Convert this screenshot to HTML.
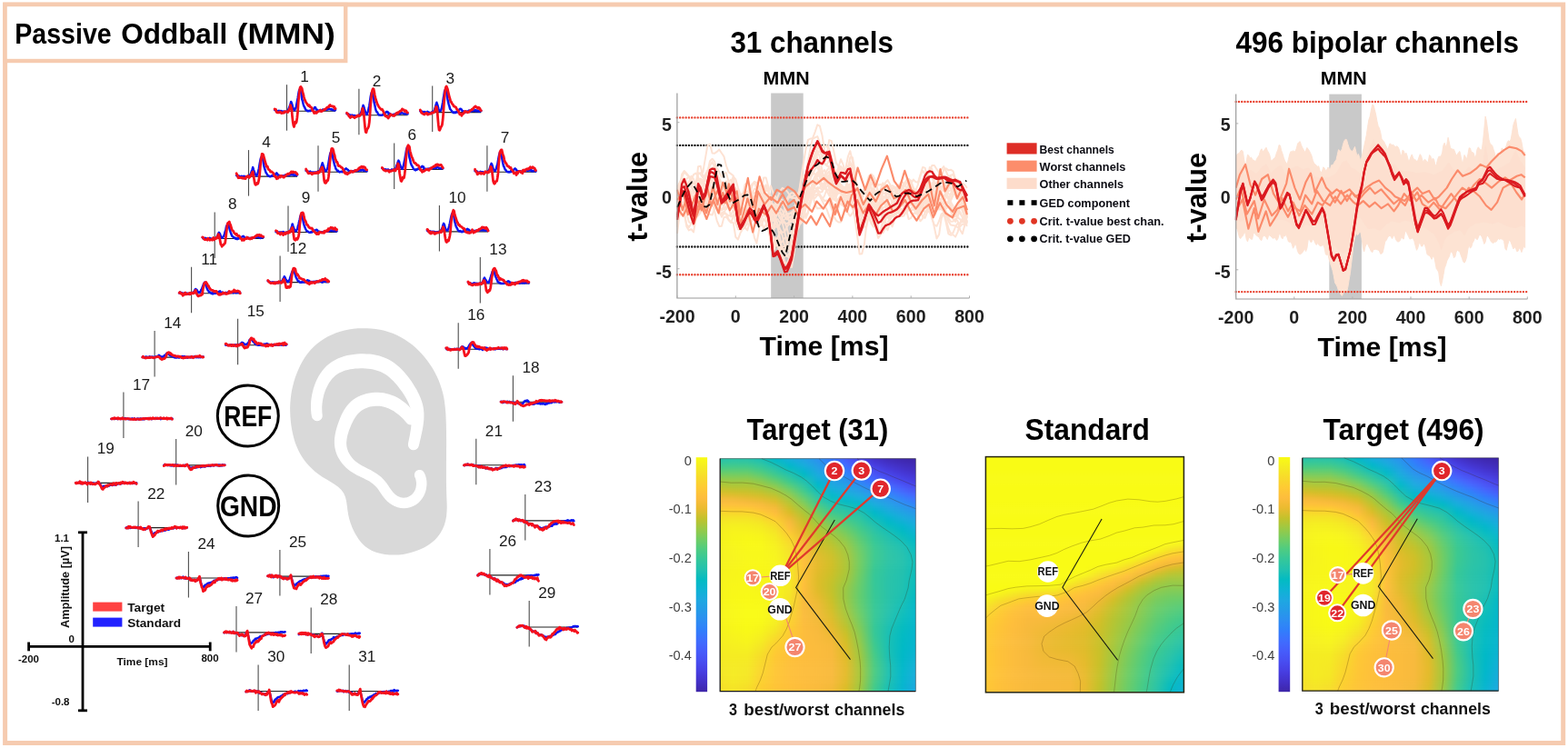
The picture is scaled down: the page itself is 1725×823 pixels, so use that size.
<!DOCTYPE html>
<html lang="en"><head><meta charset="utf-8"><title>Passive Oddball (MMN)</title>
<style>html,body{margin:0;padding:0;background:#fff;overflow:hidden}svg{display:block}</style></head>
<body>
<svg width="1725" height="823" viewBox="0 0 1725 823" font-family='"Liberation Sans", sans-serif'>
<rect x="0" y="0" width="1725" height="823" fill="#fff"/><rect x="5.6" y="5" width="1714.1" height="812.5" fill="none" stroke="#f6cbb0" stroke-width="5"/><rect x="5.6" y="5" width="374.6" height="62" fill="#fff" stroke="#f6cbb0" stroke-width="4.4"/><text y="47.5" font-size="30.6" font-weight="bold" fill="#000"><tspan x="16.3" textLength="106.4" lengthAdjust="spacingAndGlyphs">Passive</tspan> <tspan x="133.2" textLength="117.2" lengthAdjust="spacingAndGlyphs">Oddball</tspan> <tspan x="260.8" textLength="108" lengthAdjust="spacingAndGlyphs">(MMN)</tspan></text>
<path d="M403.4,361.2 L408.3,361.5 L413.2,362 L418,362.8 L422.8,363.8 L427.5,365.2 L432.1,366.8 L436.6,368.7 L440.9,370.9 L445.2,373.4 L449.2,376.2 L453.1,379.1 L456.9,382.3 L460.5,385.7 L463.9,389.2 L467.1,392.9 L470.1,396.7 L472.9,400.7 L475.6,404.8 L478,409 L480.3,413.4 L482.3,417.8 L484.1,422.4 L485.6,427 L487,431.7 L488.1,436.4 L488.9,441.2 L489.5,446.1 L490,450.9 L490.4,455.8 L490.6,460.7 L490.8,465.6 L490.9,470.4 L491,475.3 L491,480.2 L491.1,485.1 L491.1,489.9 L491,494.8 L491,499.6 L491,504.5 L490.9,509.4 L490.9,514.2 L490.9,519.1 L490.9,523.9 L490.9,528.8 L491,533.7 L491.1,538.6 L491.2,543.5 L491.4,548.4 L491.6,553.3 L491.7,558.2 L491.5,563.1 L491.1,567.9 L490.2,572.7 L488.9,577.4 L487,582 L484.7,586.3 L481.8,590.3 L478.5,593.9 L474.9,597.1 L470.8,599.9 L466.5,602.4 L462.1,604.5 L457.5,606.3 L452.8,607.8 L448.1,609 L443.3,609.9 L438.4,610.4 L433.5,610.6 L428.5,610.5 L423.5,610 L418.6,609.1 L413.8,607.8 L409.3,606 L405,603.6 L401.2,600.7 L397.7,597.3 L394.7,593.4 L392,589.3 L389.6,584.9 L387.5,580.5 L385.8,575.9 L384.3,571.3 L383.2,566.5 L382.4,561.6 L381.8,556.6 L381.1,551.7 L380,547 L378.2,542.8 L375.5,539.1 L372.1,535.8 L368.2,532.9 L363.9,530.2 L359.4,527.6 L355,524.9 L350.7,522 L346.7,518.9 L343,515.6 L339.5,512.1 L336.4,508.4 L333.5,504.6 L330.9,500.5 L328.6,496.3 L326.6,491.8 L324.8,487.3 L323.4,482.6 L322.2,477.8 L321.2,473 L320.4,468.2 L319.8,463.3 L319.4,458.4 L319.2,453.6 L319.1,448.7 L319.3,443.8 L319.7,439 L320.3,434.1 L321.1,429.3 L322.2,424.5 L323.4,419.8 L324.9,415.1 L326.6,410.5 L328.5,405.9 L330.6,401.5 L332.9,397.2 L335.5,393 L338.4,389 L341.5,385.3 L344.9,381.7 L348.5,378.5 L352.4,375.5 L356.5,372.7 L360.7,370.3 L365.2,368.2 L369.7,366.3 L374.4,364.7 L379.1,363.5 L383.9,362.5 L388.7,361.8 L393.6,361.3 L398.5,361.2Z" fill="#d9d9d9"/><path d="M354.7,456.4 L354.4,453.7 L354.3,451 L354.2,448.3 L354.4,445.4 L354.7,442.6 L355.1,439.7 L355.7,436.9 L356.4,434.1 L357.3,431.3 L358.3,428.6 L359.5,426 L360.8,423.5 L362.2,421.1 L363.7,418.9 L365.3,416.8 L367.1,415 L368.9,413.3 L370.9,411.8 L372.9,410.5 L375.1,409.4 L377.4,408.4 L379.9,407.6 L382.5,406.9 L385.2,406.3 L387.9,405.9 L390.8,405.6 L393.7,405.4 L396.6,405.3 L399.5,405.3 L402.3,405.4 L405.1,405.7 L407.9,406.1 L410.5,406.5 L413.1,407.2 L415.6,407.9 L417.9,408.8 L420.2,409.8 L422.4,411 L424.6,412.3 L426.7,413.8 L428.7,415.5 L430.8,417.4 L432.8,419.3 L434.7,421.4 L436.6,423.6 L438.5,426 L440.3,428.4 L442.1,430.8 L443.8,433.3 L445.3,435.8 L446.8,438.3 L448.1,440.7 L449.3,443.2 L450.3,445.7 L451.2,448.2 L451.8,450.7 L452.3,453.2 L452.7,455.7 L452.8,458.4 L452.9,461.2 L452.8,464 L452.5,466.9 L452.2,469.9 L451.8,472.9 L451.3,475.9 L450.8,478.9 L450.2,482 L449.6,485.1 L449,488.1 L449,488.1 L449,490.2 L449.6,492.1 L450.9,493.8 L452.7,494.9 L454.7,495.3 L456.8,495 L458.6,494 L460,492.5 L460.8,490.5 L460.8,490.5 L461.5,487.6 L462.2,484.6 L462.9,481.5 L463.6,478.3 L464.3,475.1 L464.9,471.9 L465.5,468.5 L465.9,465.2 L466.3,461.8 L466.4,458.3 L466.4,454.8 L466.1,451.3 L465.6,447.8 L464.8,444.3 L463.8,441 L462.6,437.7 L461.2,434.5 L459.7,431.4 L458.1,428.3 L456.3,425.4 L454.5,422.5 L452.6,419.6 L450.6,416.8 L448.5,414.1 L446.4,411.4 L444.1,408.8 L441.7,406.2 L439.1,403.8 L436.4,401.5 L433.6,399.3 L430.6,397.3 L427.5,395.5 L424.2,394 L420.8,392.7 L417.4,391.6 L413.9,390.7 L410.4,390.1 L406.8,389.6 L403.3,389.4 L399.7,389.3 L396.2,389.3 L392.6,389.5 L389,389.9 L385.5,390.4 L382,391.1 L378.4,392.1 L375,393.2 L371.6,394.6 L368.4,396.2 L365.2,398 L362.2,400.2 L359.4,402.6 L356.8,405.2 L354.5,408 L352.4,411 L350.5,414.1 L348.8,417.3 L347.3,420.5 L346,423.9 L344.9,427.3 L344,430.8 L343.2,434.3 L342.6,437.8 L342.2,441.3 L342,444.8 L342,448.2 L342.1,451.6 L342.4,454.9 L342.9,458 L342.9,458 L343.5,460 L344.8,461.6 L346.5,462.7 L348.6,463.2 L350.6,462.9 L352.5,461.9 L353.9,460.4 L354.7,458.5 L354.7,456.4Z" fill="#fff"/><path d="M457.4,457.4 L456,455 L454.4,452.5 L452.6,450.2 L450.7,447.9 L448.6,445.8 L446.4,443.8 L444,441.9 L441.6,440.2 L439,438.6 L436.4,437.1 L433.7,435.8 L430.8,434.7 L428,433.7 L425,432.9 L422,432.3 L418.9,431.9 L415.8,431.7 L412.7,431.7 L409.5,431.9 L406.4,432.4 L403.3,433 L400.3,433.9 L397.3,435 L394.4,436.3 L391.6,437.8 L388.9,439.6 L386.4,441.6 L384.2,443.8 L382.1,446.1 L380.3,448.5 L378.6,451.1 L377.1,453.7 L375.8,456.3 L374.6,459 L373.5,461.7 L372.5,464.4 L371.6,467.1 L370.7,469.8 L369.9,472.6 L369.2,475.5 L368.6,478.4 L368.2,481.3 L367.9,484.3 L367.9,487.4 L368.1,490.4 L368.6,493.5 L369.3,496.5 L370.3,499.5 L371.6,502.4 L373.1,505.1 L374.8,507.7 L376.7,510.2 L378.7,512.5 L380.9,514.7 L383.2,516.7 L385.6,518.5 L388,520.1 L390.5,521.6 L393,522.9 L395.4,524.1 L397.8,525.2 L400.1,526.3 L402.3,527.4 L404.4,528.5 L406.4,529.6 L408.3,530.9 L410.1,532.2 L411.8,533.7 L413.4,535.2 L414.8,536.8 L416.1,538.5 L417.4,540.4 L418.8,542.5 L420.3,544.8 L422,547.1 L424,549.5 L426.2,551.7 L428.7,553.8 L431.4,555.6 L434.3,557.1 L437.5,558.3 L440.8,559 L444.3,559.2 L447.7,558.9 L451.1,558.2 L454.3,557 L457.3,555.4 L460.1,553.4 L462.5,551 L464.6,548.3 L466.3,545.5 L467.6,542.5 L468.6,539.3 L469.2,536.1 L469.5,532.8 L469.4,529.6 L468.9,526.3 L468,523.1 L466.9,520.4 L466.9,520.4 L465.8,518.7 L464.3,517.5 L462.3,516.9 L460.4,517 L458.5,517.8 L457,519.1 L456.1,520.9 L455.9,522.9 L456.3,524.8 L456.3,524.8 L457.2,526.8 L457.6,528.7 L457.9,530.6 L458,532.6 L457.8,534.6 L457.5,536.5 L456.9,538.4 L456.1,540.2 L455.1,541.8 L454,543.3 L452.7,544.5 L451.2,545.6 L449.5,546.5 L447.8,547.2 L445.9,547.6 L444.2,547.7 L442.4,547.6 L440.7,547.3 L439,546.6 L437.2,545.7 L435.5,544.6 L434,543.3 L432.5,541.8 L431.1,540.1 L429.8,538.2 L428.4,536.2 L427,534 L425.4,531.7 L423.6,529.4 L421.6,527.2 L419.5,525.1 L417.2,523.2 L414.9,521.5 L412.5,519.9 L410,518.4 L407.6,517.1 L405.2,515.9 L402.9,514.7 L400.6,513.6 L398.5,512.5 L396.4,511.3 L394.5,510.1 L392.7,508.8 L391,507.4 L389.3,505.9 L387.8,504.2 L386.4,502.5 L385.2,500.7 L384.1,498.8 L383.1,496.9 L382.4,495 L381.8,493.1 L381.4,491.2 L381.2,489.2 L381.1,487.2 L381.3,485.2 L381.5,483 L381.9,480.9 L382.4,478.6 L383.1,476.4 L383.8,474 L384.7,471.7 L385.6,469.4 L386.6,467.1 L387.6,464.9 L388.7,462.8 L389.8,460.8 L391,458.9 L392.2,457.2 L393.5,455.6 L394.8,454.2 L396.2,452.9 L397.7,451.8 L399.4,450.7 L401.1,449.8 L403,448.9 L404.9,448.2 L407,447.6 L409,447.2 L411.1,446.9 L413.2,446.7 L415.3,446.7 L417.4,446.8 L419.5,447.1 L421.6,447.6 L423.6,448.1 L425.7,448.8 L427.7,449.6 L429.6,450.5 L431.6,451.5 L433.5,452.6 L435.3,453.9 L437.1,455.2 L438.8,456.5 L440.5,458 L442.1,459.5 L443.7,461.1 L445.1,462.8 L446.6,464.6 L446.6,464.6 L448.2,466.3 L450.2,467.2 L452.5,467.5 L454.6,466.9 L456.5,465.7 L457.8,463.9 L458.5,461.7 L458.3,459.4 L457.4,457.4Z" fill="#fff"/>
<g><line x1="315.5" y1="93.2" x2="315.5" y2="143.7" stroke="#4d4d4d" stroke-width="1.1"/><line x1="315.5" y1="122.2" x2="369.1" y2="122.2" stroke="#222" stroke-width="1.1"/><polyline points="302.1,120.8 302.8,121 303.4,121.5 304.1,122 304.8,122.1 305.4,122.5 306.1,122.2 306.8,121.7 307.5,122.4 308.1,122.4 308.8,122 309.5,122.2 310.1,122.4 310.8,122.9 311.5,122.7 312.1,122.5 312.8,123.1 313.5,122.7 314.2,123.1 314.8,122.8 315.5,122.8 316.2,121.8 316.8,121.8 317.5,120 318.2,118.1 318.9,116.2 319.5,114.8 320.2,111.9 320.9,113.6 321.5,115.5 322.2,118.6 322.9,120.3 323.5,121 324.2,121.2 324.9,119.4 325.6,118.6 326.2,115.2 326.9,111.5 327.6,108 328.2,104.1 328.9,100.3 329.6,98.5 330.2,98.4 330.9,100.3 331.6,103.5 332.2,109 332.9,111.2 333.6,114.3 334.3,116.6 334.9,117.6 335.6,119.1 336.3,120.7 336.9,121.1 337.6,121.4 338.3,122.3 338.9,122 339.6,122.2 340.3,122 341,121.6 341.6,122.1 342.3,121.5 343,121.5 343.6,120.7 344.3,120.5 345,119.7 345.6,119 346.3,118 347,118.2 347.7,120 348.3,120.8 349,120.7 349.7,122 350.3,121.8 351,121.7 351.7,121.2 352.4,121.4 353,121.8 353.7,121.6 354.4,121.3 355,120.5 355.7,121 356.4,120.9 357,120.6 357.7,120.7 358.4,120.7 359.1,120.9 359.7,120.4 360.4,120.5 361.1,119.8 361.7,119.9 362.4,120 363.1,119.9 363.7,120.4 364.4,120.1 365.1,120.7 365.8,120.6 366.4,121.3 367.1,120.7 367.8,121.4 368.4,121.5 369.1,120.9" stroke="#0a14f0" stroke-width="2.5" fill="none" stroke-linejoin="round" stroke-linecap="round"/><polyline points="302.1,119.9 302.8,120.5 303.4,120.4 304.1,123.2 304.8,123.8 305.4,123.7 306.1,123.9 306.8,123.9 307.5,123.7 308.1,122.9 308.8,123.4 309.5,124.6 310.1,124.4 310.8,124.1 311.5,124.4 312.1,123.4 312.8,123.9 313.5,122.7 314.2,122.9 314.8,122.8 315.5,123.1 316.2,122.6 316.8,123.4 317.5,122.2 318.2,120.2 318.9,120.1 319.5,115.7 320.2,117.7 320.9,120.4 321.5,127.8 322.2,134 322.9,138 323.5,139.5 324.2,136.7 324.9,134.1 325.6,135.3 326.2,134 326.9,129.4 327.6,122.7 328.2,112.7 328.9,105.6 329.6,99.4 330.2,96.2 330.9,95.4 331.6,96.6 332.2,97.4 332.9,101.2 333.6,103.4 334.3,106.5 334.9,108.9 335.6,110.5 336.3,111.9 336.9,112.9 337.6,114 338.3,114.8 338.9,116.1 339.6,116.5 340.3,115.8 341,117.4 341.6,117.9 342.3,118 343,118.7 343.6,121.6 344.3,121.9 345,123 345.6,124.5 346.3,123.4 347,124.1 347.7,124.4 348.3,124.3 349,123 349.7,123 350.3,122.4 351,122.4 351.7,122 352.4,121.1 353,122.6 353.7,122.6 354.4,122.2 355,121.9 355.7,121.4 356.4,120.5 357,120.7 357.7,120.4 358.4,120 359.1,118.7 359.7,118.4 360.4,117.9 361.1,117.8 361.7,117.8 362.4,116.1 363.1,115.6 363.7,116.6 364.4,116.6 365.1,116.8 365.8,116.9 366.4,116.9 367.1,117.8 367.8,117.5 368.4,119.9 369.1,119.5" stroke="#f5101c" stroke-width="2.8" fill="none" stroke-linejoin="round" stroke-linecap="round"/><text x="335.1" y="90.1" font-size="17.2" text-anchor="middle" fill="#1a1a1a">1</text></g>
<g><line x1="394.9" y1="97.8" x2="394.9" y2="148.3" stroke="#4d4d4d" stroke-width="1.1"/><line x1="394.9" y1="126.8" x2="448.5" y2="126.8" stroke="#222" stroke-width="1.1"/><polyline points="381.5,125.2 382.2,125.3 382.8,125.3 383.5,125.7 384.2,126.9 384.8,127.4 385.5,126.5 386.2,127.2 386.9,126.8 387.5,126.5 388.2,127.4 388.9,127.7 389.5,126.9 390.2,127.1 390.9,127.4 391.5,127.4 392.2,127.6 392.9,127.7 393.6,127.1 394.2,127.3 394.9,127.4 395.6,126.2 396.2,125.9 396.9,124.4 397.6,122.8 398.2,120.5 398.9,118.3 399.6,115.9 400.3,117.5 400.9,119.9 401.6,122.2 402.3,124.4 402.9,124.4 403.6,125.9 404.3,123.9 404.9,122.6 405.6,119.3 406.3,116.2 407,111.6 407.6,107.1 408.3,103.4 409,101.4 409.6,100.9 410.3,102.9 411,107.3 411.6,112.8 412.3,115.6 413,119.1 413.7,121.7 414.3,122.9 415,123.3 415.7,124.8 416.3,126 417,126.5 417.7,126.4 418.3,126.7 419,126.8 419.7,126.8 420.4,126.7 421,126.1 421.7,126 422.4,125.8 423,125.6 423.7,124.4 424.4,124.1 425,122.9 425.7,123.1 426.4,123 427.1,124 427.7,125.5 428.4,124.8 429.1,125.3 429.7,126.4 430.4,125.9 431.1,126.1 431.8,127.1 432.4,126.1 433.1,126 433.8,125.7 434.4,125.9 435.1,125.4 435.8,125.3 436.4,124.8 437.1,125 437.8,125.1 438.4,124.5 439.1,125.1 439.8,124.9 440.5,125.3 441.1,124 441.8,124.1 442.5,124.3 443.1,124.6 443.8,124.9 444.5,125.1 445.1,125.4 445.8,125.4 446.5,125.3 447.2,124.8 447.8,125.1 448.5,125.3" stroke="#0a14f0" stroke-width="2.5" fill="none" stroke-linejoin="round" stroke-linecap="round"/><polyline points="381.5,124.2 382.2,125.4 382.8,125.3 383.5,127.1 384.2,128.1 384.8,128.7 385.5,129.5 386.2,128.6 386.9,127.8 387.5,128.2 388.2,128.5 388.9,128.9 389.5,129.1 390.2,129.7 390.9,128.7 391.5,128.7 392.2,127.6 392.9,128.3 393.6,127.4 394.2,126.7 394.9,127.6 395.6,127.5 396.2,126.8 396.9,126.2 397.6,125.4 398.2,123 398.9,119.2 399.6,121 400.3,125.4 400.9,133.1 401.6,140.2 402.3,145.2 402.9,145.8 403.6,143 404.3,141.5 404.9,140.8 405.6,139 406.3,134.6 407,126.5 407.6,116.2 408.3,108.8 409,102.6 409.6,99.2 410.3,97.6 411,97.8 411.6,100.4 412.3,104.8 413,107.7 413.7,110.3 414.3,111.9 415,114.1 415.7,115.4 416.3,116.6 417,117.9 417.7,118.7 418.3,119.4 419,120.2 419.7,120.6 420.4,120.2 421,121.3 421.7,122.5 422.4,124.8 423,125.1 423.7,127.4 424.4,128.1 425,127.8 425.7,128.2 426.4,128.9 427.1,130.1 427.7,128.8 428.4,128.4 429.1,127 429.7,125.7 430.4,126.3 431.1,126.3 431.8,127.1 432.4,126.9 433.1,127.5 433.8,127.4 434.4,126.1 435.1,126.3 435.8,124.7 436.4,124.4 437.1,124.1 437.8,124.7 438.4,123.5 439.1,123.2 439.8,122.7 440.5,122 441.1,122 441.8,121.6 442.5,119.9 443.1,120.8 443.8,121 444.5,120.9 445.1,122.5 445.8,122.1 446.5,121.7 447.2,122.5 447.8,123.8 448.5,123.9" stroke="#f5101c" stroke-width="2.8" fill="none" stroke-linejoin="round" stroke-linecap="round"/><text x="414.5" y="94.7" font-size="17.2" text-anchor="middle" fill="#1a1a1a">2</text></g>
<g><line x1="475.7" y1="94.6" x2="475.7" y2="145.1" stroke="#4d4d4d" stroke-width="1.1"/><line x1="475.7" y1="123.6" x2="529.3" y2="123.6" stroke="#222" stroke-width="1.1"/><polyline points="462.3,122.1 463,122.9 463.6,123.1 464.3,122.7 465,123.1 465.6,124.3 466.3,123.1 467,123.4 467.7,123.1 468.3,123.7 469,123.7 469.7,124.1 470.3,122.9 471,124 471.7,123.5 472.3,124.4 473,124 473.7,124.5 474.4,124 475,123.4 475.7,124 476.4,122.8 477,122.6 477.7,121.8 478.4,119.5 479.1,117.4 479.7,114.9 480.4,112.8 481.1,114.8 481.7,116.7 482.4,119.6 483.1,121.8 483.7,122 484.4,121.9 485.1,121.6 485.8,119.5 486.4,116.5 487.1,113 487.8,108.2 488.4,104.6 489.1,100.1 489.8,98.9 490.4,97.9 491.1,100.6 491.8,104.7 492.4,108.9 493.1,112.4 493.8,115.1 494.5,117.4 495.1,119.9 495.8,120.6 496.5,121.6 497.1,122.1 497.8,123.3 498.5,123.6 499.1,124.2 499.8,123.4 500.5,124 501.2,124.1 501.8,123.2 502.5,122.6 503.2,123.3 503.8,122.4 504.5,121.6 505.2,121.1 505.8,120 506.5,119.8 507.2,120 507.9,120.6 508.5,122.1 509.2,122.1 509.9,123 510.5,123.4 511.2,123.7 511.9,122.4 512.5,123.1 513.2,122.9 513.9,122.8 514.6,122.5 515.2,122.4 515.9,121.5 516.6,122.5 517.2,122.6 517.9,122.3 518.6,122.4 519.2,121.6 519.9,121.5 520.6,122 521.3,122 521.9,121.5 522.6,120.8 523.3,122.4 523.9,121.4 524.6,122.2 525.3,121.6 526,122.5 526.6,122.2 527.3,122.7 528,122.5 528.6,121.7 529.3,121.9" stroke="#0a14f0" stroke-width="2.5" fill="none" stroke-linejoin="round" stroke-linecap="round"/><polyline points="462.3,120.9 463,122.3 463.6,124.1 464.3,124.4 465,125 465.6,125.3 466.3,125.7 467,126 467.7,125.1 468.3,124.8 469,124.4 469.7,124.5 470.3,126 471,126.1 471.7,125.4 472.3,125.4 473,125.3 473.7,124.7 474.4,125 475,124 475.7,124.2 476.4,123.8 477,123.8 477.7,123.4 478.4,122.2 479.1,120.3 479.7,117.5 480.4,117.7 481.1,122.2 481.7,130.3 482.4,137.9 483.1,143 483.7,143.3 484.4,141.6 485.1,139.7 485.8,138.9 486.4,137.2 487.1,132 487.8,123.8 488.4,114.4 489.1,106.3 489.8,99.6 490.4,96.1 491.1,94.9 491.8,96.5 492.4,98 493.1,101.3 493.8,104.4 494.5,107.3 495.1,108.9 495.8,112 496.5,112.2 497.1,113.6 497.8,114.6 498.5,115.4 499.1,116.8 499.8,117.2 500.5,117.4 501.2,117.9 501.8,118.4 502.5,120.2 503.2,120.5 503.8,121.5 504.5,122.6 505.2,124 505.8,125.9 506.5,124.8 507.2,125.7 507.9,127.3 508.5,125.1 509.2,125.6 509.9,124.9 510.5,124 511.2,122.5 511.9,122.9 512.5,123.1 513.2,122.7 513.9,123.3 514.6,123.7 515.2,123.2 515.9,123.1 516.6,122.5 517.2,121.6 517.9,121.4 518.6,121.2 519.2,120.1 519.9,120.4 520.6,119.4 521.3,118.3 521.9,117.9 522.6,117.1 523.3,117 523.9,117.8 524.6,117.8 525.3,118.9 526,119.4 526.6,118.3 527.3,118.7 528,119.4 528.6,121.3 529.3,121.5" stroke="#f5101c" stroke-width="2.8" fill="none" stroke-linejoin="round" stroke-linecap="round"/><text x="495.3" y="91.5" font-size="17.2" text-anchor="middle" fill="#1a1a1a">3</text></g>
<g><line x1="273.5" y1="165.1" x2="273.5" y2="215.6" stroke="#4d4d4d" stroke-width="1.1"/><line x1="273.5" y1="194.1" x2="327.1" y2="194.1" stroke="#222" stroke-width="1.1"/><polyline points="260.1,193.1 260.8,193.4 261.4,194.1 262.1,193.7 262.8,193.5 263.4,194 264.1,194.3 264.8,194.1 265.5,193.8 266.1,195.1 266.8,194.1 267.5,194 268.1,194.1 268.8,193.8 269.5,194.1 270.1,194.5 270.8,194.4 271.5,194.1 272.2,194.5 272.8,194.2 273.5,193.8 274.2,193 274.8,193.4 275.5,192.2 276.2,190.3 276.9,188.1 277.5,186.6 278.2,184.1 278.9,186.6 279.5,188.1 280.2,190.4 280.9,191.9 281.5,192.3 282.2,193.4 282.9,192.2 283.6,190.4 284.2,188 284.9,185.2 285.6,180.7 286.2,177.4 286.9,174.1 287.6,172.8 288.2,171.7 288.9,174.3 289.6,177.2 290.2,181.9 290.9,184.7 291.6,186.9 292.3,189 292.9,190.4 293.6,191.4 294.3,192.7 294.9,193.1 295.6,193.7 296.3,193.8 296.9,194.3 297.6,194.3 298.3,193.7 299,193.2 299.6,193.1 300.3,193.5 301,193.3 301.6,192.2 302.3,192.2 303,191.9 303.6,191.1 304.3,190.4 305,191.1 305.7,192.3 306.3,193.1 307,192.7 307.7,193.5 308.3,193.6 309,193.5 309.7,193.4 310.4,193.7 311,193.4 311.7,193.7 312.4,193.4 313,193.4 313.7,192.5 314.4,192.8 315,193 315.7,192.8 316.4,192.7 317.1,192.4 317.7,193.1 318.4,192.8 319.1,192.4 319.7,191.3 320.4,191.8 321.1,192.3 321.7,192.2 322.4,191.8 323.1,192.8 323.8,193 324.4,192.4 325.1,192.7 325.8,192.6 326.4,193 327.1,192.2" stroke="#0a14f0" stroke-width="2.5" fill="none" stroke-linejoin="round" stroke-linecap="round"/><polyline points="260.1,190.7 260.8,192.3 261.4,193.2 262.1,195.7 262.8,194.9 263.4,195.7 264.1,195.6 264.8,195.2 265.5,195.5 266.1,196 266.8,195.2 267.5,196.2 268.1,196.3 268.8,196.2 269.5,195.8 270.1,196.6 270.8,194.5 271.5,194.9 272.2,194.2 272.8,193.6 273.5,194.6 274.2,195.4 274.8,194.7 275.5,194.2 276.2,192.7 276.9,191.1 277.5,189.7 278.2,188.9 278.9,193.7 279.5,196.8 280.2,201 280.9,203.1 281.5,203.3 282.2,202.9 282.9,201.5 283.6,202.3 284.2,200.6 284.9,197 285.6,193 286.2,185.3 286.9,178.4 287.6,173.7 288.2,169.3 288.9,169.4 289.6,170.2 290.2,172.3 290.9,174.9 291.6,177.8 292.3,179.9 292.9,182.2 293.6,183.5 294.3,183.2 294.9,185.7 295.6,186.6 296.3,186.9 296.9,187.5 297.6,189.1 298.3,189.2 299,188.9 299.6,189.6 300.3,190.4 301,190.8 301.6,193.2 302.3,193.6 303,194.8 303.6,194.5 304.3,196.7 305,196.2 305.7,196.4 306.3,195.2 307,194.8 307.7,193.8 308.3,195 309,193.4 309.7,193.5 310.4,194.1 311,193.9 311.7,195.1 312.4,195.2 313,193.8 313.7,193.9 314.4,193.2 315,192.4 315.7,192.2 316.4,191.2 317.1,191.6 317.7,191.8 318.4,190.8 319.1,190.4 319.7,190.1 320.4,188.8 321.1,189 321.7,190 322.4,188.9 323.1,189.7 323.8,189.5 324.4,189.7 325.1,189.5 325.8,190.6 326.4,190.7 327.1,191.9" stroke="#f5101c" stroke-width="2.8" fill="none" stroke-linejoin="round" stroke-linecap="round"/><text x="293.1" y="162" font-size="17.2" text-anchor="middle" fill="#1a1a1a">4</text></g>
<g><line x1="350" y1="160.2" x2="350" y2="210.7" stroke="#4d4d4d" stroke-width="1.1"/><line x1="350" y1="189.2" x2="403.6" y2="189.2" stroke="#222" stroke-width="1.1"/><polyline points="336.6,187.8 337.3,188 337.9,188.9 338.6,188.7 339.3,189 339.9,189.1 340.6,189.7 341.3,188.6 342,189.2 342.6,189.6 343.3,189.8 344,189.4 344.6,189.4 345.3,189.8 346,189.6 346.6,189.9 347.3,189.4 348,189.8 348.7,189.4 349.3,189 350,188.3 350.7,189.1 351.3,188.5 352,187.5 352.7,185.1 353.4,183.9 354,181.6 354.7,179.3 355.4,181.4 356,183.2 356.7,185.4 357.4,188 358,188.2 358.7,188.1 359.4,186.9 360.1,185.6 360.7,183.2 361.4,179.5 362.1,175.3 362.7,171.8 363.4,168.6 364.1,167.2 364.7,166 365.4,168.7 366.1,172.4 366.8,176.5 367.4,178.6 368.1,181.7 368.8,183.3 369.4,185.7 370.1,186.2 370.8,187.6 371.4,188.2 372.1,187.8 372.8,188.9 373.4,189.4 374.1,189.2 374.8,189.1 375.5,188.7 376.1,189 376.8,189.3 377.5,188.5 378.1,187.8 378.8,187.2 379.5,186.1 380.1,186 380.8,185.3 381.5,186.2 382.2,186.4 382.8,186.9 383.5,187.7 384.2,188.2 384.8,188.6 385.5,188.1 386.2,189 386.9,188.7 387.5,188.5 388.2,188.2 388.9,188.4 389.5,188 390.2,188 390.9,187.8 391.5,187.8 392.2,188.1 392.9,187.7 393.6,187.3 394.2,187.9 394.9,187.5 395.6,187.1 396.2,187.6 396.9,187.1 397.6,187.6 398.2,187 398.9,186.8 399.6,187 400.2,188 400.9,187.6 401.6,187.9 402.3,187.9 402.9,187.4 403.6,188.4" stroke="#0a14f0" stroke-width="2.5" fill="none" stroke-linejoin="round" stroke-linecap="round"/><polyline points="336.6,186 337.3,187.7 337.9,187.9 338.6,189.6 339.3,190.8 339.9,190.6 340.6,190.6 341.3,190.7 342,190.2 342.6,190.5 343.3,191.8 344,190.4 344.6,190.9 345.3,190.9 346,190.7 346.6,189.9 347.3,190.6 348,190.5 348.7,190.1 349.3,189.2 350,190.5 350.7,188.9 351.3,189.7 352,189.2 352.7,186.8 353.4,186.1 354,184.2 354.7,184.2 355.4,187.4 356,192.4 356.7,198.8 357.4,201.1 358,201.4 358.7,201.1 359.4,198.7 360.1,199.2 360.7,198.4 361.4,194.9 362.1,189.2 362.7,180.8 363.4,173.6 364.1,167.8 364.7,163.6 365.4,163.4 366.1,163.8 366.8,165.7 367.4,169 368.1,170.7 368.8,174.9 369.4,175.8 370.1,178.1 370.8,178.2 371.4,179.5 372.1,182.3 372.8,182.6 373.4,182.4 374.1,182.9 374.8,183.6 375.5,184.4 376.1,184.4 376.8,185 377.5,186.7 378.1,187.3 378.8,190 379.5,189.3 380.1,191.1 380.8,190.2 381.5,191.1 382.2,191.8 382.8,190.6 383.5,190.7 384.2,190.2 384.8,190.1 385.5,188.9 386.2,188.1 386.9,188.3 387.5,189.4 388.2,189.1 388.9,189.2 389.5,188.7 390.2,187.8 390.9,187.3 391.5,187.8 392.2,187.5 392.9,187.2 393.6,186.5 394.2,186.4 394.9,184.8 395.6,185 396.2,184.1 396.9,184.4 397.6,183.3 398.2,183.6 398.9,184.4 399.6,183.4 400.2,184.4 400.9,183.7 401.6,184.3 402.3,185.9 402.9,186.6 403.6,186.9" stroke="#f5101c" stroke-width="2.8" fill="none" stroke-linejoin="round" stroke-linecap="round"/><text x="369.6" y="157.1" font-size="17.2" text-anchor="middle" fill="#1a1a1a">5</text></g>
<g><line x1="433.7" y1="157.5" x2="433.7" y2="208" stroke="#4d4d4d" stroke-width="1.1"/><line x1="433.7" y1="186.5" x2="487.3" y2="186.5" stroke="#222" stroke-width="1.1"/><polyline points="420.3,185.1 421,185.4 421.6,185.8 422.3,186.6 423,186.3 423.6,187.3 424.3,186.4 425,186.8 425.7,186.8 426.3,186.6 427,186.4 427.7,187.1 428.3,187.3 429,187.2 429.7,187.6 430.3,187.4 431,186.4 431.7,187.2 432.4,186.5 433,187.1 433.7,186.4 434.4,186.2 435,185.7 435.7,184.2 436.4,181.9 437.1,180.5 437.7,178.4 438.4,176.6 439.1,177.8 439.7,180.1 440.4,182.1 441.1,184.5 441.7,184.4 442.4,185.9 443.1,184.2 443.8,182.4 444.4,179.8 445.1,176.6 445.8,172.5 446.4,169.2 447.1,165 447.8,162.4 448.4,162.3 449.1,165.4 449.8,168.9 450.4,173.1 451.1,175.6 451.8,179.1 452.5,181 453.1,182.4 453.8,183.4 454.5,184.8 455.1,185.8 455.8,186.5 456.5,186.7 457.1,187.3 457.8,186.2 458.5,186.7 459.2,186.2 459.8,185.5 460.5,185.5 461.2,186.1 461.8,184.8 462.5,184 463.2,184.1 463.8,183.6 464.5,182.8 465.2,183.5 465.9,183.4 466.5,185.7 467.2,185.6 467.9,185.7 468.5,186 469.2,185.9 469.9,185.9 470.6,186 471.2,185.6 471.9,186.5 472.6,185.6 473.2,185.6 473.9,185.1 474.6,185 475.2,185.4 475.9,185.2 476.6,184.7 477.2,184.8 477.9,185 478.6,184 479.3,183.7 479.9,185 480.6,184.2 481.3,183.6 481.9,184.4 482.6,184.7 483.3,185.1 483.9,185.3 484.6,185.2 485.3,185.3 486,184.9 486.6,185.3 487.3,185.3" stroke="#0a14f0" stroke-width="2.5" fill="none" stroke-linejoin="round" stroke-linecap="round"/><polyline points="420.3,184.5 421,184.9 421.6,186.5 422.3,187.1 423,187.2 423.6,187.9 424.3,188.1 425,187.9 425.7,187.8 426.3,187.7 427,188.1 427.7,187.9 428.3,189.3 429,187.7 429.7,188.1 430.3,188.3 431,187.9 431.7,187.9 432.4,187.2 433,187.6 433.7,186.4 434.4,187.3 435,187.9 435.7,186.3 436.4,185.8 437.1,183.3 437.7,180 438.4,180.7 439.1,185.9 439.7,191 440.4,195.2 441.1,198.9 441.7,199.5 442.4,198 443.1,195.3 443.8,196.2 444.4,195.7 445.1,191.9 445.8,186.2 446.4,178.1 447.1,170.5 447.8,164 448.4,161.1 449.1,159.8 449.8,160.6 450.4,161.5 451.1,166.3 451.8,168.7 452.5,171.2 453.1,172.8 453.8,174.2 454.5,176.4 455.1,177.8 455.8,179.1 456.5,179.6 457.1,179.5 457.8,180.4 458.5,181.7 459.2,181.6 459.8,181.7 460.5,182.3 461.2,184.2 461.8,185.3 462.5,187.1 463.2,187.6 463.8,187 464.5,189.3 465.2,188.6 465.9,188.5 466.5,188.3 467.2,188 467.9,187.1 468.5,186.6 469.2,186.2 469.9,186.7 470.6,186.2 471.2,187.1 471.9,187.3 472.6,186.4 473.2,185.6 473.9,184.9 474.6,185.4 475.2,184.4 475.9,184 476.6,183.7 477.2,183 477.9,183.2 478.6,182.6 479.3,181.5 479.9,182.2 480.6,180.9 481.3,180.9 481.9,181.1 482.6,182.2 483.3,182.1 483.9,181.7 484.6,181.3 485.3,181.4 486,182.8 486.6,183.6 487.3,184.8" stroke="#f5101c" stroke-width="2.8" fill="none" stroke-linejoin="round" stroke-linecap="round"/><text x="453.3" y="154.4" font-size="17.2" text-anchor="middle" fill="#1a1a1a">6</text></g>
<g><line x1="535.9" y1="160.3" x2="535.9" y2="210.8" stroke="#4d4d4d" stroke-width="1.1"/><line x1="535.9" y1="189.3" x2="589.5" y2="189.3" stroke="#222" stroke-width="1.1"/><polyline points="522.5,187.9 523.2,188.4 523.8,188.3 524.5,188.2 525.2,189.1 525.9,189.8 526.5,189.6 527.2,189.8 527.9,189.7 528.5,188.8 529.2,189.2 529.9,189.9 530.5,189.3 531.2,189.2 531.9,189.8 532.5,190 533.2,189.8 533.9,189.5 534.6,189.3 535.2,189 535.9,188.9 536.6,188.5 537.2,188 537.9,187.2 538.6,186.1 539.2,183.8 539.9,181.7 540.6,179.9 541.3,181.1 541.9,183.4 542.6,185.8 543.3,186.9 543.9,187.7 544.6,188 545.3,186.8 545.9,185.4 546.6,182.8 547.3,180.7 548,176.5 548.6,173 549.3,169.8 550,167.7 550.6,166.8 551.3,169.6 552,173.1 552.6,176.1 553.3,179.7 554,182.6 554.7,183.9 555.3,185.7 556,186.9 556.7,187.3 557.3,188.5 558,189.1 558.7,189.2 559.4,189 560,189.5 560.7,189.2 561.4,189.2 562,188 562.7,189 563.4,188.1 564,188 564.7,187.4 565.4,186.5 566,186 566.7,185.4 567.4,185.9 568.1,187.1 568.7,188 569.4,188 570.1,188.3 570.7,188.3 571.4,188.7 572.1,188.4 572.8,188.3 573.4,188.7 574.1,189.1 574.8,188.8 575.4,188.7 576.1,187.5 576.8,188.3 577.4,187.5 578.1,187.7 578.8,187.2 579.4,187.4 580.1,187.7 580.8,187.7 581.5,187.5 582.1,187.3 582.8,187.5 583.5,187.5 584.1,187 584.8,188.3 585.5,187.8 586.1,188.4 586.8,188 587.5,187.8 588.2,188.1 588.8,187.8 589.5,188.6" stroke="#0a14f0" stroke-width="2.5" fill="none" stroke-linejoin="round" stroke-linecap="round"/><polyline points="522.5,186.2 523.2,188.1 523.8,188.5 524.5,189.7 525.2,191.9 525.9,191.2 526.5,190.9 527.2,189.9 527.9,190.4 528.5,190.2 529.2,191.4 529.9,190.2 530.5,190.3 531.2,191 531.9,190.9 532.5,191.4 533.2,189.9 533.9,188.7 534.6,189.7 535.2,189.2 535.9,189.5 536.6,190.1 537.2,188.7 537.9,189.4 538.6,187.8 539.2,186.1 539.9,183.3 540.6,184.1 541.3,187.8 541.9,193.6 542.6,199.3 543.3,201.4 543.9,202.2 544.6,201.6 545.3,199.7 545.9,199.6 546.6,199.2 547.3,195.5 548,190.2 548.6,181.1 549.3,173.7 550,167.4 550.6,166.1 551.3,165 552,164.9 552.6,167.5 553.3,170.4 554,171.8 554.7,175.3 555.3,177.5 556,179.2 556.7,179.5 557.3,180.7 558,182.4 558.7,183 559.4,182.8 560,183.4 560.7,184.7 561.4,184.3 562,184.6 562.7,186.6 563.4,187 564,187.8 564.7,189.2 565.4,190.9 566,190.7 566.7,190.4 567.4,190.2 568.1,192.5 568.7,189.4 569.4,190.9 570.1,189.3 570.7,188.7 571.4,188.4 572.1,188.5 572.8,189.6 573.4,189 574.1,190.2 574.8,190.7 575.4,187.2 576.1,187.9 576.8,187.1 577.4,188.3 578.1,186.7 578.8,186.4 579.4,185.9 580.1,186.2 580.8,186.3 581.5,185.1 582.1,185.8 582.8,185.2 583.5,183.7 584.1,184.7 584.8,184.6 585.5,184.9 586.1,183.8 586.8,184.3 587.5,185.1 588.2,185.1 588.8,187 589.5,187.5" stroke="#f5101c" stroke-width="2.8" fill="none" stroke-linejoin="round" stroke-linecap="round"/><text x="555.5" y="157.2" font-size="17.2" text-anchor="middle" fill="#1a1a1a">7</text></g>
<g><line x1="236.2" y1="233.5" x2="236.2" y2="284" stroke="#4d4d4d" stroke-width="1.1"/><line x1="236.2" y1="262.5" x2="289.8" y2="262.5" stroke="#222" stroke-width="1.1"/><polyline points="222.8,261.3 223.5,262.2 224.1,262 224.8,262.6 225.5,262.3 226.1,261.9 226.8,262.8 227.5,262.4 228.2,262.8 228.8,262.9 229.5,262.9 230.2,262.1 230.8,261.8 231.5,262.6 232.2,263 232.8,262.6 233.5,262.9 234.2,262.4 234.9,262.5 235.5,262.5 236.2,262.3 236.9,262.4 237.5,262 238.2,261.7 238.9,259.9 239.5,258.9 240.2,257 240.9,255.8 241.6,256.7 242.2,257.9 242.9,260.2 243.6,261.4 244.2,261.8 244.9,261.4 245.6,260.3 246.2,259.6 246.9,257.9 247.6,255 248.3,253.4 248.9,249.8 249.6,248.1 250.3,247.6 250.9,245.2 251.6,247.2 252.3,250.6 252.9,253.2 253.6,255.4 254.3,257.2 255,259.1 255.6,260.1 256.3,260.4 257,261.2 257.6,261.3 258.3,262.1 259,261.7 259.6,262.8 260.3,262.4 261,263.2 261.7,262.9 262.3,261.8 263,262.4 263.7,261.8 264.3,261.5 265,261.4 265.7,260.8 266.3,260.5 267,260.1 267.7,259.8 268.4,260.5 269,261.6 269.7,262 270.4,261.8 271,262.2 271.7,261.8 272.4,261.2 273.1,261.8 273.7,262.1 274.4,262.1 275.1,262.2 275.7,262 276.4,261.9 277.1,261.7 277.7,261.7 278.4,261.2 279.1,261.6 279.8,261.5 280.4,261.7 281.1,260.7 281.8,261 282.4,260.5 283.1,260.7 283.8,260.6 284.4,261.3 285.1,261.1 285.8,260.5 286.4,262 287.1,261.2 287.8,261 288.5,261.4 289.1,261.3 289.8,261.1" stroke="#0a14f0" stroke-width="2.5" fill="none" stroke-linejoin="round" stroke-linecap="round"/><polyline points="222.8,261 223.5,261.2 224.1,262.6 224.8,263.3 225.5,263.7 226.1,263.7 226.8,263.7 227.5,263.4 228.2,264.2 228.8,262.1 229.5,262.8 230.2,263.3 230.8,264.2 231.5,263.8 232.2,263.3 232.8,263.2 233.5,264.2 234.2,262.8 234.9,261.4 235.5,264 236.2,262.3 236.9,262.5 237.5,262.6 238.2,261.3 238.9,262 239.5,260.2 240.2,257.6 240.9,258.9 241.6,261.8 242.2,265 242.9,268.9 243.6,269.7 244.2,271.3 244.9,269.7 245.6,269.6 246.2,268.7 246.9,268.4 247.6,267.5 248.3,262.5 248.9,257.1 249.6,251.4 250.3,246.2 250.9,245.4 251.6,244.8 252.3,244 252.9,246.2 253.6,247.5 254.3,250 255,252.5 255.6,253.3 256.3,253.8 257,254.9 257.6,256.2 258.3,256.8 259,257.5 259.6,258.2 260.3,257.3 261,258.8 261.7,259.7 262.3,259.5 263,259.4 263.7,260.3 264.3,261.7 265,262.6 265.7,262.8 266.3,264.4 267,264.3 267.7,263.3 268.4,264.3 269,263.4 269.7,262.6 270.4,262.5 271,262.6 271.7,261 272.4,261.6 273.1,262.5 273.7,262.1 274.4,262.6 275.1,263 275.7,262.1 276.4,261.9 277.1,262.7 277.7,261.5 278.4,261.4 279.1,261.3 279.8,261.5 280.4,260.4 281.1,259.8 281.8,259.3 282.4,259.7 283.1,258.4 283.8,259.1 284.4,258.8 285.1,258.2 285.8,259.6 286.4,259.5 287.1,258.7 287.8,259.6 288.5,260.1 289.1,260.3 289.8,260.4" stroke="#f5101c" stroke-width="2.8" fill="none" stroke-linejoin="round" stroke-linecap="round"/><text x="255.8" y="230.4" font-size="17.2" text-anchor="middle" fill="#1a1a1a">8</text></g>
<g><line x1="317" y1="226.5" x2="317" y2="277" stroke="#4d4d4d" stroke-width="1.1"/><line x1="317" y1="255.5" x2="370.6" y2="255.5" stroke="#222" stroke-width="1.1"/><polyline points="303.6,255.2 304.3,254.9 304.9,255.2 305.6,255.5 306.3,255.6 306.9,255.8 307.6,255.4 308.3,255.8 309,255.5 309.6,255.4 310.3,255.8 311,255.5 311.6,255.1 312.3,255.6 313,256.1 313.6,256 314.3,256.2 315,255.7 315.7,255.4 316.3,255.9 317,255.6 317.7,254.7 318.3,255 319,253.8 319.7,252.6 320.4,251 321,249.1 321.7,246.4 322.4,248.7 323,250.4 323.7,252.4 324.4,253.9 325,254 325.7,254.4 326.4,252.8 327.1,252.3 327.7,249.4 328.4,247.1 329.1,243.8 329.7,241.5 330.4,238.1 331.1,236.6 331.7,236.2 332.4,238.8 333.1,240.6 333.8,244.6 334.4,247.1 335.1,249.3 335.8,250.9 336.4,252.3 337.1,253.7 337.8,254.3 338.4,254.5 339.1,255 339.8,255.6 340.4,255.7 341.1,255.8 341.8,255.5 342.5,255 343.1,255.6 343.8,254.5 344.5,254.5 345.1,254.5 345.8,253.5 346.5,253.8 347.1,253.5 347.8,252.9 348.5,252.7 349.2,253.5 349.8,254.4 350.5,254.4 351.2,255.5 351.8,254.9 352.5,255.6 353.2,255.3 353.9,255.2 354.5,255.5 355.2,255.4 355.9,255.1 356.5,254.6 357.2,254.2 357.9,254.2 358.5,254.7 359.2,254.5 359.9,254.5 360.6,254 361.2,254.8 361.9,253.6 362.6,254.1 363.2,254.1 363.9,253.6 364.6,253.5 365.2,253.9 365.9,253.8 366.6,254.2 367.2,254 367.9,254 368.6,254.4 369.3,253.9 369.9,254.3 370.6,254.4" stroke="#0a14f0" stroke-width="2.5" fill="none" stroke-linejoin="round" stroke-linecap="round"/><polyline points="303.6,253.8 304.3,254.3 304.9,254.6 305.6,256.7 306.3,256.2 306.9,256.6 307.6,256.9 308.3,258 309,256.7 309.6,256 310.3,257.1 311,256.9 311.6,258.6 312.3,256.7 313,257.2 313.6,256.1 314.3,257.5 315,255.9 315.7,256.3 316.3,255.6 317,256.4 317.7,256.1 318.3,254.4 319,255.5 319.7,254.5 320.4,253 321,251.2 321.7,250.4 322.4,253.5 323,258.8 323.7,263.4 324.4,263.9 325,264.3 325.7,263.7 326.4,262.1 327.1,263.4 327.7,262.2 328.4,260.3 329.1,256.3 329.7,247.9 330.4,242.4 331.1,236 331.7,234.3 332.4,234.1 333.1,234 333.8,235.2 334.4,238.4 335.1,241.6 335.8,242.8 336.4,243.8 337.1,246.2 337.8,247.5 338.4,247.5 339.1,248.7 339.8,250.1 340.4,250.3 341.1,251 341.8,250.9 342.5,251.3 343.1,251 343.8,251.9 344.5,254.2 345.1,254.2 345.8,254.6 346.5,255.6 347.1,256 347.8,257.1 348.5,257.6 349.2,256.7 349.8,257.4 350.5,257.6 351.2,255.4 351.8,256 352.5,255.4 353.2,255.6 353.9,255.9 354.5,256.2 355.2,256.1 355.9,255.3 356.5,256.3 357.2,254.2 357.9,255.1 358.5,254.8 359.2,253.6 359.9,253.8 360.6,254.1 361.2,251.7 361.9,252.7 362.6,251.6 363.2,251.3 363.9,250.3 364.6,250.9 365.2,250.4 365.9,251.7 366.6,250.9 367.2,252 367.9,251.9 368.6,250.7 369.3,252.2 369.9,253 370.6,252.5" stroke="#f5101c" stroke-width="2.8" fill="none" stroke-linejoin="round" stroke-linecap="round"/><text x="336.6" y="223.4" font-size="17.2" text-anchor="middle" fill="#1a1a1a">9</text></g>
<g><line x1="483.4" y1="225.9" x2="483.4" y2="276.4" stroke="#4d4d4d" stroke-width="1.1"/><line x1="483.4" y1="254.9" x2="537" y2="254.9" stroke="#222" stroke-width="1.1"/><polyline points="470,253.6 470.7,254.3 471.3,254 472,254.9 472.7,254.3 473.3,254.5 474,255.1 474.7,255.1 475.4,254.8 476,254.9 476.7,255.2 477.4,254.8 478,255.8 478.7,255.3 479.4,255.4 480,255.5 480.7,255.2 481.4,255.6 482.1,254.9 482.7,255.1 483.4,255.1 484.1,255 484.7,254.6 485.4,253 486.1,251.8 486.8,249.8 487.4,247.6 488.1,245.8 488.8,247.1 489.4,249.4 490.1,251.8 490.8,252.8 491.4,253.5 492.1,253.4 492.8,252.9 493.4,251.2 494.1,248.8 494.8,246 495.5,242.7 496.1,239.6 496.8,236.6 497.5,235 498.1,234.3 498.8,236.8 499.5,239.1 500.1,243.4 500.8,245.6 501.5,248.4 502.2,250.1 502.8,251 503.5,252.6 504.2,253.8 504.8,254.2 505.5,254.6 506.2,254.1 506.8,254.8 507.5,254.6 508.2,255.3 508.9,254.7 509.5,254.4 510.2,253.8 510.9,254.5 511.5,253.5 512.2,253 512.9,253 513.5,252.1 514.2,251.8 514.9,252.7 515.6,252.5 516.2,253.3 516.9,254 517.6,254.6 518.2,253.9 518.9,254.3 519.6,254.1 520.2,253.9 520.9,254.6 521.6,254 522.3,254.2 522.9,253.9 523.6,253.8 524.3,253.7 524.9,253.3 525.6,253.6 526.3,253.6 526.9,253.6 527.6,253.3 528.3,253.6 529,253.4 529.6,253.2 530.3,253.3 531,253.2 531.6,253.5 532.3,252.8 533,253.1 533.6,253.6 534.3,253.8 535,253 535.7,253.6 536.3,253.8 537,253.6" stroke="#0a14f0" stroke-width="2.5" fill="none" stroke-linejoin="round" stroke-linecap="round"/><polyline points="470,252.4 470.7,252.7 471.3,254.5 472,254.2 472.7,256.4 473.3,255.9 474,257.1 474.7,255.3 475.4,256.2 476,255.9 476.7,255.6 477.4,255.7 478,257.4 478.7,256.7 479.4,257 480,256 480.7,256 481.4,255.9 482.1,256 482.7,255.7 483.4,255.8 484.1,254.9 484.7,254.2 485.4,255.5 486.1,253.5 486.8,252.4 487.4,249.6 488.1,250.8 488.8,253.8 489.4,259.1 490.1,263.1 490.8,266 491.4,266.6 492.1,265.4 492.8,264 493.4,265 494.1,262.8 494.8,259.7 495.5,255 496.1,246.9 496.8,240.1 497.5,236.4 498.1,233.2 498.8,231.3 499.5,232.1 500.1,235.1 500.8,238 501.5,240 502.2,242.1 502.8,244.3 503.5,244.9 504.2,246.8 504.8,247.8 505.5,247.4 506.2,248.9 506.8,249.2 507.5,249.4 508.2,249.9 508.9,250.8 509.5,250.8 510.2,252 510.9,251.7 511.5,253.4 512.2,255.1 512.9,255.3 513.5,255.7 514.2,256 514.9,255.5 515.6,256 516.2,256.6 516.9,255.9 517.6,256.1 518.2,254.8 518.9,254.5 519.6,252.7 520.2,254.5 520.9,256.1 521.6,255.7 522.3,254.8 522.9,255.1 523.6,254.5 524.3,254 524.9,253.3 525.6,253.4 526.3,253.5 526.9,252.1 527.6,252.3 528.3,251.8 529,251.7 529.6,251 530.3,249.9 531,250.7 531.6,250.2 532.3,250.1 533,251 533.6,250.7 534.3,251.5 535,250.3 535.7,251.1 536.3,252.2 537,254" stroke="#f5101c" stroke-width="2.8" fill="none" stroke-linejoin="round" stroke-linecap="round"/><text x="503" y="222.8" font-size="17.2" text-anchor="middle" fill="#1a1a1a">10</text></g>
<g><line x1="210.6" y1="293.7" x2="210.6" y2="344.2" stroke="#4d4d4d" stroke-width="1.1"/><line x1="210.6" y1="322.7" x2="264.2" y2="322.7" stroke="#222" stroke-width="1.1"/><polyline points="197.2,322.4 197.9,321.8 198.5,321.7 199.2,322.3 199.9,322.1 200.5,322.9 201.2,322.8 201.9,322.7 202.6,322.6 203.2,323.2 203.9,322.4 204.6,322.3 205.2,323.2 205.9,323.3 206.6,322.8 207.2,323.2 207.9,323.7 208.6,322.6 209.3,322.7 209.9,322.9 210.6,322 211.3,322.4 211.9,322.5 212.6,321.7 213.3,321.1 213.9,320.1 214.6,318.7 215.3,318 216,318.8 216.6,319 217.3,320.4 218,321.4 218.6,321.8 219.3,321.9 220,321 220.7,320.9 221.3,318.8 222,318.1 222.7,316 223.3,314.6 224,312.5 224.7,311.3 225.3,310.7 226,312.6 226.7,314.1 227.3,316.3 228,317.9 228.7,319.4 229.4,319.9 230,321.5 230.7,321.3 231.4,321.8 232,322.4 232.7,322.8 233.4,323.2 234.1,322 234.7,323.2 235.4,322.2 236.1,322.4 236.7,322.7 237.4,322.8 238.1,321.9 238.7,321.4 239.4,322 240.1,321.5 240.8,320.8 241.4,320.8 242.1,320.3 242.8,321.7 243.4,321.7 244.1,322.5 244.8,321.5 245.4,322.7 246.1,323.2 246.8,322.5 247.4,322.5 248.1,321.8 248.8,322.5 249.5,322.2 250.1,321.9 250.8,321.5 251.5,322 252.1,321.6 252.8,321.8 253.5,322 254.2,321.9 254.8,321.9 255.5,322.1 256.2,321.3 256.8,322.2 257.5,321.3 258.2,321.4 258.8,321.8 259.5,322.2 260.2,322.1 260.9,321.9 261.5,321.8 262.2,321.9 262.9,321.7 263.5,322.2 264.2,322" stroke="#0a14f0" stroke-width="2.5" fill="none" stroke-linejoin="round" stroke-linecap="round"/><polyline points="197.2,322.3 197.9,321.5 198.5,322.4 199.2,323.2 199.9,322.7 200.5,323.1 201.2,325.2 201.9,323.5 202.6,324.2 203.2,322.6 203.9,322 204.6,323.9 205.2,323.7 205.9,323.7 206.6,323.3 207.2,323 207.9,322.6 208.6,323.7 209.3,322.2 209.9,323.5 210.6,322.8 211.3,322.2 211.9,322.4 212.6,322.9 213.3,322.2 213.9,321.4 214.6,319.9 215.3,319.5 216,322.8 216.6,323.5 217.3,324.9 218,325.8 218.6,325.9 219.3,325.1 220,325.1 220.7,325 221.3,324.9 222,323.2 222.7,323.7 223.3,317.8 224,314.9 224.7,312 225.3,310.8 226,310.9 226.7,310.5 227.3,311.7 228,312.5 228.7,314.9 229.4,314.5 230,316.1 230.7,317.2 231.4,318.1 232,318.7 232.7,319.3 233.4,319.4 234.1,319.5 234.7,319.9 235.4,320.9 236.1,320.4 236.7,320.9 237.4,320.7 238.1,320.4 238.7,321.7 239.4,322.7 240.1,323.8 240.8,324.1 241.4,324.4 242.1,323.2 242.8,324.2 243.4,323.4 244.1,323.6 244.8,322.9 245.4,322 246.1,322.9 246.8,322.5 247.4,323 248.1,322.3 248.8,323.5 249.5,323.3 250.1,323.2 250.8,323 251.5,321.8 252.1,320.5 252.8,322.3 253.5,321.1 254.2,321.2 254.8,321.7 255.5,320.9 256.2,320.6 256.8,320.7 257.5,319 258.2,320.9 258.8,319.8 259.5,320 260.2,320.7 260.9,320.3 261.5,320 262.2,320.4 262.9,320.7 263.5,320.9 264.2,322.8" stroke="#f5101c" stroke-width="2.8" fill="none" stroke-linejoin="round" stroke-linecap="round"/><text x="230.2" y="290.6" font-size="17.2" text-anchor="middle" fill="#1a1a1a">11</text></g>
<g><line x1="308.1" y1="281.6" x2="308.1" y2="332.1" stroke="#4d4d4d" stroke-width="1.1"/><line x1="308.1" y1="310.6" x2="361.7" y2="310.6" stroke="#222" stroke-width="1.1"/><polyline points="294.7,309.3 295.4,309.2 296,309.8 296.7,309.9 297.4,310.9 298.1,310.6 298.7,310.9 299.4,310.8 300.1,310.3 300.7,310.9 301.4,310.6 302.1,311.3 302.7,310.8 303.4,310.8 304.1,311.1 304.8,311.2 305.4,310.2 306.1,311.2 306.8,311.1 307.4,310.9 308.1,310.2 308.8,309.6 309.4,310 310.1,309.7 310.8,308.5 311.5,306.8 312.1,306.3 312.8,304.2 313.5,305.2 314.1,306.8 314.8,308 315.5,309.2 316.1,309.2 316.8,310.2 317.5,308.8 318.2,308.5 318.8,306.9 319.5,304.7 320.2,302.6 320.8,300.7 321.5,298.9 322.2,297.6 322.8,296.4 323.5,297.6 324.2,300.1 324.9,302.4 325.5,304.8 326.2,306.2 326.9,307.2 327.5,308.8 328.2,309.3 328.9,309.5 329.5,310.1 330.2,310.7 330.9,310.5 331.6,310.7 332.2,310.2 332.9,310.6 333.6,310.6 334.2,310.4 334.9,310.3 335.6,310.4 336.2,309.9 336.9,309.1 337.6,308.8 338.2,308.3 338.9,309 339.6,308.7 340.3,309.3 340.9,309.6 341.6,310 342.3,310.3 342.9,310 343.6,310.2 344.3,310.7 345,309.8 345.6,309.9 346.3,310.4 347,309.8 347.6,310.2 348.3,309.4 349,309.9 349.6,310 350.3,309.9 351,310 351.7,309.6 352.3,309.5 353,309.5 353.7,309.7 354.3,310.7 355,309.3 355.7,310.1 356.3,309.5 357,309.2 357.7,309.6 358.4,310 359,309.9 359.7,309.9 360.4,310 361,310 361.7,310.1" stroke="#0a14f0" stroke-width="2.5" fill="none" stroke-linejoin="round" stroke-linecap="round"/><polyline points="294.7,308.4 295.4,309.7 296,309.8 296.7,311 297.4,311.3 298.1,311.6 298.7,311.4 299.4,311.1 300.1,311.2 300.7,311.6 301.4,311.9 302.1,310.7 302.7,312 303.4,311.8 304.1,310.7 304.8,310.8 305.4,311 306.1,311.4 306.8,309.8 307.4,310.8 308.1,310.6 308.8,310.9 309.4,311.4 310.1,311 310.8,309.4 311.5,308.5 312.1,307.3 312.8,308.1 313.5,310.6 314.1,312.9 314.8,316.4 315.5,316.6 316.1,316.7 316.8,315.3 317.5,315.4 318.2,316.3 318.8,315.9 319.5,315.4 320.2,310.9 320.8,305.7 321.5,300.6 322.2,297.4 322.8,295.4 323.5,295.2 324.2,295.4 324.9,296.2 325.5,299.3 326.2,300.6 326.9,302.5 327.5,302 328.2,303.2 328.9,304.2 329.5,306 330.2,305.8 330.9,306.5 331.6,306.7 332.2,307.2 332.9,307.2 333.6,307.9 334.2,307.4 334.9,308.2 335.6,309.2 336.2,309.9 336.9,310.6 337.6,310.4 338.2,311.5 338.9,311.4 339.6,311.9 340.3,312.7 340.9,311 341.6,311.8 342.3,310.5 342.9,310.4 343.6,311.3 344.3,310.7 345,310.7 345.6,311.1 346.3,311.6 347,310.2 347.6,310.4 348.3,309.8 349,310.1 349.6,309.5 350.3,309.9 351,309.4 351.7,308.7 352.3,308.6 353,308.6 353.7,308.6 354.3,307.6 355,307.3 355.7,307.3 356.3,307.8 357,307.3 357.7,306.4 358.4,308 359,307.7 359.7,307.8 360.4,309.8 361,308.8 361.7,309.7" stroke="#f5101c" stroke-width="2.8" fill="none" stroke-linejoin="round" stroke-linecap="round"/><text x="327.7" y="278.5" font-size="17.2" text-anchor="middle" fill="#1a1a1a">12</text></g>
<g><line x1="528.3" y1="283" x2="528.3" y2="333.5" stroke="#4d4d4d" stroke-width="1.1"/><line x1="528.3" y1="312" x2="581.9" y2="312" stroke="#222" stroke-width="1.1"/><polyline points="514.9,310.7 515.6,311.4 516.2,311.8 516.9,311.7 517.6,311.8 518.2,312.2 518.9,312 519.6,312.5 520.3,312.1 520.9,311.7 521.6,311.3 522.3,311.8 522.9,312 523.6,311.8 524.3,311.9 524.9,311.8 525.6,311.9 526.3,312.2 527,312 527.6,312 528.3,311.9 529,311.7 529.6,311.7 530.3,311.5 531,309.7 531.6,309 532.3,306.9 533,305.6 533.7,307.3 534.3,307.7 535,309.1 535.7,310.7 536.3,310.5 537,310.5 537.7,310.9 538.3,309.2 539,307.6 539.7,305.5 540.4,302.9 541,301.2 541.7,298.9 542.4,297.8 543,297.4 543.7,298.7 544.4,301.4 545,304 545.7,305.3 546.4,307.2 547.1,308.3 547.7,310.3 548.4,310.5 549.1,311.1 549.7,311.3 550.4,311.9 551.1,311.7 551.8,312 552.4,312 553.1,312 553.8,311.7 554.4,311.9 555.1,311.2 555.8,311.3 556.4,311.1 557.1,310.7 557.8,310.1 558.4,309.6 559.1,309.3 559.8,309.7 560.5,310.1 561.1,311 561.8,310.8 562.5,311.4 563.1,312.4 563.8,311.2 564.5,311.6 565.1,312.1 565.8,311.7 566.5,311.8 567.2,310.7 567.8,311.1 568.5,311.7 569.2,310.9 569.8,311.2 570.5,310.4 571.2,311.4 571.8,311.8 572.5,310.9 573.2,311 573.9,310.9 574.5,311.5 575.2,310.5 575.9,310.2 576.5,311.5 577.2,310.5 577.9,311.3 578.5,310.3 579.2,311 579.9,311.2 580.6,310.8 581.2,311 581.9,311.4" stroke="#0a14f0" stroke-width="2.5" fill="none" stroke-linejoin="round" stroke-linecap="round"/><polyline points="514.9,309.9 515.6,311.3 516.2,312.6 516.9,311.2 517.6,313 518.2,313.3 518.9,313 519.6,313.9 520.3,313.6 520.9,312.9 521.6,313.2 522.3,313.1 522.9,312.7 523.6,313.4 524.3,312.7 524.9,312.5 525.6,313.3 526.3,312.5 527,313 527.6,311.8 528.3,312.1 529,312.2 529.6,312.8 530.3,311.6 531,311.3 531.6,309.6 532.3,308.4 533,309.1 533.7,310.7 534.3,314.6 535,319.5 535.7,320.7 536.3,321.8 537,321.1 537.7,319.4 538.3,320.1 539,319.1 539.7,316.3 540.4,311.2 541,305.7 541.7,301.8 542.4,297.1 543,295.9 543.7,295.2 544.4,295.4 545,297.1 545.7,297.8 546.4,300.7 547.1,303.1 547.7,302.9 548.4,305 549.1,305.7 549.7,308 550.4,306.3 551.1,306.9 551.8,307.4 552.4,307.7 553.1,307.7 553.8,308.9 554.4,308.5 555.1,310 555.8,310.5 556.4,310.6 557.1,311.5 557.8,313 558.4,312.6 559.1,313.1 559.8,313.6 560.5,313.1 561.1,313.2 561.8,313.5 562.5,312.9 563.1,311.1 563.8,312.6 564.5,311.4 565.1,311.4 565.8,311.7 566.5,313 567.2,312.2 567.8,311.6 568.5,310.9 569.2,311.5 569.8,311.6 570.5,310.3 571.2,310 571.8,310.1 572.5,310.2 573.2,309.3 573.9,309.1 574.5,308.4 575.2,309.3 575.9,308.2 576.5,308.6 577.2,309.4 577.9,308.9 578.5,309 579.2,309.3 579.9,308.9 580.6,310.4 581.2,310.2 581.9,310.4" stroke="#f5101c" stroke-width="2.8" fill="none" stroke-linejoin="round" stroke-linecap="round"/><text x="547.9" y="279.9" font-size="17.2" text-anchor="middle" fill="#1a1a1a">13</text></g>
<g><line x1="170.1" y1="364.1" x2="170.1" y2="414.6" stroke="#4d4d4d" stroke-width="1.1"/><line x1="170.1" y1="393.1" x2="223.7" y2="393.1" stroke="#222" stroke-width="1.1"/><polyline points="156.7,392.8 157.4,392.5 158,393.4 158.7,393.5 159.4,393 160,392.9 160.7,392.4 161.4,392.9 162.1,393.4 162.7,392.8 163.4,393.4 164.1,393.6 164.7,392.2 165.4,393 166.1,392.9 166.8,393 167.4,392.5 168.1,393.1 168.8,392.7 169.4,393.5 170.1,393.6 170.8,392.5 171.4,392.4 172.1,392.5 172.8,392.3 173.4,391.9 174.1,391.8 174.8,390.7 175.5,391.3 176.1,391.7 176.8,392.2 177.5,392.4 178.1,392.6 178.8,392.6 179.5,393.1 180.2,392.2 180.8,391.1 181.5,391.4 182.2,390.5 182.8,389.5 183.5,388.8 184.2,388.6 184.8,389.3 185.5,388.9 186.2,390.2 186.8,390.9 187.5,391 188.2,391.8 188.9,391.8 189.5,391.3 190.2,392.3 190.9,392.5 191.5,393.2 192.2,393.2 192.9,393.5 193.6,393.3 194.2,393.5 194.9,393.3 195.6,393.2 196.2,393.4 196.9,393.5 197.6,393.4 198.2,392.7 198.9,392.7 199.6,392.2 200.2,392.1 200.9,392.5 201.6,392.2 202.3,393.1 202.9,392 203.6,392.4 204.3,393 204.9,393.4 205.6,392.9 206.3,393.7 206.9,393.3 207.6,392.7 208.3,392.9 209,393.1 209.6,392.6 210.3,393.2 211,392.7 211.6,393 212.3,393.1 213,392.6 213.7,393.1 214.3,392.1 215,393 215.7,392 216.3,393.1 217,392.5 217.7,393.1 218.3,393.2 219,392.7 219.7,392.6 220.3,393.3 221,392.4 221.7,393.1 222.4,392.8 223,392.7 223.7,392.6" stroke="#0a14f0" stroke-width="2.5" fill="none" stroke-linejoin="round" stroke-linecap="round"/><polyline points="156.7,393.2 157.4,392.2 158,392.8 158.7,393.3 159.4,393.7 160,394 160.7,393.9 161.4,393.2 162.1,393.5 162.7,393.7 163.4,393.6 164.1,392.9 164.7,393.6 165.4,393.7 166.1,392.9 166.8,393.2 167.4,393.3 168.1,393.5 168.8,393.8 169.4,393.6 170.1,393.4 170.8,393.2 171.4,393 172.1,392.8 172.8,392.7 173.4,392.4 174.1,392.4 174.8,392.9 175.5,393 176.1,394 176.8,394.8 177.5,395.1 178.1,395.5 178.8,395.3 179.5,394.6 180.2,394.6 180.8,394.7 181.5,393.8 182.2,393.2 182.8,391.8 183.5,390 184.2,388.3 184.8,388.5 185.5,387.7 186.2,387.8 186.8,388.2 187.5,389.6 188.2,389.1 188.9,390.2 189.5,390.7 190.2,391 190.9,391 191.5,391.4 192.2,391.6 192.9,391.3 193.6,392.1 194.2,392.3 194.9,391.8 195.6,391.9 196.2,391.8 196.9,392.7 197.6,392.2 198.2,392.7 198.9,392.4 199.6,393.6 200.2,393.3 200.9,393.5 201.6,394 202.3,393.8 202.9,393 203.6,393.5 204.3,393.5 204.9,392.8 205.6,392.7 206.3,392.6 206.9,393.3 207.6,393.1 208.3,392.8 209,393.3 209.6,393.3 210.3,392.6 211,392.3 211.6,393.2 212.3,393.7 213,393.2 213.7,392.9 214.3,392.5 215,392.1 215.7,392.3 216.3,392.4 217,392 217.7,392.3 218.3,392.1 219,392.4 219.7,391.3 220.3,391.9 221,392.5 221.7,392.6 222.4,392.6 223,393.1 223.7,393" stroke="#f5101c" stroke-width="2.8" fill="none" stroke-linejoin="round" stroke-linecap="round"/><text x="189.7" y="361" font-size="17.2" text-anchor="middle" fill="#1a1a1a">14</text></g>
<g><line x1="261.6" y1="350.7" x2="261.6" y2="401.2" stroke="#4d4d4d" stroke-width="1.1"/><line x1="261.6" y1="379.7" x2="315.2" y2="379.7" stroke="#222" stroke-width="1.1"/><polyline points="248.2,379.6 248.9,379.1 249.5,379.6 250.2,379.8 250.9,380.1 251.6,380.1 252.2,379.7 252.9,379.8 253.6,379.3 254.2,379.9 254.9,379.3 255.6,379.6 256.2,379.8 256.9,380.5 257.6,380.3 258.2,379.6 258.9,379.3 259.6,379.7 260.3,379.5 260.9,379.9 261.6,379.8 262.3,379.8 262.9,379.1 263.6,379 264.3,378.7 265,378.1 265.6,377.2 266.3,376.7 267,377.6 267.6,377.3 268.3,378.5 269,379.1 269.6,378.8 270.3,379 271,379.1 271.7,378.4 272.3,378.1 273,377.1 273.7,376.5 274.3,374.3 275,374.3 275.7,372.9 276.3,373.3 277,374 277.7,374.7 278.4,375.8 279,376.5 279.7,376.9 280.4,378 281,378.3 281.7,379.1 282.4,378.9 283,379.3 283.7,379.7 284.4,379.7 285.1,379.7 285.7,379.6 286.4,379.6 287.1,379.8 287.7,379.9 288.4,379.3 289.1,380.1 289.7,379.5 290.4,378.6 291.1,379.9 291.8,379 292.4,378.4 293.1,379.3 293.8,378.1 294.4,380.1 295.1,378.8 295.8,378.9 296.4,379.2 297.1,379.6 297.8,379.4 298.5,379.9 299.1,379.3 299.8,379.9 300.5,379.5 301.1,379 301.8,379.7 302.5,379.4 303.1,379.2 303.8,379.7 304.5,378.9 305.2,379.1 305.8,379.7 306.5,379.2 307.2,379.4 307.8,379.4 308.5,379.1 309.2,379.4 309.8,378.8 310.5,379.5 311.2,378.9 311.9,379.3 312.5,379 313.2,379.5 313.9,379.5 314.5,379.7 315.2,379.1" stroke="#0a14f0" stroke-width="2.5" fill="none" stroke-linejoin="round" stroke-linecap="round"/><polyline points="248.2,378.4 248.9,378.1 249.5,378.8 250.2,379.7 250.9,380.2 251.6,379.9 252.2,380.2 252.9,379.4 253.6,379.6 254.2,380.5 254.9,380.5 255.6,379.5 256.2,380.1 256.9,380.4 257.6,379.5 258.2,380.3 258.9,380.2 259.6,380.2 260.3,381 260.9,379.4 261.6,380.5 262.3,380.1 262.9,380.1 263.6,379.1 264.3,379.2 265,378.8 265.6,379 266.3,378.2 267,380.1 267.6,380.6 268.3,382 269,383 269.6,382 270.3,382.5 271,382 271.7,382.3 272.3,382.2 273,380.6 273.7,379.1 274.3,378 275,374.5 275.7,373.1 276.3,371.9 277,371.9 277.7,373.1 278.4,373.7 279,372.9 279.7,374.5 280.4,376.2 281,375.7 281.7,376.6 282.4,377.8 283,378.4 283.7,378.3 284.4,377.5 285.1,377.8 285.7,378.1 286.4,378 287.1,377.9 287.7,379.5 288.4,378.8 289.1,379.4 289.7,380 290.4,379.9 291.1,379.9 291.8,380.2 292.4,381 293.1,380.5 293.8,379.2 294.4,380.7 295.1,380.9 295.8,379.7 296.4,379.4 297.1,379.3 297.8,380.1 298.5,379 299.1,380.2 299.8,380.5 300.5,380 301.1,379.6 301.8,379 302.5,379 303.1,379.3 303.8,378.7 304.5,379 305.2,378.4 305.8,379.5 306.5,379.4 307.2,378 307.8,379 308.5,378.3 309.2,378.1 309.8,378.4 310.5,378.5 311.2,377.6 311.9,379.7 312.5,377.9 313.2,377.1 313.9,378.6 314.5,378.9 315.2,378.7" stroke="#f5101c" stroke-width="2.8" fill="none" stroke-linejoin="round" stroke-linecap="round"/><text x="281.2" y="347.6" font-size="17.2" text-anchor="middle" fill="#1a1a1a">15</text></g>
<g><line x1="504.2" y1="355.2" x2="504.2" y2="405.7" stroke="#4d4d4d" stroke-width="1.1"/><line x1="504.2" y1="384.2" x2="557.8" y2="384.2" stroke="#222" stroke-width="1.1"/><polyline points="490.8,383.2 491.5,384.3 492.1,383.9 492.8,384.1 493.5,383.9 494.1,384.1 494.8,384 495.5,384.3 496.2,384.2 496.8,384.4 497.5,384.4 498.2,384.3 498.8,384.3 499.5,384.7 500.2,383.8 500.8,384.4 501.5,384.8 502.2,383.9 502.9,384.5 503.5,384.1 504.2,384.2 504.9,384 505.5,383.9 506.2,383.8 506.9,383.1 507.6,381.8 508.2,382.7 508.9,381.3 509.6,381.7 510.2,382.7 510.9,383.5 511.6,382.9 512.2,383.9 512.9,383.1 513.6,383.3 514.2,383.1 514.9,382.1 515.6,381.1 516.3,379.8 516.9,379 517.6,378.1 518.3,377.6 518.9,377 519.6,377.9 520.3,379.5 521,380.6 521.6,381.1 522.3,382.2 523,382.7 523.6,383.5 524.3,383.5 525,383.5 525.6,383.5 526.3,384 527,383.5 527.6,384.2 528.3,383.1 529,383.8 529.7,384 530.3,384.3 531,385 531.7,384 532.3,383.7 533,382.9 533.7,383.9 534.4,382.6 535,383.2 535.7,382.9 536.4,384.4 537,383.7 537.7,384 538.4,383.7 539,384 539.7,384.4 540.4,383.7 541,383.8 541.7,383.8 542.4,383.6 543.1,383.5 543.7,383.9 544.4,384.3 545.1,384.3 545.7,383.3 546.4,383.5 547.1,383.7 547.8,383.9 548.4,383.7 549.1,383.7 549.8,383.8 550.4,383.9 551.1,382.8 551.8,383.6 552.4,383.9 553.1,384.2 553.8,384 554.5,383.6 555.1,383.6 555.8,383.9 556.5,383.8 557.1,383.9 557.8,384.2" stroke="#0a14f0" stroke-width="2.5" fill="none" stroke-linejoin="round" stroke-linecap="round"/><polyline points="490.8,382.7 491.5,383.5 492.1,382.7 492.8,384.8 493.5,384.6 494.1,384.2 494.8,384.9 495.5,385.4 496.2,385.1 496.8,384.4 497.5,384.4 498.2,384.8 498.8,384.3 499.5,384.2 500.2,384.5 500.8,384.6 501.5,384.7 502.2,384.2 502.9,383.9 503.5,384.4 504.2,384.1 504.9,384.5 505.5,385 506.2,384.6 506.9,383.3 507.6,383 508.2,381.7 508.9,382.6 509.6,383.3 510.2,385.8 510.9,389.2 511.6,391.7 512.2,391.7 512.9,391 513.6,390.5 514.2,389.9 514.9,388.9 515.6,387.7 516.3,383.1 516.9,381.9 517.6,379.6 518.3,378 518.9,377.3 519.6,376.5 520.3,376.9 521,376.6 521.6,378.1 522.3,378.9 523,380 523.6,381.2 524.3,381 525,381.7 525.6,381.1 526.3,381.9 527,381.2 527.6,381.9 528.3,382 529,382.6 529.7,382.7 530.3,382.5 531,382.6 531.7,383.8 532.3,383.5 533,382.6 533.7,384.4 534.4,384.7 535,385 535.7,385.5 536.4,384.2 537,384.6 537.7,384.3 538.4,383.3 539,382.8 539.7,384.6 540.4,383.4 541,383.8 541.7,384 542.4,384.1 543.1,384.2 543.7,383.2 544.4,383.6 545.1,383.6 545.7,383.1 546.4,383.2 547.1,383.3 547.8,383.2 548.4,382.3 549.1,382.8 549.8,383 550.4,383.3 551.1,382.8 551.8,383.1 552.4,382.6 553.1,382.6 553.8,384 554.5,382.8 555.1,382.5 555.8,382.8 556.5,383.7 557.1,382.7 557.8,384" stroke="#f5101c" stroke-width="2.8" fill="none" stroke-linejoin="round" stroke-linecap="round"/><text x="523.8" y="352.1" font-size="17.2" text-anchor="middle" fill="#1a1a1a">16</text></g>
<g><line x1="135.9" y1="431.6" x2="135.9" y2="482.1" stroke="#4d4d4d" stroke-width="1.1"/><line x1="135.9" y1="460.6" x2="189.5" y2="460.6" stroke="#222" stroke-width="1.1"/><polyline points="122.5,461 123.2,461 123.8,460.6 124.5,460.2 125.2,460.1 125.9,460.5 126.5,460.9 127.2,460.7 127.9,460.8 128.5,460.6 129.2,461.1 129.9,460.5 130.5,460.3 131.2,460.6 131.9,460.4 132.6,460.9 133.2,461.1 133.9,460.8 134.6,460.2 135.2,460.2 135.9,460.8 136.6,460.2 137.2,460.8 137.9,460.1 138.6,460.5 139.2,460.9 139.9,460.5 140.6,461 141.3,461.1 141.9,461.3 142.6,460.7 143.3,460.9 143.9,460.9 144.6,461.1 145.3,460.4 146,461.1 146.6,461.2 147.3,460.6 148,460.5 148.6,460.9 149.3,461.7 150,461.3 150.6,460.8 151.3,461 152,460.5 152.7,461.5 153.3,460.8 154,461.2 154.7,460.5 155.3,461 156,460.6 156.7,461.2 157.3,461.4 158,461.2 158.7,461 159.4,461.1 160,460.3 160.7,460.2 161.4,460.6 162,461 162.7,460.6 163.4,460.8 164,460 164.7,460.4 165.4,460.3 166.1,460.6 166.7,461.2 167.4,460.7 168.1,460.8 168.7,460.3 169.4,460.3 170.1,460.7 170.7,460.5 171.4,459.8 172.1,460.7 172.8,460.7 173.4,460.5 174.1,460.7 174.8,460.6 175.4,460.3 176.1,459.9 176.8,461.1 177.4,460.5 178.1,460.5 178.8,460.5 179.5,460.5 180.1,460.6 180.8,460.1 181.5,460.6 182.1,460.5 182.8,460.5 183.5,460.5 184.1,460.6 184.8,460.2 185.5,460.5 186.2,460.5 186.8,460.6 187.5,460.9 188.2,460.9 188.8,461 189.5,460.5" stroke="#0a14f0" stroke-width="2.5" fill="none" stroke-linejoin="round" stroke-linecap="round"/><polyline points="122.5,460.8 123.2,460.9 123.8,460.4 124.5,460.3 125.2,461 125.9,459.8 126.5,460.4 127.2,460.4 127.9,460.1 128.5,460.4 129.2,460.7 129.9,459.7 130.5,460.9 131.2,460.6 131.9,460.3 132.6,461 133.2,460.7 133.9,460.5 134.6,459.8 135.2,461 135.9,460.7 136.6,460.5 137.2,460.7 137.9,461.2 138.6,460.7 139.2,460.8 139.9,460.7 140.6,460.5 141.3,460.6 141.9,460.8 142.6,460.9 143.3,461.4 143.9,461.2 144.6,461.1 145.3,461.4 146,461.3 146.6,461.6 147.3,460.8 148,460.6 148.6,461.6 149.3,461.3 150,461.5 150.6,460.9 151.3,461.1 152,461.2 152.7,461.3 153.3,461.1 154,461.5 154.7,460.8 155.3,461.3 156,460.8 156.7,460.9 157.3,460.5 158,460.8 158.7,460.4 159.4,461 160,460.5 160.7,460.7 161.4,460.5 162,460.5 162.7,460.2 163.4,461.1 164,460.3 164.7,460.9 165.4,459.9 166.1,460.9 166.7,460.6 167.4,460.8 168.1,459.6 168.7,460.6 169.4,460.1 170.1,460.4 170.7,460.8 171.4,460.4 172.1,460.1 172.8,460.4 173.4,460 174.1,460.5 174.8,460.4 175.4,460.5 176.1,460.2 176.8,459.7 177.4,460.2 178.1,460.2 178.8,460.5 179.5,460.5 180.1,459.8 180.8,460.7 181.5,460.6 182.1,460.4 182.8,460.5 183.5,459.7 184.1,461.2 184.8,460.3 185.5,460.2 186.2,460.9 186.8,460.7 187.5,460.4 188.2,460 188.8,460.9 189.5,461.2" stroke="#f5101c" stroke-width="2.8" fill="none" stroke-linejoin="round" stroke-linecap="round"/><text x="155.5" y="428.5" font-size="17.2" text-anchor="middle" fill="#1a1a1a">17</text></g>
<g><line x1="564.4" y1="413.3" x2="564.4" y2="463.8" stroke="#4d4d4d" stroke-width="1.1"/><line x1="564.4" y1="442.3" x2="618" y2="442.3" stroke="#222" stroke-width="1.1"/><polyline points="551,442 551.7,441.8 552.3,442.4 553,443.1 553.7,441.8 554.4,442.4 555,441.9 555.7,442.3 556.4,442.4 557,442.5 557.7,441.8 558.4,441.8 559,443.1 559.7,442.8 560.4,441.9 561,442.7 561.7,443 562.4,442.6 563.1,442.7 563.7,442.7 564.4,442.9 565.1,442.9 565.7,443.1 566.4,442.9 567.1,443.3 567.8,443.2 568.4,443.3 569.1,443 569.8,443.6 570.4,444 571.1,444.1 571.8,444.4 572.4,444.3 573.1,444.6 573.8,444.3 574.4,444.5 575.1,444.1 575.8,443.3 576.5,442 577.1,441.5 577.8,441 578.5,440.9 579.1,440.9 579.8,440.5 580.5,440.7 581.1,441.4 581.8,442.9 582.5,442.8 583.2,443.6 583.8,443.4 584.5,443.6 585.2,444.2 585.8,444.3 586.5,444.8 587.2,444.3 587.9,444.5 588.5,443.6 589.2,443.7 589.9,443.3 590.5,443.6 591.2,444 591.9,443.8 592.5,444.1 593.2,443.8 593.9,444 594.5,444.5 595.2,444.2 595.9,444.3 596.6,444.5 597.2,444.2 597.9,444 598.6,444.5 599.2,444.4 599.9,444.9 600.6,444 601.2,444 601.9,444.4 602.6,443.4 603.3,443.1 603.9,443.5 604.6,443.2 605.3,443.2 605.9,442.5 606.6,443.2 607.3,442.6 607.9,441.7 608.6,442.3 609.3,442 610,442.1 610.6,442.4 611.3,441.9 612,441.8 612.6,442.3 613.3,441.9 614,441.6 614.6,441.7 615.3,442.7 616,442.5 616.7,442.8 617.3,441.9 618,442.1" stroke="#0a14f0" stroke-width="2.5" fill="none" stroke-linejoin="round" stroke-linecap="round"/><polyline points="551,442.1 551.7,442.5 552.3,442.5 553,442 553.7,441.9 554.4,442.1 555,441.9 555.7,441.8 556.4,442 557,442.6 557.7,443 558.4,442.5 559,442.4 559.7,442.7 560.4,442.8 561,443 561.7,442.6 562.4,442.9 563.1,443 563.7,443.5 564.4,443.4 565.1,443.5 565.7,444.2 566.4,444.7 567.1,444.7 567.8,443.2 568.4,442.7 569.1,441.3 569.8,442.5 570.4,443.2 571.1,444.1 571.8,444.6 572.4,444.6 573.1,445.8 573.8,445.9 574.4,446.2 575.1,446.7 575.8,446.8 576.5,446.6 577.1,446.2 577.8,446.2 578.5,445.6 579.1,445.1 579.8,444.8 580.5,444.8 581.1,445.2 581.8,444.6 582.5,445.5 583.2,444.6 583.8,443.5 584.5,444.2 585.2,444.3 585.8,443.7 586.5,443.1 587.2,443.4 587.9,443 588.5,442.9 589.2,442.8 589.9,441.3 590.5,442.1 591.2,442 591.9,441.8 592.5,441.2 593.2,440.9 593.9,440.5 594.5,440.5 595.2,441 595.9,440.2 596.6,440.5 597.2,440.4 597.9,440.8 598.6,440.6 599.2,440.8 599.9,440.7 600.6,441.3 601.2,440.9 601.9,440.9 602.6,441.3 603.3,441 603.9,441.1 604.6,440.4 605.3,441.7 605.9,440.9 606.6,441.4 607.3,441.1 607.9,440.7 608.6,441.2 609.3,440.9 610,441.2 610.6,440.3 611.3,440.6 612,440.6 612.6,441.6 613.3,441.6 614,440.9 614.6,441.5 615.3,441.7 616,441.6 616.7,442.4 617.3,441.8 618,442.3" stroke="#f5101c" stroke-width="2.8" fill="none" stroke-linejoin="round" stroke-linecap="round"/><text x="584" y="410.2" font-size="17.2" text-anchor="middle" fill="#1a1a1a">18</text></g>
<g><line x1="96.6" y1="502.4" x2="96.6" y2="552.9" stroke="#4d4d4d" stroke-width="1.1"/><line x1="96.6" y1="531.4" x2="150.2" y2="531.4" stroke="#222" stroke-width="1.1"/><polyline points="83.2,531.2 83.9,531.6 84.5,531.2 85.2,531.6 85.9,531 86.5,530.9 87.2,531 87.9,531.1 88.6,531.1 89.2,532.2 89.9,531 90.6,531.4 91.2,531.3 91.9,531.4 92.6,531.8 93.2,531.5 93.9,531.1 94.6,530.9 95.3,531.6 95.9,531.7 96.6,530.9 97.3,531.8 97.9,530.9 98.6,531.7 99.3,532.1 99.9,531.5 100.6,531.4 101.3,532.5 102,531.5 102.6,532.2 103.3,531.6 104,532.3 104.6,532.8 105.3,531.9 106,531.7 106.6,531.1 107.3,531.1 108,531.2 108.7,531.3 109.3,531.7 110,532.5 110.7,533.7 111.3,534.7 112,536.6 112.7,536 113.3,536.1 114,534.8 114.7,535 115.4,535.2 116,534.7 116.7,535.2 117.4,534.8 118,535.1 118.7,533.9 119.4,534 120,534.6 120.7,534.1 121.4,533.6 122.1,533.7 122.7,533.6 123.4,534 124.1,533.8 124.7,533.5 125.4,533.1 126.1,533.6 126.8,533.5 127.4,532.6 128.1,533.2 128.8,532.4 129.4,532.6 130.1,532.3 130.8,531.8 131.4,532.1 132.1,531.9 132.8,532.4 133.4,532.2 134.1,531.7 134.8,531.3 135.5,531.2 136.1,530.8 136.8,531.4 137.5,531.5 138.1,531.2 138.8,531.5 139.5,531.5 140.2,531.8 140.8,531.1 141.5,531.8 142.2,531.2 142.8,531.9 143.5,531 144.2,531.8 144.8,531.1 145.5,532 146.2,531.6 146.8,531 147.5,531.7 148.2,531.4 148.9,531.6 149.5,532.2 150.2,531.3" stroke="#0a14f0" stroke-width="2.5" fill="none" stroke-linejoin="round" stroke-linecap="round"/><polyline points="83.2,531.2 83.9,531.9 84.5,530.9 85.2,531.5 85.9,531.5 86.5,531 87.2,531.4 87.9,529.8 88.6,531.9 89.2,530.7 89.9,530.6 90.6,532.3 91.2,532.2 91.9,531 92.6,531.6 93.2,531.2 93.9,530.8 94.6,531.6 95.3,532 95.9,532.9 96.6,531.3 97.3,532 97.9,531.4 98.6,531.5 99.3,532.5 99.9,530.9 100.6,531.3 101.3,531.5 102,532.8 102.6,532.4 103.3,532.5 104,532.4 104.6,532.9 105.3,532 106,532 106.6,531.9 107.3,531.7 108,530 108.7,530.4 109.3,532.7 110,533.2 110.7,534.5 111.3,535.6 112,537.5 112.7,538.2 113.3,538.4 114,536.8 114.7,536.6 115.4,536 116,535.5 116.7,534.5 117.4,534.8 118,535.1 118.7,533.7 119.4,534.2 120,533.5 120.7,533.3 121.4,532.7 122.1,532.6 122.7,533.4 123.4,533 124.1,533.6 124.7,531.8 125.4,532.4 126.1,531.8 126.8,532.6 127.4,533.5 128.1,531.4 128.8,532.1 129.4,532 130.1,531.9 130.8,531.5 131.4,531.4 132.1,532.5 132.8,530.9 133.4,531.7 134.1,531.6 134.8,530.3 135.5,530.6 136.1,531.3 136.8,532 137.5,530.9 138.1,530.8 138.8,531.2 139.5,531.9 140.2,531.7 140.8,532 141.5,531.3 142.2,531 142.8,531 143.5,532 144.2,531.4 144.8,531.2 145.5,531.8 146.2,531.5 146.8,530.2 147.5,531.3 148.2,530.9 148.9,531.6 149.5,531.4 150.2,532.3" stroke="#f5101c" stroke-width="2.8" fill="none" stroke-linejoin="round" stroke-linecap="round"/><text x="116.2" y="499.3" font-size="17.2" text-anchor="middle" fill="#1a1a1a">19</text></g>
<g><line x1="193.7" y1="482.9" x2="193.7" y2="533.4" stroke="#4d4d4d" stroke-width="1.1"/><line x1="193.7" y1="511.9" x2="247.3" y2="511.9" stroke="#222" stroke-width="1.1"/><polyline points="180.3,511.9 181,511.5 181.6,511.1 182.3,511.5 183,511.6 183.6,511.8 184.3,512 185,511.9 185.7,511.6 186.3,512.1 187,511.5 187.7,512.2 188.3,512.4 189,512.2 189.7,512.4 190.3,512.3 191,511.5 191.7,511.9 192.4,511.8 193,511.5 193.7,511.5 194.4,512.1 195,511.6 195.7,512 196.4,512.2 197,512.1 197.7,512.8 198.4,512.6 199.1,512.4 199.7,512.2 200.4,512.6 201.1,512.5 201.7,512.2 202.4,511.9 203.1,512.1 203.8,511.8 204.4,512.3 205.1,512.1 205.8,511.6 206.4,512.1 207.1,512.8 207.8,512.8 208.4,514.3 209.1,515.3 209.8,515.1 210.4,514.6 211.1,514.9 211.8,514.2 212.5,514.7 213.1,514.6 213.8,514.5 214.5,514.2 215.1,513.4 215.8,514.4 216.5,513.4 217.1,514.2 217.8,513.9 218.5,513.4 219.2,513.4 219.8,513.5 220.5,514.1 221.2,513.3 221.8,513.8 222.5,512.4 223.2,513.3 223.8,513.1 224.5,513.5 225.2,513.2 225.9,513.4 226.5,512.5 227.2,512.8 227.9,512.5 228.5,512.8 229.2,512.7 229.9,511.9 230.5,512.7 231.2,512.9 231.9,512.1 232.6,512.5 233.2,512.2 233.9,511.7 234.6,512.3 235.2,511.7 235.9,512.2 236.6,511.4 237.2,511.5 237.9,512.1 238.6,512 239.3,512.2 239.9,511.8 240.6,511.5 241.3,512.4 241.9,511.6 242.6,512.4 243.3,512.2 243.9,512.5 244.6,511.2 245.3,511.9 246,511.8 246.6,512.1 247.3,511.5" stroke="#0a14f0" stroke-width="2.5" fill="none" stroke-linejoin="round" stroke-linecap="round"/><polyline points="180.3,512.6 181,511.8 181.6,511 182.3,511.8 183,511.6 183.6,511.4 184.3,511.9 185,511.6 185.7,511.3 186.3,511.6 187,511.6 187.7,511.9 188.3,511.7 189,511.8 189.7,511.3 190.3,511.6 191,512 191.7,512.8 192.4,511.6 193,511.6 193.7,512.2 194.4,512.7 195,512.4 195.7,511.8 196.4,512.5 197,512.4 197.7,512.2 198.4,511.9 199.1,512.4 199.7,512.5 200.4,512.6 201.1,511.9 201.7,512.1 202.4,512.5 203.1,512.9 203.8,512.7 204.4,511.7 205.1,511.7 205.8,510.9 206.4,511.6 207.1,512.8 207.8,513.9 208.4,515.1 209.1,516.4 209.8,516.8 210.4,515.8 211.1,516.4 211.8,515.6 212.5,514.5 213.1,514.6 213.8,514.6 214.5,514.6 215.1,513.7 215.8,513.4 216.5,513.2 217.1,513.5 217.8,513 218.5,513.7 219.2,513.1 219.8,513.3 220.5,512.9 221.2,512.7 221.8,512.5 222.5,513.1 223.2,512.3 223.8,512.8 224.5,512.9 225.2,512.6 225.9,513 226.5,512.4 227.2,512.2 227.9,512.3 228.5,512 229.2,512.2 229.9,512 230.5,512.4 231.2,511.8 231.9,512.1 232.6,511.9 233.2,511.7 233.9,511.5 234.6,512.2 235.2,512.2 235.9,511.8 236.6,511.6 237.2,511.7 237.9,511.5 238.6,511.4 239.3,511.8 239.9,512 240.6,512.4 241.3,512.4 241.9,512.2 242.6,511.9 243.3,511.9 243.9,511.9 244.6,512 245.3,511.7 246,511.8 246.6,511.8 247.3,511.8" stroke="#f5101c" stroke-width="2.8" fill="none" stroke-linejoin="round" stroke-linecap="round"/><text x="213.3" y="479.8" font-size="17.2" text-anchor="middle" fill="#1a1a1a">20</text></g>
<g><line x1="523.8" y1="482.8" x2="523.8" y2="533.3" stroke="#4d4d4d" stroke-width="1.1"/><line x1="523.8" y1="511.8" x2="577.4" y2="511.8" stroke="#222" stroke-width="1.1"/><polyline points="510.4,512.1 511.1,512.1 511.7,511.4 512.4,511.3 513.1,511.4 513.8,511.4 514.4,510.5 515.1,511.6 515.8,511.4 516.4,511.2 517.1,511.7 517.8,511.4 518.4,510.9 519.1,511.3 519.8,511.5 520.4,511.6 521.1,511.9 521.8,511.7 522.5,512.2 523.1,512.3 523.8,512.3 524.5,512.2 525.1,512.7 525.8,512.8 526.5,514 527.1,512.9 527.8,512.6 528.5,513 529.2,513.7 529.8,514 530.5,513.7 531.2,514.3 531.8,513.8 532.5,514.4 533.2,514.1 533.8,514.1 534.5,515.5 535.2,514.8 535.9,515.2 536.5,515.5 537.2,515.3 537.9,515.3 538.5,515.1 539.2,516.1 539.9,515.4 540.5,515.2 541.2,515.9 541.9,516 542.6,516.2 543.2,516.5 543.9,515.9 544.6,515.8 545.2,515.6 545.9,514.9 546.6,515.4 547.2,515.5 547.9,515 548.6,515.9 549.3,515.7 549.9,515.3 550.6,515.3 551.3,514.7 551.9,514.9 552.6,514 553.3,514 553.9,514.1 554.6,514.3 555.3,513.8 556,513.6 556.6,514.1 557.3,513.4 558,513.2 558.6,513.2 559.3,512.6 560,512.6 560.6,513.2 561.3,512.8 562,513 562.7,512.3 563.3,512.8 564,512.1 564.7,512.2 565.3,512 566,512.3 566.7,512.7 567.3,511.5 568,512.1 568.7,511.5 569.4,511.8 570,511.6 570.7,511.2 571.4,511.6 572,511.2 572.7,512.2 573.4,511.3 574,511.7 574.7,511.6 575.4,511.6 576.1,511.4 576.7,511 577.4,512.2" stroke="#0a14f0" stroke-width="2.5" fill="none" stroke-linejoin="round" stroke-linecap="round"/><polyline points="510.4,511.9 511.1,512 511.7,511.1 512.4,511.4 513.1,511.1 513.8,511.4 514.4,511 515.1,510.9 515.8,511.4 516.4,511.3 517.1,511.8 517.8,511.3 518.4,511.2 519.1,511.8 519.8,511.3 520.4,512.5 521.1,512.6 521.8,512.5 522.5,512.3 523.1,512.3 523.8,512.4 524.5,512.7 525.1,512.7 525.8,513.5 526.5,513.9 527.1,514.1 527.8,513.1 528.5,514.4 529.2,513.5 529.8,513 530.5,513.7 531.2,514.6 531.8,514.2 532.5,513.8 533.2,513.9 533.8,515.1 534.5,515 535.2,515 535.9,514.5 536.5,514.5 537.2,515.4 537.9,516.1 538.5,515.7 539.2,515.4 539.9,516.1 540.5,516.4 541.2,515.8 541.9,517.2 542.6,516.4 543.2,516.8 543.9,516.5 544.6,516.3 545.2,515.5 545.9,516.1 546.6,516.1 547.2,516.6 547.9,515.7 548.6,515.6 549.3,514.9 549.9,515.1 550.6,514.5 551.3,513.7 551.9,513.8 552.6,513.2 553.3,512.9 553.9,513 554.6,513.2 555.3,512.1 556,512.2 556.6,511.8 557.3,512.8 558,512.7 558.6,512.9 559.3,512.5 560,512 560.6,512.2 561.3,512.6 562,512.6 562.7,512.4 563.3,512.8 564,512.7 564.7,512.7 565.3,513.4 566,512.7 566.7,512.1 567.3,512.8 568,512.7 568.7,512.9 569.4,513 570,512.5 570.7,513 571.4,513.3 572,514.1 572.7,513.3 573.4,513.9 574,513.9 574.7,513 575.4,513.2 576.1,514.3 576.7,513.6 577.4,513.9" stroke="#f5101c" stroke-width="2.8" fill="none" stroke-linejoin="round" stroke-linecap="round"/><text x="543.4" y="479.7" font-size="17.2" text-anchor="middle" fill="#1a1a1a">21</text></g>
<g><line x1="152.1" y1="551.6" x2="152.1" y2="602.1" stroke="#4d4d4d" stroke-width="1.1"/><line x1="152.1" y1="580.6" x2="205.7" y2="580.6" stroke="#222" stroke-width="1.1"/><polyline points="138.7,580.9 139.4,580.3 140,581.1 140.7,581 141.4,581 142,580.9 142.7,580.2 143.4,580.9 144.1,580.8 144.7,580.7 145.4,580.3 146.1,580.5 146.7,580.1 147.4,580.7 148.1,580.9 148.8,580.7 149.4,580.5 150.1,580.9 150.8,580.5 151.4,579.9 152.1,580.8 152.8,580.7 153.4,580.4 154.1,581.3 154.8,581.5 155.4,581.7 156.1,581.3 156.8,581.3 157.5,581.6 158.1,581.7 158.8,581.3 159.5,581.5 160.1,582.4 160.8,581.7 161.5,581.5 162.2,581.1 162.8,581.2 163.5,580.9 164.2,580.5 164.8,581.4 165.5,582.1 166.2,583.9 166.8,585.3 167.5,587.5 168.2,587.9 168.8,588.1 169.5,587.5 170.2,586.2 170.9,586.3 171.5,585.8 172.2,586 172.9,585.3 173.5,585.8 174.2,585.3 174.9,585.1 175.6,584.6 176.2,584.6 176.9,584.6 177.6,584.1 178.2,584.2 178.9,583.9 179.6,583.7 180.2,583.8 180.9,583.7 181.6,583.3 182.2,583.4 182.9,583 183.6,582.5 184.3,582.4 184.9,582.7 185.6,582.8 186.3,582.2 186.9,582.1 187.6,581.5 188.3,581.8 188.9,581.6 189.6,581.1 190.3,581.4 191,581.2 191.6,580.4 192.3,580.3 193,580.6 193.6,580.7 194.3,581.1 195,580.5 195.7,580.7 196.3,580.6 197,580.9 197.7,580.7 198.3,580.7 199,580.5 199.7,580.1 200.3,580.5 201,581.2 201.7,581 202.3,581.2 203,580.9 203.7,580.4 204.4,580.5 205,580.8 205.7,580.5" stroke="#0a14f0" stroke-width="2.5" fill="none" stroke-linejoin="round" stroke-linecap="round"/><polyline points="138.7,581 139.4,581.2 140,581.1 140.7,580.6 141.4,579.2 142,580.8 142.7,579.4 143.4,579.3 144.1,580.2 144.7,580.2 145.4,580.6 146.1,580.3 146.7,580.1 147.4,580.5 148.1,580 148.8,579.9 149.4,580.4 150.1,580.4 150.8,580.7 151.4,580.4 152.1,581.2 152.8,580.5 153.4,580.8 154.1,581.5 154.8,580 155.4,581.8 156.1,581.9 156.8,581.4 157.5,582.8 158.1,582.2 158.8,582.6 159.5,582.4 160.1,582 160.8,581.7 161.5,581.2 162.2,581.2 162.8,580 163.5,579.2 164.2,579.5 164.8,579.7 165.5,583 166.2,585.6 166.8,587 167.5,589.2 168.2,590.6 168.8,590.2 169.5,588.9 170.2,588.9 170.9,587.1 171.5,586.9 172.2,585.7 172.9,585.7 173.5,584.1 174.2,584.3 174.9,584.8 175.6,584.1 176.2,584.5 176.9,583.6 177.6,583.1 178.2,583 178.9,584 179.6,583 180.2,582.4 180.9,582.3 181.6,581.7 182.2,582.9 182.9,581.8 183.6,582.3 184.3,581.7 184.9,581.4 185.6,581.1 186.3,581.6 186.9,581 187.6,581.6 188.3,581.6 188.9,580.3 189.6,580.5 190.3,581.3 191,580.7 191.6,580.1 192.3,579.1 193,579.5 193.6,579.7 194.3,581.2 195,580.4 195.7,580.2 196.3,580.3 197,580.4 197.7,580.9 198.3,579.9 199,580.1 199.7,580.9 200.3,581.4 201,579.6 201.7,581 202.3,580 203,579.6 203.7,581.2 204.4,580.5 205,580.8 205.7,580.3" stroke="#f5101c" stroke-width="2.8" fill="none" stroke-linejoin="round" stroke-linecap="round"/><text x="171.7" y="548.5" font-size="17.2" text-anchor="middle" fill="#1a1a1a">22</text></g>
<g><line x1="577.8" y1="543.9" x2="577.8" y2="594.4" stroke="#4d4d4d" stroke-width="1.1"/><line x1="577.8" y1="572.9" x2="631.4" y2="572.9" stroke="#222" stroke-width="1.1"/><polyline points="564.4,573 565.1,572.1 565.7,572.3 566.4,572.3 567.1,571.6 567.8,572.1 568.4,572.1 569.1,571.2 569.8,572.3 570.4,572.1 571.1,572 571.8,572.5 572.4,573.1 573.1,572.2 573.8,573 574.4,573.1 575.1,573.2 575.8,573.6 576.5,573.9 577.1,573.6 577.8,573 578.5,574.1 579.1,574.6 579.8,575.8 580.5,575.8 581.1,576.3 581.8,575.7 582.5,576.2 583.2,576.2 583.8,576.5 584.5,576.9 585.2,577.5 585.8,577 586.5,578 587.2,578.3 587.8,578.4 588.5,578.9 589.2,578.6 589.9,578.5 590.5,578.9 591.2,579 591.9,579.4 592.5,579.5 593.2,580.8 593.9,580.4 594.5,581.1 595.2,581.5 595.9,581.3 596.6,581.3 597.2,580.9 597.9,580.6 598.6,581.6 599.2,580.7 599.9,579.8 600.6,580 601.2,579.6 601.9,579.9 602.6,580.3 603.3,580 603.9,579.1 604.6,578.8 605.3,579.1 605.9,578.7 606.6,578.2 607.3,578.7 607.9,577.9 608.6,576.9 609.3,576.4 610,576.9 610.6,575.9 611.3,576.4 612,576.3 612.6,576.6 613.3,575.2 614,575.4 614.6,574.2 615.3,574.7 616,574.5 616.7,575 617.3,573.7 618,574.2 618.7,574 619.3,574.6 620,573.4 620.7,573.3 621.3,573.7 622,573.4 622.7,573.1 623.4,572.8 624,573 624.7,572.3 625.4,572.9 626,573 626.7,572.9 627.4,573.5 628,572.8 628.7,572.2 629.4,572.4 630.1,572.8 630.7,572.3 631.4,573.2" stroke="#0a14f0" stroke-width="2.5" fill="none" stroke-linejoin="round" stroke-linecap="round"/><polyline points="564.4,573.3 565.1,572.5 565.7,572 566.4,572.4 567.1,571.4 567.8,570.8 568.4,572 569.1,571.4 569.8,572.7 570.4,573 571.1,571.6 571.8,572.1 572.4,572.2 573.1,572.9 573.8,572.9 574.4,572.5 575.1,572.2 575.8,573.5 576.5,574.5 577.1,573.1 577.8,573.7 578.5,574.3 579.1,575.1 579.8,574.5 580.5,576.1 581.1,576.1 581.8,577.7 582.5,576.7 583.2,576.3 583.8,576.2 584.5,576.7 585.2,578.1 585.8,576.5 586.5,577.9 587.2,577.9 587.8,578.5 588.5,580.3 589.2,578.9 589.9,578.5 590.5,579.1 591.2,578.4 591.9,580 592.5,580.4 593.2,581.5 593.9,582.4 594.5,582.1 595.2,582.3 595.9,582.7 596.6,581.8 597.2,583.4 597.9,582.6 598.6,582.5 599.2,580.3 599.9,580.8 600.6,581 601.2,581.5 601.9,580.1 602.6,580.1 603.3,579 603.9,579.6 604.6,577.2 605.3,577 605.9,576.3 606.6,575.3 607.3,575.4 607.9,575 608.6,574.1 609.3,573.8 610,574 610.6,573.6 611.3,573.7 612,573.1 612.6,573.1 613.3,573.7 614,572.9 614.6,575 615.3,574.5 616,573.5 616.7,574.8 617.3,575.6 618,574.1 618.7,574.4 619.3,575.2 620,574 620.7,574.9 621.3,575.2 622,574.7 622.7,575 623.4,575.4 624,575.1 624.7,575.6 625.4,575.1 626,575.3 626.7,575 627.4,575.8 628,576.4 628.7,576.5 629.4,576.3 630.1,575.6 630.7,576.4 631.4,577.6" stroke="#f5101c" stroke-width="2.8" fill="none" stroke-linejoin="round" stroke-linecap="round"/><text x="597.4" y="540.8" font-size="17.2" text-anchor="middle" fill="#1a1a1a">23</text></g>
<g><line x1="207.4" y1="607" x2="207.4" y2="657.5" stroke="#4d4d4d" stroke-width="1.1"/><line x1="207.4" y1="636" x2="261" y2="636" stroke="#222" stroke-width="1.1"/><polyline points="194,635.7 194.7,636.3 195.3,635.5 196,635.9 196.7,635.4 197.3,635.4 198,635.8 198.7,635.6 199.4,636.2 200,636 200.7,635.6 201.4,634.6 202,635.8 202.7,636 203.4,636.4 204.1,635.6 204.7,636.7 205.4,636.5 206.1,636.1 206.7,636.8 207.4,635.9 208.1,636.4 208.7,637.3 209.4,637.6 210.1,638.2 210.8,638.5 211.4,638.1 212.1,638.1 212.8,638.3 213.4,638.4 214.1,638.7 214.8,638.5 215.4,639.2 216.1,638.7 216.8,638.3 217.5,637.6 218.1,637.5 218.8,636.7 219.5,635.4 220.1,637 220.8,640.5 221.5,642.6 222.1,644.5 222.8,645.2 223.5,646.7 224.2,645.8 224.8,645.5 225.5,643.7 226.2,643.6 226.8,643.3 227.5,642.9 228.2,641.9 228.8,641.8 229.5,642 230.2,641.3 230.9,641.5 231.5,641 232.2,641 232.9,640.7 233.5,640.2 234.2,640 234.9,639.2 235.5,638.8 236.2,638.9 236.9,639 237.6,638.1 238.2,638.8 238.9,638.6 239.6,637.5 240.2,637.4 240.9,637.1 241.6,637.4 242.2,637.6 242.9,637.3 243.6,636.8 244.2,637.1 244.9,637 245.6,637.2 246.3,637.1 246.9,636.3 247.6,636.4 248.3,636.9 248.9,636.8 249.6,636.6 250.3,636.2 251,636.7 251.6,636.3 252.3,636.9 253,636.6 253.6,635.9 254.3,635.7 255,636.3 255.6,636.1 256.3,635.5 257,635.8 257.6,635.8 258.3,635.4 259,635.5 259.7,635.1 260.3,635.2 261,635.7" stroke="#0a14f0" stroke-width="2.5" fill="none" stroke-linejoin="round" stroke-linecap="round"/><polyline points="194,636.1 194.7,635.9 195.3,636.4 196,636 196.7,635 197.3,636.4 198,635 198.7,635.4 199.4,635.8 200,635.5 200.7,635.7 201.4,635.4 202,636.2 202.7,636.1 203.4,636.2 204.1,635 204.7,635.5 205.4,636.5 206.1,636.2 206.7,636.6 207.4,636.4 208.1,636.7 208.7,635.8 209.4,638.4 210.1,637.2 210.8,637.9 211.4,638.9 212.1,638.5 212.8,638.5 213.4,638.1 214.1,637.9 214.8,639.6 215.4,638.4 216.1,639.1 216.8,637.9 217.5,638.3 218.1,636.5 218.8,635.5 219.5,634.3 220.1,637.9 220.8,641.6 221.5,643.9 222.1,646.3 222.8,647.3 223.5,650.7 224.2,650.1 224.8,648.9 225.5,649.6 226.2,648.2 226.8,646.1 227.5,645.4 228.2,645.6 228.8,643.9 229.5,644 230.2,644.8 230.9,644.3 231.5,643.6 232.2,643.6 232.9,642.8 233.5,641.5 234.2,641.3 234.9,639.8 235.5,640.4 236.2,641.1 236.9,639.5 237.6,638.7 238.2,638.1 238.9,637.8 239.6,637.9 240.2,636.4 240.9,637.3 241.6,636.3 242.2,636.9 242.9,637.4 243.6,635.9 244.2,638.2 244.9,637.4 245.6,636.8 246.3,637.3 246.9,636.8 247.6,637.3 248.3,637.6 248.9,636.2 249.6,637.6 250.3,637.6 251,638.2 251.6,638.1 252.3,637.4 253,637.6 253.6,638 254.3,638.5 255,637.8 255.6,639.2 256.3,638.6 257,638.6 257.6,639 258.3,638.5 259,639 259.7,639.1 260.3,637.8 261,638.4" stroke="#f5101c" stroke-width="2.8" fill="none" stroke-linejoin="round" stroke-linecap="round"/><text x="227" y="603.9" font-size="17.2" text-anchor="middle" fill="#1a1a1a">24</text></g>
<g><line x1="307.9" y1="605.1" x2="307.9" y2="655.6" stroke="#4d4d4d" stroke-width="1.1"/><line x1="307.9" y1="634.1" x2="361.5" y2="634.1" stroke="#222" stroke-width="1.1"/><polyline points="294.5,633.7 295.2,634 295.8,633.6 296.5,633.6 297.2,633.3 297.8,632.9 298.5,633.8 299.2,633.8 299.9,634 300.5,635.3 301.2,634.6 301.9,634.1 302.5,633.9 303.2,634.3 303.9,633.7 304.5,633.7 305.2,634.3 305.9,633.8 306.6,633.7 307.2,634.3 307.9,634.9 308.6,634.3 309.2,635.2 309.9,635.6 310.6,635.7 311.2,636.2 311.9,636 312.6,636.1 313.3,636.1 313.9,636.3 314.6,636.9 315.3,636.7 315.9,636.5 316.6,637 317.3,635.9 317.9,636.2 318.6,635.6 319.3,634.3 320,633.7 320.6,635.7 321.3,638.2 322,640.4 322.6,642.4 323.3,643.5 324,644.6 324.6,644 325.3,643.2 326,642.4 326.7,642.9 327.3,641.6 328,641.1 328.7,640.5 329.3,640 330,639.4 330.7,639.2 331.3,639.2 332,638.9 332.7,638 333.4,638.5 334,637.9 334.7,637.2 335.4,637.3 336,637.9 336.7,636.8 337.4,636.8 338,636.5 338.7,635.8 339.4,635.9 340.1,635.9 340.7,635.4 341.4,635.3 342.1,635.4 342.7,635.2 343.4,635.1 344.1,635.2 344.8,635.1 345.4,634.9 346.1,635.2 346.8,635.2 347.4,634.3 348.1,634.7 348.8,634.6 349.4,634.6 350.1,634.5 350.8,634.4 351.4,634.4 352.1,634.6 352.8,633.9 353.5,634.5 354.1,633.8 354.8,634.8 355.5,634.4 356.1,633.6 356.8,633.9 357.5,634 358.1,633.5 358.8,634 359.5,633.6 360.2,634.4 360.8,633.7 361.5,633.8" stroke="#0a14f0" stroke-width="2.5" fill="none" stroke-linejoin="round" stroke-linecap="round"/><polyline points="294.5,633.8 295.2,633.4 295.8,634.2 296.5,632.7 297.2,633.9 297.8,634.7 298.5,635 299.2,632.8 299.9,633.8 300.5,634.2 301.2,634.4 301.9,634.7 302.5,633.4 303.2,634.1 303.9,633.1 304.5,634.2 305.2,635.4 305.9,633.6 306.6,634.3 307.2,634.4 307.9,633.7 308.6,635 309.2,634.5 309.9,635.5 310.6,636.3 311.2,636 311.9,637 312.6,635.8 313.3,635.8 313.9,636.2 314.6,636.2 315.3,636.5 315.9,637.3 316.6,636.5 317.3,636.9 317.9,636.3 318.6,635.7 319.3,633.9 320,632.8 320.6,636.5 321.3,639.4 322,642.6 322.6,644.4 323.3,646.9 324,647.4 324.6,647.3 325.3,647.3 326,647.9 326.7,646.1 327.3,644.7 328,644.4 328.7,642.6 329.3,642.4 330,642.5 330.7,643.5 331.3,642.8 332,641.9 332.7,641.2 333.4,640.3 334,639.7 334.7,639.6 335.4,638.8 336,638.1 336.7,638.7 337.4,637.8 338,637.3 338.7,636.5 339.4,636.1 340.1,635.6 340.7,635.7 341.4,634.7 342.1,634.6 342.7,635.7 343.4,634.8 344.1,635.4 344.8,634 345.4,635.3 346.1,635.3 346.8,635.2 347.4,635.4 348.1,635.4 348.8,634.6 349.4,635.4 350.1,635.1 350.8,635 351.4,636.2 352.1,634.8 352.8,635.5 353.5,635.5 354.1,636.6 354.8,635.7 355.5,636 356.1,636.7 356.8,635.2 357.5,636.2 358.1,636.7 358.8,636.6 359.5,636.2 360.2,636.2 360.8,636.5 361.5,636.2" stroke="#f5101c" stroke-width="2.8" fill="none" stroke-linejoin="round" stroke-linecap="round"/><text x="327.5" y="602" font-size="17.2" text-anchor="middle" fill="#1a1a1a">25</text></g>
<g><line x1="538.9" y1="603.9" x2="538.9" y2="654.4" stroke="#4d4d4d" stroke-width="1.1"/><line x1="538.9" y1="632.9" x2="592.5" y2="632.9" stroke="#222" stroke-width="1.1"/><polyline points="525.5,632.6 526.2,633.2 526.8,632.6 527.5,632.4 528.2,631.7 528.9,631.2 529.5,631.5 530.2,632.1 530.9,631.8 531.5,631.3 532.2,631.9 532.9,632 533.5,632.1 534.2,633.1 534.9,632.4 535.5,632.8 536.2,632.9 536.9,633.7 537.6,633.9 538.2,634.1 538.9,634 539.6,634.7 540.2,635.2 540.9,635.3 541.6,636 542.2,636.9 542.9,637 543.6,636.3 544.3,637.2 544.9,636.9 545.6,637.1 546.3,638.2 546.9,638.4 547.6,638.7 548.3,639.5 548.9,640 549.6,640.2 550.3,639.9 551,640.5 551.6,640.6 552.3,640.9 553,641.6 553.6,641.1 554.3,642.9 555,642.7 555.6,642.6 556.3,643.6 557,643.2 557.7,642.9 558.3,643.5 559,643 559.7,643.3 560.3,642.5 561,642.4 561.7,642.2 562.4,641.5 563,641.6 563.7,641.1 564.4,641.1 565,641.4 565.7,640.6 566.4,640.2 567,640.6 567.7,639.3 568.4,639.3 569,638.9 569.7,639 570.4,638.2 571.1,637.8 571.7,637.6 572.4,637.1 573.1,637.5 573.7,636 574.4,636.6 575.1,636.7 575.8,635.9 576.4,635.6 577.1,634.8 577.8,635 578.4,634.4 579.1,634.7 579.8,633.5 580.4,633.9 581.1,633.3 581.8,634.1 582.4,633.4 583.1,633.8 583.8,633.1 584.5,633 585.1,633.6 585.8,633.3 586.5,633.2 587.1,633.2 587.8,632.9 588.5,632.8 589.1,632.9 589.8,632.4 590.5,632.2 591.2,632.8 591.8,632.5 592.5,632.3" stroke="#0a14f0" stroke-width="2.5" fill="none" stroke-linejoin="round" stroke-linecap="round"/><polyline points="525.5,633.3 526.2,633 526.8,631.7 527.5,631.2 528.2,631.2 528.9,631.6 529.5,630.4 530.2,630.6 530.9,631.8 531.5,631.7 532.2,631 532.9,632.4 533.5,632 534.2,632.4 534.9,633 535.5,633.1 536.2,634.1 536.9,633.8 537.6,634.9 538.2,632.8 538.9,633.5 539.6,634.4 540.2,635.6 540.9,635.9 541.6,636.2 542.2,636.7 542.9,637.2 543.6,637.7 544.3,636.5 544.9,637.3 545.6,638.6 546.3,639.5 546.9,638.4 547.6,637.8 548.3,639.6 548.9,639.1 549.6,640.5 550.3,641 551,640.6 551.6,640.5 552.3,640.6 553,642.1 553.6,643.1 554.3,642.9 555,644.8 555.6,644 556.3,643.9 557,644.7 557.7,644.3 558.3,644.2 559,643.9 559.7,643.6 560.3,643.6 561,642.6 561.7,642.8 562.4,642.3 563,641.7 563.7,641.4 564.4,641.1 565,640.3 565.7,639.2 566.4,637.5 567,637.3 567.7,636.7 568.4,636.3 569,634.9 569.7,634.7 570.4,634.4 571.1,634 571.7,632.9 572.4,633.6 573.1,632.7 573.7,633.1 574.4,633.8 575.1,633.7 575.8,634.5 576.4,635.2 577.1,635 577.8,635.5 578.4,634.9 579.1,635.3 579.8,634.8 580.4,634.5 581.1,636.6 581.8,634.5 582.4,635.8 583.1,634.9 583.8,635.6 584.5,635.2 585.1,634.7 585.8,636.5 586.5,635.6 587.1,635.9 587.8,637.1 588.5,635.8 589.1,636.3 589.8,636.8 590.5,637.3 591.2,635.6 591.8,638.1 592.5,639.3" stroke="#f5101c" stroke-width="2.8" fill="none" stroke-linejoin="round" stroke-linecap="round"/><text x="558.5" y="600.8" font-size="17.2" text-anchor="middle" fill="#1a1a1a">26</text></g>
<g><line x1="260" y1="666.9" x2="260" y2="717.4" stroke="#4d4d4d" stroke-width="1.1"/><line x1="260" y1="695.9" x2="313.6" y2="695.9" stroke="#222" stroke-width="1.1"/><polyline points="246.6,696.2 247.3,695.9 247.9,695.8 248.6,695.6 249.3,695.9 249.9,695.2 250.6,695.7 251.3,696.1 252,696 252.6,695.9 253.3,695.6 254,695.7 254.6,696 255.3,695.9 256,695.8 256.6,695.2 257.3,696.2 258,695.9 258.7,696 259.3,696.6 260,696.3 260.7,696.7 261.3,697.4 262,697.4 262.7,697.6 263.4,697.9 264,698.7 264.7,698.6 265.4,698 266,699.3 266.7,698.9 267.4,698.7 268,699.1 268.7,699 269.4,699.2 270.1,698.1 270.7,697 271.4,696.7 272.1,695.7 272.7,697.9 273.4,700.9 274.1,703.7 274.7,706.8 275.4,707.4 276.1,708 276.8,707.5 277.4,706.8 278.1,706.6 278.8,704.7 279.4,704.9 280.1,704.1 280.8,702.9 281.4,703.5 282.1,702.5 282.8,702.3 283.4,702.1 284.1,702 284.8,701.2 285.5,701.2 286.1,700.3 286.8,699.9 287.5,700.5 288.1,699.8 288.8,699.5 289.5,699.5 290.1,699.1 290.8,698.4 291.5,698.3 292.2,698.6 292.8,698 293.5,697.4 294.2,697.9 294.8,697.7 295.5,696.6 296.2,696.6 296.9,697.5 297.5,697.3 298.2,696.7 298.9,697.1 299.5,696.7 300.2,696.7 300.9,696.3 301.5,697.3 302.2,697.1 302.9,696.7 303.6,695.9 304.2,696.2 304.9,696.7 305.6,695.9 306.2,695.7 306.9,696 307.6,695.9 308.2,695.5 308.9,695.2 309.6,695.4 310.2,695.2 310.9,695.4 311.6,695.5 312.3,695.6 312.9,695.2 313.6,695.3" stroke="#0a14f0" stroke-width="2.5" fill="none" stroke-linejoin="round" stroke-linecap="round"/><polyline points="246.6,696 247.3,695.2 247.9,695.2 248.6,694.7 249.3,696.1 249.9,695 250.6,695.7 251.3,695.8 252,696 252.6,695 253.3,695.3 254,696.3 254.6,696.5 255.3,695.9 256,696.2 256.6,695 257.3,696.7 258,696.9 258.7,696 259.3,696.1 260,696.3 260.7,696.4 261.3,696.1 262,697.8 262.7,698.4 263.4,699.5 264,698.8 264.7,698.3 265.4,698.8 266,697.8 266.7,698.8 267.4,698.4 268,699.5 268.7,700 269.4,699.5 270.1,699.8 270.7,698.2 271.4,695.5 272.1,694.1 272.7,697.2 273.4,702.1 274.1,706 274.7,709.5 275.4,710.4 276.1,712.1 276.8,713.2 277.4,711.8 278.1,711.2 278.8,711.5 279.4,709.1 280.1,708.2 280.8,707.2 281.4,706.6 282.1,705.5 282.8,706.3 283.4,705.2 284.1,705.9 284.8,704.9 285.5,703.3 286.1,703.7 286.8,702.8 287.5,702.7 288.1,700 288.8,699.8 289.5,699.6 290.1,699.2 290.8,699 291.5,698.4 292.2,697.3 292.8,697.7 293.5,696.4 294.2,697 294.8,697.2 295.5,696 296.2,696.8 296.9,696.6 297.5,697.2 298.2,698.4 298.9,697 299.5,698.1 300.2,696.8 300.9,698.4 301.5,698.6 302.2,697.5 302.9,697.5 303.6,697.8 304.2,698.6 304.9,697.6 305.6,699 306.2,698.6 306.9,698.9 307.6,698.8 308.2,698.2 308.9,699.1 309.6,698.5 310.2,698.6 310.9,700 311.6,699.7 312.3,699.4 312.9,699.6 313.6,699.1" stroke="#f5101c" stroke-width="2.8" fill="none" stroke-linejoin="round" stroke-linecap="round"/><text x="279.6" y="663.8" font-size="17.2" text-anchor="middle" fill="#1a1a1a">27</text></g>
<g><line x1="342.2" y1="668.4" x2="342.2" y2="718.9" stroke="#4d4d4d" stroke-width="1.1"/><line x1="342.2" y1="697.4" x2="395.8" y2="697.4" stroke="#222" stroke-width="1.1"/><polyline points="328.8,698.1 329.5,697.1 330.1,697 330.8,697.2 331.5,697.5 332.1,696.9 332.8,697.2 333.5,696.9 334.2,697.2 334.8,697.1 335.5,697.6 336.2,696.9 336.8,698.2 337.5,697.8 338.2,697.2 338.8,697.9 339.5,697.2 340.2,698 340.9,697.6 341.5,698.1 342.2,698 342.9,698.1 343.5,698.6 344.2,699 344.9,698.4 345.6,699.5 346.2,700.1 346.9,699.6 347.6,699.7 348.2,699.6 348.9,699.5 349.6,700.5 350.2,699.9 350.9,699.9 351.6,700.4 352.2,699.5 352.9,699.8 353.6,698.2 354.3,696.6 354.9,699.8 355.6,701.9 356.3,704.2 356.9,706.4 357.6,707.2 358.3,709.2 358.9,708.1 359.6,707.1 360.3,707 361,705.7 361.6,704.5 362.3,704.2 363,704 363.6,704.7 364.3,703.5 365,703 365.6,702.9 366.3,702.5 367,701.1 367.7,702 368.3,701.9 369,701.2 369.7,701.1 370.3,700.8 371,700.5 371.7,699.9 372.3,699.8 373,700.1 373.7,699.5 374.4,699.1 375,699.3 375.7,698.5 376.4,698.5 377,699 377.7,698.4 378.4,697.7 379.1,697.8 379.7,698.3 380.4,697.9 381.1,698.4 381.7,698.6 382.4,697.8 383.1,697.9 383.7,697.7 384.4,697.8 385.1,697.6 385.8,697.9 386.4,697.5 387.1,697.3 387.8,697.5 388.4,697.2 389.1,698 389.8,697.6 390.4,696.7 391.1,696.5 391.8,697 392.4,697 393.1,697.4 393.8,696.8 394.5,696.6 395.1,697.3 395.8,696.6" stroke="#0a14f0" stroke-width="2.5" fill="none" stroke-linejoin="round" stroke-linecap="round"/><polyline points="328.8,697.1 329.5,697 330.1,697.6 330.8,696.5 331.5,697.7 332.1,696.1 332.8,696.8 333.5,697.6 334.2,696.3 334.8,696.5 335.5,697.6 336.2,696.2 336.8,698 337.5,697.2 338.2,696.7 338.8,698.6 339.5,696.8 340.2,697.4 340.9,697.4 341.5,698.2 342.2,697.7 342.9,698.8 343.5,699.1 344.2,699.1 344.9,700 345.6,698.8 346.2,700.8 346.9,700.4 347.6,700 348.2,699.6 348.9,699.6 349.6,699.9 350.2,700.9 350.9,700.7 351.6,700.3 352.2,699.6 352.9,698.2 353.6,697.5 354.3,697.3 354.9,698.3 355.6,702.3 356.3,706.1 356.9,708.7 357.6,711 358.3,712.5 358.9,712.6 359.6,711.9 360.3,711.5 361,711.1 361.6,709.6 362.3,708 363,707.4 363.6,706.6 364.3,707.8 365,707.4 365.6,706.5 366.3,706.3 367,706 367.7,704.1 368.3,704.1 369,702.8 369.7,702.7 370.3,701.6 371,701.6 371.7,701.7 372.3,700.4 373,700.1 373.7,699 374.4,699.1 375,698.9 375.7,697.9 376.4,697.5 377,697.7 377.7,697.6 378.4,697.9 379.1,697.8 379.7,697.9 380.4,698.3 381.1,698.6 381.7,698.6 382.4,697.4 383.1,698.8 383.7,699 384.4,699.2 385.1,699.1 385.8,699 386.4,699.8 387.1,700.4 387.8,699.3 388.4,700.4 389.1,699.5 389.8,699.7 390.4,699.2 391.1,699 391.8,699.8 392.4,700.4 393.1,700.8 393.8,700.7 394.5,700.3 395.1,701.5 395.8,700.4" stroke="#f5101c" stroke-width="2.8" fill="none" stroke-linejoin="round" stroke-linecap="round"/><text x="361.8" y="665.3" font-size="17.2" text-anchor="middle" fill="#1a1a1a">28</text></g>
<g><line x1="582.2" y1="661" x2="582.2" y2="711.5" stroke="#4d4d4d" stroke-width="1.1"/><line x1="582.2" y1="690" x2="635.8" y2="690" stroke="#222" stroke-width="1.1"/><polyline points="568.8,690.3 569.5,689.6 570.1,689.6 570.8,689.1 571.5,689 572.2,688.9 572.8,689.3 573.5,688.7 574.2,688.2 574.8,688.6 575.5,688.6 576.2,689.3 576.8,688.7 577.5,689.7 578.2,689.5 578.9,690 579.5,690.6 580.2,690.2 580.9,690.8 581.5,691 582.2,691.1 582.9,692 583.5,692.7 584.2,693.1 584.9,694 585.6,694 586.2,694.5 586.9,694.9 587.6,694.8 588.2,695 588.9,695.2 589.6,695.1 590.2,696.4 590.9,696.3 591.6,697.6 592.2,697.7 592.9,698 593.6,698.8 594.3,698.8 594.9,698.2 595.6,698.4 596.3,699 596.9,699.7 597.6,699.2 598.3,700.5 599,701 599.6,700.5 600.3,701.2 601,701.4 601.6,700.8 602.3,701 603,700.6 603.6,700.5 604.3,700.7 605,699.8 605.7,699.8 606.3,700 607,699.6 607.7,698.8 608.3,698.9 609,698.4 609.7,697.9 610.3,697.8 611,697.9 611.7,696.8 612.4,696.3 613,695.9 613.7,695.3 614.4,695.3 615,694.7 615.7,694 616.4,694.3 617,693.3 617.7,693 618.4,693 619.1,692.3 619.7,692.3 620.4,692.6 621.1,691.6 621.7,691.7 622.4,691.5 623.1,691.4 623.7,690.8 624.4,690.9 625.1,691.2 625.8,690.6 626.4,690.4 627.1,690.7 627.8,690.5 628.4,690.3 629.1,690.2 629.8,689.8 630.4,689.4 631.1,689 631.8,689.2 632.5,689.1 633.1,689.1 633.8,689 634.5,689.5 635.1,689.1 635.8,689.2" stroke="#0a14f0" stroke-width="2.5" fill="none" stroke-linejoin="round" stroke-linecap="round"/><polyline points="568.8,690.3 569.5,690 570.1,689.5 570.8,688.8 571.5,689.3 572.2,688.2 572.8,688.5 573.5,688.4 574.2,688.4 574.8,688.2 575.5,689 576.2,689 576.8,690.1 577.5,690.7 578.2,690.8 578.9,689.2 579.5,691.4 580.2,690.4 580.9,690.1 581.5,691.5 582.2,690.7 582.9,691.3 583.5,692.6 584.2,692.6 584.9,694 585.6,695.2 586.2,694.9 586.9,694.9 587.6,694.9 588.2,695.1 588.9,694.2 589.6,696.8 590.2,696.3 590.9,696.3 591.6,696.4 592.2,697.9 592.9,699.3 593.6,699.2 594.3,698.8 594.9,698.6 595.6,698.8 596.3,698.6 596.9,699.8 597.6,700 598.3,701.4 599,702.2 599.6,703.3 600.3,703 601,704 601.6,702.7 602.3,701.4 603,701.5 603.6,700.4 604.3,700.6 605,701.4 605.7,701.2 606.3,700.7 607,698.8 607.7,697.4 608.3,698 609,696.9 609.7,695.9 610.3,695.2 611,694.8 611.7,693.2 612.4,692.5 613,691.9 613.7,692.2 614.4,691.3 615,691.9 615.7,690.1 616.4,691.3 617,691 617.7,691.3 618.4,691.6 619.1,692.2 619.7,692.9 620.4,691.1 621.1,692.1 621.7,692.3 622.4,691.4 623.1,692.5 623.7,692 624.4,692.1 625.1,691.3 625.8,691.8 626.4,692.1 627.1,692.6 627.8,692.4 628.4,692.1 629.1,694 629.8,693.1 630.4,693.5 631.1,693.6 631.8,694.6 632.5,693.3 633.1,694.3 633.8,694.5 634.5,695.1 635.1,696.3 635.8,696.1" stroke="#f5101c" stroke-width="2.8" fill="none" stroke-linejoin="round" stroke-linecap="round"/><text x="601.8" y="657.9" font-size="17.2" text-anchor="middle" fill="#1a1a1a">29</text></g>
<g><line x1="284.1" y1="731.5" x2="284.1" y2="782" stroke="#4d4d4d" stroke-width="1.1"/><line x1="284.1" y1="760.5" x2="337.7" y2="760.5" stroke="#222" stroke-width="1.1"/><polyline points="270.7,761.1 271.4,760.7 272,760.4 272.7,760.2 273.4,760.1 274.1,760 274.7,759.3 275.4,760 276.1,760.7 276.7,760.6 277.4,760.7 278.1,760.6 278.7,760.7 279.4,760.8 280.1,759.9 280.8,760.5 281.4,760.7 282.1,760.8 282.8,760.9 283.4,760.4 284.1,760.8 284.8,761 285.4,762.9 286.1,762.1 286.8,762.2 287.5,762.2 288.1,763.2 288.8,763.9 289.5,763.2 290.1,763.7 290.8,764.2 291.5,763.8 292.1,763.3 292.8,763.4 293.5,763.6 294.2,763.3 294.8,761.2 295.5,761.6 296.2,760.3 296.8,762.9 297.5,764.9 298.2,768.2 298.8,770.6 299.5,772.2 300.2,773.2 300.9,772.6 301.5,772.5 302.2,770.5 302.9,769.5 303.5,769.4 304.2,768.7 304.9,768 305.5,767.2 306.2,767.2 306.9,766.9 307.6,766.8 308.2,766.8 308.9,766.1 309.6,765.6 310.2,765.3 310.9,764.9 311.6,764.3 312.2,764.1 312.9,763.8 313.6,763.4 314.2,763.3 314.9,763 315.6,762.7 316.3,763.2 316.9,762 317.6,762.6 318.3,761.8 318.9,761.9 319.6,761.4 320.3,761.6 321,761.8 321.6,761.1 322.3,761.3 323,761.3 323.6,761.2 324.3,760.8 325,760.8 325.6,760.9 326.3,761.5 327,761 327.7,760.8 328.3,760.1 329,760.6 329.7,760.6 330.3,760.1 331,760.5 331.7,760.4 332.3,760.2 333,760.7 333.7,759.7 334.4,759.8 335,760 335.7,760.3 336.4,759.8 337,759.3 337.7,760" stroke="#0a14f0" stroke-width="2.5" fill="none" stroke-linejoin="round" stroke-linecap="round"/><polyline points="270.7,761.1 271.4,760 272,760.9 272.7,761 273.4,760.1 274.1,760.3 274.7,760.1 275.4,760.3 276.1,759.9 276.7,760.3 277.4,760.7 278.1,760.7 278.7,760.1 279.4,759.9 280.1,760 280.8,760.1 281.4,762.3 282.1,761 282.8,760.6 283.4,760.6 284.1,761.9 284.8,760.6 285.4,761.6 286.1,762.5 286.8,762.5 287.5,763.3 288.1,763.9 288.8,763.1 289.5,763.4 290.1,763.8 290.8,763.8 291.5,763.9 292.1,764.8 292.8,763.3 293.5,764.4 294.2,762.6 294.8,761.3 295.5,760.8 296.2,759 296.8,762.2 297.5,766.7 298.2,771.1 298.8,773.4 299.5,774.5 300.2,777.7 300.9,777.2 301.5,776.8 302.2,776.2 302.9,775.3 303.5,774.2 304.2,772.2 304.9,771.2 305.5,771.5 306.2,770.1 306.9,772.4 307.6,770.4 308.2,769.7 308.9,768.4 309.6,768.1 310.2,767 310.9,766.9 311.6,765.7 312.2,765.4 312.9,763.8 313.6,764.8 314.2,763.2 314.9,763 315.6,762.6 316.3,762.5 316.9,761.6 317.6,762.4 318.3,762.1 318.9,760.9 319.6,762.2 320.3,760.5 321,761.6 321.6,761.4 322.3,761.7 323,761.6 323.6,762.1 324.3,762.2 325,762.1 325.6,761.6 326.3,761.6 327,761.6 327.7,762.2 328.3,762.6 329,763.5 329.7,762.4 330.3,762.4 331,763.2 331.7,762.7 332.3,762.5 333,763.3 333.7,762.8 334.4,763.3 335,764.5 335.7,763.9 336.4,763.9 337,763.5 337.7,764.3" stroke="#f5101c" stroke-width="2.8" fill="none" stroke-linejoin="round" stroke-linecap="round"/><text x="303.7" y="728.4" font-size="17.2" text-anchor="middle" fill="#1a1a1a">30</text></g>
<g><line x1="384.2" y1="731.5" x2="384.2" y2="782" stroke="#4d4d4d" stroke-width="1.1"/><line x1="384.2" y1="760.5" x2="437.8" y2="760.5" stroke="#222" stroke-width="1.1"/><polyline points="370.8,760.6 371.5,760.7 372.1,760.3 372.8,760.1 373.5,759.7 374.1,759.7 374.8,760 375.5,760.1 376.2,760.2 376.8,760.3 377.5,759.9 378.2,761.3 378.8,760.5 379.5,760.4 380.2,760.1 380.8,760.9 381.5,760.5 382.2,760.4 382.9,760.9 383.5,761.5 384.2,761.1 384.9,761.8 385.5,761.5 386.2,762.5 386.9,761.9 387.6,762.8 388.2,763.5 388.9,763.5 389.6,763.7 390.2,763.3 390.9,763 391.6,763.7 392.2,763.4 392.9,764.1 393.6,763.8 394.2,762.2 394.9,762.5 395.6,760.7 396.3,759.9 396.9,763.1 397.6,765.8 398.3,768.6 398.9,770.6 399.6,772.4 400.3,773.2 400.9,772.4 401.6,771.8 402.3,770.8 403,769.9 403.6,768.9 404.3,769 405,767.5 405.6,767.8 406.3,767.6 407,766.7 407.6,766.4 408.3,766.9 409,765.8 409.7,766 410.3,765.5 411,764.6 411.7,764.9 412.3,764.1 413,764 413.7,762.9 414.3,763.4 415,763.4 415.7,763.2 416.4,762.9 417,762.3 417.7,762.2 418.4,761.7 419,761.8 419.7,761.7 420.4,761.5 421.1,761.5 421.7,761.3 422.4,761.1 423.1,761 423.7,761.4 424.4,761.8 425.1,761.4 425.7,760.9 426.4,761.8 427.1,761.1 427.8,760.7 428.4,760.9 429.1,761.1 429.8,760 430.4,760.1 431.1,760.6 431.8,759.9 432.4,759.8 433.1,760.6 433.8,759.1 434.4,760.3 435.1,760 435.8,760.3 436.5,759.8 437.1,760.3 437.8,759.8" stroke="#0a14f0" stroke-width="2.5" fill="none" stroke-linejoin="round" stroke-linecap="round"/><polyline points="370.8,759.9 371.5,760.1 372.1,760.2 372.8,758.9 373.5,760.3 374.1,759.3 374.8,760.1 375.5,759.8 376.2,760.1 376.8,760.1 377.5,760.4 378.2,760.9 378.8,760.8 379.5,760.2 380.2,760.5 380.8,761.1 381.5,760.9 382.2,760.9 382.9,760.5 383.5,760.6 384.2,760.9 384.9,761.7 385.5,761.8 386.2,762.9 386.9,764.2 387.6,763.1 388.2,764.4 388.9,763.9 389.6,763.9 390.2,762.7 390.9,764.1 391.6,763.7 392.2,764.5 392.9,764.7 393.6,764.6 394.2,763.3 394.9,761.6 395.6,759.8 396.3,758.1 396.9,762.7 397.6,766.5 398.3,770.5 398.9,773.4 399.6,775.8 400.3,777.4 400.9,776.4 401.6,777.8 402.3,776 403,774.9 403.6,774 404.3,773.3 405,771.6 405.6,771.2 406.3,771.6 407,771.7 407.6,771 408.3,770.1 409,768.7 409.7,769 410.3,767.4 411,767.3 411.7,766 412.3,765.6 413,764.9 413.7,765 414.3,764.3 415,763.8 415.7,762.7 416.4,761.8 417,761.3 417.7,761.9 418.4,761.3 419,762.2 419.7,762.6 420.4,761.8 421.1,761.8 421.7,762.5 422.4,762.7 423.1,761.6 423.7,762.4 424.4,763 425.1,760.8 425.7,762.1 426.4,762.5 427.1,762 427.8,762.9 428.4,761.7 429.1,763.5 429.8,763.5 430.4,763 431.1,763.5 431.8,762.4 432.4,764.1 433.1,763.8 433.8,763.3 434.4,763.3 435.1,763.1 435.8,763.5 436.5,762.6 437.1,764.1 437.8,763.8" stroke="#f5101c" stroke-width="2.8" fill="none" stroke-linejoin="round" stroke-linecap="round"/><text x="403.8" y="728.4" font-size="17.2" text-anchor="middle" fill="#1a1a1a">31</text></g>
<circle cx="272.8" cy="457.6" r="33.5" fill="#fff" stroke="#000" stroke-width="3"/><text x="272.8" y="468.6" font-size="30.8" font-weight="bold" text-anchor="middle" textLength="53" lengthAdjust="spacingAndGlyphs" fill="#000">REF</text><circle cx="273.2" cy="556.6" r="33.5" fill="#fff" stroke="#000" stroke-width="3"/><text x="273.2" y="567.8" font-size="30.8" font-weight="bold" text-anchor="middle" textLength="62.6" lengthAdjust="spacingAndGlyphs" fill="#000">GND</text>
<g stroke="#000" stroke-width="2.8" fill="none"><line x1="91" y1="585.5" x2="91" y2="782"/><line x1="86" y1="585.8" x2="96" y2="585.8"/><line x1="86" y1="781.8" x2="96" y2="781.8"/><line x1="31" y1="711.4" x2="231.6" y2="711.4"/><line x1="31.6" y1="706.5" x2="31.6" y2="716.3"/><line x1="231.2" y1="706.5" x2="231.2" y2="716.3"/></g><g font-weight="bold" fill="#111" font-size="11.5"><text x="76" y="595.6" text-anchor="end">1.1</text><text x="82" y="706.8" text-anchor="end">0</text><text x="76.5" y="776.4" text-anchor="end">-0.8</text><text x="31.5" y="729.4" text-anchor="middle">-200</text><text x="231" y="728.4" text-anchor="middle">800</text><text x="156.5" y="732.4" text-anchor="middle" textLength="56" lengthAdjust="spacingAndGlyphs">Time [ms]</text><text transform="translate(76.2,646) rotate(-90)" text-anchor="middle" textLength="90" lengthAdjust="spacingAndGlyphs" font-size="12.5">Amplitude [µV]</text></g><rect x="102.2" y="662.6" width="32.2" height="10" fill="#ff4242"/><rect x="102.2" y="679.6" width="32.2" height="10" fill="#2222ff"/><g font-weight="bold" fill="#111" font-size="13.5"><text x="140.2" y="672.8" textLength="41" lengthAdjust="spacingAndGlyphs">Target</text><text x="140.2" y="689.6" textLength="59" lengthAdjust="spacingAndGlyphs">Standard</text></g>
<rect x="848.2" y="102.5" width="35.5" height="225.5" fill="#c9c9c9"/>
<line x1="744.9" y1="159.9" x2="1065.4" y2="159.9" stroke="#111" stroke-width="2.4" stroke-dasharray="0.01,3.25" stroke-linecap="round"/>
<line x1="744.9" y1="271.5" x2="1065.4" y2="271.5" stroke="#111" stroke-width="2.4" stroke-dasharray="0.01,3.25" stroke-linecap="round"/>
<polyline points="745,205.8 747.6,201.5 750.1,201.2 752.7,200.9 755.3,196.7 757.9,194.5 760.4,197.5 763,202.4 765.6,201.4 768.1,197 770.7,197.4 773.3,202.4 775.9,205.4 778.4,208.6 781,214.7 783.6,218.8 786.2,218.9 788.7,224 791.3,230.5 793.9,231.5 796.4,229.7 799,230.1 801.6,226.2 804.2,216.3 806.7,209.9 809.3,214.5 811.9,218.3 814.4,216 817,213 819.6,212.2 822.2,210.6 824.7,211.5 827.3,218.1 829.9,222.3 832.4,219.7 835,215.5 837.6,218.1 840.2,226.5 842.7,234.4 845.3,238 847.9,237.2 850.5,231.1 853,223 855.6,216.7 858.2,210.1 860.7,206.8 863.3,208.2 865.9,210.5 868.5,214.3 871,217.1 873.6,214.7 876.2,214.5 878.7,216.1 881.3,211.9 883.9,204.1 886.5,196.9 889,188.7 891.6,176.9 894.2,167.2 896.7,167.1 899.3,174.6 901.9,186.3 904.5,195.6 907,198.7 909.6,197.2 912.2,198 914.8,200.8 917.3,199.2 919.9,197.3 922.5,202.3 925,210.7 927.6,213.2 930.2,214.1 932.8,217.2 935.3,218.4 937.9,218.2 940.5,218.4 943,217.6 945.6,220.8 948.2,227.7 950.8,231.1 953.3,225.4 955.9,211.4 958.5,200.7 961,204.6 963.6,217.1 966.2,218.7 968.8,208 971.3,201.2 973.9,204.8 976.5,210.5 979.1,211 981.6,210.2 984.2,210.5 986.8,208.5 989.3,203.2 991.9,200 994.5,202 997.1,206.6 999.6,208 1002.2,202.3 1004.8,197.5 1007.3,200.1 1009.9,200.7 1012.5,192.4 1015.1,184 1017.6,184.6 1020.2,195.9 1022.8,207.9 1025.3,207.6 1027.9,197.1 1030.5,194.9 1033.1,206.4 1035.6,216.2 1038.2,219.4 1040.8,222.3 1043.4,223.7 1045.9,220.8 1048.5,215 1051.1,210.9 1053.6,211 1056.2,214.3 1058.8,221.2 1061.4,231.6 1063.9,240.5" fill="none" stroke="#fde2d3" stroke-width="2" stroke-linejoin="round"/>
<polyline points="745,206.9 747.6,209.8 750.1,212.8 752.7,216.6 755.3,225.6 757.9,234.5 760.4,234.5 763,227.1 765.6,212.1 768.1,203.3 770.7,205.4 773.3,204.6 775.9,201.6 778.4,207.5 781,212.5 783.6,211.6 786.2,206.5 788.7,206.9 791.3,213.1 793.9,216.7 796.4,206.6 799,199.4 801.6,209.6 804.2,225.9 806.7,229 809.3,230.5 811.9,227.7 814.4,221.2 817,213.1 819.6,211.7 822.2,216.6 824.7,222.2 827.3,225.7 829.9,224.3 832.4,222.7 835,222.5 837.6,222.3 840.2,220 842.7,225.3 845.3,235.2 847.9,247.9 850.5,261 853,264.9 855.6,261.7 858.2,254.9 860.7,258.7 863.3,271.7 865.9,270 868.5,257.8 871,254.6 873.6,252.9 876.2,239.9 878.7,218.2 881.3,199.8 883.9,192.8 886.5,200.3 889,214.5 891.6,218.3 894.2,207.3 896.7,195.3 899.3,190.3 901.9,195.5 904.5,203.9 907,208.1 909.6,205.5 912.2,201.6 914.8,202.3 917.3,205.1 919.9,209.1 922.5,208.2 925,205.6 927.6,205.6 930.2,209.7 932.8,211.9 935.3,208.5 937.9,206.3 940.5,210.3 943,220.1 945.6,232.3 948.2,237.2 950.8,236.9 953.3,230.6 955.9,225 958.5,229.8 961,237.2 963.6,238.6 966.2,234.5 968.8,233.9 971.3,238.1 973.9,236.9 976.5,231.8 979.1,227.8 981.6,223.2 984.2,215.5 986.8,209.1 989.3,208.5 991.9,210.9 994.5,214.4 997.1,216.3 999.6,216.5 1002.2,218.8 1004.8,222.1 1007.3,221.4 1009.9,218 1012.5,215.4 1015.1,214.7 1017.6,211.2 1020.2,204.4 1022.8,200.7 1025.3,204.6 1027.9,214.4 1030.5,225.1 1033.1,230.6 1035.6,229.7 1038.2,228.7 1040.8,235 1043.4,243.5 1045.9,247.4 1048.5,247.9 1051.1,248.4 1053.6,250.2 1056.2,249.2 1058.8,246.4 1061.4,246.7 1063.9,245.5" fill="none" stroke="#fde2d3" stroke-width="2" stroke-linejoin="round"/>
<polyline points="745,226.8 747.6,226.4 750.1,222.7 752.7,222.3 755.3,221.4 757.9,214.5 760.4,213.1 763,218.9 765.6,214.8 768.1,210.2 770.7,211.5 773.3,212.3 775.9,210 778.4,203.7 781,195.4 783.6,197.4 786.2,210.1 788.7,227.6 791.3,235.1 793.9,234.4 796.4,232.9 799,235.4 801.6,237.5 804.2,236.5 806.7,231.2 809.3,235.4 811.9,243.1 814.4,246.8 817,243.4 819.6,243.1 822.2,246.8 824.7,246.3 827.3,242.8 829.9,240 832.4,240.9 835,240.9 837.6,239.3 840.2,235.8 842.7,236.8 845.3,240.9 847.9,247.5 850.5,249.8 853,239.7 855.6,234.1 858.2,239.2 860.7,245.3 863.3,255.3 865.9,268.9 868.5,273.5 871,261.9 873.6,237.8 876.2,217.8 878.7,211 881.3,216.2 883.9,229.4 886.5,240 889,234.3 891.6,219 894.2,210.9 896.7,210 899.3,207.9 901.9,206.6 904.5,202.2 907,202.4 909.6,210.3 912.2,215.1 914.8,217.2 917.3,219.2 919.9,221.4 922.5,218.8 925,215.1 927.6,216.6 930.2,221.8 932.8,223.2 935.3,224.5 937.9,229.9 940.5,231.9 943,232.5 945.6,234.2 948.2,228.2 950.8,222.7 953.3,221.5 955.9,216.9 958.5,209.2 961,207.4 963.6,217.1 966.2,227.4 968.8,233.8 971.3,244.3 973.9,245.6 976.5,226.2 979.1,209.4 981.6,206.4 984.2,206.9 986.8,205.6 989.3,203 991.9,203.5 994.5,205.6 997.1,201.7 999.6,197.4 1002.2,201.3 1004.8,206.6 1007.3,210.5 1009.9,219.3 1012.5,227.1 1015.1,228.6 1017.6,228.6 1020.2,227.1 1022.8,224.4 1025.3,225.7 1027.9,229.3 1030.5,228.8 1033.1,222.9 1035.6,218 1038.2,216.9 1040.8,212.9 1043.4,206.3 1045.9,202.8 1048.5,201 1051.1,204.8 1053.6,215.9 1056.2,222.4 1058.8,219 1061.4,213.6 1063.9,212.9" fill="none" stroke="#fde2d3" stroke-width="2" stroke-linejoin="round"/>
<polyline points="745,218.1 747.6,210.3 750.1,204.8 752.7,207.8 755.3,210.8 757.9,214 760.4,224.4 763,236.4 765.6,239.5 768.1,237.3 770.7,233.9 773.3,228.7 775.9,215.6 778.4,203 781,209.5 783.6,221.2 786.2,226.1 788.7,230.7 791.3,235.1 793.9,236.4 796.4,234.7 799,235.9 801.6,241.3 804.2,244.8 806.7,238.3 809.3,232.3 811.9,234.6 814.4,245.2 817,250.4 819.6,245.5 822.2,238.2 824.7,233.7 827.3,228.3 829.9,219.8 832.4,216 835,219.9 837.6,226.7 840.2,230.2 842.7,233.7 845.3,234.6 847.9,233.1 850.5,234 853,230.7 855.6,224.4 858.2,221.6 860.7,222.3 863.3,227 865.9,236.2 868.5,244.4 871,243.8 873.6,238.3 876.2,235.6 878.7,230.5 881.3,220.4 883.9,210.7 886.5,207.6 889,211.1 891.6,214.8 894.2,214.9 896.7,214.7 899.3,213.6 901.9,213.8 904.5,217.7 907,220.9 909.6,220.4 912.2,222.2 914.8,230 917.3,238 919.9,242.6 922.5,244.5 925,244.4 927.6,236.4 930.2,224 932.8,217.5 935.3,216.2 937.9,218.1 940.5,224.4 943,234.3 945.6,241.7 948.2,239.3 950.8,234 953.3,231.1 955.9,235.3 958.5,245.9 961,249.6 963.6,241.1 966.2,228.7 968.8,224.4 971.3,233.4 973.9,248.1 976.5,253.3 979.1,245.3 981.6,235.5 984.2,229.9 986.8,228.6 989.3,232.6 991.9,237.9 994.5,237.6 997.1,232.3 999.6,226.6 1002.2,220.7 1004.8,219.4 1007.3,227.2 1009.9,237.9 1012.5,243.3 1015.1,240.4 1017.6,234.1 1020.2,231.9 1022.8,233.8 1025.3,238.9 1027.9,250.3 1030.5,262.5 1033.1,258.1 1035.6,240.3 1038.2,234.1 1040.8,245.4 1043.4,257.3 1045.9,258.7 1048.5,258.1 1051.1,260.6 1053.6,255.4 1056.2,245.3 1058.8,240.5 1061.4,239.3 1063.9,237.7" fill="none" stroke="#fde2d3" stroke-width="2" stroke-linejoin="round"/>
<polyline points="745,236.8 747.6,233.7 750.1,230.6 752.7,229.8 755.3,230.9 757.9,234.2 760.4,238.5 763,239.6 765.6,230.5 768.1,216.8 770.7,210.5 773.3,217 775.9,226.2 778.4,231.9 781,236.1 783.6,236.6 786.2,229.1 788.7,225.2 791.3,227.9 793.9,230.3 796.4,227.2 799,220.4 801.6,212.9 804.2,209.3 806.7,210.2 809.3,216.3 811.9,219.1 814.4,219.3 817,217 819.6,217.3 822.2,222 824.7,225.1 827.3,226.3 829.9,230 832.4,232.2 835,226.8 837.6,221.4 840.2,223.2 842.7,224.7 845.3,213.6 847.9,204.6 850.5,211.9 853,223.4 855.6,228.8 858.2,229 860.7,231.5 863.3,238.7 865.9,241.6 868.5,238.4 871,238.3 873.6,240 876.2,236 878.7,227.2 881.3,218.8 883.9,211.6 886.5,207.1 889,208.6 891.6,214 894.2,213.3 896.7,202.1 899.3,189.5 901.9,189.3 904.5,196.9 907,199.1 909.6,194.2 912.2,193.2 914.8,201.1 917.3,211 919.9,218.9 922.5,221.9 925,223.9 927.6,225.9 930.2,229 932.8,234.3 935.3,237.8 937.9,234.3 940.5,227.9 943,226.6 945.6,226.2 948.2,218.6 950.8,212.2 953.3,212 955.9,215.3 958.5,219.3 961,223.2 963.6,228.2 966.2,229.3 968.8,222.5 971.3,211 973.9,202.7 976.5,204.6 979.1,209.2 981.6,208 984.2,207.2 986.8,213.4 989.3,219.8 991.9,220.7 994.5,217.3 997.1,213 999.6,213.2 1002.2,215.7 1004.8,212.3 1007.3,208.3 1009.9,212.7 1012.5,221.6 1015.1,229.7 1017.6,229.6 1020.2,218.4 1022.8,210.2 1025.3,214.4 1027.9,219.1 1030.5,213.6 1033.1,204 1035.6,198 1038.2,199.1 1040.8,205.9 1043.4,213.1 1045.9,214.5 1048.5,208.1 1051.1,200.6 1053.6,197.4 1056.2,200.7 1058.8,210.3 1061.4,221.6 1063.9,231.6" fill="none" stroke="#fde2d3" stroke-width="2" stroke-linejoin="round"/>
<polyline points="745,249.8 747.6,231 750.1,208.4 752.7,202.3 755.3,212.2 757.9,222.7 760.4,228.7 763,232.1 765.6,215.5 768.1,197.4 770.7,196.7 773.3,201.6 775.9,198 778.4,189 781,177.2 783.6,174.7 786.2,177.9 788.7,189.7 791.3,205 793.9,220.5 796.4,223.4 799,223 801.6,219.6 804.2,214.7 806.7,206.9 809.3,217.9 811.9,227.6 814.4,231.6 817,230.1 819.6,231.3 822.2,230.3 824.7,220.6 827.3,213.6 829.9,216.8 832.4,225.4 835,227.5 837.6,230.7 840.2,233.7 842.7,237.9 845.3,236.8 847.9,246.9 850.5,267.2 853,269.8 855.6,269.8 858.2,277.6 860.7,287.2 863.3,294.1 865.9,293.5 868.5,290.6 871,284.6 873.6,269.1 876.2,252.6 878.7,236.5 881.3,224.9 883.9,217.1 886.5,208.7 889,196.2 891.6,182.9 894.2,173.6 896.7,168.6 899.3,162.1 901.9,161.9 904.5,161.4 907,160.3 909.6,161.3 912.2,163.4 914.8,174.3 917.3,187.2 919.9,195 922.5,188.1 925,182.8 927.6,186.4 930.2,191.5 932.8,191.3 935.3,193.3 937.9,206.3 940.5,223.1 943,241 945.6,252.6 948.2,240.9 950.8,229.6 953.3,223.6 955.9,218.7 958.5,221.9 961,226.7 963.6,231.1 966.2,229.4 968.8,221.6 971.3,219.9 973.9,225.8 976.5,231.9 979.1,233.9 981.6,233.6 984.2,230.8 986.8,225.8 989.3,220.8 991.9,217.3 994.5,214 997.1,215.5 999.6,219.6 1002.2,214.7 1004.8,207.2 1007.3,211.4 1009.9,223.4 1012.5,228.8 1015.1,225.8 1017.6,217 1020.2,204.2 1022.8,193.6 1025.3,195.1 1027.9,202.2 1030.5,204 1033.1,200.8 1035.6,200.6 1038.2,202.2 1040.8,205.2 1043.4,209.9 1045.9,209.6 1048.5,203.2 1051.1,200.1 1053.6,202.9 1056.2,203.1 1058.8,202 1061.4,203.3 1063.9,206.9" fill="none" stroke="#fde2d3" stroke-width="2" stroke-linejoin="round"/>
<polyline points="745,218.4 747.6,207.7 750.1,207.3 752.7,212.4 755.3,211.7 757.9,207.4 760.4,211.2 763,219.8 765.6,217 768.1,211.7 770.7,213.3 773.3,212.7 775.9,205.4 778.4,203 781,209.1 783.6,216.5 786.2,214.1 788.7,208.1 791.3,205.1 793.9,205.9 796.4,206.1 799,213.8 801.6,228.1 804.2,238.4 806.7,237.1 809.3,234.3 811.9,226.2 814.4,216.7 817,212.5 819.6,215.7 822.2,215 824.7,209.7 827.3,213.8 829.9,225.1 832.4,233.8 835,232.6 837.6,223.3 840.2,211.8 842.7,207 845.3,208.3 847.9,216.5 850.5,229.8 853,239.3 855.6,246.4 858.2,252.5 860.7,255.9 863.3,254.8 865.9,249.3 868.5,246 871,248.8 873.6,247.6 876.2,238.1 878.7,231.6 881.3,233.7 883.9,233.1 886.5,228.3 889,224.7 891.6,220.3 894.2,215.7 896.7,211.7 899.3,206.2 901.9,206.6 904.5,209 907,205.2 909.6,199.6 912.2,198.9 914.8,202.5 917.3,206 919.9,209 922.5,209 925,212.1 927.6,215.8 930.2,212.7 932.8,206.5 935.3,206.9 937.9,212.2 940.5,213 943,213.2 945.6,215.1 948.2,211.2 950.8,210.5 953.3,213.2 955.9,214.9 958.5,217.2 961,219.5 963.6,225.4 966.2,231.4 968.8,231.5 971.3,228.6 973.9,227.3 976.5,231.3 979.1,237.1 981.6,236.4 984.2,229.6 986.8,222 989.3,212.8 991.9,205.3 994.5,207.6 997.1,213.4 999.6,214.3 1002.2,216 1004.8,226.3 1007.3,235.2 1009.9,232.2 1012.5,222.8 1015.1,219 1017.6,220.6 1020.2,219.7 1022.8,218.2 1025.3,220.3 1027.9,223.4 1030.5,223.2 1033.1,221.1 1035.6,221.6 1038.2,225.3 1040.8,232.6 1043.4,239.9 1045.9,243.7 1048.5,243.6 1051.1,240.9 1053.6,243.2 1056.2,252.9 1058.8,257.2 1061.4,247.6 1063.9,235" fill="none" stroke="#fde2d3" stroke-width="2" stroke-linejoin="round"/>
<polyline points="745,245.7 747.6,219.8 750.1,199.6 752.7,203 755.3,218.2 757.9,229.9 760.4,239.7 763,247.6 765.6,230.9 768.1,215.8 770.7,221.7 773.3,227.1 775.9,215.1 778.4,200.8 781,195.6 783.6,201.8 786.2,201.3 788.7,204 791.3,213.2 793.9,224.8 796.4,224.7 799,223.1 801.6,220.5 804.2,219.2 806.7,215.6 809.3,234.3 811.9,246.9 814.4,245.4 817,236.1 819.6,233 822.2,229.3 824.7,219.5 827.3,214.1 829.9,212.3 832.4,211.3 835,205.6 837.6,203.1 840.2,204.4 842.7,218.8 845.3,229.4 847.9,240.6 850.5,253.8 853,249.2 855.6,250.1 858.2,262.9 860.7,276.5 863.3,288.2 865.9,290.2 868.5,284 871,276.4 873.6,265.1 876.2,254.3 878.7,242.9 881.3,235.1 883.9,229.9 886.5,220.4 889,205 891.6,191.3 894.2,182.2 896.7,177.5 899.3,169 901.9,165.3 904.5,170 907,179.5 909.6,181.6 912.2,176.2 914.8,180.4 917.3,187.6 919.9,191.9 922.5,188.1 925,189.5 927.6,193 930.2,190.9 932.8,183.3 935.3,178 937.9,186.2 940.5,206.4 943,233.5 945.6,253.6 948.2,248.9 950.8,243.1 953.3,238.6 955.9,234.6 958.5,237 961,236 963.6,236 966.2,237.4 968.8,236.2 971.3,235.9 973.9,237.4 976.5,239.2 979.1,238.6 981.6,238.6 984.2,236.5 986.8,225.6 989.3,216.5 991.9,218.3 994.5,222.8 997.1,221.4 999.6,211.6 1002.2,202.2 1004.8,207.8 1007.3,224.2 1009.9,235.4 1012.5,231.5 1015.1,219.4 1017.6,210.9 1020.2,207.9 1022.8,205.3 1025.3,205.6 1027.9,211.1 1030.5,219.9 1033.1,225.2 1035.6,227.7 1038.2,228.6 1040.8,226.8 1043.4,226.6 1045.9,229.8 1048.5,232.2 1051.1,232.5 1053.6,233 1056.2,235.2 1058.8,238.3 1061.4,239.1 1063.9,240.3" fill="none" stroke="#fde2d3" stroke-width="2" stroke-linejoin="round"/>
<polyline points="745,217.6 747.6,214 750.1,211.9 752.7,211.4 755.3,207.5 757.9,200 760.4,193.8 763,197 765.6,204.4 768.1,203.2 770.7,196.8 773.3,198.4 775.9,206.8 778.4,213 781,212.2 783.6,209.1 786.2,209.3 788.7,210.5 791.3,209.7 793.9,211.7 796.4,213.6 799,211.4 801.6,209.6 804.2,211 806.7,215.2 809.3,222 811.9,227.4 814.4,229.8 817,232.1 819.6,235.6 822.2,235.5 824.7,225.9 827.3,213.6 829.9,207.8 832.4,208.4 835,208 837.6,203.6 840.2,206.2 842.7,218.4 845.3,226.1 847.9,225.6 850.5,224.5 853,227.7 855.6,230.5 858.2,227.4 860.7,224.4 863.3,222.6 865.9,218.4 868.5,214.2 871,212.1 873.6,213 876.2,213.9 878.7,213.4 881.3,218.6 883.9,230.3 886.5,237.5 889,233.2 891.6,223.7 894.2,215.1 896.7,210 899.3,211.1 901.9,215.8 904.5,221 907,225.9 909.6,230.5 912.2,237.8 914.8,243.6 917.3,238.1 919.9,226.5 922.5,221.6 925,224.5 927.6,226.7 930.2,221.4 932.8,213.4 935.3,210.2 937.9,208.7 940.5,207.2 943,210.4 945.6,215 948.2,218.8 950.8,224 953.3,227.5 955.9,230.5 958.5,232.1 961,229 963.6,223.5 966.2,219 968.8,215.1 971.3,208.7 973.9,201 976.5,198.1 979.1,202.7 981.6,211.6 984.2,220.4 986.8,222.5 989.3,217.3 991.9,212.6 994.5,212.2 997.1,210.3 999.6,206.7 1002.2,207.8 1004.8,210.2 1007.3,213.3 1009.9,221.9 1012.5,231.7 1015.1,238.6 1017.6,239.9 1020.2,233.2 1022.8,221.5 1025.3,212.3 1027.9,206 1030.5,200.4 1033.1,201.4 1035.6,210.6 1038.2,220.2 1040.8,224.7 1043.4,223.5 1045.9,221.9 1048.5,226.8 1051.1,234.8 1053.6,239.2 1056.2,241.3 1058.8,244 1061.4,244.8 1063.9,242" fill="none" stroke="#fde2d3" stroke-width="2" stroke-linejoin="round"/>
<polyline points="745,215.1 747.6,201.2 750.1,195.5 752.7,203.3 755.3,208.9 757.9,205.1 760.4,197.5 763,192.2 765.6,190.5 768.1,194.9 770.7,201.3 773.3,200.1 775.9,193 778.4,188.2 781,182.3 783.6,178.1 786.2,183.3 788.7,196.9 791.3,205.9 793.9,206.9 796.4,205 799,208.9 801.6,212.2 804.2,209.6 806.7,204.3 809.3,207 811.9,211 814.4,215.4 817,217.1 819.6,215.9 822.2,216.2 824.7,214.8 827.3,205.4 829.9,199.7 832.4,208.9 835,221.1 837.6,227.1 840.2,225.6 842.7,223.6 845.3,223.8 847.9,229.8 850.5,235.7 853,233.6 855.6,235.1 858.2,240.3 860.7,242.4 863.3,241.6 865.9,238.1 868.5,235.1 871,233.4 873.6,230.9 876.2,229.3 878.7,226.7 881.3,220.9 883.9,211.8 886.5,207.5 889,208.9 891.6,207.9 894.2,202.8 896.7,198.3 899.3,193.9 901.9,192.9 904.5,194.8 907,193.6 909.6,187.6 912.2,184.3 914.8,188.3 917.3,191.6 919.9,190.3 922.5,185.2 925,186.3 927.6,194.5 930.2,198.4 932.8,193.1 935.3,186 937.9,186.5 940.5,194 943,203.2 945.6,213.6 948.2,221.7 950.8,225.2 953.3,221.4 955.9,215.3 958.5,213 961,210.6 963.6,210.1 966.2,213.6 968.8,212.5 971.3,206.5 973.9,204.2 976.5,205.5 979.1,205 981.6,204.2 984.2,205.9 986.8,210.5 989.3,216.7 991.9,223 994.5,228.6 997.1,228.3 999.6,220.9 1002.2,213.3 1004.8,213.2 1007.3,217.9 1009.9,222.1 1012.5,222.9 1015.1,221.6 1017.6,219.5 1020.2,218.2 1022.8,214.9 1025.3,205.3 1027.9,200.9 1030.5,210.4 1033.1,222.9 1035.6,229.8 1038.2,231.2 1040.8,229.4 1043.4,227.4 1045.9,232.1 1048.5,240.9 1051.1,243.9 1053.6,238.2 1056.2,227.4 1058.8,222 1061.4,226.9 1063.9,234.3" fill="none" stroke="#fde2d3" stroke-width="2" stroke-linejoin="round"/>
<polyline points="745,223.1 747.6,208.5 750.1,191.9 752.7,188 755.3,190.6 757.9,194 760.4,201.9 763,211.5 765.6,202.4 768.1,190.4 770.7,191.7 773.3,195.6 775.9,192.1 778.4,187.5 781,185 783.6,186 786.2,183.3 788.7,184.8 791.3,189.3 793.9,194.7 796.4,190.6 799,190.3 801.6,199.9 804.2,212.5 806.7,215.1 809.3,223.8 811.9,229.2 814.4,230 817,222.6 819.6,216.1 822.2,217.5 824.7,224 827.3,231.3 829.9,237.2 832.4,239.5 835,231.3 837.6,220.9 840.2,207.8 842.7,203.4 845.3,210.7 847.9,234.2 850.5,262 853,266.7 855.6,263.1 858.2,266.7 860.7,272.9 863.3,275.1 865.9,267.2 868.5,259.5 871,260.6 873.6,257.2 876.2,249.8 878.7,245.3 881.3,245.7 883.9,241.5 886.5,229.1 889,217.7 891.6,213 894.2,209.5 896.7,204.3 899.3,198.1 901.9,201.6 904.5,206.4 907,203.7 909.6,198.5 912.2,200.4 914.8,210.6 917.3,214.7 919.9,215 922.5,212.5 925,212.4 927.6,212 930.2,209.7 932.8,203.4 935.3,202.5 937.9,213.8 940.5,224.6 943,232.8 945.6,241.7 948.2,243.1 950.8,243.5 953.3,234.7 955.9,221 958.5,220.5 961,227.9 963.6,235.8 966.2,240.6 968.8,241.9 971.3,241.5 973.9,237 976.5,231.1 979.1,228.8 981.6,231.4 984.2,235 986.8,233.9 989.3,224.2 991.9,210 994.5,201.6 997.1,200.2 999.6,204.3 1002.2,214 1004.8,225.2 1007.3,229.8 1009.9,227.7 1012.5,222.5 1015.1,216.7 1017.6,214.1 1020.2,218.2 1022.8,222 1025.3,221.5 1027.9,219.8 1030.5,218.7 1033.1,218.6 1035.6,219.7 1038.2,216.5 1040.8,212.3 1043.4,216.7 1045.9,229.3 1048.5,238.9 1051.1,238.3 1053.6,229.6 1056.2,220.4 1058.8,221.1 1061.4,232.6 1063.9,244.7" fill="none" stroke="#fde2d3" stroke-width="2" stroke-linejoin="round"/>
<polyline points="745,218.1 747.6,219.2 750.1,223.1 752.7,234.5 755.3,247 757.9,250.2 760.4,246.1 763,242.3 765.6,229.2 768.1,214.9 770.7,214.8 773.3,225.1 775.9,230.1 778.4,225.8 781,221.8 783.6,224.8 786.2,219.4 788.7,209 791.3,206.5 793.9,208.9 796.4,204.3 799,203 801.6,205.9 804.2,206.3 806.7,203 809.3,212.4 811.9,225.3 814.4,236.2 817,244.1 819.6,249.3 822.2,244.8 824.7,236.3 827.3,232.3 829.9,230.1 832.4,227.9 835,223.7 837.6,220.6 840.2,217.1 842.7,218.1 845.3,221.3 847.9,230.9 850.5,243 853,242 855.6,241.1 858.2,245.4 860.7,244.8 863.3,244.2 865.9,251.7 868.5,263.8 871,266.1 873.6,250.2 876.2,230.6 878.7,215 881.3,207.5 883.9,209.5 886.5,213.6 889,213.9 891.6,209.4 894.2,201.6 896.7,196.1 899.3,196.4 901.9,202.8 904.5,203.9 907,200.9 909.6,197.9 912.2,192.1 914.8,190.8 917.3,195.6 919.9,201 922.5,200.8 925,203.3 927.6,208.2 930.2,207.1 932.8,198.1 935.3,192.1 937.9,198.5 940.5,212.6 943,226.8 945.6,234 948.2,228.7 950.8,222.2 953.3,217 955.9,220.5 958.5,237.6 961,248.9 963.6,242.2 966.2,227.8 968.8,220.8 971.3,221.9 973.9,225.5 976.5,233.1 979.1,244.3 981.6,249.4 984.2,241.7 986.8,226.8 989.3,215.4 991.9,213.7 994.5,218.6 997.1,220.5 999.6,217.4 1002.2,216.1 1004.8,218.1 1007.3,221.2 1009.9,225.1 1012.5,227.5 1015.1,227.2 1017.6,222.8 1020.2,215.6 1022.8,210.1 1025.3,210.7 1027.9,213 1030.5,211.2 1033.1,210.8 1035.6,215.8 1038.2,221.7 1040.8,224.9 1043.4,221.4 1045.9,213.1 1048.5,206.7 1051.1,204 1053.6,206.3 1056.2,212.4 1058.8,216.7 1061.4,215.7 1063.9,213.5" fill="none" stroke="#fde2d3" stroke-width="2" stroke-linejoin="round"/>
<polyline points="745,245 747.6,231.5 750.1,213.5 752.7,200.3 755.3,199.5 757.9,211.5 760.4,222.9 763,224.3 765.6,219.4 768.1,219.7 770.7,224.7 773.3,227.2 775.9,228.4 778.4,229.2 781,225 783.6,222 786.2,222.3 788.7,219.3 791.3,211.6 793.9,207 796.4,208.1 799,211 801.6,208.6 804.2,201.9 806.7,194.1 809.3,197.3 811.9,206.5 814.4,213.7 817,217.8 819.6,217.9 822.2,212.3 824.7,206.3 827.3,202.8 829.9,200.2 832.4,200.8 835,205.6 837.6,212.7 840.2,216.4 842.7,219.5 845.3,221.3 847.9,220.2 850.5,217.4 853,215.5 855.6,221 858.2,232.5 860.7,241.4 863.3,245.6 865.9,246.1 868.5,244.1 871,239.5 873.6,229.7 876.2,220.7 878.7,221.2 881.3,226.5 883.9,224.9 886.5,217.7 889,214 891.6,214.6 894.2,216.5 896.7,217.9 899.3,214.6 901.9,214.8 904.5,219.2 907,215.5 909.6,208.1 912.2,209.8 914.8,219.8 917.3,229.8 919.9,234.6 922.5,228.8 925,219 927.6,213.3 930.2,210.5 932.8,208.9 935.3,211.9 937.9,218.2 940.5,220.7 943,222.5 945.6,228 948.2,232.1 950.8,229.2 953.3,214.6 955.9,198 958.5,191.5 961,194.2 963.6,202.3 966.2,213.5 968.8,223.8 971.3,231.1 973.9,235.4 976.5,236.5 979.1,236.6 981.6,233.2 984.2,224.8 986.8,219 989.3,217.6 991.9,216.6 994.5,220 997.1,231.3 999.6,241.1 1002.2,239.9 1004.8,234.8 1007.3,234.4 1009.9,234.2 1012.5,227.3 1015.1,219.2 1017.6,215.9 1020.2,221 1022.8,231.4 1025.3,240.8 1027.9,247.4 1030.5,248.8 1033.1,243.2 1035.6,235.5 1038.2,233.7 1040.8,237 1043.4,238.6 1045.9,238.3 1048.5,236.5 1051.1,233.6 1053.6,231.9 1056.2,233.2 1058.8,239.1 1061.4,244.6 1063.9,248.9" fill="none" stroke="#fde2d3" stroke-width="2" stroke-linejoin="round"/>
<polyline points="745,237.7 747.6,230.2 750.1,224.5 752.7,233.9 755.3,249.2 757.9,253.4 760.4,252.2 763,255.5 765.6,239.9 768.1,221.6 770.7,221.3 773.3,230.5 775.9,230.6 778.4,219.1 781,200.6 783.6,192.7 786.2,193.3 788.7,205.6 791.3,216.4 793.9,225.3 796.4,222.9 799,223.1 801.6,224.2 804.2,224.5 806.7,225.1 809.3,245.6 811.9,251.3 814.4,243.3 817,233.4 819.6,234.6 822.2,238.3 824.7,235.4 827.3,232.2 829.9,234.6 832.4,244.8 835,249.1 837.6,248 840.2,240.6 842.7,244.9 845.3,253.3 847.9,265.5 850.5,277.9 853,271.1 855.6,268.5 858.2,276.5 860.7,283.2 863.3,288.3 865.9,290.5 868.5,293.2 871,294 873.6,278.8 876.2,259 878.7,244.2 881.3,233 883.9,222.4 886.5,215.6 889,208.8 891.6,197.4 894.2,182.2 896.7,169.6 899.3,160 901.9,165 904.5,174 907,180 909.6,182.6 912.2,183.3 914.8,188.8 917.3,191.6 919.9,197 922.5,199.3 925,203.1 927.6,206.8 930.2,207.8 932.8,206 935.3,212.1 937.9,227.3 940.5,240.3 943,258.3 945.6,279.5 948.2,279.3 950.8,269.3 953.3,246.8 955.9,225.2 958.5,227.4 961,238.8 963.6,251.9 966.2,261.9 968.8,257.9 971.3,245.5 973.9,238.9 976.5,239.6 979.1,237.5 981.6,232.5 984.2,231.1 986.8,232.6 989.3,231.5 991.9,229.9 994.5,230.1 997.1,227.3 999.6,224.5 1002.2,225.7 1004.8,223.9 1007.3,215.1 1009.9,211.1 1012.5,213.9 1015.1,217.3 1017.6,220 1020.2,222.4 1022.8,219.4 1025.3,216.6 1027.9,218.5 1030.5,222.5 1033.1,226.2 1035.6,230.3 1038.2,232.9 1040.8,234.2 1043.4,236.5 1045.9,238.1 1048.5,235.4 1051.1,230.8 1053.6,227.1 1056.2,224.7 1058.8,226.2 1061.4,228.7 1063.9,234.2" fill="none" stroke="#fde2d3" stroke-width="2" stroke-linejoin="round"/>
<polyline points="745,225.3 747.6,223.6 750.1,214.7 752.7,205.7 755.3,202.5 757.9,208 760.4,216.5 763,219.3 765.6,208.2 768.1,200.4 770.7,205.3 773.3,208.8 775.9,203.4 778.4,197.6 781,195.3 783.6,199.5 786.2,203.4 788.7,205 791.3,206.5 793.9,212.2 796.4,212.8 799,208.2 801.6,200.3 804.2,197.6 806.7,201.5 809.3,210.4 811.9,214.2 814.4,221.4 817,228.8 819.6,230.1 822.2,222.8 824.7,215.9 827.3,218.3 829.9,224 832.4,226.6 835,222.6 837.6,218.1 840.2,216.1 842.7,222.8 845.3,234.1 847.9,248 850.5,255.7 853,243 855.6,226.9 858.2,218.9 860.7,219.7 863.3,229.9 865.9,238.1 868.5,239.4 871,237.7 873.6,233.9 876.2,227.9 878.7,213.8 881.3,198.6 883.9,193.3 886.5,195.5 889,198.1 891.6,195.5 894.2,191.1 896.7,191.2 899.3,192.1 901.9,192.8 904.5,189.9 907,187.1 909.6,193.1 912.2,207.7 914.8,218.9 917.3,216.6 919.9,209 922.5,200.4 925,197.3 927.6,197.8 930.2,199 932.8,203.9 935.3,208.7 937.9,209.8 940.5,213.7 943,226.8 945.6,238.7 948.2,234 950.8,224.8 953.3,215 955.9,203.6 958.5,196.9 961,195.2 963.6,199.5 966.2,203.7 968.8,203 971.3,203.4 973.9,208.5 976.5,219 979.1,229.5 981.6,230.3 984.2,221.6 986.8,212.7 989.3,207 991.9,208.3 994.5,216.4 997.1,218.1 999.6,210.9 1002.2,207 1004.8,213.2 1007.3,222.7 1009.9,228.1 1012.5,226.1 1015.1,219.7 1017.6,212.8 1020.2,211.2 1022.8,213.9 1025.3,214.9 1027.9,212.6 1030.5,207.9 1033.1,204.3 1035.6,205.2 1038.2,208.6 1040.8,214 1043.4,219.2 1045.9,219.1 1048.5,212.5 1051.1,203.7 1053.6,199.2 1056.2,205.4 1058.8,221.4 1061.4,236.4 1063.9,245.1" fill="none" stroke="#fde2d3" stroke-width="2" stroke-linejoin="round"/>
<polyline points="745,247.7 747.6,231.9 750.1,214.6 752.7,210.8 755.3,218.3 757.9,226.8 760.4,232.6 763,236.9 765.6,224.2 768.1,213.1 770.7,214.8 773.3,218.7 775.9,215.4 778.4,209.7 781,210.1 783.6,223 786.2,232.9 788.7,242.8 791.3,248.9 793.9,248.8 796.4,239.3 799,238.4 801.6,242.3 804.2,244.8 806.7,244.9 809.3,260.8 811.9,263.5 814.4,256.6 817,252 819.6,250.9 822.2,244.2 824.7,239.9 827.3,249 829.9,261.3 832.4,267.6 835,253.6 837.6,229.3 840.2,217.5 842.7,234.1 845.3,247.6 847.9,254 850.5,264.1 853,261.9 855.6,262.4 858.2,270.6 860.7,276.9 863.3,281.8 865.9,282 868.5,278.2 871,272.3 873.6,261.3 876.2,255.2 878.7,250.1 881.3,242.1 883.9,233.7 886.5,223.8 889,209.8 891.6,195.1 894.2,183.9 896.7,174.9 899.3,165.8 901.9,173 904.5,188.3 907,195.9 909.6,191.8 912.2,188.4 914.8,196 917.3,204.8 919.9,213.2 922.5,209 925,203.3 927.6,205.5 930.2,206.4 932.8,195.3 935.3,187.1 937.9,197.6 940.5,217.2 943,236.7 945.6,249.5 948.2,245.1 950.8,243.5 953.3,242.1 955.9,240.1 958.5,245.3 961,246.9 963.6,249.1 966.2,254.9 968.8,253.6 971.3,241.6 973.9,230.6 976.5,235 979.1,246.5 981.6,247 984.2,238.8 986.8,234.6 989.3,234.1 991.9,233.5 994.5,233.8 997.1,232.1 999.6,230 1002.2,229.6 1004.8,226 1007.3,219.1 1009.9,218.8 1012.5,223.7 1015.1,227.1 1017.6,227.2 1020.2,224.4 1022.8,217.5 1025.3,213.1 1027.9,214.3 1030.5,215.3 1033.1,214.3 1035.6,214.9 1038.2,215.1 1040.8,215.3 1043.4,218.2 1045.9,225.5 1048.5,234.6 1051.1,236.6 1053.6,229.5 1056.2,225.7 1058.8,232.1 1061.4,240 1063.9,246.6" fill="none" stroke="#fde2d3" stroke-width="2" stroke-linejoin="round"/>
<polyline points="745,231.1 747.6,214.7 750.1,204.4 752.7,211 755.3,220.9 757.9,226.7 760.4,237.5 763,248.2 765.6,228.7 768.1,205.4 770.7,203.7 773.3,210.4 775.9,212 778.4,211.1 781,207.3 783.6,205.3 786.2,198.1 788.7,198.1 791.3,206.2 793.9,221.8 796.4,228.2 799,228.1 801.6,224.5 804.2,221.8 806.7,217.8 809.3,233.3 811.9,243.8 814.4,247.5 817,244.1 819.6,238.6 822.2,229.2 824.7,220.8 827.3,223.9 829.9,234.8 832.4,244.3 835,242.6 837.6,240.4 840.2,236.2 842.7,238.6 845.3,244.3 847.9,261.2 850.5,282.4 853,281.8 855.6,277.3 858.2,275.8 860.7,273.4 863.3,277.1 865.9,281.9 868.5,283.3 871,277.5 873.6,260.3 876.2,245.2 878.7,237.4 881.3,232.9 883.9,224.2 886.5,211.8 889,200.3 891.6,195.6 894.2,191.8 896.7,185.9 899.3,183.1 901.9,191.8 904.5,197.4 907,198.6 909.6,198.2 912.2,193.3 914.8,195.6 917.3,203.9 919.9,211 922.5,205.2 925,203.4 927.6,215.8 930.2,228 932.8,220.1 935.3,207.3 937.9,209 940.5,219 943,239.1 945.6,254.9 948.2,241.2 950.8,228.8 953.3,225.4 955.9,224.7 958.5,231.5 961,233.1 963.6,230.4 966.2,227.8 968.8,222.4 971.3,216.1 973.9,217 976.5,228.6 979.1,235 981.6,230.3 984.2,225.8 986.8,223.4 989.3,220 991.9,221 994.5,221.1 997.1,210.8 999.6,199.7 1002.2,202.3 1004.8,217.8 1007.3,227.8 1009.9,226.2 1012.5,220.4 1015.1,216.9 1017.6,217.2 1020.2,217.1 1022.8,209.4 1025.3,201.3 1027.9,201.5 1030.5,205.4 1033.1,206 1035.6,207.3 1038.2,210 1040.8,208.4 1043.4,199.3 1045.9,194 1048.5,202.6 1051.1,214.8 1053.6,219.2 1056.2,219 1058.8,225.8 1061.4,237.5 1063.9,240.5" fill="none" stroke="#fde2d3" stroke-width="2" stroke-linejoin="round"/>
<polyline points="745,256.9 747.6,235.5 750.1,207.5 752.7,195.8 755.3,201.4 757.9,215.8 760.4,231.5 763,244 765.6,233 768.1,220.4 770.7,223.9 773.3,231.9 775.9,228.5 778.4,212.1 781,191.8 783.6,185.6 786.2,182.1 788.7,188 791.3,200.7 793.9,215.8 796.4,220.9 799,224.2 801.6,220.6 804.2,214 806.7,209.2 809.3,229.1 811.9,242.4 814.4,246.7 817,244.9 819.6,243.2 822.2,240.9 824.7,237.9 827.3,235.2 829.9,231.4 832.4,231.2 835,228.3 837.6,229.6 840.2,230.1 842.7,237.5 845.3,244.8 847.9,258.9 850.5,274.1 853,267.3 855.6,263.6 858.2,268 860.7,265.7 863.3,261.7 865.9,261.4 868.5,264.9 871,266.7 873.6,253.2 876.2,237.4 878.7,227.6 881.3,218.5 883.9,205.3 886.5,190.8 889,176.4 891.6,162.9 894.2,151.6 896.7,145.1 899.3,137.3 901.9,138.7 904.5,149 907,165.2 909.6,174.8 912.2,171.8 914.8,174.1 917.3,183.3 919.9,192.3 922.5,183.8 925,175.2 927.6,181.1 930.2,191.9 932.8,190.2 935.3,180.3 937.9,181.5 940.5,198.8 943,225.8 945.6,246 948.2,245.2 950.8,249.7 953.3,249.6 955.9,235.8 958.5,225.5 961,223.5 963.6,236.4 966.2,252.1 968.8,256.9 971.3,256 973.9,251.4 976.5,245 979.1,239.9 981.6,235.7 984.2,231.3 986.8,230.2 989.3,229.6 991.9,224.9 994.5,217.7 997.1,211.1 999.6,209.4 1002.2,210.7 1004.8,211.4 1007.3,209.7 1009.9,203.4 1012.5,193.1 1015.1,187.9 1017.6,191.3 1020.2,194.1 1022.8,188.1 1025.3,182.1 1027.9,181.9 1030.5,186.2 1033.1,189.8 1035.6,186.5 1038.2,183.1 1040.8,188.5 1043.4,194.3 1045.9,192.9 1048.5,191.8 1051.1,198 1053.6,207.3 1056.2,211.2 1058.8,214.7 1061.4,224.6 1063.9,239" fill="none" stroke="#fde2d3" stroke-width="2" stroke-linejoin="round"/>
<polyline points="745,230.8 747.6,215.5 750.1,195.4 752.7,189.3 755.3,192.1 757.9,194.2 760.4,198.6 763,210.3 765.6,203.5 768.1,190.4 770.7,190.2 773.3,189.4 775.9,174.4 778.4,159.9 781,158.6 783.6,168.4 786.2,168.8 788.7,166.9 791.3,164.6 793.9,168.5 796.4,172.1 799,182.5 801.6,189.4 804.2,191.4 806.7,193.3 809.3,214.5 811.9,228.1 814.4,235.8 817,237.2 819.6,231.2 822.2,219.5 824.7,212.9 827.3,214.5 829.9,216.7 832.4,221.6 835,219.8 837.6,210.3 840.2,195.4 842.7,195.5 845.3,205.6 847.9,231.4 850.5,263.3 853,268.9 855.6,269.7 858.2,273.6 860.7,271.2 863.3,271.2 865.9,275 868.5,276.5 871,268.2 873.6,248.9 876.2,231.3 878.7,213.7 881.3,195.8 883.9,179.3 886.5,164.1 889,153.8 891.6,152.6 894.2,152.6 896.7,151.4 899.3,150.1 901.9,157.1 904.5,167.7 907,176.9 909.6,170.2 912.2,154.1 914.8,155.1 917.3,166.5 919.9,179.2 922.5,183 925,186.4 927.6,190 930.2,186.4 932.8,172.7 935.3,166.2 937.9,177.5 940.5,195.9 943,217.6 945.6,229.9 948.2,216.3 950.8,207.9 953.3,203 955.9,193.6 958.5,192 961,194.6 963.6,202.2 966.2,210.4 968.8,210.4 971.3,205.3 973.9,203.9 976.5,210.2 979.1,215.9 981.6,214 984.2,213.1 986.8,224.1 989.3,237.9 991.9,238 994.5,228.3 997.1,219.2 999.6,212.7 1002.2,209.2 1004.8,211.8 1007.3,217.9 1009.9,219.8 1012.5,215.2 1015.1,212.4 1017.6,209.9 1020.2,198.5 1022.8,183.9 1025.3,186.1 1027.9,200.7 1030.5,210.4 1033.1,206.7 1035.6,195.6 1038.2,186.4 1040.8,185.3 1043.4,187.4 1045.9,186.7 1048.5,188.3 1051.1,197 1053.6,209 1056.2,218.8 1058.8,224.3 1061.4,223 1063.9,218" fill="none" stroke="#fde2d3" stroke-width="2" stroke-linejoin="round"/>
<polyline points="745,235.6 747.6,221 750.1,208.3 752.7,208.1 755.3,218.4 757.9,229.5 760.4,233.2 763,228.8 765.6,205.3 768.1,183.2 770.7,182.8 773.3,194 775.9,198.8 778.4,198.4 781,200.9 783.6,212.6 786.2,215.7 788.7,211.4 791.3,210 793.9,215.1 796.4,211.3 799,206.2 801.6,204.2 804.2,205.6 806.7,204.2 809.3,213.9 811.9,218.4 814.4,223.6 817,230.1 819.6,235.7 822.2,234.9 824.7,226.1 827.3,221.8 829.9,228.6 832.4,237.5 835,234.8 837.6,231.4 840.2,232.9 842.7,239.9 845.3,239.4 847.9,245.2 850.5,261.7 853,267 855.6,271.7 858.2,278.6 860.7,283.9 863.3,290 865.9,290.4 868.5,284.1 871,272.6 873.6,254.8 876.2,240.2 878.7,229.3 881.3,224.7 883.9,224 886.5,220.8 889,214.6 891.6,208.6 894.2,204.7 896.7,206.8 899.3,208.3 901.9,211.7 904.5,211 907,205.5 909.6,199.5 912.2,196.7 914.8,205.1 917.3,214.4 919.9,214 922.5,200.4 925,192.8 927.6,196.5 930.2,198.1 932.8,186.3 935.3,172.9 937.9,173.3 940.5,187.6 943,211.2 945.6,230.9 948.2,233.6 950.8,232.6 953.3,225.8 955.9,222.9 958.5,230.4 961,230.7 963.6,227.2 966.2,224.7 968.8,222.2 971.3,219.3 973.9,215.2 976.5,212.9 979.1,215.1 981.6,223.9 984.2,231 986.8,229.4 989.3,220.7 991.9,211 994.5,203.5 997.1,198.3 999.6,196.7 1002.2,198.7 1004.8,206.6 1007.3,218.7 1009.9,227.9 1012.5,227 1015.1,221.2 1017.6,220.3 1020.2,223.4 1022.8,221.8 1025.3,217.2 1027.9,215.6 1030.5,218.3 1033.1,220.7 1035.6,223.3 1038.2,224.1 1040.8,217 1043.4,206.1 1045.9,200.7 1048.5,201 1051.1,204.5 1053.6,209.2 1056.2,214.3 1058.8,219 1061.4,222.8 1063.9,232.9" fill="none" stroke="#fde2d3" stroke-width="2" stroke-linejoin="round"/>
<polyline points="745,242.5 747.6,236.9 750.1,228.3 752.7,226.8 755.3,234.5 757.9,244.1 760.4,246 763,242.2 765.6,239.2 768.1,236.4 770.7,232.8 773.3,231.6 775.9,232.8 778.4,230.6 781,218.2 783.6,204.3 786.2,202.7 788.7,215.6 791.3,230.8 793.9,238.8 796.4,235 799,227.8 801.6,221.2 804.2,216 806.7,219.6 809.3,237.3 811.9,252.4 814.4,252.4 817,247.3 819.6,250.5 822.2,253.4 824.7,245 827.3,232.7 829.9,227.7 832.4,229.3 835,232.8 837.6,242.3 840.2,251.9 842.7,246.3 845.3,230 847.9,225.3 850.5,234.9 853,245.2 855.6,249.9 858.2,246.7 860.7,239.8 863.3,231.2 865.9,220.9 868.5,216.5 871,217.8 873.6,218 876.2,218.1 878.7,217.1 881.3,213 883.9,211.7 886.5,216.1 889,215.5 891.6,210.7 894.2,214.6 896.7,225.2 899.3,229.6 901.9,229.1 904.5,229.3 907,228.5 909.6,224.6 912.2,220.6 914.8,222.1 917.3,225.5 919.9,224.7 922.5,221.6 925,219.3 927.6,216.8 930.2,217.4 932.8,221.1 935.3,222.5 937.9,222.9 940.5,221.3 943,218.8 945.6,217.6 948.2,213.4 950.8,210.6 953.3,207.9 955.9,203.3 958.5,205.8 961,214.9 963.6,222.6 966.2,224.3 968.8,219 971.3,212.7 973.9,212.7 976.5,220 979.1,229.3 981.6,235.2 984.2,235.3 986.8,230.9 989.3,228.2 991.9,231.4 994.5,235.4 997.1,234.1 999.6,230.9 1002.2,231.6 1004.8,230.8 1007.3,223.1 1009.9,219.5 1012.5,224.5 1015.1,230.8 1017.6,233.3 1020.2,230 1022.8,221.2 1025.3,215.5 1027.9,218.6 1030.5,225.5 1033.1,228.7 1035.6,228.3 1038.2,231.6 1040.8,241.5 1043.4,251.2 1045.9,256.9 1048.5,256.1 1051.1,249.5 1053.6,245.6 1056.2,245.5 1058.8,242.7 1061.4,239.3 1063.9,238.5" fill="none" stroke="#fde2d3" stroke-width="2" stroke-linejoin="round"/>
<polyline points="745,208.7 747.6,201.5 750.1,203.4 752.7,210.4 755.3,210.4 757.9,204.7 760.4,205.6 763,212.6 765.6,210.9 768.1,204.3 770.7,201.4 773.3,203 775.9,206.8 778.4,207.5 781,201.9 783.6,196 786.2,191.5 788.7,191.9 791.3,196.3 793.9,202 796.4,203 799,202.8 801.6,205.8 804.2,214.3 806.7,223 809.3,232.8 811.9,236.7 814.4,231 817,215 819.6,203 822.2,201 824.7,204.5 827.3,212.9 829.9,222.4 832.4,228.7 835,229.6 837.6,224 840.2,214.5 842.7,209.8 845.3,209.9 847.9,218.6 850.5,232.2 853,236.8 855.6,235.1 858.2,233.9 860.7,236 863.3,237.3 865.9,234.9 868.5,234.7 871,235.4 873.6,231.1 876.2,224.2 878.7,219.4 881.3,221.2 883.9,224.5 886.5,223.8 889,220.4 891.6,211.8 894.2,199.2 896.7,193.3 899.3,190.9 901.9,187.2 904.5,189.4 907,198.3 909.6,202.3 912.2,203.6 914.8,212.1 917.3,219.8 919.9,217.3 922.5,208.1 925,204 927.6,209.8 930.2,217.6 932.8,213.8 935.3,203.7 937.9,198.3 940.5,199.8 943,209.9 945.6,221 948.2,222.4 950.8,221.1 953.3,219 955.9,218.8 958.5,223.6 961,230.1 963.6,236.6 966.2,237.4 968.8,230 971.3,220.6 973.9,222.1 976.5,234.6 979.1,240.9 981.6,235.8 984.2,228.6 986.8,220.5 989.3,214.4 991.9,218.5 994.5,224.5 997.1,220.9 999.6,211.2 1002.2,206.8 1004.8,213.5 1007.3,220.8 1009.9,218.6 1012.5,214.8 1015.1,215.3 1017.6,211.1 1020.2,204.9 1022.8,206.4 1025.3,213.4 1027.9,217 1030.5,214.1 1033.1,209.1 1035.6,206.1 1038.2,204.5 1040.8,204.2 1043.4,205.1 1045.9,207.4 1048.5,209.2 1051.1,206.9 1053.6,201.6 1056.2,201.9 1058.8,212 1061.4,225.6 1063.9,237.7" fill="none" stroke="#fde2d3" stroke-width="2" stroke-linejoin="round"/>
<polyline points="745,208.8 751,231.3 757.8,210.4 763.2,241 771.2,218.4 777.1,234.5 784.4,205.5 789.4,224.9 795.3,200.7 803,221.6 810.6,210.4 814.5,236.1 822.8,195.9 828.4,228.1 835.6,194.3 841.1,212 848.7,220 854.5,208.8 860.3,212 866.7,205.5 874,210.4 879.5,218.4 886,205.5 894,199.1 898.6,202.3 906.2,195.9 911.3,200.7 917.8,205.5 925.5,210.4 931.2,212 937.8,210.4 943.6,184.6 951.8,208.8 957.7,192.7 963,205.5 969.7,186.2 975.9,171.7 983.7,199.1 989.6,207.1 995.3,187.8 1002.3,208.8 1009.3,213.6 1014.4,202.3 1021.2,194.3 1027.7,226.5 1034.5,186.2 1039.6,210.4 1046.8,197.5 1052.9,218.4 1059.1,205.5 1063.9,220" fill="none" stroke="#fb8b6b" stroke-width="2.15" stroke-linejoin="round"/>
<polyline points="745,220 751.8,212 756.8,236.1 765.1,215.2 771.7,231.3 778.3,207.1 782.6,226.5 788.9,210.4 797.6,223.2 801.8,202.3 808.3,228.1 815,245.8 822.4,218.4 829.3,241 833.9,210.4 841.1,224.9 847.6,216.8 855.5,223.2 861,213.6 867.1,224.9 873.3,220 879.7,229.7 885.8,224.9 893.4,232.9 898.4,221.6 905.9,229.7 912.9,218.4 918.6,236.1 924.9,216.8 931.8,232.9 936.8,215.2 943.3,207.1 949.7,224.9 956.7,212 963.4,221.6 969.6,208.8 976.1,203.9 983.4,218.4 990.1,215.2 996.4,208.8 1002.7,223.2 1007.5,229.7 1014.6,220 1021.2,213.6 1028.2,236.1 1034.2,210.4 1041,224.9 1048,232.9 1053.8,223.2 1059.4,216.8 1063.9,231.3" fill="none" stroke="#fb8b6b" stroke-width="2.15" stroke-linejoin="round"/>
<polyline points="745,228.1 751.4,237.7 758.5,223.2 763.2,245.8 771,224.9 777.4,241 784.7,220 790.6,234.5 795.2,212 802.9,231.3 810.5,218.4 814.8,252.2 822.6,231.3 828.2,255.4 834.8,229.7 842.5,236.1 848.7,226.5 853.9,234.5 861.2,221.6 866.6,231.3 873.7,228.1 879.2,239.3 887.2,245.8 892,237.7 898.2,247.4 904.5,234.5 913,249 919.1,224.9 925.5,242.6 932.5,221.6 938.4,228.1 943.1,220 949.7,234.5 956,224.9 962.6,237.7 969,226.5 975.9,220 982.4,232.9 989.5,228.1 995.7,220 1002.8,234.5 1008.4,242.6 1016.3,229.7 1022.1,224.9 1026.6,239.3 1034.1,223.2 1040.3,234.5 1047.9,239.3 1052.5,229.7 1061,226.5 1063.9,236.1" fill="none" stroke="#fb8b6b" stroke-width="2.15" stroke-linejoin="round"/>
<line x1="744.9" y1="129.4" x2="1065.4" y2="129.4" stroke="#e8412e" stroke-width="2.4" stroke-dasharray="0.01,3.25" stroke-linecap="round"/>
<line x1="744.9" y1="302.2" x2="1065.4" y2="302.2" stroke="#e8412e" stroke-width="2.4" stroke-dasharray="0.01,3.25" stroke-linecap="round"/>
<polyline points="745,237.1 747.6,225.1 750.1,210.5 752.7,210.4 755.3,220.3 757.9,230 760.4,238.6 763,246.2 765.6,227.4 768.1,208 770.7,210.8 773.3,218.7 775.9,213.2 778.4,200.3 781,187 783.6,185.6 786.2,185.9 788.7,195.6 791.3,209.2 793.9,221.6 796.4,219.3 799,217.1 801.6,213.7 804.2,208.9 806.7,203.9 809.3,226.4 811.9,244.5 814.4,251.9 817,247.1 819.6,241.1 822.2,236 824.7,232.4 827.3,236 829.9,241.3 832.4,245.3 835,240 837.6,234.1 840.2,227.6 842.7,232.6 845.3,239.8 847.9,257.5 850.5,280.2 853,278.6 855.6,276.1 858.2,282.4 860.7,289.1 863.3,294.9 865.9,293.2 868.5,287.7 871,281.1 873.6,266 876.2,250.7 878.7,235.2 881.3,220.6 883.9,206.6 886.5,192.8 889,181.5 891.6,173.6 894.2,166.2 896.7,160.9 899.3,155.3 901.9,160 904.5,165.3 907,167.9 909.6,168.4 912.2,170.2 914.8,182.3 917.3,193.6 919.9,202.4 922.5,198 925,193.3 927.6,195.1 930.2,197.6 932.8,192.3 935.3,189.1 937.9,199.5 940.5,215.4 943,237.3 945.6,256.2 948.2,249.4 950.8,241.9 953.3,234.7 955.9,228.3 958.5,235.3 961,241.5 963.6,249 966.2,256.7 968.8,256.3 971.3,252 973.9,248.4 976.5,247.3 979.1,246.2 981.6,243.9 984.2,240.7 986.8,238.7 989.3,238 991.9,235 994.5,231.1 997.1,226.4 999.6,223.3 1002.2,221.3 1004.8,220.6 1007.3,220.5 1009.9,220.2 1012.5,214.7 1015.1,208 1017.6,201.5 1020.2,198.2 1022.8,194.5 1025.3,193.8 1027.9,194.7 1030.5,196.3 1033.1,196.7 1035.6,196.4 1038.2,195.4 1040.8,196.7 1043.4,197.8 1045.9,198.9 1048.5,200.9 1051.1,204.4 1053.6,207.5 1056.2,209.1 1058.8,209.1 1061.4,211.2 1063.9,215.1" fill="none" stroke="#db1a20" stroke-width="2.3" stroke-linejoin="round"/>
<polyline points="745,241.8 747.6,223.8 750.1,202.5 752.7,197.1 755.3,204.2 757.9,213.4 760.4,224.1 763,235.7 765.6,221.9 768.1,206 770.7,210.3 773.3,219.2 775.9,215.4 778.4,204.9 781,194.2 783.6,194.6 786.2,195.3 788.7,203 791.3,212.9 793.9,222.2 796.4,217.9 799,214.2 801.6,210.5 804.2,206.5 806.7,202.7 809.3,225.6 811.9,243.5 814.4,251.6 817,248.3 819.6,242.8 822.2,235.8 824.7,229.3 827.3,231.4 829.9,236.7 832.4,241.5 835,236.7 837.6,231.4 840.2,225.7 842.7,231.2 845.3,238.1 847.9,255.7 850.5,279.8 853,280.3 855.6,278.7 858.2,284.6 860.7,291.8 863.3,299.3 865.9,298.7 868.5,292.7 871,285.3 873.6,270.2 876.2,255 878.7,239.1 881.3,223.9 883.9,209.8 886.5,197.6 889,190.4 891.6,187.8 894.2,184.5 896.7,181.2 899.3,176.1 901.9,179.1 904.5,180.3 907,176.5 909.6,170 912.2,166.6 914.8,176.6 917.3,188.4 919.9,198.4 922.5,194.9 925,190 927.6,190.2 930.2,191.1 932.8,186.2 935.3,185.5 937.9,198.9 940.5,217 943,239.7 945.6,258.7 948.2,251.8 950.8,243.5 953.3,234.1 955.9,224.8 958.5,228.7 961,233.9 963.6,240.1 966.2,245.3 968.8,243.8 971.3,240.3 973.9,236.9 976.5,234.8 979.1,233.8 981.6,233.1 984.2,231.7 986.8,230.2 989.3,227 991.9,221.4 994.5,216.8 997.1,213 999.6,211.9 1002.2,213.5 1004.8,216 1007.3,217.2 1009.9,216.8 1012.5,212.6 1015.1,205.1 1017.6,198 1020.2,195.7 1022.8,194.6 1025.3,194.4 1027.9,195.6 1030.5,196.9 1033.1,196.3 1035.6,195.4 1038.2,195.1 1040.8,197.4 1043.4,199.7 1045.9,199.6 1048.5,198.1 1051.1,197.6 1053.6,199.2 1056.2,201.3 1058.8,205.6 1061.4,210.6 1063.9,215.8" fill="none" stroke="#db1a20" stroke-width="2.3" stroke-linejoin="round"/>
<polyline points="745,239.2 747.6,224.1 750.1,206.9 752.7,205.1 755.3,213.4 757.9,221.6 760.4,229.6 763,237.6 765.6,220.1 768.1,202.1 770.7,206.5 773.3,216.1 775.9,212.2 778.4,200.7 781,189.1 783.6,189.7 786.2,191.3 788.7,200.6 791.3,212.4 793.9,223.7 796.4,221.4 799,219.2 801.6,215.5 804.2,210.9 806.7,206.2 809.3,227.8 811.9,243.7 814.4,249.4 817,245 819.6,241 822.2,237.4 824.7,233.8 827.3,236.5 829.9,240.6 832.4,243.7 835,237.7 837.6,231.7 840.2,225.7 842.7,231.8 845.3,240.2 847.9,258.7 850.5,282.2 853,281.3 855.6,278.6 858.2,283.7 860.7,289.9 863.3,296.3 865.9,295.3 868.5,289.6 871,282.2 873.6,266 876.2,250.1 878.7,234.6 881.3,220.8 883.9,207.7 886.5,194.4 889,183 891.6,174.6 894.2,166.8 896.7,161 899.3,155.5 901.9,160.9 904.5,166.8 907,168.7 909.6,167.5 912.2,167.9 914.8,179.2 917.3,190.4 919.9,199.6 922.5,196.4 925,193.2 927.6,195.9 930.2,198.3 932.8,192.4 935.3,189.3 937.9,200.4 940.5,217 943,238.4 945.6,256.1 948.2,248.7 950.8,241.3 953.3,233.9 955.9,226.6 958.5,229.6 961,232.5 963.6,235.5 966.2,237.3 968.8,235.3 971.3,233.2 973.9,231.4 976.5,229.9 979.1,228.3 981.6,226.8 984.2,225.3 986.8,223.5 989.3,218.3 991.9,213.2 994.5,211.5 997.1,210.2 999.6,208.9 1002.2,210.1 1004.8,212.6 1007.3,213.1 1009.9,211.2 1012.5,207.8 1015.1,200.6 1017.6,193.4 1020.2,189.6 1022.8,188.3 1025.3,189 1027.9,192.9 1030.5,195.8 1033.1,195.4 1035.6,195.1 1038.2,194.7 1040.8,195 1043.4,196.3 1045.9,197.6 1048.5,198.7 1051.1,199.2 1053.6,199.6 1056.2,200 1058.8,206.9 1061.4,214.3 1063.9,221.8" fill="none" stroke="#db1a20" stroke-width="2.3" stroke-linejoin="round"/>
<polyline points="745,228 748.2,221.4 751.4,214.2 754.6,207.6 757.9,203.8 761.1,200.3 764.3,206.1 767.5,211.9 770.7,219.3 773.9,227 777.1,227.7 780.4,225.3 783.6,211.4 786.8,195.2 790,180.8 793.2,181.7 796.4,194.7 799.7,211.8 802.9,218.9 806.1,223.6 809.3,221.6 812.5,219.7 815.7,217.3 818.9,214.9 822.2,214.3 825.4,217.1 828.6,227.9 831.8,239.7 835,250.3 838.2,254.1 841.4,252.9 844.7,251 847.9,251.2 851.1,255.9 854.3,263.1 857.5,270.8 860.7,277.7 864,281.9 867.2,267.2 870.4,253.6 873.6,240.7 876.8,228.6 880,216.9 883.2,208.8 886.5,200.6 889.7,193.5 892.9,186.4 896.1,183.1 899.3,181 902.5,178 905.8,174.8 909,172.4 912.2,174 915.4,179.6 918.6,190 921.8,195.9 925,199.9 928.3,199.8 931.5,199.4 934.7,199.1 937.9,198.8 941.1,201.3 944.3,205.6 947.5,209.9 950.8,213.6 954,217.3 957.2,220.9 960.4,217.3 963.6,213.4 966.8,211.3 970,209.7 973.3,208.7 976.5,210 979.7,211.3 982.9,213.9 986.1,216.4 989.3,215.5 992.6,213.9 995.8,212.6 999,212.6 1002.2,213.3 1005.4,214.7 1008.6,216 1011.8,214.9 1015.1,213.5 1018.3,212 1021.5,210.3 1024.7,208.2 1027.9,206 1031.1,203.9 1034.3,201.8 1037.6,200.2 1040.8,200.6 1044,201.1 1047.2,201.8 1050.4,203.7 1053.6,205.6 1056.9,203.4 1060.1,201.1 1063.3,198.8" fill="none" stroke="#000" stroke-width="1.8" stroke-dasharray="7.5,5" stroke-linejoin="round"/>
<path d="M744.9,102.5 V328 H1066.4" fill="none" stroke="#9a9a9a" stroke-width="1.2"/>
<line x1="745" y1="328" x2="745" y2="325.4" stroke="#b0b0b0" stroke-width="1"/>
<text x="745" y="355.4" font-size="19.6" font-weight="bold" text-anchor="middle" fill="#1f1f1f">-200</text>
<line x1="809.3" y1="328" x2="809.3" y2="325.4" stroke="#b0b0b0" stroke-width="1"/>
<text x="809.3" y="355.4" font-size="19.6" font-weight="bold" text-anchor="middle" fill="#1f1f1f">0</text>
<line x1="873.6" y1="328" x2="873.6" y2="325.4" stroke="#b0b0b0" stroke-width="1"/>
<text x="873.6" y="355.4" font-size="19.6" font-weight="bold" text-anchor="middle" fill="#1f1f1f">200</text>
<line x1="937.9" y1="328" x2="937.9" y2="325.4" stroke="#b0b0b0" stroke-width="1"/>
<text x="937.9" y="355.4" font-size="19.6" font-weight="bold" text-anchor="middle" fill="#1f1f1f">400</text>
<line x1="1002.2" y1="328" x2="1002.2" y2="325.4" stroke="#b0b0b0" stroke-width="1"/>
<text x="1002.2" y="355.4" font-size="19.6" font-weight="bold" text-anchor="middle" fill="#1f1f1f">600</text>
<line x1="1066.5" y1="328" x2="1066.5" y2="325.4" stroke="#b0b0b0" stroke-width="1"/>
<text x="1066.5" y="355.4" font-size="19.6" font-weight="bold" text-anchor="middle" fill="#1f1f1f">800</text>
<line x1="744.9" y1="134.7" x2="747.5" y2="134.7" stroke="#b0b0b0" stroke-width="1"/>
<text x="738.9" y="144.2" font-size="19.6" font-weight="bold" text-anchor="end" fill="#1f1f1f">5</text>
<line x1="744.9" y1="215.2" x2="747.5" y2="215.2" stroke="#b0b0b0" stroke-width="1"/>
<text x="738.9" y="224.4" font-size="19.6" font-weight="bold" text-anchor="end" fill="#1f1f1f">0</text>
<line x1="744.9" y1="295.7" x2="747.5" y2="295.7" stroke="#b0b0b0" stroke-width="1"/>
<text x="738.9" y="305.6" font-size="19.6" font-weight="bold" text-anchor="end" fill="#1f1f1f">-5</text>
<text x="906.5" y="391.4" font-size="28.8" font-weight="bold" text-anchor="middle" fill="#000" textLength="142" lengthAdjust="spacingAndGlyphs">Time [ms]</text>
<text transform="translate(712.4,216.2) rotate(-90)" font-size="30.6" font-weight="bold" text-anchor="middle" fill="#000">t-value</text>
<rect x="1462.3" y="103.6" width="35.6" height="225.4" fill="#c9c9c9"/>
<polygon points="1359.7,175.4 1361,169.8 1362.2,168.9 1363.5,168.4 1364.8,166.1 1366.1,165.2 1367.4,166.9 1368.7,175.8 1369.9,182.3 1371.2,178.2 1372.5,170.3 1373.8,171.1 1375.1,174.1 1376.4,173.1 1377.6,175.2 1378.9,176.3 1380.2,177 1381.5,177.4 1382.8,174.3 1384,172.5 1385.3,170.7 1386.6,165.7 1387.9,163.8 1389.2,166.7 1390.5,165.5 1391.7,163.9 1393,162.3 1394.3,165.8 1395.6,167.7 1396.9,171 1398.2,176.9 1399.4,176.7 1400.7,174.9 1402,174.4 1403.3,172.1 1404.6,167.5 1405.8,165 1407.1,159.5 1408.4,160.1 1409.7,165.7 1411,169.2 1412.3,173.7 1413.5,176.9 1414.8,179.3 1416.1,180.5 1417.4,175.7 1418.7,170 1420,166.6 1421.2,167.3 1422.5,165.8 1423.8,167 1425.1,166.4 1426.4,163.1 1427.6,158 1428.9,156.6 1430.2,155.7 1431.5,159.6 1432.8,162.6 1434.1,164.8 1435.3,167.5 1436.6,165.6 1437.9,162.5 1439.2,164.2 1440.5,166.2 1441.8,168.7 1443,171.6 1444.3,176.5 1445.6,179.8 1446.9,180.6 1448.2,182 1449.4,183.3 1450.7,182.8 1452,187.4 1453.3,190.1 1454.6,188 1455.9,183.8 1457.1,185 1458.4,187.8 1459.7,186.9 1461,184.1 1462.3,185.9 1463.6,185.5 1464.8,181.6 1466.1,182 1467.4,179.9 1468.7,177.3 1470,176.1 1471.2,170.6 1472.5,164.7 1473.8,165.5 1475.1,166.8 1476.4,163.7 1477.7,158.2 1478.9,154.9 1480.2,153.2 1481.5,153.7 1482.8,158.4 1484.1,162.3 1485.4,164.7 1486.6,165.9 1487.9,166.5 1489.2,164.3 1490.5,161.4 1491.8,166.9 1493,172.3 1494.3,169.4 1495.6,172.8 1496.9,177.6 1498.2,172.4 1499.5,165.9 1500.7,161.1 1502,154.7 1503.3,148.5 1504.6,139.6 1505.9,131.8 1507.2,128.1 1508.4,121.2 1509.7,115.3 1511,115.6 1512.3,120.6 1513.6,126.1 1514.9,133.2 1516.1,138.4 1517.4,141 1518.7,145.5 1520,152.8 1521.3,154.6 1522.5,155.7 1523.8,158.5 1525.1,161 1526.4,164.5 1527.7,161.7 1529,157.9 1530.2,158.7 1531.5,159.5 1532.8,159.2 1534.1,160.9 1535.4,161.6 1536.7,160.8 1537.9,161.6 1539.2,164.3 1540.5,169.4 1541.8,171.4 1543.1,165.1 1544.3,166.1 1545.6,170.2 1546.9,168.3 1548.2,171.8 1549.5,177.3 1550.8,176.1 1552,172.6 1553.3,169.9 1554.6,173.8 1555.9,175.7 1557.2,175.9 1558.5,177.2 1559.7,177.1 1561,173.1 1562.3,169.7 1563.6,171.7 1564.9,176.7 1566.1,177.7 1567.4,175.3 1568.7,176.3 1570,178.7 1571.3,177.6 1572.6,170.6 1573.8,171.8 1575.1,176.4 1576.4,174 1577.7,175.9 1579,182.6 1580.3,180.7 1581.5,175.8 1582.8,172.3 1584.1,172.2 1585.4,171.8 1586.7,167.9 1587.9,159.9 1589.2,157.2 1590.5,161.7 1591.8,159.1 1593.1,151.3 1594.4,157 1595.6,162.9 1596.9,163.7 1598.2,164.3 1599.5,164.4 1600.8,167.8 1602.1,171.2 1603.3,169.8 1604.6,167.7 1605.9,166.5 1607.2,172.4 1608.5,178.7 1609.7,177.5 1611,170.5 1612.3,172.7 1613.6,175.3 1614.9,170 1616.2,162.8 1617.4,163 1618.7,167.5 1620,167.3 1621.3,168.8 1622.6,173.8 1623.9,170.9 1625.1,164 1626.4,161.8 1627.7,164.1 1629,165.1 1630.3,164.5 1631.5,155.4 1632.8,142.3 1634.1,128 1635.4,133.3 1636.7,143.6 1638,153.6 1639.2,158 1640.5,158.9 1641.8,160.5 1643.1,164.7 1644.4,168.5 1645.7,173.8 1646.9,169.7 1648.2,168 1649.5,173.3 1650.8,170 1652.1,163 1653.3,163.7 1654.6,165.6 1655.9,163.6 1657.2,160.2 1658.5,155.8 1659.8,154.7 1661,156.2 1662.3,152.8 1663.6,145.4 1664.9,137.3 1666.2,133.5 1667.5,130.5 1668.7,139.2 1670,147.8 1671.3,151.1 1672.6,151.9 1673.9,156.1 1675.2,163.4 1676.4,167.7 1677.7,167.3 1677.7,272.4 1676.4,271.3 1675.2,273.9 1673.9,277.6 1672.6,273.8 1671.3,273 1670,276.4 1668.7,276.6 1667.5,272.9 1666.2,272 1664.9,273.9 1663.6,270.6 1662.3,266.8 1661,264.2 1659.8,265.4 1658.5,269.7 1657.2,275.3 1655.9,273.4 1654.6,265.5 1653.3,263.4 1652.1,263 1650.8,262.7 1649.5,263.4 1648.2,262.4 1646.9,264.6 1645.7,266.2 1644.4,265.9 1643.1,267.4 1641.8,267 1640.5,266.1 1639.2,263.3 1638,261.3 1636.7,259.4 1635.4,259.9 1634.1,266.2 1632.8,268.4 1631.5,263.9 1630.3,260.8 1629,258.9 1627.7,257.8 1626.4,261.2 1625.1,263.8 1623.9,262.6 1622.6,261.1 1621.3,265 1620,267.1 1618.7,271.9 1617.4,273 1616.2,269.2 1614.9,273.9 1613.6,282.5 1612.3,287.1 1611,289.2 1609.7,287.8 1608.5,284.2 1607.2,280.9 1605.9,276.8 1604.6,276.3 1603.3,275.3 1602.1,277 1600.8,282.4 1599.5,283.7 1598.2,279 1596.9,277 1595.6,277.5 1594.4,282.1 1593.1,284.6 1591.8,286.9 1590.5,291.8 1589.2,294.8 1587.9,302.5 1586.7,308.8 1585.4,314.6 1584.1,310.4 1582.8,299.9 1581.5,297.1 1580.3,296 1579,289.1 1577.7,282.7 1576.4,281.9 1575.1,285.3 1573.8,282.9 1572.6,281.2 1571.3,280.9 1570,279.6 1568.7,273.5 1567.4,269 1566.1,268.2 1564.9,270.9 1563.6,271 1562.3,267.1 1561,268.1 1559.7,273.1 1558.5,275.3 1557.2,270.6 1555.9,265.4 1554.6,262.5 1553.3,262 1552,262.9 1550.8,262.8 1549.5,259.8 1548.2,257.3 1546.9,254.5 1545.6,255.2 1544.3,263 1543.1,262.6 1541.8,260 1540.5,264.3 1539.2,265.8 1537.9,266 1536.7,265.3 1535.4,263 1534.1,258.4 1532.8,260.1 1531.5,262.6 1530.2,260.2 1529,259.2 1527.7,259.8 1526.4,261.7 1525.1,264.6 1523.8,265.5 1522.5,271.8 1521.3,277.4 1520,279.1 1518.7,279.3 1517.4,276 1516.1,275.1 1514.9,274.7 1513.6,274.3 1512.3,274.5 1511,274.5 1509.7,277.8 1508.4,276.5 1507.2,273.8 1505.9,271.4 1504.6,268.3 1503.3,268.4 1502,271.4 1500.7,276.8 1499.5,273.4 1498.2,262.7 1496.9,255.4 1495.6,255.3 1494.3,257.9 1493,258.4 1491.8,257.1 1490.5,261.3 1489.2,268.3 1487.9,279.6 1486.6,290.3 1485.4,300.5 1484.1,308.1 1482.8,316.1 1481.5,321.3 1480.2,321.6 1478.9,320.6 1477.7,322.8 1476.4,325.5 1475.1,324.1 1473.8,321 1472.5,319.7 1471.2,315.7 1470,313.2 1468.7,311.3 1467.4,303.9 1466.1,297.7 1464.8,293.7 1463.6,289.9 1462.3,285.9 1461,279.8 1459.7,280.6 1458.4,279.9 1457.1,272.9 1455.9,269.5 1454.6,270 1453.3,270.7 1452,270.6 1450.7,269 1449.4,267.5 1448.2,269.5 1446.9,267.6 1445.6,264.4 1444.3,263 1443,266.3 1441.8,266.3 1440.5,263.3 1439.2,263.7 1437.9,273 1436.6,276.5 1435.3,273.5 1434.1,275.8 1432.8,277.9 1431.5,279.1 1430.2,279.8 1428.9,279 1427.6,276.5 1426.4,271.4 1425.1,267.2 1423.8,270.9 1422.5,273.2 1421.2,268.5 1420,265.9 1418.7,266.4 1417.4,265.8 1416.1,261.4 1414.8,258.3 1413.5,259.9 1412.3,259.5 1411,262.8 1409.7,261.3 1408.4,257 1407.1,258.3 1405.8,262.7 1404.6,264.4 1403.3,262.8 1402,260.9 1400.7,262.6 1399.4,261.3 1398.2,260.2 1396.9,258.9 1395.6,259.1 1394.3,263.4 1393,261.2 1391.7,259.6 1390.5,259.5 1389.2,260.2 1387.9,264.5 1386.6,263.9 1385.3,261.5 1384,260 1382.8,259.6 1381.5,258.4 1380.2,255.9 1378.9,256.9 1377.6,263.2 1376.4,263.2 1375.1,261.7 1373.8,261.5 1372.5,265.9 1371.2,263.1 1369.9,256 1368.7,256 1367.4,259.4 1366.1,260.3 1364.8,262.5 1363.5,261.4 1362.2,256.1 1361,251.8 1359.7,250.5" fill="#fde3d3" stroke="#fde3d3" stroke-width="1" stroke-linejoin="round"/>
<polygon points="1359.7,192.4 1361,190 1362.2,187.6 1363.5,185.2 1364.8,184 1366.1,186.7 1367.4,189.4 1368.7,192 1369.9,192.7 1371.2,191.3 1372.5,189.9 1373.8,188.5 1375.1,187.1 1376.4,186.9 1377.6,187.9 1378.9,188.9 1380.2,189.9 1381.5,190.9 1382.8,190.6 1384,189 1385.3,187.4 1386.6,185.8 1387.9,184.2 1389.2,183 1390.5,182.2 1391.7,181.4 1393,180.6 1394.3,182.4 1395.6,185 1396.9,187.7 1398.2,190.4 1399.4,189.2 1400.7,188 1402,186.8 1403.3,185.6 1404.6,184.4 1405.8,183.6 1407.1,182.8 1408.4,182 1409.7,182.1 1411,185 1412.3,188 1413.5,190.9 1414.8,191.7 1416.1,190.3 1417.4,188.9 1418.7,187.5 1420,186.1 1421.2,185.1 1422.5,184.5 1423.8,183.9 1425.1,183.3 1426.4,182.7 1427.6,182.8 1428.9,183.6 1430.2,184.4 1431.5,185.2 1432.8,186 1434.1,186.2 1435.3,185.8 1436.6,185.4 1437.9,185 1439.2,184.6 1440.5,185.4 1441.8,187.4 1443,189.4 1444.3,191.4 1445.6,193.4 1446.9,194.5 1448.2,194.8 1449.4,195 1450.7,195.3 1452,195.6 1453.3,195.8 1454.6,196.1 1455.9,196.3 1457.1,196 1458.4,195.7 1459.7,195.4 1461,195.1 1462.3,194.8 1463.6,194.4 1464.8,193.8 1466.1,193 1467.4,192.2 1468.7,191.4 1470,190.6 1471.2,188.6 1472.5,186.2 1473.8,183.8 1475.1,181.4 1476.4,179 1477.7,178 1478.9,177.5 1480.2,176.9 1481.5,176.4 1482.8,178.5 1484.1,180.7 1485.4,182.8 1486.6,184.5 1487.9,185 1489.2,185.6 1490.5,186.1 1491.8,187 1493,188.2 1494.3,189.4 1495.6,190.6 1496.9,191.8 1498.2,190 1499.5,185.2 1500.7,180.4 1502,175.6 1503.3,172 1504.6,168.8 1505.9,165.6 1507.2,162.4 1508.4,159.4 1509.7,156.4 1511,153.5 1512.3,156.2 1513.6,159 1514.9,161.7 1516.1,165.2 1517.4,168.9 1518.7,172.7 1520,176.4 1521.3,178.4 1522.5,180.4 1523.8,182.4 1525.1,184.4 1526.4,186.4 1527.7,185.4 1529,184.5 1530.2,183.5 1531.5,182.5 1532.8,181.6 1534.1,180.6 1535.4,181.8 1536.7,183.6 1537.9,185.5 1539.2,187.4 1540.5,187.5 1541.8,187.6 1543.1,187.8 1544.3,187.9 1545.6,188 1546.9,188.2 1548.2,188.3 1549.5,188.5 1550.8,188.8 1552,189 1553.3,189.3 1554.6,189.6 1555.9,189.8 1557.2,190.1 1558.5,190.4 1559.7,190.2 1561,190.1 1562.3,190 1563.6,189.8 1564.9,189.7 1566.1,189.6 1567.4,189.4 1568.7,189.6 1570,190 1571.3,190.4 1572.6,190.8 1573.8,191.2 1575.1,191.6 1576.4,192 1577.7,192.4 1579,191.7 1580.3,191 1581.5,190.4 1582.8,189.7 1584.1,189 1585.4,188.4 1586.7,187.7 1587.9,186.5 1589.2,184.7 1590.5,182.9 1591.8,181.1 1593.1,179.3 1594.4,179.5 1595.6,181.6 1596.9,183.7 1598.2,185.8 1599.5,186.7 1600.8,187.2 1602.1,187.6 1603.3,188.1 1604.6,188.5 1605.9,189 1607.2,189.5 1608.5,189.9 1609.7,190.4 1611,189 1612.3,187.6 1613.6,186.2 1614.9,184.8 1616.2,183.4 1617.4,184.6 1618.7,185.8 1620,187 1621.3,188.2 1622.6,189.4 1623.9,188.9 1625.1,188.4 1626.4,187.9 1627.7,187.4 1629,187 1630.3,186.5 1631.5,179.1 1632.8,169.5 1634.1,159.9 1635.4,164.2 1636.7,173.3 1638,182.4 1639.2,183.3 1640.5,184.2 1641.8,185.1 1643.1,186 1644.4,186.9 1645.7,187 1646.9,186.4 1648.2,185.7 1649.5,185 1650.8,184.4 1652.1,183.7 1653.3,183 1654.6,182.4 1655.9,181.6 1657.2,180.8 1658.5,180 1659.8,179.2 1661,178.4 1662.3,175.6 1663.6,172.8 1664.9,170 1666.2,167.2 1667.5,164.4 1668.7,167.6 1670,170.8 1671.3,174 1672.6,176.9 1673.9,178.7 1675.2,180.6 1676.4,182.5 1677.7,184.4 1677.7,250.1 1676.4,249.4 1675.2,248.8 1673.9,248.2 1672.6,248.7 1671.3,249.3 1670,249.9 1668.7,250.5 1667.5,251.1 1666.2,250.9 1664.9,250.7 1663.6,250.5 1662.3,250.3 1661,250.1 1659.8,249.5 1658.5,248.9 1657.2,248.4 1655.9,247.8 1654.6,247.2 1653.3,246.6 1652.1,246 1650.8,245.5 1649.5,244.9 1648.2,244.3 1646.9,244.7 1645.7,245.1 1644.4,245.5 1643.1,245.8 1641.8,246.2 1640.5,246 1639.2,245.7 1638,245.5 1636.7,245.2 1635.4,244.9 1634.1,244.7 1632.8,244.4 1631.5,244.4 1630.3,244.7 1629,244.9 1627.7,245.2 1626.4,245.5 1625.1,245.7 1623.9,246 1622.6,246.2 1621.3,247.1 1620,247.9 1618.7,248.7 1617.4,249.6 1616.2,250.4 1614.9,251.8 1613.6,254.7 1612.3,257.6 1611,259.3 1609.7,257.5 1608.5,255.7 1607.2,253.9 1605.9,253.2 1604.6,253.6 1603.3,254 1602.1,254.3 1600.8,254.7 1599.5,255.3 1598.2,256.1 1596.9,256.8 1595.6,257.6 1594.4,258.4 1593.1,259.5 1591.8,261.1 1590.5,262.6 1589.2,264.2 1587.9,268 1586.7,272.7 1585.4,275.2 1584.1,271.3 1582.8,267.5 1581.5,264.8 1580.3,262.4 1579,260.1 1577.7,257.8 1576.4,256.8 1575.1,255.9 1573.8,254.9 1572.6,254 1571.3,253 1570,252.2 1568.7,251.4 1567.4,250.7 1566.1,249.9 1564.9,249.1 1563.6,249.5 1562.3,249.9 1561,250.3 1559.7,250.7 1558.5,251.1 1557.2,249.7 1555.9,248.4 1554.6,247 1553.3,245.6 1552,244.3 1550.8,243.9 1549.5,243.5 1548.2,243.1 1546.9,242.8 1545.6,242.4 1544.3,242.9 1543.1,243.5 1541.8,244.1 1540.5,244.7 1539.2,245.3 1537.9,245 1536.7,244.6 1535.4,244.3 1534.1,244 1532.8,243.7 1531.5,243.4 1530.2,243.9 1529,244.7 1527.7,245.5 1526.4,246.2 1525.1,247 1523.8,248.2 1522.5,249.6 1521.3,250.9 1520,252.3 1518.7,253.6 1517.4,253.5 1516.1,252.9 1514.9,252.4 1513.6,251.8 1512.3,251.2 1511,251.2 1509.7,251.4 1508.4,251.6 1507.2,251.8 1505.9,252 1504.6,250.9 1503.3,249.4 1502,247.9 1500.7,246.1 1499.5,243.9 1498.2,241.7 1496.9,239.5 1495.6,239.7 1494.3,240 1493,240.2 1491.8,241.3 1490.5,244.8 1489.2,248.3 1487.9,253.8 1486.6,259.9 1485.4,265.6 1484.1,269.8 1482.8,274 1481.5,276.6 1480.2,277.4 1478.9,278.2 1477.7,279.1 1476.4,278 1475.1,276.9 1473.8,275.8 1472.5,274.8 1471.2,273.6 1470,272.5 1468.7,271.3 1467.4,270.2 1466.1,269 1464.8,266.9 1463.6,263.8 1462.3,260.7 1461,257.6 1459.7,255.1 1458.4,252.8 1457.1,250.5 1455.9,248.2 1454.6,247.6 1453.3,247 1452,246.4 1450.7,245.8 1449.4,245.3 1448.2,246 1446.9,246.8 1445.6,247.6 1444.3,248.4 1443,249.1 1441.8,248.7 1440.5,248.4 1439.2,248 1437.9,247.6 1436.6,247.2 1435.3,248.2 1434.1,249.3 1432.8,250.3 1431.5,250.9 1430.2,250.4 1428.9,249.9 1427.6,249.4 1426.4,249.8 1425.1,251.1 1423.8,252.3 1422.5,251.8 1421.2,249.4 1420,247 1418.7,245.1 1417.4,244.3 1416.1,243.5 1414.8,242.8 1413.5,242.3 1412.3,242.1 1411,241.9 1409.7,241.7 1408.4,241.5 1407.1,241.6 1405.8,242 1404.6,242.4 1403.3,242.8 1402,243.1 1400.7,243 1399.4,242.5 1398.2,241.9 1396.9,241.3 1395.6,240.7 1394.3,240.8 1393,241.6 1391.7,242.4 1390.5,243.1 1389.2,243.9 1387.9,244 1386.6,243.4 1385.3,242.8 1384,242.3 1382.8,241.7 1381.5,241.8 1380.2,242.6 1378.9,243.3 1377.6,244.1 1376.4,244.9 1375.1,244.9 1373.8,244.1 1372.5,243.3 1371.2,242.6 1369.9,241.8 1368.7,241.8 1367.4,242.6 1366.1,243.3 1364.8,244.1 1363.5,243.5 1362.2,242.5 1361,241.5 1359.7,240.4" fill="#fddccb" opacity="0.5"/>
<polyline points="1359.7,206.6 1363.9,192.2 1370.1,180.9 1375.6,203.4 1381.1,214.7 1388.1,197 1394.9,192.2 1401,213.1 1406.8,222.7 1415.2,201.8 1418.1,185.7 1424.4,206.6 1430,219.5 1436.6,200.2 1441.9,190.6 1446.6,211.5 1454.2,195.4 1459,206.6 1465.3,213.1 1470.6,208.3 1477,213.1 1484.7,208.3 1491,216.3 1497.1,213.1 1503,206.6 1510,201.8 1517.2,198.6 1524,206.6 1530.3,211.5 1534.7,216.3 1545.2,221.1 1552,213.1 1559.3,206.6 1565,213.1 1572.1,209.9 1578.2,219.5 1583,216.3 1591.7,206.6 1597.1,197 1603.6,187.3 1609.1,193.8 1617.2,190.6 1623.9,185.7 1628.6,180.9 1635.4,184.1 1640.7,177.7 1648.9,169.6 1655,164.8 1660.4,161.6 1668.3,163.2 1674,166.4 1677.7,171.2" fill="none" stroke="#fb8b6b" stroke-width="2.15" stroke-linejoin="round"/>
<polyline points="1359.7,219.5 1365.1,206.6 1371.8,235.6 1379.8,221.1 1384.1,240.4 1390.8,219.5 1399.2,237.2 1405.4,230.8 1410.3,217.9 1417,232.4 1422.6,222.7 1429.3,237.2 1435.4,226 1443.3,235.6 1449.7,222.7 1454.9,226 1463.1,213.1 1468.7,222.7 1475.4,209.9 1481.9,221.1 1487.2,211.5 1495.1,219.5 1500.5,213.1 1507.2,206.6 1512.6,213.1 1519.4,208.3 1526.3,216.3 1533.4,224.3 1539.1,219.5 1545.8,226 1552.7,211.5 1558.2,221.1 1563.6,214.7 1571.4,222.7 1578.8,217.9 1582.9,226 1590.4,229.2 1597.3,221.1 1603.3,213.1 1608.7,206.6 1616.2,211.5 1621.5,203.4 1627.9,197 1635,201.8 1641,206.6 1648.2,200.2 1655.8,195.4 1660.3,198.6 1668.7,193.8 1673.5,192.2 1677.7,195.4" fill="none" stroke="#fb8b6b" stroke-width="2.15" stroke-linejoin="round"/>
<polyline points="1359.7,232.4 1366.8,219.5 1373.4,251.7 1379.8,229.2 1384.4,254.9 1392.7,232.4 1397.2,248.5 1405.2,235.6 1409.8,226 1416.9,238.8 1422.9,227.6 1430.5,232.4 1436.1,214.7 1443.2,224.3 1448.7,209.9 1455.6,221.1 1463.3,226 1468.9,216.3 1475.1,224.3 1482.1,214.7 1489.2,222.7 1493.9,226 1499.7,221.1 1506.5,227.6 1512.7,222.7 1519.7,229.2 1527,224.3 1533.5,232.4 1538.2,226 1544.8,213.1 1551.7,221.1 1559.3,211.5 1564.8,224.3 1571.4,229.2 1577.2,222.7 1584.2,230.8 1590.8,221.1 1596.5,213.1 1603.6,222.7 1610.4,216.3 1615.8,206.6 1622.5,211.5 1628,216.3 1634.8,226 1640.6,230.8 1647.1,222.7 1653.6,206.6 1662.1,201.8 1668.1,211.5 1674.1,219.5 1677.7,213.1" fill="none" stroke="#fb8b6b" stroke-width="2.15" stroke-linejoin="round"/>
<line x1="1359.7" y1="111.9" x2="1679.4" y2="111.9" stroke="#e8412e" stroke-width="2.4" stroke-dasharray="0.01,3.25" stroke-linecap="round"/>
<line x1="1359.7" y1="321.1" x2="1679.4" y2="321.1" stroke="#e8412e" stroke-width="2.4" stroke-dasharray="0.01,3.25" stroke-linecap="round"/>
<polyline points="1359.7,242.4 1362.2,227 1364.8,211.4 1367.4,204.3 1369.9,215.4 1372.5,226.2 1375.1,219.3 1377.6,209.3 1380.2,199.8 1382.8,204.9 1385.3,212.7 1387.9,220.4 1390.5,217.1 1393,211.8 1395.6,206.5 1398.2,203.2 1400.7,200.5 1403.3,204 1405.8,217 1408.4,229.8 1411,226.1 1413.5,220.3 1416.1,214.2 1418.7,214.9 1421.2,225.1 1423.8,236 1426.4,247.4 1428.9,251.1 1431.5,244.9 1434.1,238.4 1436.6,231.5 1439.2,235.2 1441.8,239.2 1444.3,243.5 1446.9,243.6 1449.4,238.8 1452,234 1454.6,229.4 1457.1,235.5 1459.7,251.4 1462.3,266.6 1464.8,281.3 1467.4,285.6 1470,280.3 1472.5,279.8 1475.1,288.5 1477.7,297 1480.2,295.5 1482.8,285.7 1485.4,275.9 1487.9,261.6 1490.5,243.8 1493,226.2 1495.6,212.9 1498.2,203.3 1500.7,188.5 1503.3,177.9 1505.9,173.2 1508.4,168.6 1511,165.4 1513.6,162.7 1516.1,160.1 1518.7,163.3 1521.3,166.7 1523.8,170.9 1526.4,177.9 1529,184.3 1531.5,191.6 1534.1,196.5 1536.7,192.6 1539.2,189.4 1541.8,195.1 1544.3,202.4 1546.9,199.9 1549.5,203.5 1552,216.3 1554.6,230.8 1557.2,245.3 1559.7,255.3 1562.3,248.4 1564.9,241.5 1567.4,234.4 1570,233.9 1572.6,235.7 1575.1,237.8 1577.7,240.6 1580.3,240 1582.8,238 1585.4,235.5 1587.9,239.3 1590.5,245.4 1593.1,251.8 1595.6,248 1598.2,240.9 1600.8,233.5 1603.3,226.5 1605.9,220 1608.5,217.8 1611,216.6 1613.6,214.9 1616.2,213 1618.7,211.1 1621.3,209.7 1623.9,208.7 1626.4,203.5 1629,202.4 1631.5,201.7 1634.1,198.2 1636.7,193.3 1639.2,191 1641.8,193 1644.4,195 1646.9,196.8 1649.5,197.4 1652.1,197.5 1654.6,197.9 1657.2,199 1659.8,200.5 1662.3,202.2 1664.9,204 1667.5,205.2 1670,206 1672.6,206.6 1675.2,210.9 1677.7,215.7" fill="none" stroke="#db1a20" stroke-width="2.05" stroke-linejoin="round"/>
<polyline points="1359.7,239.6 1362.2,224.2 1364.8,208.7 1367.4,201.9 1369.9,213.4 1372.5,224.8 1375.1,218.7 1377.6,209.1 1380.2,199.4 1382.8,203.5 1385.3,210 1387.9,216.7 1390.5,213.3 1393,208.8 1395.6,204.4 1398.2,201.4 1400.7,198.7 1403.3,202.2 1405.8,215.2 1408.4,227.9 1411,223.8 1413.5,217.7 1416.1,211.9 1418.7,213.9 1421.2,225.6 1423.8,236.9 1426.4,247.6 1428.9,250.3 1431.5,243.4 1434.1,236.9 1436.6,231 1439.2,236.4 1441.8,242 1444.3,247 1446.9,246.7 1449.4,241 1452,235.6 1454.6,230.2 1457.1,234.9 1459.7,249.5 1462.3,264.5 1464.8,280.3 1467.4,285.5 1470,280.4 1472.5,279.7 1475.1,288.8 1477.7,297.7 1480.2,296 1482.8,285.8 1485.4,276.1 1487.9,262.9 1490.5,246.8 1493,230.3 1495.6,217.3 1498.2,206.6 1500.7,190 1503.3,178 1505.9,173 1508.4,169.4 1511,167.5 1513.6,165.7 1516.1,163.6 1518.7,167.1 1521.3,169.9 1523.8,172.3 1526.4,176.9 1529,181.7 1531.5,188.8 1534.1,195 1536.7,192.8 1539.2,190.6 1541.8,196.3 1544.3,202.9 1546.9,199.6 1549.5,202.9 1552,216.2 1554.6,231.3 1557.2,246 1559.7,255.3 1562.3,247.3 1564.9,239.3 1567.4,231.7 1570,231.4 1572.6,234 1575.1,236.8 1577.7,239.7 1580.3,239 1582.8,237.1 1585.4,235 1587.9,239.1 1590.5,244.8 1593.1,250 1595.6,245.3 1598.2,238.4 1600.8,232.1 1603.3,225.9 1605.9,219.1 1608.5,215.6 1611,213 1613.6,210.9 1616.2,210.1 1618.7,209.5 1621.3,208.7 1623.9,207.7 1626.4,202.2 1629,200 1631.5,197.5 1634.1,192.9 1636.7,188.5 1639.2,187.2 1641.8,190 1644.4,192.5 1646.9,195.3 1649.5,197.2 1652.1,197.9 1654.6,197.9 1657.2,198.1 1659.8,198.8 1662.3,200 1664.9,201.2 1667.5,202.8 1670,204.9 1672.6,207 1675.2,211.9 1677.7,216.5" fill="none" stroke="#db1a20" stroke-width="2.05" stroke-linejoin="round"/>
<polyline points="1359.7,241.3 1362.2,225.4 1364.8,209.3 1367.4,201.7 1369.9,212.6 1372.5,224.2 1375.1,219 1377.6,210.1 1380.2,200.6 1382.8,205.2 1385.3,212.2 1387.9,219.2 1390.5,215.2 1393,209.5 1395.6,203.9 1398.2,200.4 1400.7,197.5 1403.3,201.2 1405.8,214.3 1408.4,227.1 1411,223.7 1413.5,218.6 1416.1,213.4 1418.7,214.7 1421.2,224.9 1423.8,235.2 1426.4,245.9 1428.9,249.5 1431.5,243.6 1434.1,237.5 1436.6,230.9 1439.2,235 1441.8,239.3 1444.3,243.5 1446.9,243 1449.4,237.7 1452,232.9 1454.6,228.3 1457.1,234 1459.7,249.8 1462.3,265.6 1464.8,281.7 1467.4,286.9 1470,281.6 1472.5,280.3 1475.1,288.8 1477.7,297.9 1480.2,296.6 1482.8,286.3 1485.4,275.5 1487.9,261 1490.5,243.9 1493,227.1 1495.6,214.4 1498.2,204.5 1500.7,189.3 1503.3,179 1505.9,174.9 1508.4,170.3 1511,166.3 1513.6,162.6 1516.1,159.4 1518.7,162.4 1521.3,165.5 1523.8,169.1 1526.4,175.9 1529,183 1531.5,191.8 1534.1,198.1 1536.7,194.7 1539.2,190.5 1541.8,194.5 1544.3,200.3 1546.9,197 1549.5,200.1 1552,212.4 1554.6,226.5 1557.2,241 1559.7,251.1 1562.3,244 1564.9,236.6 1567.4,229.1 1570,228.9 1572.6,231.8 1575.1,234.9 1577.7,237.8 1580.3,236.3 1582.8,233.3 1585.4,230.4 1587.9,234.6 1590.5,241.3 1593.1,247.9 1595.6,244.1 1598.2,237 1600.8,229.9 1603.3,223.2 1605.9,216.8 1608.5,214.5 1611,213 1613.6,211.1 1616.2,209.7 1618.7,208.7 1621.3,207.8 1623.9,206.8 1626.4,201.1 1629,198.9 1631.5,196.2 1634.1,190.7 1636.7,185.3 1639.2,183.7 1641.8,187 1644.4,190.1 1646.9,192.9 1649.5,194.9 1652.1,196.4 1654.6,197.5 1657.2,198.1 1659.8,198.4 1662.3,198.9 1664.9,199.8 1667.5,200.8 1670,202.2 1672.6,204.3 1675.2,209.6 1677.7,214.3" fill="none" stroke="#db1a20" stroke-width="2.05" stroke-linejoin="round"/>
<path d="M1359.7,103.6 V329 H1680.4" fill="none" stroke="#9a9a9a" stroke-width="1.2"/>
<line x1="1359.7" y1="329" x2="1359.7" y2="326.4" stroke="#b0b0b0" stroke-width="1"/>
<text x="1359.7" y="356.4" font-size="19.6" font-weight="bold" text-anchor="middle" fill="#1f1f1f">-200</text>
<line x1="1423.8" y1="329" x2="1423.8" y2="326.4" stroke="#b0b0b0" stroke-width="1"/>
<text x="1423.8" y="356.4" font-size="19.6" font-weight="bold" text-anchor="middle" fill="#1f1f1f">0</text>
<line x1="1487.9" y1="329" x2="1487.9" y2="326.4" stroke="#b0b0b0" stroke-width="1"/>
<text x="1487.9" y="356.4" font-size="19.6" font-weight="bold" text-anchor="middle" fill="#1f1f1f">200</text>
<line x1="1552" y1="329" x2="1552" y2="326.4" stroke="#b0b0b0" stroke-width="1"/>
<text x="1552" y="356.4" font-size="19.6" font-weight="bold" text-anchor="middle" fill="#1f1f1f">400</text>
<line x1="1616.2" y1="329" x2="1616.2" y2="326.4" stroke="#b0b0b0" stroke-width="1"/>
<text x="1616.2" y="356.4" font-size="19.6" font-weight="bold" text-anchor="middle" fill="#1f1f1f">600</text>
<line x1="1680.3" y1="329" x2="1680.3" y2="326.4" stroke="#b0b0b0" stroke-width="1"/>
<text x="1680.3" y="356.4" font-size="19.6" font-weight="bold" text-anchor="middle" fill="#1f1f1f">800</text>
<line x1="1359.7" y1="135.9" x2="1362.3" y2="135.9" stroke="#b0b0b0" stroke-width="1"/>
<text x="1353.7" y="144.2" font-size="19.6" font-weight="bold" text-anchor="end" fill="#1f1f1f">5</text>
<line x1="1359.7" y1="216.3" x2="1362.3" y2="216.3" stroke="#b0b0b0" stroke-width="1"/>
<text x="1353.7" y="224.4" font-size="19.6" font-weight="bold" text-anchor="end" fill="#1f1f1f">0</text>
<line x1="1359.7" y1="296.8" x2="1362.3" y2="296.8" stroke="#b0b0b0" stroke-width="1"/>
<text x="1353.7" y="305.6" font-size="19.6" font-weight="bold" text-anchor="end" fill="#1f1f1f">-5</text>
<text x="1520.5" y="392.4" font-size="28.8" font-weight="bold" text-anchor="middle" fill="#000" textLength="142" lengthAdjust="spacingAndGlyphs">Time [ms]</text>
<text transform="translate(1327.2,217.3) rotate(-90)" font-size="30.6" font-weight="bold" text-anchor="middle" fill="#000">t-value</text>
<g font-weight="bold" fill="#000">
<text x="803.4" y="58" font-size="32.5" textLength="179.6" lengthAdjust="spacingAndGlyphs">31 channels</text>
<text x="1359.6" y="58" font-size="32.5" textLength="311.4" lengthAdjust="spacingAndGlyphs">496 bipolar channels</text>
<text x="839.6" y="93.2" font-size="19.8" textLength="51" lengthAdjust="spacingAndGlyphs">MMN</text>
<text x="1452.8" y="92.8" font-size="19.8" textLength="51" lengthAdjust="spacingAndGlyphs">MMN</text>
</g>
<rect x="1107.6" y="157.3" width="33" height="12.2" fill="#de2d26"/>
<rect x="1107.6" y="176.6" width="33" height="12.2" fill="#fc8d6b"/>
<rect x="1107.6" y="195.7" width="33" height="12.2" fill="#fddccb"/>
<rect x="1108.4" y="220.2" width="6" height="5.6" fill="#000"/>
<circle cx="1111.4" cy="243.3" r="3.4" fill="#e03524"/>
<circle cx="1111.4" cy="262.8" r="3.4" fill="#000"/>
<rect x="1121.4" y="220.2" width="6" height="5.6" fill="#000"/>
<circle cx="1124.4" cy="243.3" r="3.4" fill="#e03524"/>
<circle cx="1124.4" cy="262.8" r="3.4" fill="#000"/>
<rect x="1134.6" y="220.2" width="6" height="5.6" fill="#000"/>
<circle cx="1137.6" cy="243.3" r="3.4" fill="#e03524"/>
<circle cx="1137.6" cy="262.8" r="3.4" fill="#000"/>
<g font-weight="bold" fill="#0d0d14" font-size="13.4">
<text x="1143.6" y="168.7" textLength="82.2" lengthAdjust="spacingAndGlyphs">Best channels</text>
<text x="1143.6" y="187.7" textLength="94.8" lengthAdjust="spacingAndGlyphs">Worst channels</text>
<text x="1143.6" y="206.6" textLength="92.5" lengthAdjust="spacingAndGlyphs">Other channels</text>
<text x="1143.6" y="227.6" textLength="99.3" lengthAdjust="spacingAndGlyphs">GED component</text>
<text x="1143.6" y="247.8" textLength="137" lengthAdjust="spacingAndGlyphs">Crit. t-value best chan.</text>
<text x="1143.6" y="267.4" textLength="100.4" lengthAdjust="spacingAndGlyphs">Crit. t-value GED</text>
</g>
<defs>
<linearGradient id="a0"><stop offset="0" stop-color="#26c2ad"/><stop offset="0.071" stop-color="#29c3aa"/><stop offset="0.143" stop-color="#27c2ac"/><stop offset="0.214" stop-color="#16bfb7"/><stop offset="0.286" stop-color="#01b8ca"/><stop offset="0.357" stop-color="#19addc"/><stop offset="0.429" stop-color="#23a1e4"/><stop offset="0.5" stop-color="#2c90f0"/><stop offset="0.571" stop-color="#3975fe"/><stop offset="0.643" stop-color="#475bf9"/><stop offset="0.714" stop-color="#4742e6"/><stop offset="0.786" stop-color="#4332ca"/><stop offset="0.857" stop-color="#402bb6"/><stop offset="0.929" stop-color="#3e27ac"/><stop offset="1" stop-color="#3e26a8"/></linearGradient>
<linearGradient id="a1"><stop offset="0" stop-color="#32c69f"/><stop offset="0.071" stop-color="#34c79c"/><stop offset="0.143" stop-color="#33c69e"/><stop offset="0.214" stop-color="#29c3aa"/><stop offset="0.286" stop-color="#08bcbf"/><stop offset="0.357" stop-color="#0cb3d3"/><stop offset="0.429" stop-color="#1da8e0"/><stop offset="0.5" stop-color="#2797eb"/><stop offset="0.571" stop-color="#317dfc"/><stop offset="0.643" stop-color="#4564fd"/><stop offset="0.714" stop-color="#484bef"/><stop offset="0.786" stop-color="#4538d8"/><stop offset="0.857" stop-color="#4230c3"/><stop offset="0.929" stop-color="#402bb7"/><stop offset="1" stop-color="#3f28ad"/></linearGradient>
<linearGradient id="a2"><stop offset="0" stop-color="#3eca8f"/><stop offset="0.071" stop-color="#41ca8c"/><stop offset="0.143" stop-color="#3fca8e"/><stop offset="0.214" stop-color="#34c79c"/><stop offset="0.286" stop-color="#1ec0b2"/><stop offset="0.357" stop-color="#01b8c9"/><stop offset="0.429" stop-color="#17aeda"/><stop offset="0.5" stop-color="#259de7"/><stop offset="0.571" stop-color="#2e84f8"/><stop offset="0.643" stop-color="#3f6eff"/><stop offset="0.714" stop-color="#4755f6"/><stop offset="0.786" stop-color="#4740e3"/><stop offset="0.857" stop-color="#4435d0"/><stop offset="0.929" stop-color="#422fc1"/><stop offset="1" stop-color="#402bb6"/></linearGradient>
<linearGradient id="a3"><stop offset="0" stop-color="#54cc7c"/><stop offset="0.071" stop-color="#56cc7b"/><stop offset="0.143" stop-color="#55cc7c"/><stop offset="0.214" stop-color="#42ca8c"/><stop offset="0.286" stop-color="#2ec4a5"/><stop offset="0.357" stop-color="#0abdbd"/><stop offset="0.429" stop-color="#09b4d1"/><stop offset="0.5" stop-color="#21a3e3"/><stop offset="0.571" stop-color="#2d8cf3"/><stop offset="0.643" stop-color="#3579fd"/><stop offset="0.714" stop-color="#465ffb"/><stop offset="0.786" stop-color="#4849ed"/><stop offset="0.857" stop-color="#463bdd"/><stop offset="0.929" stop-color="#4433cc"/><stop offset="1" stop-color="#422ebf"/></linearGradient>
<linearGradient id="a4"><stop offset="0" stop-color="#6ccd68"/><stop offset="0.071" stop-color="#6ccd68"/><stop offset="0.143" stop-color="#6bcd69"/><stop offset="0.214" stop-color="#57cc7a"/><stop offset="0.286" stop-color="#39c895"/><stop offset="0.357" stop-color="#21c1b0"/><stop offset="0.429" stop-color="#01b9c7"/><stop offset="0.5" stop-color="#1da9e0"/><stop offset="0.571" stop-color="#2a93ed"/><stop offset="0.643" stop-color="#2e83f9"/><stop offset="0.714" stop-color="#426afe"/><stop offset="0.786" stop-color="#4853f5"/><stop offset="0.857" stop-color="#4743e7"/><stop offset="0.929" stop-color="#4538d8"/><stop offset="1" stop-color="#4332c9"/></linearGradient>
<linearGradient id="a5"><stop offset="0" stop-color="#86cb55"/><stop offset="0.071" stop-color="#83cc57"/><stop offset="0.143" stop-color="#83cc57"/><stop offset="0.214" stop-color="#6ecd67"/><stop offset="0.286" stop-color="#4bcb83"/><stop offset="0.357" stop-color="#2fc5a2"/><stop offset="0.429" stop-color="#0cbdbc"/><stop offset="0.5" stop-color="#17aeda"/><stop offset="0.571" stop-color="#269be8"/><stop offset="0.643" stop-color="#2d8df2"/><stop offset="0.714" stop-color="#3875fe"/><stop offset="0.786" stop-color="#465efb"/><stop offset="0.857" stop-color="#484df0"/><stop offset="0.929" stop-color="#473fe2"/><stop offset="1" stop-color="#4536d3"/></linearGradient>
<linearGradient id="a6"><stop offset="0" stop-color="#9dc943"/><stop offset="0.071" stop-color="#97ca48"/><stop offset="0.143" stop-color="#99c946"/><stop offset="0.214" stop-color="#86cb55"/><stop offset="0.286" stop-color="#63cd6f"/><stop offset="0.357" stop-color="#3bc992"/><stop offset="0.429" stop-color="#20c1b1"/><stop offset="0.5" stop-color="#0cb3d3"/><stop offset="0.571" stop-color="#22a2e4"/><stop offset="0.643" stop-color="#2895ec"/><stop offset="0.714" stop-color="#2f81fa"/><stop offset="0.786" stop-color="#4269fe"/><stop offset="0.857" stop-color="#4757f8"/><stop offset="0.929" stop-color="#4747ec"/><stop offset="1" stop-color="#463bdd"/></linearGradient>
<linearGradient id="a7"><stop offset="0" stop-color="#afc636"/><stop offset="0.071" stop-color="#a9c73a"/><stop offset="0.143" stop-color="#aac73a"/><stop offset="0.214" stop-color="#9bc945"/><stop offset="0.286" stop-color="#7dcc5b"/><stop offset="0.357" stop-color="#4fcc81"/><stop offset="0.429" stop-color="#2dc4a5"/><stop offset="0.5" stop-color="#01b8ca"/><stop offset="0.571" stop-color="#1da8e0"/><stop offset="0.643" stop-color="#259de7"/><stop offset="0.714" stop-color="#2d8cf3"/><stop offset="0.786" stop-color="#3776fe"/><stop offset="0.857" stop-color="#4563fd"/><stop offset="0.929" stop-color="#4851f4"/><stop offset="1" stop-color="#4742e6"/></linearGradient>
<linearGradient id="a8"><stop offset="0" stop-color="#c1c32c"/><stop offset="0.071" stop-color="#b9c430"/><stop offset="0.143" stop-color="#b8c431"/><stop offset="0.214" stop-color="#adc638"/><stop offset="0.286" stop-color="#95ca49"/><stop offset="0.357" stop-color="#66cd6d"/><stop offset="0.429" stop-color="#36c898"/><stop offset="0.5" stop-color="#05bbc1"/><stop offset="0.571" stop-color="#17aeda"/><stop offset="0.643" stop-color="#20a4e3"/><stop offset="0.714" stop-color="#2896ec"/><stop offset="0.786" stop-color="#2e83f9"/><stop offset="0.857" stop-color="#3e70ff"/><stop offset="0.929" stop-color="#475cfa"/><stop offset="1" stop-color="#484cef"/></linearGradient>
<linearGradient id="a9"><stop offset="0" stop-color="#d4bf27"/><stop offset="0.071" stop-color="#cdc028"/><stop offset="0.143" stop-color="#c9c129"/><stop offset="0.214" stop-color="#bec32e"/><stop offset="0.286" stop-color="#aac73a"/><stop offset="0.357" stop-color="#7ecc5b"/><stop offset="0.429" stop-color="#44cb89"/><stop offset="0.5" stop-color="#16bfb7"/><stop offset="0.571" stop-color="#0bb3d2"/><stop offset="0.643" stop-color="#1aabdd"/><stop offset="0.714" stop-color="#249fe5"/><stop offset="0.786" stop-color="#2c8ef1"/><stop offset="0.857" stop-color="#317dfc"/><stop offset="0.929" stop-color="#4368fe"/><stop offset="1" stop-color="#4757f7"/></linearGradient>
<linearGradient id="a10"><stop offset="0" stop-color="#e5bb2d"/><stop offset="0.071" stop-color="#e0bc2a"/><stop offset="0.143" stop-color="#dabd28"/><stop offset="0.214" stop-color="#d1bf27"/><stop offset="0.286" stop-color="#bdc32e"/><stop offset="0.357" stop-color="#94ca4a"/><stop offset="0.429" stop-color="#57cc7a"/><stop offset="0.5" stop-color="#26c2ac"/><stop offset="0.571" stop-color="#01b8c9"/><stop offset="0.643" stop-color="#10b2d5"/><stop offset="0.714" stop-color="#1da8e0"/><stop offset="0.786" stop-color="#2698ea"/><stop offset="0.857" stop-color="#2d89f5"/><stop offset="0.929" stop-color="#3875fe"/><stop offset="1" stop-color="#4563fc"/></linearGradient>
<linearGradient id="a11"><stop offset="0" stop-color="#f5ba3b"/><stop offset="0.071" stop-color="#f2ba38"/><stop offset="0.143" stop-color="#ebba31"/><stop offset="0.214" stop-color="#e2bc2b"/><stop offset="0.286" stop-color="#d2bf27"/><stop offset="0.357" stop-color="#a7c73c"/><stop offset="0.429" stop-color="#6bcd69"/><stop offset="0.5" stop-color="#31c6a0"/><stop offset="0.571" stop-color="#09bcbe"/><stop offset="0.643" stop-color="#02b7cb"/><stop offset="0.714" stop-color="#14b0d8"/><stop offset="0.786" stop-color="#22a2e4"/><stop offset="0.857" stop-color="#2994ed"/><stop offset="0.929" stop-color="#2f82fa"/><stop offset="1" stop-color="#3e70ff"/></linearGradient>
<linearGradient id="a12"><stop offset="0" stop-color="#fdbd3d"/><stop offset="0.071" stop-color="#fcbd3d"/><stop offset="0.143" stop-color="#f9bb3d"/><stop offset="0.214" stop-color="#f2ba38"/><stop offset="0.286" stop-color="#e2bc2b"/><stop offset="0.357" stop-color="#b6c532"/><stop offset="0.429" stop-color="#7fcc5a"/><stop offset="0.5" stop-color="#3cc991"/><stop offset="0.571" stop-color="#1dc0b3"/><stop offset="0.643" stop-color="#06bcc0"/><stop offset="0.714" stop-color="#04b6cd"/><stop offset="0.786" stop-color="#1caadf"/><stop offset="0.857" stop-color="#259de7"/><stop offset="0.929" stop-color="#2d8df2"/><stop offset="1" stop-color="#317dfc"/></linearGradient>
<linearGradient id="a13"><stop offset="0" stop-color="#fec636"/><stop offset="0.071" stop-color="#fec437"/><stop offset="0.143" stop-color="#fec239"/><stop offset="0.214" stop-color="#fcbc3d"/><stop offset="0.286" stop-color="#f0ba36"/><stop offset="0.357" stop-color="#c5c22a"/><stop offset="0.429" stop-color="#93ca4b"/><stop offset="0.5" stop-color="#4fcc80"/><stop offset="0.571" stop-color="#2cc4a6"/><stop offset="0.643" stop-color="#1ac0b5"/><stop offset="0.714" stop-color="#04bbc1"/><stop offset="0.786" stop-color="#13b1d7"/><stop offset="0.857" stop-color="#20a5e3"/><stop offset="0.929" stop-color="#2797eb"/><stop offset="1" stop-color="#2d89f6"/></linearGradient>
<linearGradient id="a14"><stop offset="0" stop-color="#fcd12f"/><stop offset="0.071" stop-color="#fccf30"/><stop offset="0.143" stop-color="#fccf30"/><stop offset="0.214" stop-color="#fec437"/><stop offset="0.286" stop-color="#f9bb3d"/><stop offset="0.357" stop-color="#d2bf27"/><stop offset="0.429" stop-color="#a3c83f"/><stop offset="0.5" stop-color="#65cd6e"/><stop offset="0.571" stop-color="#36c898"/><stop offset="0.643" stop-color="#2ac3a9"/><stop offset="0.714" stop-color="#17bfb6"/><stop offset="0.786" stop-color="#05b6ce"/><stop offset="0.857" stop-color="#1aabdd"/><stop offset="0.929" stop-color="#249fe5"/><stop offset="1" stop-color="#2a92ee"/></linearGradient>
<linearGradient id="a15"><stop offset="0" stop-color="#f7db2b"/><stop offset="0.071" stop-color="#f8da2b"/><stop offset="0.143" stop-color="#f8da2b"/><stop offset="0.214" stop-color="#fcd030"/><stop offset="0.286" stop-color="#febf3c"/><stop offset="0.357" stop-color="#dfbc2a"/><stop offset="0.429" stop-color="#b1c635"/><stop offset="0.5" stop-color="#7acc5e"/><stop offset="0.571" stop-color="#44cb89"/><stop offset="0.643" stop-color="#33c69d"/><stop offset="0.714" stop-color="#26c2ad"/><stop offset="0.786" stop-color="#01bac5"/><stop offset="0.857" stop-color="#12b1d7"/><stop offset="0.929" stop-color="#1fa6e1"/><stop offset="1" stop-color="#269ae8"/></linearGradient>
<linearGradient id="a16"><stop offset="0" stop-color="#f5e227"/><stop offset="0.071" stop-color="#f5e327"/><stop offset="0.143" stop-color="#f5e327"/><stop offset="0.214" stop-color="#f7db2b"/><stop offset="0.286" stop-color="#fec735"/><stop offset="0.357" stop-color="#ebba31"/><stop offset="0.429" stop-color="#bdc32e"/><stop offset="0.5" stop-color="#8ccb50"/><stop offset="0.571" stop-color="#57cc7a"/><stop offset="0.643" stop-color="#3dc991"/><stop offset="0.714" stop-color="#2ec5a4"/><stop offset="0.786" stop-color="#0abdbd"/><stop offset="0.857" stop-color="#06b5cf"/><stop offset="0.929" stop-color="#19addc"/><stop offset="1" stop-color="#23a1e4"/></linearGradient>
<linearGradient id="a17"><stop offset="0" stop-color="#f5e825"/><stop offset="0.071" stop-color="#f5ea24"/><stop offset="0.143" stop-color="#f5e924"/><stop offset="0.214" stop-color="#f5e327"/><stop offset="0.286" stop-color="#fbd22f"/><stop offset="0.357" stop-color="#f7ba3c"/><stop offset="0.429" stop-color="#c8c129"/><stop offset="0.5" stop-color="#9bc944"/><stop offset="0.571" stop-color="#6acd6a"/><stop offset="0.643" stop-color="#4acb84"/><stop offset="0.714" stop-color="#34c79b"/><stop offset="0.786" stop-color="#18bfb6"/><stop offset="0.857" stop-color="#01b9c8"/><stop offset="0.929" stop-color="#11b1d5"/><stop offset="1" stop-color="#1ea7e1"/></linearGradient>
<linearGradient id="a18"><stop offset="0" stop-color="#f5ec23"/><stop offset="0.071" stop-color="#f5ef21"/><stop offset="0.143" stop-color="#f5ee21"/><stop offset="0.214" stop-color="#f5e924"/><stop offset="0.286" stop-color="#f7db2b"/><stop offset="0.357" stop-color="#fbbc3d"/><stop offset="0.429" stop-color="#d1bf27"/><stop offset="0.5" stop-color="#a7c73c"/><stop offset="0.571" stop-color="#7dcc5b"/><stop offset="0.643" stop-color="#5acc78"/><stop offset="0.714" stop-color="#3bc993"/><stop offset="0.786" stop-color="#23c1af"/><stop offset="0.857" stop-color="#05bbc1"/><stop offset="0.929" stop-color="#06b5cf"/><stop offset="1" stop-color="#1aacdd"/></linearGradient>
<linearGradient id="a19"><stop offset="0" stop-color="#f5ee21"/><stop offset="0.071" stop-color="#f6f21e"/><stop offset="0.143" stop-color="#f6f11e"/><stop offset="0.214" stop-color="#f5ed21"/><stop offset="0.286" stop-color="#f5e128"/><stop offset="0.357" stop-color="#fec03b"/><stop offset="0.429" stop-color="#dabd28"/><stop offset="0.5" stop-color="#b1c635"/><stop offset="0.571" stop-color="#8ecb4f"/><stop offset="0.643" stop-color="#68cd6b"/><stop offset="0.714" stop-color="#43ca8a"/><stop offset="0.786" stop-color="#2bc3a8"/><stop offset="0.857" stop-color="#0fbeba"/><stop offset="0.929" stop-color="#01b8c8"/><stop offset="1" stop-color="#14b0d8"/></linearGradient>
<linearGradient id="a20"><stop offset="0" stop-color="#f6f01f"/><stop offset="0.071" stop-color="#f7f41c"/><stop offset="0.143" stop-color="#f7f41c"/><stop offset="0.214" stop-color="#f6f11f"/><stop offset="0.286" stop-color="#f5e626"/><stop offset="0.357" stop-color="#fec835"/><stop offset="0.429" stop-color="#e3bb2c"/><stop offset="0.5" stop-color="#bac430"/><stop offset="0.571" stop-color="#9cc944"/><stop offset="0.643" stop-color="#76cc60"/><stop offset="0.714" stop-color="#4ccb83"/><stop offset="0.786" stop-color="#2fc5a2"/><stop offset="0.857" stop-color="#1ac0b5"/><stop offset="0.929" stop-color="#03bbc2"/><stop offset="1" stop-color="#0cb3d3"/></linearGradient>
<linearGradient id="a21"><stop offset="0" stop-color="#f6f11e"/><stop offset="0.071" stop-color="#f7f51b"/><stop offset="0.143" stop-color="#f8f61a"/><stop offset="0.214" stop-color="#f7f41c"/><stop offset="0.286" stop-color="#f5ea24"/><stop offset="0.357" stop-color="#fcd030"/><stop offset="0.429" stop-color="#ecba32"/><stop offset="0.5" stop-color="#c3c22b"/><stop offset="0.571" stop-color="#a7c73c"/><stop offset="0.643" stop-color="#83cc57"/><stop offset="0.714" stop-color="#55cc7c"/><stop offset="0.786" stop-color="#33c79d"/><stop offset="0.857" stop-color="#22c1b0"/><stop offset="0.929" stop-color="#0abdbd"/><stop offset="1" stop-color="#05b6ce"/></linearGradient>
<linearGradient id="a22"><stop offset="0" stop-color="#f6f11e"/><stop offset="0.071" stop-color="#f7f61a"/><stop offset="0.143" stop-color="#f8f818"/><stop offset="0.214" stop-color="#f7f61a"/><stop offset="0.286" stop-color="#f5ed22"/><stop offset="0.357" stop-color="#f9d72d"/><stop offset="0.429" stop-color="#f3ba38"/><stop offset="0.5" stop-color="#cac129"/><stop offset="0.571" stop-color="#b0c636"/><stop offset="0.643" stop-color="#8ecb4f"/><stop offset="0.714" stop-color="#5dcc75"/><stop offset="0.786" stop-color="#36c898"/><stop offset="0.857" stop-color="#27c2ac"/><stop offset="0.929" stop-color="#13beb8"/><stop offset="1" stop-color="#01b8c9"/></linearGradient>
<linearGradient id="a23"><stop offset="0" stop-color="#f6f11e"/><stop offset="0.071" stop-color="#f7f61a"/><stop offset="0.143" stop-color="#f8f817"/><stop offset="0.214" stop-color="#f8f719"/><stop offset="0.286" stop-color="#f6ef20"/><stop offset="0.357" stop-color="#f7db2a"/><stop offset="0.429" stop-color="#f7ba3c"/><stop offset="0.5" stop-color="#d0bf27"/><stop offset="0.571" stop-color="#b8c431"/><stop offset="0.643" stop-color="#97ca48"/><stop offset="0.714" stop-color="#63cd70"/><stop offset="0.786" stop-color="#39c995"/><stop offset="0.857" stop-color="#2ac3a9"/><stop offset="0.929" stop-color="#1ac0b5"/><stop offset="1" stop-color="#01bac5"/></linearGradient>
<linearGradient id="a24"><stop offset="0" stop-color="#f6f11e"/><stop offset="0.071" stop-color="#f7f51b"/><stop offset="0.143" stop-color="#f8f817"/><stop offset="0.214" stop-color="#f8f818"/><stop offset="0.286" stop-color="#f6f11e"/><stop offset="0.357" stop-color="#f6df29"/><stop offset="0.429" stop-color="#f9bb3d"/><stop offset="0.5" stop-color="#d5be28"/><stop offset="0.571" stop-color="#c0c32d"/><stop offset="0.643" stop-color="#9ec942"/><stop offset="0.714" stop-color="#69cd6b"/><stop offset="0.786" stop-color="#3cc992"/><stop offset="0.857" stop-color="#2cc4a6"/><stop offset="0.929" stop-color="#1fc0b2"/><stop offset="1" stop-color="#04bbc2"/></linearGradient>
<linearGradient id="a25"><stop offset="0" stop-color="#f6f11f"/><stop offset="0.071" stop-color="#f7f51b"/><stop offset="0.143" stop-color="#f8f817"/><stop offset="0.214" stop-color="#f8f817"/><stop offset="0.286" stop-color="#f6f31d"/><stop offset="0.357" stop-color="#f5e227"/><stop offset="0.429" stop-color="#fabb3d"/><stop offset="0.5" stop-color="#dabd28"/><stop offset="0.571" stop-color="#c6c22a"/><stop offset="0.643" stop-color="#a4c83e"/><stop offset="0.714" stop-color="#6dcd68"/><stop offset="0.786" stop-color="#3dc990"/><stop offset="0.857" stop-color="#2dc4a5"/><stop offset="0.929" stop-color="#22c1b0"/><stop offset="1" stop-color="#08bcbf"/></linearGradient>
<linearGradient id="a26"><stop offset="0" stop-color="#f6f11f"/><stop offset="0.071" stop-color="#f7f51b"/><stop offset="0.143" stop-color="#f8f818"/><stop offset="0.214" stop-color="#f8f817"/><stop offset="0.286" stop-color="#f7f41c"/><stop offset="0.357" stop-color="#f5e426"/><stop offset="0.429" stop-color="#fcbc3d"/><stop offset="0.5" stop-color="#dfbc2a"/><stop offset="0.571" stop-color="#cbc129"/><stop offset="0.643" stop-color="#a8c73b"/><stop offset="0.714" stop-color="#70cd65"/><stop offset="0.786" stop-color="#3dca90"/><stop offset="0.857" stop-color="#2ec4a4"/><stop offset="0.929" stop-color="#24c1ae"/><stop offset="1" stop-color="#0bbdbd"/></linearGradient>
<linearGradient id="a27"><stop offset="0" stop-color="#f6f11e"/><stop offset="0.071" stop-color="#f7f41c"/><stop offset="0.143" stop-color="#f8f818"/><stop offset="0.214" stop-color="#f8f817"/><stop offset="0.286" stop-color="#f7f41c"/><stop offset="0.357" stop-color="#f5e526"/><stop offset="0.429" stop-color="#febe3c"/><stop offset="0.5" stop-color="#e2bc2b"/><stop offset="0.571" stop-color="#cec028"/><stop offset="0.643" stop-color="#abc739"/><stop offset="0.714" stop-color="#71cd64"/><stop offset="0.786" stop-color="#3dc990"/><stop offset="0.857" stop-color="#2ec4a4"/><stop offset="0.929" stop-color="#25c2ae"/><stop offset="1" stop-color="#0dbdbb"/></linearGradient>
<linearGradient id="a28"><stop offset="0" stop-color="#f6f21e"/><stop offset="0.071" stop-color="#f7f41c"/><stop offset="0.143" stop-color="#f8f719"/><stop offset="0.214" stop-color="#f8f818"/><stop offset="0.286" stop-color="#f7f51b"/><stop offset="0.357" stop-color="#f5e626"/><stop offset="0.429" stop-color="#febf3b"/><stop offset="0.5" stop-color="#e4bb2c"/><stop offset="0.571" stop-color="#d0bf27"/><stop offset="0.643" stop-color="#adc638"/><stop offset="0.714" stop-color="#72cd64"/><stop offset="0.786" stop-color="#3cc991"/><stop offset="0.857" stop-color="#2ec4a5"/><stop offset="0.929" stop-color="#25c2ad"/><stop offset="1" stop-color="#0ebebb"/></linearGradient>
<linearGradient id="a29"><stop offset="0" stop-color="#f6f21e"/><stop offset="0.071" stop-color="#f7f51c"/><stop offset="0.143" stop-color="#f8f719"/><stop offset="0.214" stop-color="#f8f718"/><stop offset="0.286" stop-color="#f7f51b"/><stop offset="0.357" stop-color="#f5e725"/><stop offset="0.429" stop-color="#fec03b"/><stop offset="0.5" stop-color="#e5bb2c"/><stop offset="0.571" stop-color="#d0bf27"/><stop offset="0.643" stop-color="#adc638"/><stop offset="0.714" stop-color="#71cd64"/><stop offset="0.786" stop-color="#3bc993"/><stop offset="0.857" stop-color="#2dc4a6"/><stop offset="0.929" stop-color="#25c2ae"/><stop offset="1" stop-color="#0ebebb"/></linearGradient>
<linearGradient id="a30"><stop offset="0" stop-color="#f6f21d"/><stop offset="0.071" stop-color="#f7f51b"/><stop offset="0.143" stop-color="#f8f719"/><stop offset="0.214" stop-color="#f8f719"/><stop offset="0.286" stop-color="#f7f51b"/><stop offset="0.357" stop-color="#f5e825"/><stop offset="0.429" stop-color="#fec03a"/><stop offset="0.5" stop-color="#e3bc2c"/><stop offset="0.571" stop-color="#cec028"/><stop offset="0.643" stop-color="#adc638"/><stop offset="0.714" stop-color="#70cd65"/><stop offset="0.786" stop-color="#39c895"/><stop offset="0.857" stop-color="#2cc4a7"/><stop offset="0.929" stop-color="#24c1ae"/><stop offset="1" stop-color="#0dbdbb"/></linearGradient>
<linearGradient id="a31"><stop offset="0" stop-color="#f7f31d"/><stop offset="0.071" stop-color="#f7f51b"/><stop offset="0.143" stop-color="#f8f719"/><stop offset="0.214" stop-color="#f8f61a"/><stop offset="0.286" stop-color="#f7f51b"/><stop offset="0.357" stop-color="#f5e924"/><stop offset="0.429" stop-color="#fec03a"/><stop offset="0.5" stop-color="#e1bc2b"/><stop offset="0.571" stop-color="#ccc028"/><stop offset="0.643" stop-color="#abc739"/><stop offset="0.714" stop-color="#6ecd67"/><stop offset="0.786" stop-color="#37c897"/><stop offset="0.857" stop-color="#2bc3a8"/><stop offset="0.929" stop-color="#23c1af"/><stop offset="1" stop-color="#0bbdbc"/></linearGradient>
<linearGradient id="a32"><stop offset="0" stop-color="#f7f31d"/><stop offset="0.071" stop-color="#f7f51b"/><stop offset="0.143" stop-color="#f8f719"/><stop offset="0.214" stop-color="#f7f61a"/><stop offset="0.286" stop-color="#f7f41c"/><stop offset="0.357" stop-color="#f5e924"/><stop offset="0.429" stop-color="#fec03b"/><stop offset="0.5" stop-color="#dfbc2a"/><stop offset="0.571" stop-color="#c9c129"/><stop offset="0.643" stop-color="#a8c73b"/><stop offset="0.714" stop-color="#6bcd69"/><stop offset="0.786" stop-color="#36c898"/><stop offset="0.857" stop-color="#2bc3a8"/><stop offset="0.929" stop-color="#22c1b0"/><stop offset="1" stop-color="#0abdbd"/></linearGradient>
<linearGradient id="a33"><stop offset="0" stop-color="#f7f41c"/><stop offset="0.071" stop-color="#f7f61a"/><stop offset="0.143" stop-color="#f8f719"/><stop offset="0.214" stop-color="#f7f51b"/><stop offset="0.286" stop-color="#f7f41c"/><stop offset="0.357" stop-color="#f5e924"/><stop offset="0.429" stop-color="#fec03b"/><stop offset="0.5" stop-color="#debd29"/><stop offset="0.571" stop-color="#c6c22a"/><stop offset="0.643" stop-color="#a3c83e"/><stop offset="0.714" stop-color="#69cd6b"/><stop offset="0.786" stop-color="#36c898"/><stop offset="0.857" stop-color="#2ac3a9"/><stop offset="0.929" stop-color="#21c1b0"/><stop offset="1" stop-color="#09bcbe"/></linearGradient>
<linearGradient id="a34"><stop offset="0" stop-color="#f7f41c"/><stop offset="0.071" stop-color="#f8f61a"/><stop offset="0.143" stop-color="#f8f719"/><stop offset="0.214" stop-color="#f7f51b"/><stop offset="0.286" stop-color="#f7f41c"/><stop offset="0.357" stop-color="#f5e924"/><stop offset="0.429" stop-color="#febf3b"/><stop offset="0.5" stop-color="#debd29"/><stop offset="0.571" stop-color="#c4c22b"/><stop offset="0.643" stop-color="#9ec942"/><stop offset="0.714" stop-color="#67cd6d"/><stop offset="0.786" stop-color="#37c898"/><stop offset="0.857" stop-color="#2ac3a9"/><stop offset="0.929" stop-color="#21c1b0"/><stop offset="1" stop-color="#07bcbf"/></linearGradient>
<linearGradient id="a35"><stop offset="0" stop-color="#f7f41c"/><stop offset="0.071" stop-color="#f8f719"/><stop offset="0.143" stop-color="#f8f818"/><stop offset="0.214" stop-color="#f7f51b"/><stop offset="0.286" stop-color="#f7f31c"/><stop offset="0.357" stop-color="#f5e825"/><stop offset="0.429" stop-color="#febe3c"/><stop offset="0.5" stop-color="#dfbc2a"/><stop offset="0.571" stop-color="#c3c22b"/><stop offset="0.643" stop-color="#9ac945"/><stop offset="0.714" stop-color="#65cd6e"/><stop offset="0.786" stop-color="#37c897"/><stop offset="0.857" stop-color="#2ac3a9"/><stop offset="0.929" stop-color="#20c1b1"/><stop offset="1" stop-color="#06bbc1"/></linearGradient>
<linearGradient id="a36"><stop offset="0" stop-color="#f7f51b"/><stop offset="0.071" stop-color="#f8f719"/><stop offset="0.143" stop-color="#f8f818"/><stop offset="0.214" stop-color="#f7f61a"/><stop offset="0.286" stop-color="#f7f41c"/><stop offset="0.357" stop-color="#f5e725"/><stop offset="0.429" stop-color="#fdbd3d"/><stop offset="0.5" stop-color="#e1bc2b"/><stop offset="0.571" stop-color="#c4c22b"/><stop offset="0.643" stop-color="#98c947"/><stop offset="0.714" stop-color="#63cd6f"/><stop offset="0.786" stop-color="#37c897"/><stop offset="0.857" stop-color="#2ac3a9"/><stop offset="0.929" stop-color="#1fc1b1"/><stop offset="1" stop-color="#03bbc2"/></linearGradient>
<linearGradient id="a37"><stop offset="0" stop-color="#f7f51b"/><stop offset="0.071" stop-color="#f8f718"/><stop offset="0.143" stop-color="#f8f917"/><stop offset="0.214" stop-color="#f8f719"/><stop offset="0.286" stop-color="#f7f41c"/><stop offset="0.357" stop-color="#f5e526"/><stop offset="0.429" stop-color="#fcbd3d"/><stop offset="0.5" stop-color="#e5bb2d"/><stop offset="0.571" stop-color="#c6c22a"/><stop offset="0.643" stop-color="#98c947"/><stop offset="0.714" stop-color="#63cd70"/><stop offset="0.786" stop-color="#38c896"/><stop offset="0.857" stop-color="#2ac3a9"/><stop offset="0.929" stop-color="#1ec0b2"/><stop offset="1" stop-color="#02bac4"/></linearGradient>
<linearGradient id="a38"><stop offset="0" stop-color="#f7f51b"/><stop offset="0.071" stop-color="#f8f818"/><stop offset="0.143" stop-color="#f9f916"/><stop offset="0.214" stop-color="#f8f818"/><stop offset="0.286" stop-color="#f7f41c"/><stop offset="0.357" stop-color="#f5e327"/><stop offset="0.429" stop-color="#fbbc3d"/><stop offset="0.5" stop-color="#e9bb30"/><stop offset="0.571" stop-color="#c9c129"/><stop offset="0.643" stop-color="#99c946"/><stop offset="0.714" stop-color="#63cd6f"/><stop offset="0.786" stop-color="#38c896"/><stop offset="0.857" stop-color="#29c3a9"/><stop offset="0.929" stop-color="#1bc0b4"/><stop offset="1" stop-color="#01b9c6"/></linearGradient>
<linearGradient id="a39"><stop offset="0" stop-color="#f7f51b"/><stop offset="0.071" stop-color="#f8f818"/><stop offset="0.143" stop-color="#f9fa16"/><stop offset="0.214" stop-color="#f8f917"/><stop offset="0.286" stop-color="#f7f41c"/><stop offset="0.357" stop-color="#f6e128"/><stop offset="0.429" stop-color="#fabb3d"/><stop offset="0.5" stop-color="#edba33"/><stop offset="0.571" stop-color="#ccc028"/><stop offset="0.643" stop-color="#9bc944"/><stop offset="0.714" stop-color="#64cd6f"/><stop offset="0.786" stop-color="#38c896"/><stop offset="0.857" stop-color="#29c3aa"/><stop offset="0.929" stop-color="#18bfb6"/><stop offset="1" stop-color="#01b8c8"/></linearGradient>
<linearGradient id="a40"><stop offset="0" stop-color="#f7f51b"/><stop offset="0.071" stop-color="#f8f818"/><stop offset="0.143" stop-color="#f9fa15"/><stop offset="0.214" stop-color="#f9fa16"/><stop offset="0.286" stop-color="#f7f31d"/><stop offset="0.357" stop-color="#f6dd29"/><stop offset="0.429" stop-color="#f9bb3d"/><stop offset="0.5" stop-color="#eeba34"/><stop offset="0.571" stop-color="#d0bf27"/><stop offset="0.643" stop-color="#9ec942"/><stop offset="0.714" stop-color="#66cd6d"/><stop offset="0.786" stop-color="#38c896"/><stop offset="0.857" stop-color="#28c3ab"/><stop offset="0.929" stop-color="#15bfb8"/><stop offset="1" stop-color="#01b8ca"/></linearGradient>
<linearGradient id="a41"><stop offset="0" stop-color="#f7f51b"/><stop offset="0.071" stop-color="#f8f818"/><stop offset="0.143" stop-color="#f9fb15"/><stop offset="0.214" stop-color="#f9fa16"/><stop offset="0.286" stop-color="#f6f31d"/><stop offset="0.357" stop-color="#f8da2b"/><stop offset="0.429" stop-color="#fabb3d"/><stop offset="0.5" stop-color="#efba35"/><stop offset="0.571" stop-color="#d3bf27"/><stop offset="0.643" stop-color="#a2c83f"/><stop offset="0.714" stop-color="#69cd6b"/><stop offset="0.786" stop-color="#38c896"/><stop offset="0.857" stop-color="#27c2ac"/><stop offset="0.929" stop-color="#12beb9"/><stop offset="1" stop-color="#02b7cb"/></linearGradient>
<linearGradient id="a42"><stop offset="0" stop-color="#f7f51b"/><stop offset="0.071" stop-color="#f8f818"/><stop offset="0.143" stop-color="#f9fb15"/><stop offset="0.214" stop-color="#f9fa16"/><stop offset="0.286" stop-color="#f6f21e"/><stop offset="0.357" stop-color="#f9d72c"/><stop offset="0.429" stop-color="#fabc3d"/><stop offset="0.5" stop-color="#f0ba36"/><stop offset="0.571" stop-color="#d7be28"/><stop offset="0.643" stop-color="#a7c73c"/><stop offset="0.714" stop-color="#6ccd68"/><stop offset="0.786" stop-color="#38c896"/><stop offset="0.857" stop-color="#26c2ad"/><stop offset="0.929" stop-color="#0ebebb"/><stop offset="1" stop-color="#03b7cb"/></linearGradient>
<linearGradient id="a43"><stop offset="0" stop-color="#f7f41c"/><stop offset="0.071" stop-color="#f8f818"/><stop offset="0.143" stop-color="#f9fb15"/><stop offset="0.214" stop-color="#f9fa16"/><stop offset="0.286" stop-color="#f6f01f"/><stop offset="0.357" stop-color="#fad52e"/><stop offset="0.429" stop-color="#fbbc3d"/><stop offset="0.5" stop-color="#f1ba37"/><stop offset="0.571" stop-color="#dbbd29"/><stop offset="0.643" stop-color="#adc638"/><stop offset="0.714" stop-color="#70cd65"/><stop offset="0.786" stop-color="#38c896"/><stop offset="0.857" stop-color="#24c1ae"/><stop offset="0.929" stop-color="#0bbdbc"/><stop offset="1" stop-color="#03b7cc"/></linearGradient>
<linearGradient id="a44"><stop offset="0" stop-color="#f7f41c"/><stop offset="0.071" stop-color="#f8f719"/><stop offset="0.143" stop-color="#f9fa15"/><stop offset="0.214" stop-color="#f8f917"/><stop offset="0.286" stop-color="#f5ef20"/><stop offset="0.357" stop-color="#fbd22f"/><stop offset="0.429" stop-color="#fcbc3d"/><stop offset="0.5" stop-color="#f3ba38"/><stop offset="0.571" stop-color="#dfbc2a"/><stop offset="0.643" stop-color="#b3c534"/><stop offset="0.714" stop-color="#74cc62"/><stop offset="0.786" stop-color="#37c897"/><stop offset="0.857" stop-color="#22c1b0"/><stop offset="0.929" stop-color="#09bdbe"/><stop offset="1" stop-color="#04b6cd"/></linearGradient>
<linearGradient id="a45"><stop offset="0" stop-color="#f7f31d"/><stop offset="0.071" stop-color="#f8f719"/><stop offset="0.143" stop-color="#f9fa16"/><stop offset="0.214" stop-color="#f8f719"/><stop offset="0.286" stop-color="#f5ec22"/><stop offset="0.357" stop-color="#fccf30"/><stop offset="0.429" stop-color="#fcbd3d"/><stop offset="0.5" stop-color="#f5ba3a"/><stop offset="0.571" stop-color="#e3bb2c"/><stop offset="0.643" stop-color="#b9c431"/><stop offset="0.714" stop-color="#7acc5e"/><stop offset="0.786" stop-color="#37c897"/><stop offset="0.857" stop-color="#20c1b1"/><stop offset="0.929" stop-color="#07bcbf"/><stop offset="1" stop-color="#05b6cd"/></linearGradient>
<linearGradient id="a46"><stop offset="0" stop-color="#f6f21e"/><stop offset="0.071" stop-color="#f7f61a"/><stop offset="0.143" stop-color="#f8f917"/><stop offset="0.214" stop-color="#f7f51b"/><stop offset="0.286" stop-color="#f5e825"/><stop offset="0.357" stop-color="#fdcd32"/><stop offset="0.429" stop-color="#fdbd3d"/><stop offset="0.5" stop-color="#f7ba3c"/><stop offset="0.571" stop-color="#e8bb2e"/><stop offset="0.643" stop-color="#c0c32d"/><stop offset="0.714" stop-color="#7fcc5a"/><stop offset="0.786" stop-color="#37c897"/><stop offset="0.857" stop-color="#1ec0b2"/><stop offset="0.929" stop-color="#06bcc0"/><stop offset="1" stop-color="#05b6ce"/></linearGradient>
<linearGradient id="a47"><stop offset="0" stop-color="#f6f11e"/><stop offset="0.071" stop-color="#f7f51b"/><stop offset="0.143" stop-color="#f8f818"/><stop offset="0.214" stop-color="#f6f31d"/><stop offset="0.286" stop-color="#f5e327"/><stop offset="0.357" stop-color="#fdcb33"/><stop offset="0.429" stop-color="#fdbd3d"/><stop offset="0.5" stop-color="#f8ba3d"/><stop offset="0.571" stop-color="#ebba32"/><stop offset="0.643" stop-color="#c7c12a"/><stop offset="0.714" stop-color="#84cb56"/><stop offset="0.786" stop-color="#37c897"/><stop offset="0.857" stop-color="#1cc0b3"/><stop offset="0.929" stop-color="#04bbc2"/><stop offset="1" stop-color="#06b5ce"/></linearGradient>
<linearGradient id="a48"><stop offset="0" stop-color="#f6f01f"/><stop offset="0.071" stop-color="#f7f31d"/><stop offset="0.143" stop-color="#f8f61a"/><stop offset="0.214" stop-color="#f6f020"/><stop offset="0.286" stop-color="#f6de29"/><stop offset="0.357" stop-color="#fec934"/><stop offset="0.429" stop-color="#fdbd3d"/><stop offset="0.5" stop-color="#f9bb3d"/><stop offset="0.571" stop-color="#efba35"/><stop offset="0.643" stop-color="#cdc028"/><stop offset="0.714" stop-color="#89cb52"/><stop offset="0.786" stop-color="#38c895"/><stop offset="0.857" stop-color="#1bc0b4"/><stop offset="0.929" stop-color="#03bbc3"/><stop offset="1" stop-color="#06b5cf"/></linearGradient>
<linearGradient id="a49"><stop offset="0" stop-color="#f6ef20"/><stop offset="0.071" stop-color="#f6f21e"/><stop offset="0.143" stop-color="#f7f51b"/><stop offset="0.214" stop-color="#f5ed22"/><stop offset="0.286" stop-color="#f9d82c"/><stop offset="0.357" stop-color="#fec736"/><stop offset="0.429" stop-color="#fdbd3d"/><stop offset="0.5" stop-color="#f9bb3d"/><stop offset="0.571" stop-color="#f2ba38"/><stop offset="0.643" stop-color="#d2bf27"/><stop offset="0.714" stop-color="#8dcb4f"/><stop offset="0.786" stop-color="#3bc993"/><stop offset="0.857" stop-color="#1ac0b4"/><stop offset="0.929" stop-color="#02bac4"/><stop offset="1" stop-color="#07b5cf"/></linearGradient>
<linearGradient id="a50"><stop offset="0" stop-color="#f5ee21"/><stop offset="0.071" stop-color="#f6f11f"/><stop offset="0.143" stop-color="#f7f31d"/><stop offset="0.214" stop-color="#f5e924"/><stop offset="0.286" stop-color="#fbd32e"/><stop offset="0.357" stop-color="#fec537"/><stop offset="0.429" stop-color="#fdbd3d"/><stop offset="0.5" stop-color="#fabb3d"/><stop offset="0.571" stop-color="#f5ba3a"/><stop offset="0.643" stop-color="#d6be28"/><stop offset="0.714" stop-color="#92ca4c"/><stop offset="0.786" stop-color="#3dc990"/><stop offset="0.857" stop-color="#1ac0b5"/><stop offset="0.929" stop-color="#02bac4"/><stop offset="1" stop-color="#07b5d0"/></linearGradient>
<linearGradient id="a51"><stop offset="0" stop-color="#f5ed21"/><stop offset="0.071" stop-color="#f6ef20"/><stop offset="0.143" stop-color="#f6f11f"/><stop offset="0.214" stop-color="#f5e626"/><stop offset="0.286" stop-color="#fdce31"/><stop offset="0.357" stop-color="#fec338"/><stop offset="0.429" stop-color="#fdbd3d"/><stop offset="0.5" stop-color="#fabc3d"/><stop offset="0.571" stop-color="#f7ba3c"/><stop offset="0.643" stop-color="#dabd28"/><stop offset="0.714" stop-color="#96ca48"/><stop offset="0.786" stop-color="#40ca8d"/><stop offset="0.857" stop-color="#1ac0b4"/><stop offset="0.929" stop-color="#01bac5"/><stop offset="1" stop-color="#08b4d1"/></linearGradient>
<linearGradient id="a52"><stop offset="0" stop-color="#f5ec22"/><stop offset="0.071" stop-color="#f5ee21"/><stop offset="0.143" stop-color="#f5ef21"/><stop offset="0.214" stop-color="#f5e128"/><stop offset="0.286" stop-color="#fdcb33"/><stop offset="0.357" stop-color="#fec239"/><stop offset="0.429" stop-color="#fdbd3d"/><stop offset="0.5" stop-color="#fbbc3d"/><stop offset="0.571" stop-color="#f7ba3c"/><stop offset="0.643" stop-color="#ddbd29"/><stop offset="0.714" stop-color="#9bc945"/><stop offset="0.786" stop-color="#43ca8b"/><stop offset="0.857" stop-color="#1bc0b4"/><stop offset="0.929" stop-color="#01b9c6"/><stop offset="1" stop-color="#0ab4d2"/></linearGradient>
<linearGradient id="a53"><stop offset="0" stop-color="#f5eb23"/><stop offset="0.071" stop-color="#f5ec22"/><stop offset="0.143" stop-color="#f5ec22"/><stop offset="0.214" stop-color="#f6de29"/><stop offset="0.286" stop-color="#fec934"/><stop offset="0.357" stop-color="#fec13a"/><stop offset="0.429" stop-color="#fdbd3d"/><stop offset="0.5" stop-color="#fbbc3d"/><stop offset="0.571" stop-color="#f8ba3d"/><stop offset="0.643" stop-color="#dfbc2a"/><stop offset="0.714" stop-color="#9ec942"/><stop offset="0.786" stop-color="#46cb88"/><stop offset="0.857" stop-color="#1bc0b4"/><stop offset="0.929" stop-color="#01b9c7"/><stop offset="1" stop-color="#0db3d3"/></linearGradient>
<linearGradient id="a54"><stop offset="0" stop-color="#f5ea23"/><stop offset="0.071" stop-color="#f5ec22"/><stop offset="0.143" stop-color="#f5eb23"/><stop offset="0.214" stop-color="#f7db2b"/><stop offset="0.286" stop-color="#fec835"/><stop offset="0.357" stop-color="#fec03a"/><stop offset="0.429" stop-color="#fdbd3d"/><stop offset="0.5" stop-color="#fbbc3d"/><stop offset="0.571" stop-color="#f8ba3d"/><stop offset="0.643" stop-color="#e1bc2b"/><stop offset="0.714" stop-color="#a1c840"/><stop offset="0.786" stop-color="#49cb86"/><stop offset="0.857" stop-color="#1dc0b3"/><stop offset="0.929" stop-color="#01b9c7"/><stop offset="1" stop-color="#10b2d5"/></linearGradient>
<linearGradient id="a55"><stop offset="0" stop-color="#f5e924"/><stop offset="0.071" stop-color="#f5eb23"/><stop offset="0.143" stop-color="#f5ea24"/><stop offset="0.214" stop-color="#f8d92c"/><stop offset="0.286" stop-color="#fec735"/><stop offset="0.357" stop-color="#fec03b"/><stop offset="0.429" stop-color="#fdbd3d"/><stop offset="0.5" stop-color="#fbbc3d"/><stop offset="0.571" stop-color="#f8ba3d"/><stop offset="0.643" stop-color="#e2bc2b"/><stop offset="0.714" stop-color="#a3c83f"/><stop offset="0.786" stop-color="#4bcb84"/><stop offset="0.857" stop-color="#1fc0b2"/><stop offset="0.929" stop-color="#01b8c8"/><stop offset="1" stop-color="#12b1d7"/></linearGradient>
<linearGradient id="a56"><stop offset="0" stop-color="#f5e825"/><stop offset="0.071" stop-color="#f5eb23"/><stop offset="0.143" stop-color="#f5e924"/><stop offset="0.214" stop-color="#f9d72c"/><stop offset="0.286" stop-color="#fec736"/><stop offset="0.357" stop-color="#fec03b"/><stop offset="0.429" stop-color="#fdbd3d"/><stop offset="0.5" stop-color="#fbbc3d"/><stop offset="0.571" stop-color="#f8ba3d"/><stop offset="0.643" stop-color="#e3bc2c"/><stop offset="0.714" stop-color="#a5c83d"/><stop offset="0.786" stop-color="#4ccb82"/><stop offset="0.857" stop-color="#20c1b1"/><stop offset="0.929" stop-color="#01b8c9"/><stop offset="1" stop-color="#14b0d8"/></linearGradient>
<linearGradient id="a57"><stop offset="0" stop-color="#f5e725"/><stop offset="0.071" stop-color="#f5eb23"/><stop offset="0.143" stop-color="#f5e825"/><stop offset="0.214" stop-color="#fad62d"/><stop offset="0.286" stop-color="#fec636"/><stop offset="0.357" stop-color="#fec03b"/><stop offset="0.429" stop-color="#fdbd3d"/><stop offset="0.5" stop-color="#fbbc3d"/><stop offset="0.571" stop-color="#f8ba3d"/><stop offset="0.643" stop-color="#e4bb2c"/><stop offset="0.714" stop-color="#a6c83d"/><stop offset="0.786" stop-color="#4dcc82"/><stop offset="0.857" stop-color="#21c1b0"/><stop offset="0.929" stop-color="#01b8ca"/><stop offset="1" stop-color="#16aeda"/></linearGradient>
<linearGradient id="a58"><stop offset="0" stop-color="#f5e626"/><stop offset="0.071" stop-color="#f5eb23"/><stop offset="0.143" stop-color="#f5e825"/><stop offset="0.214" stop-color="#fad42e"/><stop offset="0.286" stop-color="#fec636"/><stop offset="0.357" stop-color="#fec03b"/><stop offset="0.429" stop-color="#fdbd3d"/><stop offset="0.5" stop-color="#fbbc3d"/><stop offset="0.571" stop-color="#f8ba3d"/><stop offset="0.643" stop-color="#e3bb2c"/><stop offset="0.714" stop-color="#a7c73c"/><stop offset="0.786" stop-color="#4dcc82"/><stop offset="0.857" stop-color="#21c1b0"/><stop offset="0.929" stop-color="#02b7cb"/><stop offset="1" stop-color="#18addb"/></linearGradient>
<linearGradient id="a59"><stop offset="0" stop-color="#f5e526"/><stop offset="0.071" stop-color="#f5eb23"/><stop offset="0.143" stop-color="#f5e725"/><stop offset="0.214" stop-color="#fbd22f"/><stop offset="0.286" stop-color="#fec636"/><stop offset="0.357" stop-color="#fec03b"/><stop offset="0.429" stop-color="#fdbd3d"/><stop offset="0.5" stop-color="#fbbc3d"/><stop offset="0.571" stop-color="#f8ba3d"/><stop offset="0.643" stop-color="#e3bc2c"/><stop offset="0.714" stop-color="#a7c73c"/><stop offset="0.786" stop-color="#4ccb83"/><stop offset="0.857" stop-color="#21c1b1"/><stop offset="0.929" stop-color="#03b7cc"/><stop offset="1" stop-color="#1aacdd"/></linearGradient>
<linearGradient id="a60"><stop offset="0" stop-color="#f5e327"/><stop offset="0.071" stop-color="#f5e924"/><stop offset="0.143" stop-color="#f5e526"/><stop offset="0.214" stop-color="#fcd130"/><stop offset="0.286" stop-color="#fec537"/><stop offset="0.357" stop-color="#fec03b"/><stop offset="0.429" stop-color="#fdbd3d"/><stop offset="0.5" stop-color="#fabc3d"/><stop offset="0.571" stop-color="#f7ba3c"/><stop offset="0.643" stop-color="#e1bc2b"/><stop offset="0.714" stop-color="#a5c83d"/><stop offset="0.786" stop-color="#4acb85"/><stop offset="0.857" stop-color="#1fc0b2"/><stop offset="0.929" stop-color="#04b6cd"/><stop offset="1" stop-color="#1babde"/></linearGradient>
<linearGradient id="a61"><stop offset="0" stop-color="#f5e128"/><stop offset="0.071" stop-color="#f5e725"/><stop offset="0.143" stop-color="#f5e327"/><stop offset="0.214" stop-color="#fccf30"/><stop offset="0.286" stop-color="#fec537"/><stop offset="0.357" stop-color="#fec03b"/><stop offset="0.429" stop-color="#fdbd3d"/><stop offset="0.5" stop-color="#fabb3d"/><stop offset="0.571" stop-color="#f6ba3c"/><stop offset="0.643" stop-color="#dfbc2a"/><stop offset="0.714" stop-color="#a3c83e"/><stop offset="0.786" stop-color="#47cb87"/><stop offset="0.857" stop-color="#1dc0b3"/><stop offset="0.929" stop-color="#05b6ce"/><stop offset="1" stop-color="#1ca9df"/></linearGradient>
<linearGradient id="a62"><stop offset="0" stop-color="#f6e029"/><stop offset="0.071" stop-color="#f5e526"/><stop offset="0.143" stop-color="#f6df29"/><stop offset="0.214" stop-color="#fdcd31"/><stop offset="0.286" stop-color="#fec437"/><stop offset="0.357" stop-color="#fec03b"/><stop offset="0.429" stop-color="#fdbd3d"/><stop offset="0.5" stop-color="#fabb3d"/><stop offset="0.571" stop-color="#f4ba3a"/><stop offset="0.643" stop-color="#dcbd29"/><stop offset="0.714" stop-color="#a1c840"/><stop offset="0.786" stop-color="#44cb8a"/><stop offset="0.857" stop-color="#1ac0b5"/><stop offset="0.929" stop-color="#07b5cf"/><stop offset="1" stop-color="#1da8e0"/></linearGradient>
<linearGradient id="a63"><stop offset="0" stop-color="#f6de29"/><stop offset="0.071" stop-color="#f5e228"/><stop offset="0.143" stop-color="#f7dc2a"/><stop offset="0.214" stop-color="#fdcc32"/><stop offset="0.286" stop-color="#fec438"/><stop offset="0.357" stop-color="#febf3b"/><stop offset="0.429" stop-color="#fcbd3d"/><stop offset="0.5" stop-color="#f9bb3d"/><stop offset="0.571" stop-color="#f2ba38"/><stop offset="0.643" stop-color="#d8be28"/><stop offset="0.714" stop-color="#9dc943"/><stop offset="0.786" stop-color="#41ca8c"/><stop offset="0.857" stop-color="#18bfb6"/><stop offset="0.929" stop-color="#08b4d1"/><stop offset="1" stop-color="#1ea7e1"/></linearGradient>
<clipPath id="ac"><rect x="792.2" y="504.6" width="215.2" height="256"/></clipPath>
<filter id="af" x="-5%" y="-5%" width="110%" height="110%" color-interpolation-filters="sRGB"><feGaussianBlur stdDeviation="0 2.2"/></filter>
</defs>
<g clip-path="url(#ac)"><g filter="url(#af)">
<rect x="791.2" y="490.57" width="217.2" height="16.56" fill="url(#a0)"/>
<rect x="791.2" y="506.63" width="217.2" height="4.56" fill="url(#a1)"/>
<rect x="791.2" y="510.70" width="217.2" height="4.56" fill="url(#a2)"/>
<rect x="791.2" y="514.76" width="217.2" height="4.56" fill="url(#a3)"/>
<rect x="791.2" y="518.82" width="217.2" height="4.56" fill="url(#a4)"/>
<rect x="791.2" y="522.89" width="217.2" height="4.56" fill="url(#a5)"/>
<rect x="791.2" y="526.95" width="217.2" height="4.56" fill="url(#a6)"/>
<rect x="791.2" y="531.01" width="217.2" height="4.56" fill="url(#a7)"/>
<rect x="791.2" y="535.08" width="217.2" height="4.56" fill="url(#a8)"/>
<rect x="791.2" y="539.14" width="217.2" height="4.56" fill="url(#a9)"/>
<rect x="791.2" y="543.20" width="217.2" height="4.56" fill="url(#a10)"/>
<rect x="791.2" y="547.27" width="217.2" height="4.56" fill="url(#a11)"/>
<rect x="791.2" y="551.33" width="217.2" height="4.56" fill="url(#a12)"/>
<rect x="791.2" y="555.39" width="217.2" height="4.56" fill="url(#a13)"/>
<rect x="791.2" y="559.46" width="217.2" height="4.56" fill="url(#a14)"/>
<rect x="791.2" y="563.52" width="217.2" height="4.56" fill="url(#a15)"/>
<rect x="791.2" y="567.58" width="217.2" height="4.56" fill="url(#a16)"/>
<rect x="791.2" y="571.65" width="217.2" height="4.56" fill="url(#a17)"/>
<rect x="791.2" y="575.71" width="217.2" height="4.56" fill="url(#a18)"/>
<rect x="791.2" y="579.77" width="217.2" height="4.56" fill="url(#a19)"/>
<rect x="791.2" y="583.84" width="217.2" height="4.56" fill="url(#a20)"/>
<rect x="791.2" y="587.90" width="217.2" height="4.56" fill="url(#a21)"/>
<rect x="791.2" y="591.97" width="217.2" height="4.56" fill="url(#a22)"/>
<rect x="791.2" y="596.03" width="217.2" height="4.56" fill="url(#a23)"/>
<rect x="791.2" y="600.09" width="217.2" height="4.56" fill="url(#a24)"/>
<rect x="791.2" y="604.16" width="217.2" height="4.56" fill="url(#a25)"/>
<rect x="791.2" y="608.22" width="217.2" height="4.56" fill="url(#a26)"/>
<rect x="791.2" y="612.28" width="217.2" height="4.56" fill="url(#a27)"/>
<rect x="791.2" y="616.35" width="217.2" height="4.56" fill="url(#a28)"/>
<rect x="791.2" y="620.41" width="217.2" height="4.56" fill="url(#a29)"/>
<rect x="791.2" y="624.47" width="217.2" height="4.56" fill="url(#a30)"/>
<rect x="791.2" y="628.54" width="217.2" height="4.56" fill="url(#a31)"/>
<rect x="791.2" y="632.60" width="217.2" height="4.56" fill="url(#a32)"/>
<rect x="791.2" y="636.66" width="217.2" height="4.56" fill="url(#a33)"/>
<rect x="791.2" y="640.73" width="217.2" height="4.56" fill="url(#a34)"/>
<rect x="791.2" y="644.79" width="217.2" height="4.56" fill="url(#a35)"/>
<rect x="791.2" y="648.85" width="217.2" height="4.56" fill="url(#a36)"/>
<rect x="791.2" y="652.92" width="217.2" height="4.56" fill="url(#a37)"/>
<rect x="791.2" y="656.98" width="217.2" height="4.56" fill="url(#a38)"/>
<rect x="791.2" y="661.04" width="217.2" height="4.56" fill="url(#a39)"/>
<rect x="791.2" y="665.11" width="217.2" height="4.56" fill="url(#a40)"/>
<rect x="791.2" y="669.17" width="217.2" height="4.56" fill="url(#a41)"/>
<rect x="791.2" y="673.23" width="217.2" height="4.56" fill="url(#a42)"/>
<rect x="791.2" y="677.30" width="217.2" height="4.56" fill="url(#a43)"/>
<rect x="791.2" y="681.36" width="217.2" height="4.56" fill="url(#a44)"/>
<rect x="791.2" y="685.43" width="217.2" height="4.56" fill="url(#a45)"/>
<rect x="791.2" y="689.49" width="217.2" height="4.56" fill="url(#a46)"/>
<rect x="791.2" y="693.55" width="217.2" height="4.56" fill="url(#a47)"/>
<rect x="791.2" y="697.62" width="217.2" height="4.56" fill="url(#a48)"/>
<rect x="791.2" y="701.68" width="217.2" height="4.56" fill="url(#a49)"/>
<rect x="791.2" y="705.74" width="217.2" height="4.56" fill="url(#a50)"/>
<rect x="791.2" y="709.81" width="217.2" height="4.56" fill="url(#a51)"/>
<rect x="791.2" y="713.87" width="217.2" height="4.56" fill="url(#a52)"/>
<rect x="791.2" y="717.93" width="217.2" height="4.56" fill="url(#a53)"/>
<rect x="791.2" y="722.00" width="217.2" height="4.56" fill="url(#a54)"/>
<rect x="791.2" y="726.06" width="217.2" height="4.56" fill="url(#a55)"/>
<rect x="791.2" y="730.12" width="217.2" height="4.56" fill="url(#a56)"/>
<rect x="791.2" y="734.19" width="217.2" height="4.56" fill="url(#a57)"/>
<rect x="791.2" y="738.25" width="217.2" height="4.56" fill="url(#a58)"/>
<rect x="791.2" y="742.31" width="217.2" height="4.56" fill="url(#a59)"/>
<rect x="791.2" y="746.38" width="217.2" height="4.56" fill="url(#a60)"/>
<rect x="791.2" y="750.44" width="217.2" height="4.56" fill="url(#a61)"/>
<rect x="791.2" y="754.50" width="217.2" height="4.56" fill="url(#a62)"/>
<rect x="791.2" y="758.57" width="217.2" height="16.56" fill="url(#a63)"/>
</g></g>
<g stroke="#3a1c00" stroke-opacity="0.32" stroke-width="0.8"><polyline points="943,504.6 950.6,509.5 958.7,514.2 966.8,518.3 974.9,521.4 983,524.9 993.3,529 1002.6,533 1007.4,534.9" fill="none"/><polyline points="901,504.6 905.9,509.4 913.4,516.8 920.3,520.9 929.2,524.9 936.5,529 944,533 952.1,537.1 961.2,541.2 970.9,545 979,548 987.1,551.7 995.2,555.2 1003.3,558.1 1007.4,559.7" fill="none"/><polyline points="837.9,504.6 848.3,508.7 856.4,512.7 864.2,516.8 873.4,520.7 881.4,524.9 887.2,529 893.7,534.9 899.7,541.2 905.9,546.8 914,551.4 922.1,554.6 933.6,557.4 942.4,559.9 950.6,564.3 957.3,569.6 962.7,574.4 970.9,580.4 979,585.9 984.7,589.9 991.2,595 997.8,602.1 1002.2,610.3 1003.9,618.4 1003,626.5 1000.2,638.7 999.1,646.8 995.3,659 991.2,667.1 987.7,675.3 984.3,683.4 981,691.5 978.9,699.6 978.2,711.8 978.8,724 979.7,732.2 979.8,744.3 978.5,752.5 977,760.6" fill="none"/><polyline points="792.2,530 804.4,531.2 816.6,531.1 828.7,532.2 836.9,534.2 848.1,537.1 857.2,541.1 864.8,545.2 870.8,549.3 877.5,555.2 885,561.5 890.4,565.6 897.8,573.6 901.8,577.8 910,584.2 917.9,589.9 922.6,594 929.2,602.1 932.7,610.3 934.3,618.4 934.2,626.5 931.1,638.7 927.7,646.8 927.8,659 930.3,669.7 933.9,679.3 937.3,687.5 940.2,695.6 942.4,705.1 944.5,715.9 946.2,728.1 946.7,736.2 946.6,748.4 945.7,756.5 944.9,760.6" fill="none"/><polyline points="792.2,562.3 804.4,562.8 816.6,562.9 828.7,564.1 836.9,566.1 845,569.7 853.1,573.8 861,581.8 865.3,586.7 870.3,594 874.1,602.1 876.7,614.3 877.7,622.4 878.6,634.6 877.7,646.8 875.9,654.9 873.4,666.4 870.9,675.3 868.6,683.4 865.3,691.9 861.1,699.6 853.8,707.8 849,712 844.3,720 841.3,732.2 839.3,740.3 836.4,748.4 832.5,756.5 831,760.6" fill="none"/></g>
<path d="M792.2,504.6 V760.6 H1007.4" fill="none" stroke="#1a1a1a" stroke-width="1.3"/>
<path d="M792.2,504.6 H1007.4 V760.6" fill="none" stroke="#1a1a1a" stroke-opacity="0.45" stroke-width="1"/>
<defs><linearGradient id="cb1" x1="0" y1="0" x2="0" y2="1"><stop offset="0%" stop-color="#f9fb15"/><stop offset="4.3%" stop-color="#f5eb23"/><stop offset="8.7%" stop-color="#f8da2b"/><stop offset="13%" stop-color="#feca34"/><stop offset="17.4%" stop-color="#fdbd3d"/><stop offset="21.7%" stop-color="#eabb30"/><stop offset="26.1%" stop-color="#c2c22c"/><stop offset="30.4%" stop-color="#9bc945"/><stop offset="34.8%" stop-color="#73cd63"/><stop offset="39.1%" stop-color="#4fcc81"/><stop offset="43.5%" stop-color="#35c79a"/><stop offset="47.8%" stop-color="#22c1af"/><stop offset="52.2%" stop-color="#03bbc2"/><stop offset="56.5%" stop-color="#0eb3d4"/><stop offset="60.9%" stop-color="#1ea8e1"/><stop offset="65.2%" stop-color="#259be8"/><stop offset="69.6%" stop-color="#2d8df2"/><stop offset="73.9%" stop-color="#317efb"/><stop offset="78.3%" stop-color="#3f6dfe"/><stop offset="82.6%" stop-color="#465dfb"/><stop offset="87%" stop-color="#484ef1"/><stop offset="91.3%" stop-color="#473ee2"/><stop offset="95.7%" stop-color="#4331c8"/><stop offset="100%" stop-color="#3e26a8"/></linearGradient></defs><rect x="765.7" y="503.2" width="12.4" height="258" fill="url(#cb1)"/><g font-size="14.6" fill="#404040" text-anchor="end"><text x="760.8" y="511.6">0</text><text x="760.8" y="565.3">-0.1</text><text x="760.8" y="619">-0.2</text><text x="760.8" y="672.7">-0.3</text><text x="760.8" y="726.4">-0.4</text></g>
<polyline points="918.3,572.1 875.6,646.4 935.5,725.6" fill="none" stroke="#151a10" stroke-width="1.05" stroke-linejoin="miter"/>
<line x1="918" y1="518" x2="860.4" y2="631.3" stroke="#e0392b" stroke-width="2.25"/>
<line x1="947.8" y1="517.6" x2="860.4" y2="631.3" stroke="#e0392b" stroke-width="2.25"/>
<line x1="968.7" y1="537.7" x2="860.4" y2="631.3" stroke="#e0392b" stroke-width="2.25"/>
<g stroke="#f4866f" stroke-width="1.1"><line x1="828.1" y1="635.7" x2="858.4" y2="633.3"/><line x1="846.6" y1="651" x2="858.4" y2="640"/><line x1="875.6" y1="712" x2="862" y2="672"/></g>
<circle cx="858.4" cy="633.3" r="11.8" fill="#fff"/><text x="858.4" y="637.6" font-size="12" font-weight="bold" fill="#111" text-anchor="middle" textLength="22.4" lengthAdjust="spacingAndGlyphs">REF</text>
<circle cx="858" cy="670.2" r="12.3" fill="#fff"/><text x="858" y="674.5" font-size="12" font-weight="bold" fill="#111" text-anchor="middle" textLength="27.4" lengthAdjust="spacingAndGlyphs">GND</text>
<circle cx="918" cy="518" r="10.2" fill="#e0262c" stroke="#fff" stroke-width="2.1"/><text x="918" y="522.2" font-size="11.8" font-weight="bold" fill="#fff" text-anchor="middle" textLength="6.9" lengthAdjust="spacingAndGlyphs">2</text>
<circle cx="947.8" cy="517.6" r="10.2" fill="#e0262c" stroke="#fff" stroke-width="2.1"/><text x="947.8" y="521.8" font-size="11.8" font-weight="bold" fill="#fff" text-anchor="middle" textLength="6.9" lengthAdjust="spacingAndGlyphs">3</text>
<circle cx="968.7" cy="537.7" r="10.2" fill="#e0262c" stroke="#fff" stroke-width="2.1"/><text x="968.7" y="541.9" font-size="11.8" font-weight="bold" fill="#fff" text-anchor="middle" textLength="6.9" lengthAdjust="spacingAndGlyphs">7</text>
<circle cx="828.1" cy="635.7" r="8.5" fill="#f4866f" stroke="#fff" stroke-width="2.1"/><text x="828.1" y="639.9" font-size="11.8" font-weight="bold" fill="#fff" text-anchor="middle" textLength="13.8" lengthAdjust="spacingAndGlyphs">17</text>
<circle cx="846.6" cy="651" r="9" fill="#f4866f" stroke="#fff" stroke-width="2.1"/><text x="846.6" y="655.2" font-size="11.8" font-weight="bold" fill="#fff" text-anchor="middle" textLength="13.8" lengthAdjust="spacingAndGlyphs">20</text>
<circle cx="874.5" cy="712" r="10.1" fill="#f4866f" stroke="#fff" stroke-width="2.1"/><text x="874.5" y="716.2" font-size="11.8" font-weight="bold" fill="#fff" text-anchor="middle" textLength="13.8" lengthAdjust="spacingAndGlyphs">27</text>
<defs>
<linearGradient id="b0"><stop offset="0" stop-color="#f9fb15"/><stop offset="0.071" stop-color="#f9fb15"/><stop offset="0.143" stop-color="#f9fb15"/><stop offset="0.214" stop-color="#f9fb15"/><stop offset="0.286" stop-color="#f9fb15"/><stop offset="0.357" stop-color="#f9fb15"/><stop offset="0.429" stop-color="#f9fb15"/><stop offset="0.5" stop-color="#f9fb15"/><stop offset="0.571" stop-color="#f9fb15"/><stop offset="0.643" stop-color="#f9fb15"/><stop offset="0.714" stop-color="#f9fb15"/><stop offset="0.786" stop-color="#f9fb15"/><stop offset="0.857" stop-color="#f9fb15"/><stop offset="0.929" stop-color="#f9fb15"/><stop offset="1" stop-color="#f9fb15"/></linearGradient>
<linearGradient id="b1"><stop offset="0" stop-color="#f9fb15"/><stop offset="0.071" stop-color="#f9fb15"/><stop offset="0.143" stop-color="#f9fb15"/><stop offset="0.214" stop-color="#f9fb15"/><stop offset="0.286" stop-color="#f9fb15"/><stop offset="0.357" stop-color="#f9fb15"/><stop offset="0.429" stop-color="#f9fb15"/><stop offset="0.5" stop-color="#f9fb15"/><stop offset="0.571" stop-color="#f9fb15"/><stop offset="0.643" stop-color="#f9fb15"/><stop offset="0.714" stop-color="#f9fb15"/><stop offset="0.786" stop-color="#f9fb15"/><stop offset="0.857" stop-color="#f9fb15"/><stop offset="0.929" stop-color="#f9fb15"/><stop offset="1" stop-color="#f9fb15"/></linearGradient>
<linearGradient id="b2"><stop offset="0" stop-color="#f9fb15"/><stop offset="0.071" stop-color="#f9fb15"/><stop offset="0.143" stop-color="#f9fb15"/><stop offset="0.214" stop-color="#f9fb15"/><stop offset="0.286" stop-color="#f9fb15"/><stop offset="0.357" stop-color="#f9fb15"/><stop offset="0.429" stop-color="#f9fb15"/><stop offset="0.5" stop-color="#f9fb15"/><stop offset="0.571" stop-color="#f9fb15"/><stop offset="0.643" stop-color="#f9fb15"/><stop offset="0.714" stop-color="#f9fb15"/><stop offset="0.786" stop-color="#f9fb15"/><stop offset="0.857" stop-color="#f9fb15"/><stop offset="0.929" stop-color="#f9fb15"/><stop offset="1" stop-color="#f9fb15"/></linearGradient>
<linearGradient id="b3"><stop offset="0" stop-color="#f9fb15"/><stop offset="0.071" stop-color="#f9fb15"/><stop offset="0.143" stop-color="#f9fb15"/><stop offset="0.214" stop-color="#f9fb15"/><stop offset="0.286" stop-color="#f9fb15"/><stop offset="0.357" stop-color="#f9fb15"/><stop offset="0.429" stop-color="#f9fb15"/><stop offset="0.5" stop-color="#f9fb15"/><stop offset="0.571" stop-color="#f9fb15"/><stop offset="0.643" stop-color="#f9fb15"/><stop offset="0.714" stop-color="#f9fb15"/><stop offset="0.786" stop-color="#f9fb15"/><stop offset="0.857" stop-color="#f9fb15"/><stop offset="0.929" stop-color="#f9fb15"/><stop offset="1" stop-color="#f9fb15"/></linearGradient>
<linearGradient id="b4"><stop offset="0" stop-color="#f9fb15"/><stop offset="0.071" stop-color="#f9fb15"/><stop offset="0.143" stop-color="#f9fb15"/><stop offset="0.214" stop-color="#f9fb15"/><stop offset="0.286" stop-color="#f9fb15"/><stop offset="0.357" stop-color="#f9fb15"/><stop offset="0.429" stop-color="#f9fb15"/><stop offset="0.5" stop-color="#f9fb15"/><stop offset="0.571" stop-color="#f9fb15"/><stop offset="0.643" stop-color="#f9fb15"/><stop offset="0.714" stop-color="#f9fb15"/><stop offset="0.786" stop-color="#f9fb15"/><stop offset="0.857" stop-color="#f9fb15"/><stop offset="0.929" stop-color="#f9fb15"/><stop offset="1" stop-color="#f9fb15"/></linearGradient>
<linearGradient id="b5"><stop offset="0" stop-color="#f9fb15"/><stop offset="0.071" stop-color="#f9fb15"/><stop offset="0.143" stop-color="#f9fb15"/><stop offset="0.214" stop-color="#f9fb15"/><stop offset="0.286" stop-color="#f9fb15"/><stop offset="0.357" stop-color="#f9fb15"/><stop offset="0.429" stop-color="#f9fb15"/><stop offset="0.5" stop-color="#f9fb15"/><stop offset="0.571" stop-color="#f9fb15"/><stop offset="0.643" stop-color="#f9fb15"/><stop offset="0.714" stop-color="#f9fb15"/><stop offset="0.786" stop-color="#f9fb15"/><stop offset="0.857" stop-color="#f9fb15"/><stop offset="0.929" stop-color="#f9fb15"/><stop offset="1" stop-color="#f9fb15"/></linearGradient>
<linearGradient id="b6"><stop offset="0" stop-color="#f9fb15"/><stop offset="0.071" stop-color="#f9fb15"/><stop offset="0.143" stop-color="#f9fb15"/><stop offset="0.214" stop-color="#f9fb15"/><stop offset="0.286" stop-color="#f9fb15"/><stop offset="0.357" stop-color="#f9fb15"/><stop offset="0.429" stop-color="#f9fb15"/><stop offset="0.5" stop-color="#f9fb15"/><stop offset="0.571" stop-color="#f9fb15"/><stop offset="0.643" stop-color="#f9fb15"/><stop offset="0.714" stop-color="#f9fb15"/><stop offset="0.786" stop-color="#f9fb15"/><stop offset="0.857" stop-color="#f9fb15"/><stop offset="0.929" stop-color="#f9fb15"/><stop offset="1" stop-color="#f9fb15"/></linearGradient>
<linearGradient id="b7"><stop offset="0" stop-color="#f9fb15"/><stop offset="0.071" stop-color="#f9fb15"/><stop offset="0.143" stop-color="#f9fb15"/><stop offset="0.214" stop-color="#f9fb15"/><stop offset="0.286" stop-color="#f9fb15"/><stop offset="0.357" stop-color="#f9fb15"/><stop offset="0.429" stop-color="#f9fb15"/><stop offset="0.5" stop-color="#f9fb15"/><stop offset="0.571" stop-color="#f9fb15"/><stop offset="0.643" stop-color="#f9fb15"/><stop offset="0.714" stop-color="#f9fb15"/><stop offset="0.786" stop-color="#f9fb15"/><stop offset="0.857" stop-color="#f9fb15"/><stop offset="0.929" stop-color="#f9fb15"/><stop offset="1" stop-color="#f9fb15"/></linearGradient>
<linearGradient id="b8"><stop offset="0" stop-color="#f9fb15"/><stop offset="0.071" stop-color="#f9fb15"/><stop offset="0.143" stop-color="#f9fb15"/><stop offset="0.214" stop-color="#f9fb15"/><stop offset="0.286" stop-color="#f9fb15"/><stop offset="0.357" stop-color="#f9fb15"/><stop offset="0.429" stop-color="#f9fb15"/><stop offset="0.5" stop-color="#f9fb15"/><stop offset="0.571" stop-color="#f9fb15"/><stop offset="0.643" stop-color="#f9fb15"/><stop offset="0.714" stop-color="#f9fb15"/><stop offset="0.786" stop-color="#f9fb15"/><stop offset="0.857" stop-color="#f9fb15"/><stop offset="0.929" stop-color="#f9fb15"/><stop offset="1" stop-color="#f9fb15"/></linearGradient>
<linearGradient id="b9"><stop offset="0" stop-color="#f9fb15"/><stop offset="0.071" stop-color="#f9fb15"/><stop offset="0.143" stop-color="#f9fb15"/><stop offset="0.214" stop-color="#f9fb15"/><stop offset="0.286" stop-color="#f9fb15"/><stop offset="0.357" stop-color="#f9fb15"/><stop offset="0.429" stop-color="#f9fb15"/><stop offset="0.5" stop-color="#f9fb15"/><stop offset="0.571" stop-color="#f9fb15"/><stop offset="0.643" stop-color="#f9fb15"/><stop offset="0.714" stop-color="#f9fb15"/><stop offset="0.786" stop-color="#f9fb15"/><stop offset="0.857" stop-color="#f9fb15"/><stop offset="0.929" stop-color="#f9fb15"/><stop offset="1" stop-color="#f9fb15"/></linearGradient>
<linearGradient id="b10"><stop offset="0" stop-color="#f9fb15"/><stop offset="0.071" stop-color="#f9fb15"/><stop offset="0.143" stop-color="#f9fb15"/><stop offset="0.214" stop-color="#f9fb15"/><stop offset="0.286" stop-color="#f9fb15"/><stop offset="0.357" stop-color="#f9fb15"/><stop offset="0.429" stop-color="#f9fb15"/><stop offset="0.5" stop-color="#f9fb15"/><stop offset="0.571" stop-color="#f9fb15"/><stop offset="0.643" stop-color="#f9fb15"/><stop offset="0.714" stop-color="#f9fb15"/><stop offset="0.786" stop-color="#f9fb15"/><stop offset="0.857" stop-color="#f9fb15"/><stop offset="0.929" stop-color="#f9fb15"/><stop offset="1" stop-color="#f9fb15"/></linearGradient>
<linearGradient id="b11"><stop offset="0" stop-color="#f9fb15"/><stop offset="0.071" stop-color="#f9fb15"/><stop offset="0.143" stop-color="#f9fb15"/><stop offset="0.214" stop-color="#f9fb15"/><stop offset="0.286" stop-color="#f9fb15"/><stop offset="0.357" stop-color="#f9fb15"/><stop offset="0.429" stop-color="#f9fb15"/><stop offset="0.5" stop-color="#f9fb15"/><stop offset="0.571" stop-color="#f9fb15"/><stop offset="0.643" stop-color="#f9fb15"/><stop offset="0.714" stop-color="#f9fb15"/><stop offset="0.786" stop-color="#f9fb15"/><stop offset="0.857" stop-color="#f9fb15"/><stop offset="0.929" stop-color="#f9fb15"/><stop offset="1" stop-color="#f9fb15"/></linearGradient>
<linearGradient id="b12"><stop offset="0" stop-color="#f9fb15"/><stop offset="0.071" stop-color="#f9fb15"/><stop offset="0.143" stop-color="#f9fb15"/><stop offset="0.214" stop-color="#f9fb15"/><stop offset="0.286" stop-color="#f9fb15"/><stop offset="0.357" stop-color="#f9fb15"/><stop offset="0.429" stop-color="#f9fb15"/><stop offset="0.5" stop-color="#f9fb15"/><stop offset="0.571" stop-color="#f9fb15"/><stop offset="0.643" stop-color="#f9fb15"/><stop offset="0.714" stop-color="#f9fb15"/><stop offset="0.786" stop-color="#f9fb15"/><stop offset="0.857" stop-color="#f9fb15"/><stop offset="0.929" stop-color="#f9fb15"/><stop offset="1" stop-color="#f9fb15"/></linearGradient>
<linearGradient id="b13"><stop offset="0" stop-color="#f9fb15"/><stop offset="0.071" stop-color="#f9fb15"/><stop offset="0.143" stop-color="#f9fb15"/><stop offset="0.214" stop-color="#f9fb15"/><stop offset="0.286" stop-color="#f9fb15"/><stop offset="0.357" stop-color="#f9fb15"/><stop offset="0.429" stop-color="#f9fb15"/><stop offset="0.5" stop-color="#f9fb15"/><stop offset="0.571" stop-color="#f9fb15"/><stop offset="0.643" stop-color="#f9fb15"/><stop offset="0.714" stop-color="#f9fb15"/><stop offset="0.786" stop-color="#f9fb15"/><stop offset="0.857" stop-color="#f9fb15"/><stop offset="0.929" stop-color="#f9fb15"/><stop offset="1" stop-color="#f9fb15"/></linearGradient>
<linearGradient id="b14"><stop offset="0" stop-color="#f9fb15"/><stop offset="0.071" stop-color="#f9fb15"/><stop offset="0.143" stop-color="#f9fb15"/><stop offset="0.214" stop-color="#f9fb15"/><stop offset="0.286" stop-color="#f9fb15"/><stop offset="0.357" stop-color="#f9fb15"/><stop offset="0.429" stop-color="#f9fb15"/><stop offset="0.5" stop-color="#f9fb15"/><stop offset="0.571" stop-color="#f9fb15"/><stop offset="0.643" stop-color="#f9fb15"/><stop offset="0.714" stop-color="#f9fb15"/><stop offset="0.786" stop-color="#f9fb15"/><stop offset="0.857" stop-color="#f9fb15"/><stop offset="0.929" stop-color="#f9fb15"/><stop offset="1" stop-color="#f9fb15"/></linearGradient>
<linearGradient id="b15"><stop offset="0" stop-color="#f9fb15"/><stop offset="0.071" stop-color="#f9fb15"/><stop offset="0.143" stop-color="#f9fb15"/><stop offset="0.214" stop-color="#f9fb15"/><stop offset="0.286" stop-color="#f9fb15"/><stop offset="0.357" stop-color="#f9fb15"/><stop offset="0.429" stop-color="#f9fb15"/><stop offset="0.5" stop-color="#f9fb15"/><stop offset="0.571" stop-color="#f9fb15"/><stop offset="0.643" stop-color="#f9fb15"/><stop offset="0.714" stop-color="#f9fb15"/><stop offset="0.786" stop-color="#f9fb15"/><stop offset="0.857" stop-color="#f9fb15"/><stop offset="0.929" stop-color="#f9fb15"/><stop offset="1" stop-color="#f9fb15"/></linearGradient>
<linearGradient id="b16"><stop offset="0" stop-color="#f9fb15"/><stop offset="0.071" stop-color="#f9fb15"/><stop offset="0.143" stop-color="#f9fb15"/><stop offset="0.214" stop-color="#f9fb15"/><stop offset="0.286" stop-color="#f9fb15"/><stop offset="0.357" stop-color="#f9fb15"/><stop offset="0.429" stop-color="#f9fb15"/><stop offset="0.5" stop-color="#f9fb15"/><stop offset="0.571" stop-color="#f9fb15"/><stop offset="0.643" stop-color="#f9fb15"/><stop offset="0.714" stop-color="#f9fb15"/><stop offset="0.786" stop-color="#f9fb15"/><stop offset="0.857" stop-color="#f9fb15"/><stop offset="0.929" stop-color="#f9fb15"/><stop offset="1" stop-color="#f9fb15"/></linearGradient>
<linearGradient id="b17"><stop offset="0" stop-color="#f9fb15"/><stop offset="0.071" stop-color="#f9fb15"/><stop offset="0.143" stop-color="#f9fb15"/><stop offset="0.214" stop-color="#f9fb15"/><stop offset="0.286" stop-color="#f9fb15"/><stop offset="0.357" stop-color="#f9fb15"/><stop offset="0.429" stop-color="#f9fb15"/><stop offset="0.5" stop-color="#f9fb15"/><stop offset="0.571" stop-color="#f9fb15"/><stop offset="0.643" stop-color="#f9fb15"/><stop offset="0.714" stop-color="#f9fb15"/><stop offset="0.786" stop-color="#f9fb15"/><stop offset="0.857" stop-color="#f9fb15"/><stop offset="0.929" stop-color="#f9fb15"/><stop offset="1" stop-color="#f9fb15"/></linearGradient>
<linearGradient id="b18"><stop offset="0" stop-color="#f9fb15"/><stop offset="0.071" stop-color="#f9fb15"/><stop offset="0.143" stop-color="#f9fb15"/><stop offset="0.214" stop-color="#f9fb15"/><stop offset="0.286" stop-color="#f9fb15"/><stop offset="0.357" stop-color="#f9fb15"/><stop offset="0.429" stop-color="#f9fb15"/><stop offset="0.5" stop-color="#f9fb15"/><stop offset="0.571" stop-color="#f9fb15"/><stop offset="0.643" stop-color="#f9fb15"/><stop offset="0.714" stop-color="#f9fb15"/><stop offset="0.786" stop-color="#f9fb15"/><stop offset="0.857" stop-color="#f9fb15"/><stop offset="0.929" stop-color="#f9fb15"/><stop offset="1" stop-color="#f9fb15"/></linearGradient>
<linearGradient id="b19"><stop offset="0" stop-color="#f9fb15"/><stop offset="0.071" stop-color="#f9fb15"/><stop offset="0.143" stop-color="#f9fb15"/><stop offset="0.214" stop-color="#f9fb15"/><stop offset="0.286" stop-color="#f9fb15"/><stop offset="0.357" stop-color="#f9fb15"/><stop offset="0.429" stop-color="#f9fb15"/><stop offset="0.5" stop-color="#f9fb15"/><stop offset="0.571" stop-color="#f9fb15"/><stop offset="0.643" stop-color="#f9fb15"/><stop offset="0.714" stop-color="#f9fb15"/><stop offset="0.786" stop-color="#f9fb15"/><stop offset="0.857" stop-color="#f9fb15"/><stop offset="0.929" stop-color="#f9fb15"/><stop offset="1" stop-color="#f9fb15"/></linearGradient>
<linearGradient id="b20"><stop offset="0" stop-color="#f9fb15"/><stop offset="0.071" stop-color="#f9fb15"/><stop offset="0.143" stop-color="#f9fb15"/><stop offset="0.214" stop-color="#f9fb15"/><stop offset="0.286" stop-color="#f9fb15"/><stop offset="0.357" stop-color="#f9fb15"/><stop offset="0.429" stop-color="#f9fb15"/><stop offset="0.5" stop-color="#f9fb15"/><stop offset="0.571" stop-color="#f9fb15"/><stop offset="0.643" stop-color="#f9fb15"/><stop offset="0.714" stop-color="#f9fb15"/><stop offset="0.786" stop-color="#f9fb15"/><stop offset="0.857" stop-color="#f9fb15"/><stop offset="0.929" stop-color="#f9fb15"/><stop offset="1" stop-color="#f9fb15"/></linearGradient>
<linearGradient id="b21"><stop offset="0" stop-color="#f9fb15"/><stop offset="0.071" stop-color="#f9fb15"/><stop offset="0.143" stop-color="#f9fb15"/><stop offset="0.214" stop-color="#f9fb15"/><stop offset="0.286" stop-color="#f9fb15"/><stop offset="0.357" stop-color="#f9fb15"/><stop offset="0.429" stop-color="#f9fb15"/><stop offset="0.5" stop-color="#f9fb15"/><stop offset="0.571" stop-color="#f9fb15"/><stop offset="0.643" stop-color="#f9fb15"/><stop offset="0.714" stop-color="#f9fb15"/><stop offset="0.786" stop-color="#f9fb15"/><stop offset="0.857" stop-color="#f9fb15"/><stop offset="0.929" stop-color="#f9fb15"/><stop offset="1" stop-color="#f9fb15"/></linearGradient>
<linearGradient id="b22"><stop offset="0" stop-color="#f9fb15"/><stop offset="0.071" stop-color="#f9fb15"/><stop offset="0.143" stop-color="#f9fb15"/><stop offset="0.214" stop-color="#f9fb15"/><stop offset="0.286" stop-color="#f9fb15"/><stop offset="0.357" stop-color="#f9fb15"/><stop offset="0.429" stop-color="#f9fb15"/><stop offset="0.5" stop-color="#f9fb15"/><stop offset="0.571" stop-color="#f9fb15"/><stop offset="0.643" stop-color="#f9fb15"/><stop offset="0.714" stop-color="#f9fb15"/><stop offset="0.786" stop-color="#f9fb15"/><stop offset="0.857" stop-color="#f9fb15"/><stop offset="0.929" stop-color="#f9fb15"/><stop offset="1" stop-color="#f9fb15"/></linearGradient>
<linearGradient id="b23"><stop offset="0" stop-color="#f9fb15"/><stop offset="0.071" stop-color="#f9fb15"/><stop offset="0.143" stop-color="#f9fb15"/><stop offset="0.214" stop-color="#f9fb15"/><stop offset="0.286" stop-color="#f9fb15"/><stop offset="0.357" stop-color="#f9fb15"/><stop offset="0.429" stop-color="#f9fb15"/><stop offset="0.5" stop-color="#f9fb15"/><stop offset="0.571" stop-color="#f9fb15"/><stop offset="0.643" stop-color="#f9fb15"/><stop offset="0.714" stop-color="#f9fb15"/><stop offset="0.786" stop-color="#f9fb15"/><stop offset="0.857" stop-color="#f9fb15"/><stop offset="0.929" stop-color="#f9fb15"/><stop offset="1" stop-color="#f7f41c"/></linearGradient>
<linearGradient id="b24"><stop offset="0" stop-color="#f9fb15"/><stop offset="0.071" stop-color="#f9fb15"/><stop offset="0.143" stop-color="#f9fb15"/><stop offset="0.214" stop-color="#f9fb15"/><stop offset="0.286" stop-color="#f9fb15"/><stop offset="0.357" stop-color="#f9fb15"/><stop offset="0.429" stop-color="#f9fb15"/><stop offset="0.5" stop-color="#f9fb15"/><stop offset="0.571" stop-color="#f9fb15"/><stop offset="0.643" stop-color="#f9fb15"/><stop offset="0.714" stop-color="#f9fb15"/><stop offset="0.786" stop-color="#f9fb15"/><stop offset="0.857" stop-color="#f9fb15"/><stop offset="0.929" stop-color="#f6f020"/><stop offset="1" stop-color="#f5e725"/></linearGradient>
<linearGradient id="b25"><stop offset="0" stop-color="#f9fb15"/><stop offset="0.071" stop-color="#f9fb15"/><stop offset="0.143" stop-color="#f9fb15"/><stop offset="0.214" stop-color="#f9fb15"/><stop offset="0.286" stop-color="#f9fb15"/><stop offset="0.357" stop-color="#f9fb15"/><stop offset="0.429" stop-color="#f9fb15"/><stop offset="0.5" stop-color="#f9fb15"/><stop offset="0.571" stop-color="#f9fb15"/><stop offset="0.643" stop-color="#f9fb15"/><stop offset="0.714" stop-color="#f9fb15"/><stop offset="0.786" stop-color="#f9fb15"/><stop offset="0.857" stop-color="#f7f51b"/><stop offset="0.929" stop-color="#f5e227"/><stop offset="1" stop-color="#f9d82c"/></linearGradient>
<linearGradient id="b26"><stop offset="0" stop-color="#f9fb15"/><stop offset="0.071" stop-color="#f9fb15"/><stop offset="0.143" stop-color="#f9fb15"/><stop offset="0.214" stop-color="#f9fb15"/><stop offset="0.286" stop-color="#f9fb15"/><stop offset="0.357" stop-color="#f9fb15"/><stop offset="0.429" stop-color="#f9fb15"/><stop offset="0.5" stop-color="#f9fb15"/><stop offset="0.571" stop-color="#f9fb15"/><stop offset="0.643" stop-color="#f9fb15"/><stop offset="0.714" stop-color="#f9fb15"/><stop offset="0.786" stop-color="#f8f917"/><stop offset="0.857" stop-color="#f5e626"/><stop offset="0.929" stop-color="#fbd32e"/><stop offset="1" stop-color="#feca34"/></linearGradient>
<linearGradient id="b27"><stop offset="0" stop-color="#f9fb15"/><stop offset="0.071" stop-color="#f9fb15"/><stop offset="0.143" stop-color="#f9fb15"/><stop offset="0.214" stop-color="#f9fb15"/><stop offset="0.286" stop-color="#f9fb15"/><stop offset="0.357" stop-color="#f9fb15"/><stop offset="0.429" stop-color="#f9fb15"/><stop offset="0.5" stop-color="#f9fb15"/><stop offset="0.571" stop-color="#f9fb15"/><stop offset="0.643" stop-color="#f9fb15"/><stop offset="0.714" stop-color="#f9fb15"/><stop offset="0.786" stop-color="#f5ed22"/><stop offset="0.857" stop-color="#fad62d"/><stop offset="0.929" stop-color="#fec537"/><stop offset="1" stop-color="#febe3c"/></linearGradient>
<linearGradient id="b28"><stop offset="0" stop-color="#f9fb15"/><stop offset="0.071" stop-color="#f9fb15"/><stop offset="0.143" stop-color="#f9fb15"/><stop offset="0.214" stop-color="#f9fb15"/><stop offset="0.286" stop-color="#f9fb15"/><stop offset="0.357" stop-color="#f9fb15"/><stop offset="0.429" stop-color="#f9fb15"/><stop offset="0.5" stop-color="#f9fb15"/><stop offset="0.571" stop-color="#f9fb15"/><stop offset="0.643" stop-color="#f9fb15"/><stop offset="0.714" stop-color="#f6f21d"/><stop offset="0.786" stop-color="#f6de29"/><stop offset="0.857" stop-color="#fec735"/><stop offset="0.929" stop-color="#fcbc3d"/><stop offset="1" stop-color="#f4ba39"/></linearGradient>
<linearGradient id="b29"><stop offset="0" stop-color="#f9fb15"/><stop offset="0.071" stop-color="#f9fb15"/><stop offset="0.143" stop-color="#f9fb15"/><stop offset="0.214" stop-color="#f9fb15"/><stop offset="0.286" stop-color="#f9fb15"/><stop offset="0.357" stop-color="#f9fb15"/><stop offset="0.429" stop-color="#f9fb15"/><stop offset="0.5" stop-color="#f9fb15"/><stop offset="0.571" stop-color="#f9fb15"/><stop offset="0.643" stop-color="#f8f61a"/><stop offset="0.714" stop-color="#f5e526"/><stop offset="0.786" stop-color="#fdce31"/><stop offset="0.857" stop-color="#fdbd3d"/><stop offset="0.929" stop-color="#edba34"/><stop offset="1" stop-color="#dfbc2a"/></linearGradient>
<linearGradient id="b30"><stop offset="0" stop-color="#f9fb15"/><stop offset="0.071" stop-color="#f9fb15"/><stop offset="0.143" stop-color="#f9fb15"/><stop offset="0.214" stop-color="#f9fb15"/><stop offset="0.286" stop-color="#f9fb15"/><stop offset="0.357" stop-color="#f9fb15"/><stop offset="0.429" stop-color="#f9fb15"/><stop offset="0.5" stop-color="#f9fb15"/><stop offset="0.571" stop-color="#f7f41c"/><stop offset="0.643" stop-color="#f5e924"/><stop offset="0.714" stop-color="#f9d62d"/><stop offset="0.786" stop-color="#fec13a"/><stop offset="0.857" stop-color="#f1ba37"/><stop offset="0.929" stop-color="#d7be28"/><stop offset="1" stop-color="#cac129"/></linearGradient>
<linearGradient id="b31"><stop offset="0" stop-color="#f9fb15"/><stop offset="0.071" stop-color="#f9fb15"/><stop offset="0.143" stop-color="#f9fb15"/><stop offset="0.214" stop-color="#f9fb15"/><stop offset="0.286" stop-color="#f9fb15"/><stop offset="0.357" stop-color="#f9fb15"/><stop offset="0.429" stop-color="#f9fb15"/><stop offset="0.5" stop-color="#f9fb15"/><stop offset="0.571" stop-color="#f5e924"/><stop offset="0.643" stop-color="#f8da2b"/><stop offset="0.714" stop-color="#fec934"/><stop offset="0.786" stop-color="#f9bb3d"/><stop offset="0.857" stop-color="#dbbd29"/><stop offset="0.929" stop-color="#c0c32d"/><stop offset="1" stop-color="#b7c531"/></linearGradient>
<linearGradient id="b32"><stop offset="0" stop-color="#f9fb15"/><stop offset="0.071" stop-color="#f9fb15"/><stop offset="0.143" stop-color="#f9fb15"/><stop offset="0.214" stop-color="#f9fb15"/><stop offset="0.286" stop-color="#f9fb15"/><stop offset="0.357" stop-color="#f9fb15"/><stop offset="0.429" stop-color="#f9fb15"/><stop offset="0.5" stop-color="#f6f020"/><stop offset="0.571" stop-color="#f7dd2a"/><stop offset="0.643" stop-color="#fdcc32"/><stop offset="0.714" stop-color="#febf3c"/><stop offset="0.786" stop-color="#e7bb2e"/><stop offset="0.857" stop-color="#c4c22b"/><stop offset="0.929" stop-color="#afc637"/><stop offset="1" stop-color="#abc739"/></linearGradient>
<linearGradient id="b33"><stop offset="0" stop-color="#f9fb15"/><stop offset="0.071" stop-color="#f9fb15"/><stop offset="0.143" stop-color="#f9fb15"/><stop offset="0.214" stop-color="#f9fb15"/><stop offset="0.286" stop-color="#f9fb15"/><stop offset="0.357" stop-color="#f9fb15"/><stop offset="0.429" stop-color="#f7f51b"/><stop offset="0.5" stop-color="#f5e327"/><stop offset="0.571" stop-color="#fbd12f"/><stop offset="0.643" stop-color="#fec338"/><stop offset="0.714" stop-color="#f8ba3d"/><stop offset="0.786" stop-color="#d3bf27"/><stop offset="0.857" stop-color="#b1c635"/><stop offset="0.929" stop-color="#a1c840"/><stop offset="1" stop-color="#a0c941"/></linearGradient>
<linearGradient id="b34"><stop offset="0" stop-color="#f9fb15"/><stop offset="0.071" stop-color="#f9fb15"/><stop offset="0.143" stop-color="#f9fb15"/><stop offset="0.214" stop-color="#f9fb15"/><stop offset="0.286" stop-color="#f9fb15"/><stop offset="0.357" stop-color="#f9fb15"/><stop offset="0.429" stop-color="#f5e825"/><stop offset="0.5" stop-color="#f9d62d"/><stop offset="0.571" stop-color="#fec835"/><stop offset="0.643" stop-color="#fdbd3d"/><stop offset="0.714" stop-color="#e9bb30"/><stop offset="0.786" stop-color="#bfc32d"/><stop offset="0.857" stop-color="#a3c83f"/><stop offset="0.929" stop-color="#95ca49"/><stop offset="1" stop-color="#95ca49"/></linearGradient>
<linearGradient id="b35"><stop offset="0" stop-color="#f9fb15"/><stop offset="0.071" stop-color="#f9fb15"/><stop offset="0.143" stop-color="#f9fa15"/><stop offset="0.214" stop-color="#f7f61a"/><stop offset="0.286" stop-color="#f7f61a"/><stop offset="0.357" stop-color="#f6f21e"/><stop offset="0.429" stop-color="#f8da2b"/><stop offset="0.5" stop-color="#fdcc32"/><stop offset="0.571" stop-color="#fec13a"/><stop offset="0.643" stop-color="#f7ba3c"/><stop offset="0.714" stop-color="#d9be28"/><stop offset="0.786" stop-color="#b0c636"/><stop offset="0.857" stop-color="#97ca48"/><stop offset="0.929" stop-color="#8bcb51"/><stop offset="1" stop-color="#8bcb51"/></linearGradient>
<linearGradient id="b36"><stop offset="0" stop-color="#f9fb15"/><stop offset="0.071" stop-color="#f9fa15"/><stop offset="0.143" stop-color="#f6f020"/><stop offset="0.214" stop-color="#f5e924"/><stop offset="0.286" stop-color="#f5e626"/><stop offset="0.357" stop-color="#f5e327"/><stop offset="0.429" stop-color="#fdce31"/><stop offset="0.5" stop-color="#fec438"/><stop offset="0.571" stop-color="#fcbd3d"/><stop offset="0.643" stop-color="#ecba32"/><stop offset="0.714" stop-color="#c9c129"/><stop offset="0.786" stop-color="#a5c83d"/><stop offset="0.857" stop-color="#8ccb50"/><stop offset="0.929" stop-color="#81cc59"/><stop offset="1" stop-color="#80cc5a"/></linearGradient>
<linearGradient id="b37"><stop offset="0" stop-color="#f9fb15"/><stop offset="0.071" stop-color="#f6f01f"/><stop offset="0.143" stop-color="#f5e427"/><stop offset="0.214" stop-color="#f7db2a"/><stop offset="0.286" stop-color="#fad62d"/><stop offset="0.357" stop-color="#fad42e"/><stop offset="0.429" stop-color="#fec636"/><stop offset="0.5" stop-color="#febf3c"/><stop offset="0.571" stop-color="#f9ba3d"/><stop offset="0.643" stop-color="#e1bc2b"/><stop offset="0.714" stop-color="#bcc42f"/><stop offset="0.786" stop-color="#9cc944"/><stop offset="0.857" stop-color="#83cc57"/><stop offset="0.929" stop-color="#77cc5f"/><stop offset="1" stop-color="#74cc62"/></linearGradient>
<linearGradient id="b38"><stop offset="0" stop-color="#f7f41c"/><stop offset="0.071" stop-color="#f5e526"/><stop offset="0.143" stop-color="#f9d82c"/><stop offset="0.214" stop-color="#fccf30"/><stop offset="0.286" stop-color="#fdcb33"/><stop offset="0.357" stop-color="#fec934"/><stop offset="0.429" stop-color="#fec03b"/><stop offset="0.5" stop-color="#fcbc3d"/><stop offset="0.571" stop-color="#f3ba38"/><stop offset="0.643" stop-color="#d6be28"/><stop offset="0.714" stop-color="#b3c534"/><stop offset="0.786" stop-color="#94ca4a"/><stop offset="0.857" stop-color="#7bcc5d"/><stop offset="0.929" stop-color="#6fcd66"/><stop offset="1" stop-color="#6acd6a"/></linearGradient>
<linearGradient id="b39"><stop offset="0" stop-color="#f5ec22"/><stop offset="0.071" stop-color="#f8da2b"/><stop offset="0.143" stop-color="#fdce31"/><stop offset="0.214" stop-color="#fec636"/><stop offset="0.286" stop-color="#fec438"/><stop offset="0.357" stop-color="#fec239"/><stop offset="0.429" stop-color="#fdbd3d"/><stop offset="0.5" stop-color="#f9bb3d"/><stop offset="0.571" stop-color="#ecba32"/><stop offset="0.643" stop-color="#cec028"/><stop offset="0.714" stop-color="#adc638"/><stop offset="0.786" stop-color="#8fcb4e"/><stop offset="0.857" stop-color="#75cc61"/><stop offset="0.929" stop-color="#67cd6c"/><stop offset="1" stop-color="#61cd72"/></linearGradient>
<linearGradient id="b40"><stop offset="0" stop-color="#f5e526"/><stop offset="0.071" stop-color="#fbd22f"/><stop offset="0.143" stop-color="#fec835"/><stop offset="0.214" stop-color="#fec03a"/><stop offset="0.286" stop-color="#febf3b"/><stop offset="0.357" stop-color="#febe3c"/><stop offset="0.429" stop-color="#fabb3d"/><stop offset="0.5" stop-color="#f7ba3c"/><stop offset="0.571" stop-color="#e6bb2d"/><stop offset="0.643" stop-color="#c7c12a"/><stop offset="0.714" stop-color="#a8c73b"/><stop offset="0.786" stop-color="#8acb51"/><stop offset="0.857" stop-color="#6fcd66"/><stop offset="0.929" stop-color="#61cd72"/><stop offset="1" stop-color="#58cc79"/></linearGradient>
<linearGradient id="b41"><stop offset="0" stop-color="#f6de29"/><stop offset="0.071" stop-color="#fdcd32"/><stop offset="0.143" stop-color="#fec338"/><stop offset="0.214" stop-color="#fdbd3d"/><stop offset="0.286" stop-color="#fdbd3d"/><stop offset="0.357" stop-color="#fbbc3d"/><stop offset="0.429" stop-color="#f8ba3d"/><stop offset="0.5" stop-color="#f2ba38"/><stop offset="0.571" stop-color="#e0bc2b"/><stop offset="0.643" stop-color="#c1c32c"/><stop offset="0.714" stop-color="#a5c83e"/><stop offset="0.786" stop-color="#87cb54"/><stop offset="0.857" stop-color="#6acd6a"/><stop offset="0.929" stop-color="#5bcc77"/><stop offset="1" stop-color="#50cc7f"/></linearGradient>
<linearGradient id="b42"><stop offset="0" stop-color="#f9d82c"/><stop offset="0.071" stop-color="#feca33"/><stop offset="0.143" stop-color="#fec03a"/><stop offset="0.214" stop-color="#fbbc3d"/><stop offset="0.286" stop-color="#fbbc3d"/><stop offset="0.357" stop-color="#f9bb3d"/><stop offset="0.429" stop-color="#f5ba3a"/><stop offset="0.5" stop-color="#eeba34"/><stop offset="0.571" stop-color="#dcbd29"/><stop offset="0.643" stop-color="#bcc42f"/><stop offset="0.714" stop-color="#a1c840"/><stop offset="0.786" stop-color="#84cc56"/><stop offset="0.857" stop-color="#66cd6d"/><stop offset="0.929" stop-color="#55cc7c"/><stop offset="1" stop-color="#49cb85"/></linearGradient>
<linearGradient id="b43"><stop offset="0" stop-color="#fbd32e"/><stop offset="0.071" stop-color="#fec835"/><stop offset="0.143" stop-color="#febf3b"/><stop offset="0.214" stop-color="#fabb3d"/><stop offset="0.286" stop-color="#f9bb3d"/><stop offset="0.357" stop-color="#f7ba3c"/><stop offset="0.429" stop-color="#f1ba37"/><stop offset="0.5" stop-color="#eaba31"/><stop offset="0.571" stop-color="#d8be28"/><stop offset="0.643" stop-color="#b8c431"/><stop offset="0.714" stop-color="#9ec942"/><stop offset="0.786" stop-color="#80cc59"/><stop offset="0.857" stop-color="#62cd71"/><stop offset="0.929" stop-color="#4fcc80"/><stop offset="1" stop-color="#42ca8b"/></linearGradient>
<linearGradient id="b44"><stop offset="0" stop-color="#fcd030"/><stop offset="0.071" stop-color="#fec736"/><stop offset="0.143" stop-color="#febe3c"/><stop offset="0.214" stop-color="#f9ba3d"/><stop offset="0.286" stop-color="#f7ba3c"/><stop offset="0.357" stop-color="#f3ba39"/><stop offset="0.429" stop-color="#eeba34"/><stop offset="0.5" stop-color="#e7bb2e"/><stop offset="0.571" stop-color="#d4bf28"/><stop offset="0.643" stop-color="#b5c533"/><stop offset="0.714" stop-color="#9bc944"/><stop offset="0.786" stop-color="#7ccc5c"/><stop offset="0.857" stop-color="#5ecc74"/><stop offset="0.929" stop-color="#4acb85"/><stop offset="1" stop-color="#3dc990"/></linearGradient>
<linearGradient id="b45"><stop offset="0" stop-color="#fdce31"/><stop offset="0.071" stop-color="#fec537"/><stop offset="0.143" stop-color="#febd3c"/><stop offset="0.214" stop-color="#f8ba3d"/><stop offset="0.286" stop-color="#f5ba3a"/><stop offset="0.357" stop-color="#f0ba36"/><stop offset="0.429" stop-color="#ebba31"/><stop offset="0.5" stop-color="#e4bb2c"/><stop offset="0.571" stop-color="#d1bf27"/><stop offset="0.643" stop-color="#b3c534"/><stop offset="0.714" stop-color="#98c947"/><stop offset="0.786" stop-color="#78cc5f"/><stop offset="0.857" stop-color="#5acc78"/><stop offset="0.929" stop-color="#45cb89"/><stop offset="1" stop-color="#39c895"/></linearGradient>
<linearGradient id="b46"><stop offset="0" stop-color="#fdcd32"/><stop offset="0.071" stop-color="#fec437"/><stop offset="0.143" stop-color="#fdbd3d"/><stop offset="0.214" stop-color="#f7ba3c"/><stop offset="0.286" stop-color="#f2ba38"/><stop offset="0.357" stop-color="#eeba34"/><stop offset="0.429" stop-color="#e9bb2f"/><stop offset="0.5" stop-color="#e2bc2b"/><stop offset="0.571" stop-color="#cfc028"/><stop offset="0.643" stop-color="#b1c636"/><stop offset="0.714" stop-color="#95ca49"/><stop offset="0.786" stop-color="#74cc62"/><stop offset="0.857" stop-color="#55cc7b"/><stop offset="0.929" stop-color="#41ca8d"/><stop offset="1" stop-color="#35c79a"/></linearGradient>
<linearGradient id="b47"><stop offset="0" stop-color="#fdcc32"/><stop offset="0.071" stop-color="#fec438"/><stop offset="0.143" stop-color="#fdbd3d"/><stop offset="0.214" stop-color="#f7ba3c"/><stop offset="0.286" stop-color="#f1ba36"/><stop offset="0.357" stop-color="#ecba32"/><stop offset="0.429" stop-color="#e7bb2d"/><stop offset="0.5" stop-color="#e0bc2a"/><stop offset="0.571" stop-color="#cdc028"/><stop offset="0.643" stop-color="#afc637"/><stop offset="0.714" stop-color="#91ca4c"/><stop offset="0.786" stop-color="#6fcd66"/><stop offset="0.857" stop-color="#51cc7f"/><stop offset="0.929" stop-color="#3dc990"/><stop offset="1" stop-color="#32c69f"/></linearGradient>
<linearGradient id="b48"><stop offset="0" stop-color="#fdcb32"/><stop offset="0.071" stop-color="#fec338"/><stop offset="0.143" stop-color="#fdbd3d"/><stop offset="0.214" stop-color="#f7ba3c"/><stop offset="0.286" stop-color="#efba36"/><stop offset="0.357" stop-color="#eaba31"/><stop offset="0.429" stop-color="#e5bb2d"/><stop offset="0.5" stop-color="#dfbc2a"/><stop offset="0.571" stop-color="#cbc029"/><stop offset="0.643" stop-color="#adc738"/><stop offset="0.714" stop-color="#8ecb4f"/><stop offset="0.786" stop-color="#6bcd69"/><stop offset="0.857" stop-color="#4ccb83"/><stop offset="0.929" stop-color="#39c994"/><stop offset="1" stop-color="#2fc5a3"/></linearGradient>
<linearGradient id="b49"><stop offset="0" stop-color="#fdcb33"/><stop offset="0.071" stop-color="#fec338"/><stop offset="0.143" stop-color="#fcbd3d"/><stop offset="0.214" stop-color="#f7ba3c"/><stop offset="0.286" stop-color="#efba35"/><stop offset="0.357" stop-color="#e9bb30"/><stop offset="0.429" stop-color="#e5bb2c"/><stop offset="0.5" stop-color="#dfbc2a"/><stop offset="0.571" stop-color="#cbc129"/><stop offset="0.643" stop-color="#abc739"/><stop offset="0.714" stop-color="#8acb52"/><stop offset="0.786" stop-color="#67cd6d"/><stop offset="0.857" stop-color="#48cb86"/><stop offset="0.929" stop-color="#36c899"/><stop offset="1" stop-color="#2cc4a7"/></linearGradient>
<linearGradient id="b50"><stop offset="0" stop-color="#fdcb33"/><stop offset="0.071" stop-color="#fec339"/><stop offset="0.143" stop-color="#fcbd3d"/><stop offset="0.214" stop-color="#f7ba3c"/><stop offset="0.286" stop-color="#efba35"/><stop offset="0.357" stop-color="#e9bb30"/><stop offset="0.429" stop-color="#e5bb2c"/><stop offset="0.5" stop-color="#dfbc2a"/><stop offset="0.571" stop-color="#cac129"/><stop offset="0.643" stop-color="#a8c73b"/><stop offset="0.714" stop-color="#86cb54"/><stop offset="0.786" stop-color="#63cd70"/><stop offset="0.857" stop-color="#44cb8a"/><stop offset="0.929" stop-color="#33c79c"/><stop offset="1" stop-color="#27c2ab"/></linearGradient>
<linearGradient id="b51"><stop offset="0" stop-color="#fdcb33"/><stop offset="0.071" stop-color="#fec239"/><stop offset="0.143" stop-color="#fcbd3d"/><stop offset="0.214" stop-color="#f7ba3c"/><stop offset="0.286" stop-color="#efba35"/><stop offset="0.357" stop-color="#e9bb30"/><stop offset="0.429" stop-color="#e6bb2d"/><stop offset="0.5" stop-color="#e0bc2a"/><stop offset="0.571" stop-color="#cac129"/><stop offset="0.643" stop-color="#a6c73c"/><stop offset="0.714" stop-color="#83cc57"/><stop offset="0.786" stop-color="#5fcd73"/><stop offset="0.857" stop-color="#40ca8d"/><stop offset="0.929" stop-color="#31c6a0"/><stop offset="1" stop-color="#23c1af"/></linearGradient>
<linearGradient id="b52"><stop offset="0" stop-color="#fdca33"/><stop offset="0.071" stop-color="#fec239"/><stop offset="0.143" stop-color="#fcbd3d"/><stop offset="0.214" stop-color="#f7ba3c"/><stop offset="0.286" stop-color="#efba35"/><stop offset="0.357" stop-color="#ebba31"/><stop offset="0.429" stop-color="#e8bb2f"/><stop offset="0.5" stop-color="#e1bc2b"/><stop offset="0.571" stop-color="#cac129"/><stop offset="0.643" stop-color="#a4c83e"/><stop offset="0.714" stop-color="#80cc59"/><stop offset="0.786" stop-color="#5bcc76"/><stop offset="0.857" stop-color="#3dc991"/><stop offset="0.929" stop-color="#2ec5a4"/><stop offset="1" stop-color="#1dc0b3"/></linearGradient>
<linearGradient id="b53"><stop offset="0" stop-color="#feca33"/><stop offset="0.071" stop-color="#fec239"/><stop offset="0.143" stop-color="#fcbd3d"/><stop offset="0.214" stop-color="#f7ba3c"/><stop offset="0.286" stop-color="#f0ba36"/><stop offset="0.357" stop-color="#edba33"/><stop offset="0.429" stop-color="#eaba31"/><stop offset="0.5" stop-color="#e2bc2b"/><stop offset="0.571" stop-color="#cac129"/><stop offset="0.643" stop-color="#a3c83f"/><stop offset="0.714" stop-color="#7ccc5c"/><stop offset="0.786" stop-color="#58cc79"/><stop offset="0.857" stop-color="#3ac994"/><stop offset="0.929" stop-color="#2cc4a7"/><stop offset="1" stop-color="#16bfb7"/></linearGradient>
<linearGradient id="b54"><stop offset="0" stop-color="#feca33"/><stop offset="0.071" stop-color="#fec239"/><stop offset="0.143" stop-color="#fcbd3d"/><stop offset="0.214" stop-color="#f8ba3d"/><stop offset="0.286" stop-color="#f1ba37"/><stop offset="0.357" stop-color="#efba35"/><stop offset="0.429" stop-color="#edba33"/><stop offset="0.5" stop-color="#e4bb2c"/><stop offset="0.571" stop-color="#cac129"/><stop offset="0.643" stop-color="#a1c840"/><stop offset="0.714" stop-color="#7acc5e"/><stop offset="0.786" stop-color="#55cc7b"/><stop offset="0.857" stop-color="#38c896"/><stop offset="0.929" stop-color="#28c3ab"/><stop offset="1" stop-color="#0fbebb"/></linearGradient>
<linearGradient id="b55"><stop offset="0" stop-color="#feca33"/><stop offset="0.071" stop-color="#fec239"/><stop offset="0.143" stop-color="#fcbd3d"/><stop offset="0.214" stop-color="#f8ba3d"/><stop offset="0.286" stop-color="#f2ba38"/><stop offset="0.357" stop-color="#f0ba36"/><stop offset="0.429" stop-color="#efba35"/><stop offset="0.5" stop-color="#e5bb2d"/><stop offset="0.571" stop-color="#c9c129"/><stop offset="0.643" stop-color="#9fc942"/><stop offset="0.714" stop-color="#77cc60"/><stop offset="0.786" stop-color="#53cc7d"/><stop offset="0.857" stop-color="#36c899"/><stop offset="0.929" stop-color="#25c2ae"/><stop offset="1" stop-color="#09bcbe"/></linearGradient>
<linearGradient id="b56"><stop offset="0" stop-color="#feca34"/><stop offset="0.071" stop-color="#fec239"/><stop offset="0.143" stop-color="#fcbd3d"/><stop offset="0.214" stop-color="#f8ba3d"/><stop offset="0.286" stop-color="#f4ba39"/><stop offset="0.357" stop-color="#f2ba38"/><stop offset="0.429" stop-color="#f1ba37"/><stop offset="0.5" stop-color="#e6bb2d"/><stop offset="0.571" stop-color="#c9c129"/><stop offset="0.643" stop-color="#9dc943"/><stop offset="0.714" stop-color="#75cc61"/><stop offset="0.786" stop-color="#51cc7f"/><stop offset="0.857" stop-color="#35c79b"/><stop offset="0.929" stop-color="#20c1b1"/><stop offset="1" stop-color="#04bbc2"/></linearGradient>
<linearGradient id="b57"><stop offset="0" stop-color="#fec934"/><stop offset="0.071" stop-color="#fec239"/><stop offset="0.143" stop-color="#fcbd3d"/><stop offset="0.214" stop-color="#f8ba3d"/><stop offset="0.286" stop-color="#f5ba3a"/><stop offset="0.357" stop-color="#f3ba39"/><stop offset="0.429" stop-color="#f2ba38"/><stop offset="0.5" stop-color="#e7bb2e"/><stop offset="0.571" stop-color="#c8c129"/><stop offset="0.643" stop-color="#9cc944"/><stop offset="0.714" stop-color="#73cd63"/><stop offset="0.786" stop-color="#4fcc81"/><stop offset="0.857" stop-color="#33c79d"/><stop offset="0.929" stop-color="#1cc0b4"/><stop offset="1" stop-color="#01bac5"/></linearGradient>
<linearGradient id="b58"><stop offset="0" stop-color="#fec934"/><stop offset="0.071" stop-color="#fec239"/><stop offset="0.143" stop-color="#fcbd3d"/><stop offset="0.214" stop-color="#f9ba3d"/><stop offset="0.286" stop-color="#f6ba3b"/><stop offset="0.357" stop-color="#f4ba3a"/><stop offset="0.429" stop-color="#f3ba39"/><stop offset="0.5" stop-color="#e8bb2f"/><stop offset="0.571" stop-color="#c7c12a"/><stop offset="0.643" stop-color="#9ac945"/><stop offset="0.714" stop-color="#71cd64"/><stop offset="0.786" stop-color="#4dcc82"/><stop offset="0.857" stop-color="#32c69f"/><stop offset="0.929" stop-color="#17bfb6"/><stop offset="1" stop-color="#01b8c9"/></linearGradient>
<linearGradient id="b59"><stop offset="0" stop-color="#fec934"/><stop offset="0.071" stop-color="#fec239"/><stop offset="0.143" stop-color="#fcbd3d"/><stop offset="0.214" stop-color="#f9bb3d"/><stop offset="0.286" stop-color="#f6ba3c"/><stop offset="0.357" stop-color="#f5ba3b"/><stop offset="0.429" stop-color="#f4ba3a"/><stop offset="0.5" stop-color="#e9bb2f"/><stop offset="0.571" stop-color="#c6c22a"/><stop offset="0.643" stop-color="#99c946"/><stop offset="0.714" stop-color="#6fcd65"/><stop offset="0.786" stop-color="#4ccb83"/><stop offset="0.857" stop-color="#31c6a0"/><stop offset="0.929" stop-color="#11beb9"/><stop offset="1" stop-color="#04b6cd"/></linearGradient>
<linearGradient id="b60"><stop offset="0" stop-color="#fec835"/><stop offset="0.071" stop-color="#fec13a"/><stop offset="0.143" stop-color="#fcbd3d"/><stop offset="0.214" stop-color="#f9bb3d"/><stop offset="0.286" stop-color="#f7ba3c"/><stop offset="0.357" stop-color="#f6ba3b"/><stop offset="0.429" stop-color="#f5ba3a"/><stop offset="0.5" stop-color="#e9bb30"/><stop offset="0.571" stop-color="#c6c22a"/><stop offset="0.643" stop-color="#97ca47"/><stop offset="0.714" stop-color="#6ecd67"/><stop offset="0.786" stop-color="#4acb84"/><stop offset="0.857" stop-color="#30c5a2"/><stop offset="0.929" stop-color="#0cbdbc"/><stop offset="1" stop-color="#07b5d0"/></linearGradient>
<linearGradient id="b61"><stop offset="0" stop-color="#fec835"/><stop offset="0.071" stop-color="#fec13a"/><stop offset="0.143" stop-color="#fcbd3d"/><stop offset="0.214" stop-color="#f9bb3d"/><stop offset="0.286" stop-color="#f7ba3c"/><stop offset="0.357" stop-color="#f6ba3c"/><stop offset="0.429" stop-color="#f6ba3b"/><stop offset="0.5" stop-color="#eabb30"/><stop offset="0.571" stop-color="#c4c22a"/><stop offset="0.643" stop-color="#96ca48"/><stop offset="0.714" stop-color="#6dcd68"/><stop offset="0.786" stop-color="#49cb85"/><stop offset="0.857" stop-color="#2ec5a4"/><stop offset="0.929" stop-color="#08bcbf"/><stop offset="1" stop-color="#0db3d3"/></linearGradient>
<linearGradient id="b62"><stop offset="0" stop-color="#fec735"/><stop offset="0.071" stop-color="#fec13a"/><stop offset="0.143" stop-color="#fcbd3d"/><stop offset="0.214" stop-color="#f9bb3d"/><stop offset="0.286" stop-color="#f7ba3c"/><stop offset="0.357" stop-color="#f7ba3c"/><stop offset="0.429" stop-color="#f6ba3b"/><stop offset="0.5" stop-color="#e9bb30"/><stop offset="0.571" stop-color="#c3c22b"/><stop offset="0.643" stop-color="#95ca49"/><stop offset="0.714" stop-color="#6bcd69"/><stop offset="0.786" stop-color="#47cb87"/><stop offset="0.857" stop-color="#2dc4a5"/><stop offset="0.929" stop-color="#04bbc1"/><stop offset="1" stop-color="#12b1d6"/></linearGradient>
<linearGradient id="b63"><stop offset="0" stop-color="#fec736"/><stop offset="0.071" stop-color="#fec03a"/><stop offset="0.143" stop-color="#fcbd3d"/><stop offset="0.214" stop-color="#f9bb3d"/><stop offset="0.286" stop-color="#f7ba3c"/><stop offset="0.357" stop-color="#f7ba3c"/><stop offset="0.429" stop-color="#f5ba3a"/><stop offset="0.5" stop-color="#e8bb2f"/><stop offset="0.571" stop-color="#c1c32c"/><stop offset="0.643" stop-color="#93ca4a"/><stop offset="0.714" stop-color="#69cd6b"/><stop offset="0.786" stop-color="#45cb88"/><stop offset="0.857" stop-color="#2bc3a7"/><stop offset="0.929" stop-color="#02bac4"/><stop offset="1" stop-color="#15afd8"/></linearGradient>
<clipPath id="bc"><rect x="1084.4" y="502.6" width="218" height="259.2"/></clipPath>
<filter id="bf" x="-5%" y="-5%" width="110%" height="110%" color-interpolation-filters="sRGB"><feGaussianBlur stdDeviation="0 2.2"/></filter>
</defs>
<g clip-path="url(#bc)"><g filter="url(#bf)">
<rect x="1083.4" y="488.54" width="220" height="16.61" fill="url(#b0)"/>
<rect x="1083.4" y="504.66" width="220" height="4.61" fill="url(#b1)"/>
<rect x="1083.4" y="508.77" width="220" height="4.61" fill="url(#b2)"/>
<rect x="1083.4" y="512.89" width="220" height="4.61" fill="url(#b3)"/>
<rect x="1083.4" y="517.00" width="220" height="4.61" fill="url(#b4)"/>
<rect x="1083.4" y="521.11" width="220" height="4.61" fill="url(#b5)"/>
<rect x="1083.4" y="525.23" width="220" height="4.61" fill="url(#b6)"/>
<rect x="1083.4" y="529.34" width="220" height="4.61" fill="url(#b7)"/>
<rect x="1083.4" y="533.46" width="220" height="4.61" fill="url(#b8)"/>
<rect x="1083.4" y="537.57" width="220" height="4.61" fill="url(#b9)"/>
<rect x="1083.4" y="541.69" width="220" height="4.61" fill="url(#b10)"/>
<rect x="1083.4" y="545.80" width="220" height="4.61" fill="url(#b11)"/>
<rect x="1083.4" y="549.91" width="220" height="4.61" fill="url(#b12)"/>
<rect x="1083.4" y="554.03" width="220" height="4.61" fill="url(#b13)"/>
<rect x="1083.4" y="558.14" width="220" height="4.61" fill="url(#b14)"/>
<rect x="1083.4" y="562.26" width="220" height="4.61" fill="url(#b15)"/>
<rect x="1083.4" y="566.37" width="220" height="4.61" fill="url(#b16)"/>
<rect x="1083.4" y="570.49" width="220" height="4.61" fill="url(#b17)"/>
<rect x="1083.4" y="574.60" width="220" height="4.61" fill="url(#b18)"/>
<rect x="1083.4" y="578.71" width="220" height="4.61" fill="url(#b19)"/>
<rect x="1083.4" y="582.83" width="220" height="4.61" fill="url(#b20)"/>
<rect x="1083.4" y="586.94" width="220" height="4.61" fill="url(#b21)"/>
<rect x="1083.4" y="591.06" width="220" height="4.61" fill="url(#b22)"/>
<rect x="1083.4" y="595.17" width="220" height="4.61" fill="url(#b23)"/>
<rect x="1083.4" y="599.29" width="220" height="4.61" fill="url(#b24)"/>
<rect x="1083.4" y="603.40" width="220" height="4.61" fill="url(#b25)"/>
<rect x="1083.4" y="607.51" width="220" height="4.61" fill="url(#b26)"/>
<rect x="1083.4" y="611.63" width="220" height="4.61" fill="url(#b27)"/>
<rect x="1083.4" y="615.74" width="220" height="4.61" fill="url(#b28)"/>
<rect x="1083.4" y="619.86" width="220" height="4.61" fill="url(#b29)"/>
<rect x="1083.4" y="623.97" width="220" height="4.61" fill="url(#b30)"/>
<rect x="1083.4" y="628.09" width="220" height="4.61" fill="url(#b31)"/>
<rect x="1083.4" y="632.20" width="220" height="4.61" fill="url(#b32)"/>
<rect x="1083.4" y="636.31" width="220" height="4.61" fill="url(#b33)"/>
<rect x="1083.4" y="640.43" width="220" height="4.61" fill="url(#b34)"/>
<rect x="1083.4" y="644.54" width="220" height="4.61" fill="url(#b35)"/>
<rect x="1083.4" y="648.66" width="220" height="4.61" fill="url(#b36)"/>
<rect x="1083.4" y="652.77" width="220" height="4.61" fill="url(#b37)"/>
<rect x="1083.4" y="656.89" width="220" height="4.61" fill="url(#b38)"/>
<rect x="1083.4" y="661.00" width="220" height="4.61" fill="url(#b39)"/>
<rect x="1083.4" y="665.11" width="220" height="4.61" fill="url(#b40)"/>
<rect x="1083.4" y="669.23" width="220" height="4.61" fill="url(#b41)"/>
<rect x="1083.4" y="673.34" width="220" height="4.61" fill="url(#b42)"/>
<rect x="1083.4" y="677.46" width="220" height="4.61" fill="url(#b43)"/>
<rect x="1083.4" y="681.57" width="220" height="4.61" fill="url(#b44)"/>
<rect x="1083.4" y="685.69" width="220" height="4.61" fill="url(#b45)"/>
<rect x="1083.4" y="689.80" width="220" height="4.61" fill="url(#b46)"/>
<rect x="1083.4" y="693.91" width="220" height="4.61" fill="url(#b47)"/>
<rect x="1083.4" y="698.03" width="220" height="4.61" fill="url(#b48)"/>
<rect x="1083.4" y="702.14" width="220" height="4.61" fill="url(#b49)"/>
<rect x="1083.4" y="706.26" width="220" height="4.61" fill="url(#b50)"/>
<rect x="1083.4" y="710.37" width="220" height="4.61" fill="url(#b51)"/>
<rect x="1083.4" y="714.49" width="220" height="4.61" fill="url(#b52)"/>
<rect x="1083.4" y="718.60" width="220" height="4.61" fill="url(#b53)"/>
<rect x="1083.4" y="722.71" width="220" height="4.61" fill="url(#b54)"/>
<rect x="1083.4" y="726.83" width="220" height="4.61" fill="url(#b55)"/>
<rect x="1083.4" y="730.94" width="220" height="4.61" fill="url(#b56)"/>
<rect x="1083.4" y="735.06" width="220" height="4.61" fill="url(#b57)"/>
<rect x="1083.4" y="739.17" width="220" height="4.61" fill="url(#b58)"/>
<rect x="1083.4" y="743.29" width="220" height="4.61" fill="url(#b59)"/>
<rect x="1083.4" y="747.40" width="220" height="4.61" fill="url(#b60)"/>
<rect x="1083.4" y="751.51" width="220" height="4.61" fill="url(#b61)"/>
<rect x="1083.4" y="755.63" width="220" height="4.61" fill="url(#b62)"/>
<rect x="1083.4" y="759.74" width="220" height="16.61" fill="url(#b63)"/>
</g></g>
<g stroke="#3a1c00" stroke-opacity="0.3" stroke-width="0.8"><polyline points="1302.4,735.8 1301.3,737.1 1298.3,740.8 1298,741.2 1295.1,745.3 1294.2,746.8 1292.7,749.5 1290.5,753.6 1290.1,754.6 1288.8,757.7 1287.2,761.8" fill="none"/><polyline points="1302.4,685.6 1294.2,691.3 1289.1,696 1281.8,703.7 1277.7,708.7 1272.7,716.5 1269,724.8 1265.5,737.1 1264,745.3 1262,757.7 1261.1,761.8" fill="none"/><polyline points="1302.4,644.3 1290.1,644.1 1277.7,646.3 1269.5,649.8 1261.7,654.8 1257.2,659.6 1252.6,667.2 1248.9,677.4 1244.8,686.4 1240.7,695.1 1237,704.2 1234.2,712.4 1231.7,720.7 1229.2,733 1227.9,741.2 1226.5,753.6 1225.5,761.8" fill="none"/><polyline points="1302.4,618.9 1290.1,620.8 1281.8,623 1272.4,626 1262.5,630.1 1253,634.1 1245.2,638.4 1237.5,642.5 1229.7,646.6 1223,650.7 1216,655.6 1207.8,662.3 1202.7,667.2 1195.5,673.6 1187.2,678.1 1179,681.9 1170.8,685.5 1162.6,689.8 1154.3,695.4 1148.7,700.1 1146,708.3 1147.9,716.5 1154.3,722.8 1162.6,725.4 1174.9,727.8 1182.2,733 1186.2,741.2 1188.6,749.5 1188.3,761.8" fill="none"/><polyline points="1302.4,606.9 1290.1,608.8 1281.8,611 1273.5,613.7 1262.7,617.8 1253,621.7 1244.8,625 1236.6,628.4 1228.4,631.1 1218.8,634.3 1207.8,638.3 1199.6,641.7 1191.3,644.3 1181.9,646.6 1174.9,650.8 1163.5,654.8 1154.3,656.5 1142,656.3 1129.6,657.7 1120.8,658.9 1109.7,663.1 1100.9,666.3 1094.3,671.3 1088.5,676.1 1084.4,680.2" fill="none"/><polyline points="1302.4,594.4 1290.1,596.8 1281.8,598.6 1273.6,602.1 1264.7,605.5 1254.1,609.6 1244.8,613.6 1236.6,615.9 1228.4,619.1 1216,621.3 1207.8,623.4 1199.6,627.3 1191.3,630.7 1182.6,634.3 1174.6,638.4 1166.7,643.2 1154.3,644.3 1142,644.7 1129.6,644.9 1117.3,646.2 1109.1,647.6 1099,650.7 1088.5,653.6 1084.4,655" fill="none"/><polyline points="1302.4,573.5 1291.1,576.7 1281.8,577.8 1269.5,578 1257.2,580.1 1248.3,580.8 1236.6,584.2 1228.4,586.1 1220.1,589.6 1210.5,593.1 1199.6,594.9 1189.8,597.2 1179,601 1170.8,604.4 1162.6,608.5 1154.3,611.3 1143.4,613.7 1133.8,615.8 1121.4,617.7 1109.1,617.3 1100.9,619.3 1090.1,621.9 1084.4,623.1" fill="none"/><polyline points="1302.4,546.6 1294.2,548.9 1281.8,551.4 1273.6,552.2 1265.4,551.7 1253,549.8 1240.7,549.1 1228.4,551 1220.1,553.4 1211.9,556.7 1202.6,560.2 1191.3,562.5 1181.9,564.3 1170.8,566.3 1162.6,568.5 1152.9,572.5 1143.5,576.7 1133.8,579.6 1125.5,581.4 1113.2,581.8 1100.9,581.4 1088.5,581.7 1084.4,581.8" fill="none"/></g>
<rect x="1084.4" y="502.6" width="218" height="259.2" fill="none" stroke="#262611" stroke-width="1.5"/>
<polyline points="1212.1,571 1168.9,646.2 1229.6,726.4" fill="none" stroke="#151a10" stroke-width="1.05" stroke-linejoin="miter"/>
<circle cx="1152.8" cy="629" r="11.8" fill="#fff"/><text x="1152.8" y="633.3" font-size="12" font-weight="bold" fill="#111" text-anchor="middle" textLength="22.4" lengthAdjust="spacingAndGlyphs">REF</text>
<circle cx="1151.9" cy="666.6" r="12.3" fill="#fff"/><text x="1151.9" y="670.9" font-size="12" font-weight="bold" fill="#111" text-anchor="middle" textLength="27.4" lengthAdjust="spacingAndGlyphs">GND</text>
<defs>
<linearGradient id="c0"><stop offset="0" stop-color="#26c2ad"/><stop offset="0.071" stop-color="#29c3aa"/><stop offset="0.143" stop-color="#27c2ac"/><stop offset="0.214" stop-color="#16bfb7"/><stop offset="0.286" stop-color="#01b8ca"/><stop offset="0.357" stop-color="#19addc"/><stop offset="0.429" stop-color="#23a1e4"/><stop offset="0.5" stop-color="#2c90f0"/><stop offset="0.571" stop-color="#3975fe"/><stop offset="0.643" stop-color="#475bf9"/><stop offset="0.714" stop-color="#4742e6"/><stop offset="0.786" stop-color="#4332ca"/><stop offset="0.857" stop-color="#402bb6"/><stop offset="0.929" stop-color="#3e27ac"/><stop offset="1" stop-color="#3e26a8"/></linearGradient>
<linearGradient id="c1"><stop offset="0" stop-color="#32c69f"/><stop offset="0.071" stop-color="#34c79c"/><stop offset="0.143" stop-color="#33c69e"/><stop offset="0.214" stop-color="#29c3aa"/><stop offset="0.286" stop-color="#08bcbf"/><stop offset="0.357" stop-color="#0cb3d3"/><stop offset="0.429" stop-color="#1da8e0"/><stop offset="0.5" stop-color="#2797eb"/><stop offset="0.571" stop-color="#317dfc"/><stop offset="0.643" stop-color="#4564fd"/><stop offset="0.714" stop-color="#484bef"/><stop offset="0.786" stop-color="#4538d8"/><stop offset="0.857" stop-color="#4230c3"/><stop offset="0.929" stop-color="#402bb7"/><stop offset="1" stop-color="#3f28ad"/></linearGradient>
<linearGradient id="c2"><stop offset="0" stop-color="#3eca8f"/><stop offset="0.071" stop-color="#41ca8c"/><stop offset="0.143" stop-color="#3fca8e"/><stop offset="0.214" stop-color="#34c79c"/><stop offset="0.286" stop-color="#1ec0b2"/><stop offset="0.357" stop-color="#01b8c9"/><stop offset="0.429" stop-color="#17aeda"/><stop offset="0.5" stop-color="#259de7"/><stop offset="0.571" stop-color="#2e84f8"/><stop offset="0.643" stop-color="#3f6eff"/><stop offset="0.714" stop-color="#4755f6"/><stop offset="0.786" stop-color="#4740e3"/><stop offset="0.857" stop-color="#4435d0"/><stop offset="0.929" stop-color="#422fc1"/><stop offset="1" stop-color="#402bb6"/></linearGradient>
<linearGradient id="c3"><stop offset="0" stop-color="#54cc7c"/><stop offset="0.071" stop-color="#56cc7b"/><stop offset="0.143" stop-color="#55cc7c"/><stop offset="0.214" stop-color="#42ca8c"/><stop offset="0.286" stop-color="#2ec4a5"/><stop offset="0.357" stop-color="#0abdbd"/><stop offset="0.429" stop-color="#09b4d1"/><stop offset="0.5" stop-color="#21a3e3"/><stop offset="0.571" stop-color="#2d8cf3"/><stop offset="0.643" stop-color="#3579fd"/><stop offset="0.714" stop-color="#465ffb"/><stop offset="0.786" stop-color="#4849ed"/><stop offset="0.857" stop-color="#463bdd"/><stop offset="0.929" stop-color="#4433cc"/><stop offset="1" stop-color="#422ebf"/></linearGradient>
<linearGradient id="c4"><stop offset="0" stop-color="#6ccd68"/><stop offset="0.071" stop-color="#6ccd68"/><stop offset="0.143" stop-color="#6bcd69"/><stop offset="0.214" stop-color="#57cc7a"/><stop offset="0.286" stop-color="#39c895"/><stop offset="0.357" stop-color="#21c1b0"/><stop offset="0.429" stop-color="#01b9c7"/><stop offset="0.5" stop-color="#1da9e0"/><stop offset="0.571" stop-color="#2a93ed"/><stop offset="0.643" stop-color="#2e83f9"/><stop offset="0.714" stop-color="#426afe"/><stop offset="0.786" stop-color="#4853f5"/><stop offset="0.857" stop-color="#4743e7"/><stop offset="0.929" stop-color="#4538d8"/><stop offset="1" stop-color="#4332c9"/></linearGradient>
<linearGradient id="c5"><stop offset="0" stop-color="#86cb55"/><stop offset="0.071" stop-color="#83cc57"/><stop offset="0.143" stop-color="#83cc57"/><stop offset="0.214" stop-color="#6ecd67"/><stop offset="0.286" stop-color="#4bcb83"/><stop offset="0.357" stop-color="#2fc5a2"/><stop offset="0.429" stop-color="#0cbdbc"/><stop offset="0.5" stop-color="#17aeda"/><stop offset="0.571" stop-color="#269be8"/><stop offset="0.643" stop-color="#2d8df2"/><stop offset="0.714" stop-color="#3875fe"/><stop offset="0.786" stop-color="#465efb"/><stop offset="0.857" stop-color="#484df0"/><stop offset="0.929" stop-color="#473fe2"/><stop offset="1" stop-color="#4536d3"/></linearGradient>
<linearGradient id="c6"><stop offset="0" stop-color="#9dc943"/><stop offset="0.071" stop-color="#97ca48"/><stop offset="0.143" stop-color="#99c946"/><stop offset="0.214" stop-color="#86cb55"/><stop offset="0.286" stop-color="#63cd6f"/><stop offset="0.357" stop-color="#3bc992"/><stop offset="0.429" stop-color="#20c1b1"/><stop offset="0.5" stop-color="#0cb3d3"/><stop offset="0.571" stop-color="#22a2e4"/><stop offset="0.643" stop-color="#2895ec"/><stop offset="0.714" stop-color="#2f81fa"/><stop offset="0.786" stop-color="#4269fe"/><stop offset="0.857" stop-color="#4757f8"/><stop offset="0.929" stop-color="#4747ec"/><stop offset="1" stop-color="#463bdd"/></linearGradient>
<linearGradient id="c7"><stop offset="0" stop-color="#afc636"/><stop offset="0.071" stop-color="#a9c73a"/><stop offset="0.143" stop-color="#aac73a"/><stop offset="0.214" stop-color="#9bc945"/><stop offset="0.286" stop-color="#7dcc5b"/><stop offset="0.357" stop-color="#4fcc81"/><stop offset="0.429" stop-color="#2dc4a5"/><stop offset="0.5" stop-color="#01b8ca"/><stop offset="0.571" stop-color="#1da8e0"/><stop offset="0.643" stop-color="#259de7"/><stop offset="0.714" stop-color="#2d8cf3"/><stop offset="0.786" stop-color="#3776fe"/><stop offset="0.857" stop-color="#4563fd"/><stop offset="0.929" stop-color="#4851f4"/><stop offset="1" stop-color="#4742e6"/></linearGradient>
<linearGradient id="c8"><stop offset="0" stop-color="#c1c32c"/><stop offset="0.071" stop-color="#b9c430"/><stop offset="0.143" stop-color="#b8c431"/><stop offset="0.214" stop-color="#adc638"/><stop offset="0.286" stop-color="#95ca49"/><stop offset="0.357" stop-color="#66cd6d"/><stop offset="0.429" stop-color="#36c898"/><stop offset="0.5" stop-color="#05bbc1"/><stop offset="0.571" stop-color="#17aeda"/><stop offset="0.643" stop-color="#20a4e3"/><stop offset="0.714" stop-color="#2896ec"/><stop offset="0.786" stop-color="#2e83f9"/><stop offset="0.857" stop-color="#3e70ff"/><stop offset="0.929" stop-color="#475cfa"/><stop offset="1" stop-color="#484cef"/></linearGradient>
<linearGradient id="c9"><stop offset="0" stop-color="#d4bf27"/><stop offset="0.071" stop-color="#cdc028"/><stop offset="0.143" stop-color="#c9c129"/><stop offset="0.214" stop-color="#bec32e"/><stop offset="0.286" stop-color="#aac73a"/><stop offset="0.357" stop-color="#7ecc5b"/><stop offset="0.429" stop-color="#44cb89"/><stop offset="0.5" stop-color="#16bfb7"/><stop offset="0.571" stop-color="#0bb3d2"/><stop offset="0.643" stop-color="#1aabdd"/><stop offset="0.714" stop-color="#249fe5"/><stop offset="0.786" stop-color="#2c8ef1"/><stop offset="0.857" stop-color="#317dfc"/><stop offset="0.929" stop-color="#4368fe"/><stop offset="1" stop-color="#4757f7"/></linearGradient>
<linearGradient id="c10"><stop offset="0" stop-color="#e5bb2d"/><stop offset="0.071" stop-color="#e0bc2a"/><stop offset="0.143" stop-color="#dabd28"/><stop offset="0.214" stop-color="#d1bf27"/><stop offset="0.286" stop-color="#bdc32e"/><stop offset="0.357" stop-color="#94ca4a"/><stop offset="0.429" stop-color="#57cc7a"/><stop offset="0.5" stop-color="#26c2ac"/><stop offset="0.571" stop-color="#01b8c9"/><stop offset="0.643" stop-color="#10b2d5"/><stop offset="0.714" stop-color="#1da8e0"/><stop offset="0.786" stop-color="#2698ea"/><stop offset="0.857" stop-color="#2d89f5"/><stop offset="0.929" stop-color="#3875fe"/><stop offset="1" stop-color="#4563fc"/></linearGradient>
<linearGradient id="c11"><stop offset="0" stop-color="#f5ba3b"/><stop offset="0.071" stop-color="#f2ba38"/><stop offset="0.143" stop-color="#ebba31"/><stop offset="0.214" stop-color="#e2bc2b"/><stop offset="0.286" stop-color="#d2bf27"/><stop offset="0.357" stop-color="#a7c73c"/><stop offset="0.429" stop-color="#6bcd69"/><stop offset="0.5" stop-color="#31c6a0"/><stop offset="0.571" stop-color="#09bcbe"/><stop offset="0.643" stop-color="#02b7cb"/><stop offset="0.714" stop-color="#14b0d8"/><stop offset="0.786" stop-color="#22a2e4"/><stop offset="0.857" stop-color="#2994ed"/><stop offset="0.929" stop-color="#2f82fa"/><stop offset="1" stop-color="#3e70ff"/></linearGradient>
<linearGradient id="c12"><stop offset="0" stop-color="#fdbd3d"/><stop offset="0.071" stop-color="#fcbd3d"/><stop offset="0.143" stop-color="#f9bb3d"/><stop offset="0.214" stop-color="#f2ba38"/><stop offset="0.286" stop-color="#e2bc2b"/><stop offset="0.357" stop-color="#b6c532"/><stop offset="0.429" stop-color="#7fcc5a"/><stop offset="0.5" stop-color="#3cc991"/><stop offset="0.571" stop-color="#1dc0b3"/><stop offset="0.643" stop-color="#06bcc0"/><stop offset="0.714" stop-color="#04b6cd"/><stop offset="0.786" stop-color="#1caadf"/><stop offset="0.857" stop-color="#259de7"/><stop offset="0.929" stop-color="#2d8df2"/><stop offset="1" stop-color="#317dfc"/></linearGradient>
<linearGradient id="c13"><stop offset="0" stop-color="#fec636"/><stop offset="0.071" stop-color="#fec437"/><stop offset="0.143" stop-color="#fec239"/><stop offset="0.214" stop-color="#fcbc3d"/><stop offset="0.286" stop-color="#f0ba36"/><stop offset="0.357" stop-color="#c5c22a"/><stop offset="0.429" stop-color="#93ca4b"/><stop offset="0.5" stop-color="#4fcc80"/><stop offset="0.571" stop-color="#2cc4a6"/><stop offset="0.643" stop-color="#1ac0b5"/><stop offset="0.714" stop-color="#04bbc1"/><stop offset="0.786" stop-color="#13b1d7"/><stop offset="0.857" stop-color="#20a5e3"/><stop offset="0.929" stop-color="#2797eb"/><stop offset="1" stop-color="#2d89f6"/></linearGradient>
<linearGradient id="c14"><stop offset="0" stop-color="#fcd12f"/><stop offset="0.071" stop-color="#fccf30"/><stop offset="0.143" stop-color="#fccf30"/><stop offset="0.214" stop-color="#fec437"/><stop offset="0.286" stop-color="#f9bb3d"/><stop offset="0.357" stop-color="#d2bf27"/><stop offset="0.429" stop-color="#a3c83f"/><stop offset="0.5" stop-color="#65cd6e"/><stop offset="0.571" stop-color="#36c898"/><stop offset="0.643" stop-color="#2ac3a9"/><stop offset="0.714" stop-color="#17bfb6"/><stop offset="0.786" stop-color="#05b6ce"/><stop offset="0.857" stop-color="#1aabdd"/><stop offset="0.929" stop-color="#249fe5"/><stop offset="1" stop-color="#2a92ee"/></linearGradient>
<linearGradient id="c15"><stop offset="0" stop-color="#f7db2b"/><stop offset="0.071" stop-color="#f8da2b"/><stop offset="0.143" stop-color="#f8da2b"/><stop offset="0.214" stop-color="#fcd030"/><stop offset="0.286" stop-color="#febf3c"/><stop offset="0.357" stop-color="#dfbc2a"/><stop offset="0.429" stop-color="#b1c635"/><stop offset="0.5" stop-color="#7acc5e"/><stop offset="0.571" stop-color="#44cb89"/><stop offset="0.643" stop-color="#33c69d"/><stop offset="0.714" stop-color="#26c2ad"/><stop offset="0.786" stop-color="#01bac5"/><stop offset="0.857" stop-color="#12b1d7"/><stop offset="0.929" stop-color="#1fa6e1"/><stop offset="1" stop-color="#269ae8"/></linearGradient>
<linearGradient id="c16"><stop offset="0" stop-color="#f5e227"/><stop offset="0.071" stop-color="#f5e327"/><stop offset="0.143" stop-color="#f5e327"/><stop offset="0.214" stop-color="#f7db2b"/><stop offset="0.286" stop-color="#fec735"/><stop offset="0.357" stop-color="#ebba31"/><stop offset="0.429" stop-color="#bdc32e"/><stop offset="0.5" stop-color="#8ccb50"/><stop offset="0.571" stop-color="#57cc7a"/><stop offset="0.643" stop-color="#3dc991"/><stop offset="0.714" stop-color="#2ec5a4"/><stop offset="0.786" stop-color="#0abdbd"/><stop offset="0.857" stop-color="#06b5cf"/><stop offset="0.929" stop-color="#19addc"/><stop offset="1" stop-color="#23a1e4"/></linearGradient>
<linearGradient id="c17"><stop offset="0" stop-color="#f5e825"/><stop offset="0.071" stop-color="#f5ea24"/><stop offset="0.143" stop-color="#f5e924"/><stop offset="0.214" stop-color="#f5e327"/><stop offset="0.286" stop-color="#fbd22f"/><stop offset="0.357" stop-color="#f7ba3c"/><stop offset="0.429" stop-color="#c8c129"/><stop offset="0.5" stop-color="#9bc944"/><stop offset="0.571" stop-color="#6acd6a"/><stop offset="0.643" stop-color="#4acb84"/><stop offset="0.714" stop-color="#34c79b"/><stop offset="0.786" stop-color="#18bfb6"/><stop offset="0.857" stop-color="#01b9c8"/><stop offset="0.929" stop-color="#11b1d5"/><stop offset="1" stop-color="#1ea7e1"/></linearGradient>
<linearGradient id="c18"><stop offset="0" stop-color="#f5ec23"/><stop offset="0.071" stop-color="#f5ef21"/><stop offset="0.143" stop-color="#f5ee21"/><stop offset="0.214" stop-color="#f5e924"/><stop offset="0.286" stop-color="#f7db2b"/><stop offset="0.357" stop-color="#fbbc3d"/><stop offset="0.429" stop-color="#d1bf27"/><stop offset="0.5" stop-color="#a7c73c"/><stop offset="0.571" stop-color="#7dcc5b"/><stop offset="0.643" stop-color="#5acc78"/><stop offset="0.714" stop-color="#3bc993"/><stop offset="0.786" stop-color="#23c1af"/><stop offset="0.857" stop-color="#05bbc1"/><stop offset="0.929" stop-color="#06b5cf"/><stop offset="1" stop-color="#1aacdd"/></linearGradient>
<linearGradient id="c19"><stop offset="0" stop-color="#f5ee21"/><stop offset="0.071" stop-color="#f6f21e"/><stop offset="0.143" stop-color="#f6f11e"/><stop offset="0.214" stop-color="#f5ed21"/><stop offset="0.286" stop-color="#f5e128"/><stop offset="0.357" stop-color="#fec03b"/><stop offset="0.429" stop-color="#dabd28"/><stop offset="0.5" stop-color="#b1c635"/><stop offset="0.571" stop-color="#8ecb4f"/><stop offset="0.643" stop-color="#68cd6b"/><stop offset="0.714" stop-color="#43ca8a"/><stop offset="0.786" stop-color="#2bc3a8"/><stop offset="0.857" stop-color="#0fbeba"/><stop offset="0.929" stop-color="#01b8c8"/><stop offset="1" stop-color="#14b0d8"/></linearGradient>
<linearGradient id="c20"><stop offset="0" stop-color="#f6f01f"/><stop offset="0.071" stop-color="#f7f41c"/><stop offset="0.143" stop-color="#f7f41c"/><stop offset="0.214" stop-color="#f6f11f"/><stop offset="0.286" stop-color="#f5e626"/><stop offset="0.357" stop-color="#fec835"/><stop offset="0.429" stop-color="#e3bb2c"/><stop offset="0.5" stop-color="#bac430"/><stop offset="0.571" stop-color="#9cc944"/><stop offset="0.643" stop-color="#76cc60"/><stop offset="0.714" stop-color="#4ccb83"/><stop offset="0.786" stop-color="#2fc5a2"/><stop offset="0.857" stop-color="#1ac0b5"/><stop offset="0.929" stop-color="#03bbc2"/><stop offset="1" stop-color="#0cb3d3"/></linearGradient>
<linearGradient id="c21"><stop offset="0" stop-color="#f6f11e"/><stop offset="0.071" stop-color="#f7f51b"/><stop offset="0.143" stop-color="#f8f61a"/><stop offset="0.214" stop-color="#f7f41c"/><stop offset="0.286" stop-color="#f5ea24"/><stop offset="0.357" stop-color="#fcd030"/><stop offset="0.429" stop-color="#ecba32"/><stop offset="0.5" stop-color="#c3c22b"/><stop offset="0.571" stop-color="#a7c73c"/><stop offset="0.643" stop-color="#83cc57"/><stop offset="0.714" stop-color="#55cc7c"/><stop offset="0.786" stop-color="#33c79d"/><stop offset="0.857" stop-color="#22c1b0"/><stop offset="0.929" stop-color="#0abdbd"/><stop offset="1" stop-color="#05b6ce"/></linearGradient>
<linearGradient id="c22"><stop offset="0" stop-color="#f6f11e"/><stop offset="0.071" stop-color="#f7f61a"/><stop offset="0.143" stop-color="#f8f818"/><stop offset="0.214" stop-color="#f7f61a"/><stop offset="0.286" stop-color="#f5ed22"/><stop offset="0.357" stop-color="#f9d72d"/><stop offset="0.429" stop-color="#f3ba38"/><stop offset="0.5" stop-color="#cac129"/><stop offset="0.571" stop-color="#b0c636"/><stop offset="0.643" stop-color="#8ecb4f"/><stop offset="0.714" stop-color="#5dcc75"/><stop offset="0.786" stop-color="#36c898"/><stop offset="0.857" stop-color="#27c2ac"/><stop offset="0.929" stop-color="#13beb8"/><stop offset="1" stop-color="#01b8c9"/></linearGradient>
<linearGradient id="c23"><stop offset="0" stop-color="#f6f11e"/><stop offset="0.071" stop-color="#f7f61a"/><stop offset="0.143" stop-color="#f8f817"/><stop offset="0.214" stop-color="#f8f719"/><stop offset="0.286" stop-color="#f6ef20"/><stop offset="0.357" stop-color="#f7db2a"/><stop offset="0.429" stop-color="#f7ba3c"/><stop offset="0.5" stop-color="#d0bf27"/><stop offset="0.571" stop-color="#b8c431"/><stop offset="0.643" stop-color="#97ca48"/><stop offset="0.714" stop-color="#63cd70"/><stop offset="0.786" stop-color="#39c995"/><stop offset="0.857" stop-color="#2ac3a9"/><stop offset="0.929" stop-color="#1ac0b5"/><stop offset="1" stop-color="#01bac5"/></linearGradient>
<linearGradient id="c24"><stop offset="0" stop-color="#f6f11e"/><stop offset="0.071" stop-color="#f7f51b"/><stop offset="0.143" stop-color="#f8f817"/><stop offset="0.214" stop-color="#f8f818"/><stop offset="0.286" stop-color="#f6f11e"/><stop offset="0.357" stop-color="#f6df29"/><stop offset="0.429" stop-color="#f9bb3d"/><stop offset="0.5" stop-color="#d5be28"/><stop offset="0.571" stop-color="#c0c32d"/><stop offset="0.643" stop-color="#9ec942"/><stop offset="0.714" stop-color="#69cd6b"/><stop offset="0.786" stop-color="#3cc992"/><stop offset="0.857" stop-color="#2cc4a6"/><stop offset="0.929" stop-color="#1fc0b2"/><stop offset="1" stop-color="#04bbc2"/></linearGradient>
<linearGradient id="c25"><stop offset="0" stop-color="#f6f11f"/><stop offset="0.071" stop-color="#f7f51b"/><stop offset="0.143" stop-color="#f8f817"/><stop offset="0.214" stop-color="#f8f817"/><stop offset="0.286" stop-color="#f6f31d"/><stop offset="0.357" stop-color="#f5e227"/><stop offset="0.429" stop-color="#fabb3d"/><stop offset="0.5" stop-color="#dabd28"/><stop offset="0.571" stop-color="#c6c22a"/><stop offset="0.643" stop-color="#a4c83e"/><stop offset="0.714" stop-color="#6dcd68"/><stop offset="0.786" stop-color="#3dc990"/><stop offset="0.857" stop-color="#2dc4a5"/><stop offset="0.929" stop-color="#22c1b0"/><stop offset="1" stop-color="#08bcbf"/></linearGradient>
<linearGradient id="c26"><stop offset="0" stop-color="#f6f11f"/><stop offset="0.071" stop-color="#f7f51b"/><stop offset="0.143" stop-color="#f8f818"/><stop offset="0.214" stop-color="#f8f817"/><stop offset="0.286" stop-color="#f7f41c"/><stop offset="0.357" stop-color="#f5e426"/><stop offset="0.429" stop-color="#fcbc3d"/><stop offset="0.5" stop-color="#dfbc2a"/><stop offset="0.571" stop-color="#cbc129"/><stop offset="0.643" stop-color="#a8c73b"/><stop offset="0.714" stop-color="#70cd65"/><stop offset="0.786" stop-color="#3dca90"/><stop offset="0.857" stop-color="#2ec4a4"/><stop offset="0.929" stop-color="#24c1ae"/><stop offset="1" stop-color="#0bbdbd"/></linearGradient>
<linearGradient id="c27"><stop offset="0" stop-color="#f6f11e"/><stop offset="0.071" stop-color="#f7f41c"/><stop offset="0.143" stop-color="#f8f818"/><stop offset="0.214" stop-color="#f8f817"/><stop offset="0.286" stop-color="#f7f41c"/><stop offset="0.357" stop-color="#f5e526"/><stop offset="0.429" stop-color="#febe3c"/><stop offset="0.5" stop-color="#e2bc2b"/><stop offset="0.571" stop-color="#cec028"/><stop offset="0.643" stop-color="#abc739"/><stop offset="0.714" stop-color="#71cd64"/><stop offset="0.786" stop-color="#3dc990"/><stop offset="0.857" stop-color="#2ec4a4"/><stop offset="0.929" stop-color="#25c2ae"/><stop offset="1" stop-color="#0dbdbb"/></linearGradient>
<linearGradient id="c28"><stop offset="0" stop-color="#f6f21e"/><stop offset="0.071" stop-color="#f7f41c"/><stop offset="0.143" stop-color="#f8f719"/><stop offset="0.214" stop-color="#f8f818"/><stop offset="0.286" stop-color="#f7f51b"/><stop offset="0.357" stop-color="#f5e626"/><stop offset="0.429" stop-color="#febf3b"/><stop offset="0.5" stop-color="#e4bb2c"/><stop offset="0.571" stop-color="#d0bf27"/><stop offset="0.643" stop-color="#adc638"/><stop offset="0.714" stop-color="#72cd64"/><stop offset="0.786" stop-color="#3cc991"/><stop offset="0.857" stop-color="#2ec4a5"/><stop offset="0.929" stop-color="#25c2ad"/><stop offset="1" stop-color="#0ebebb"/></linearGradient>
<linearGradient id="c29"><stop offset="0" stop-color="#f6f21e"/><stop offset="0.071" stop-color="#f7f51c"/><stop offset="0.143" stop-color="#f8f719"/><stop offset="0.214" stop-color="#f8f718"/><stop offset="0.286" stop-color="#f7f51b"/><stop offset="0.357" stop-color="#f5e725"/><stop offset="0.429" stop-color="#fec03b"/><stop offset="0.5" stop-color="#e5bb2c"/><stop offset="0.571" stop-color="#d0bf27"/><stop offset="0.643" stop-color="#adc638"/><stop offset="0.714" stop-color="#71cd64"/><stop offset="0.786" stop-color="#3bc993"/><stop offset="0.857" stop-color="#2dc4a6"/><stop offset="0.929" stop-color="#25c2ae"/><stop offset="1" stop-color="#0ebebb"/></linearGradient>
<linearGradient id="c30"><stop offset="0" stop-color="#f6f21d"/><stop offset="0.071" stop-color="#f7f51b"/><stop offset="0.143" stop-color="#f8f719"/><stop offset="0.214" stop-color="#f8f719"/><stop offset="0.286" stop-color="#f7f51b"/><stop offset="0.357" stop-color="#f5e825"/><stop offset="0.429" stop-color="#fec03a"/><stop offset="0.5" stop-color="#e3bc2c"/><stop offset="0.571" stop-color="#cec028"/><stop offset="0.643" stop-color="#adc638"/><stop offset="0.714" stop-color="#70cd65"/><stop offset="0.786" stop-color="#39c895"/><stop offset="0.857" stop-color="#2cc4a7"/><stop offset="0.929" stop-color="#24c1ae"/><stop offset="1" stop-color="#0dbdbb"/></linearGradient>
<linearGradient id="c31"><stop offset="0" stop-color="#f7f31d"/><stop offset="0.071" stop-color="#f7f51b"/><stop offset="0.143" stop-color="#f8f719"/><stop offset="0.214" stop-color="#f8f61a"/><stop offset="0.286" stop-color="#f7f51b"/><stop offset="0.357" stop-color="#f5e924"/><stop offset="0.429" stop-color="#fec03a"/><stop offset="0.5" stop-color="#e1bc2b"/><stop offset="0.571" stop-color="#ccc028"/><stop offset="0.643" stop-color="#abc739"/><stop offset="0.714" stop-color="#6ecd67"/><stop offset="0.786" stop-color="#37c897"/><stop offset="0.857" stop-color="#2bc3a8"/><stop offset="0.929" stop-color="#23c1af"/><stop offset="1" stop-color="#0bbdbc"/></linearGradient>
<linearGradient id="c32"><stop offset="0" stop-color="#f7f31d"/><stop offset="0.071" stop-color="#f7f51b"/><stop offset="0.143" stop-color="#f8f719"/><stop offset="0.214" stop-color="#f7f61a"/><stop offset="0.286" stop-color="#f7f41c"/><stop offset="0.357" stop-color="#f5e924"/><stop offset="0.429" stop-color="#fec03b"/><stop offset="0.5" stop-color="#dfbc2a"/><stop offset="0.571" stop-color="#c9c129"/><stop offset="0.643" stop-color="#a8c73b"/><stop offset="0.714" stop-color="#6bcd69"/><stop offset="0.786" stop-color="#36c898"/><stop offset="0.857" stop-color="#2bc3a8"/><stop offset="0.929" stop-color="#22c1b0"/><stop offset="1" stop-color="#0abdbd"/></linearGradient>
<linearGradient id="c33"><stop offset="0" stop-color="#f7f41c"/><stop offset="0.071" stop-color="#f7f61a"/><stop offset="0.143" stop-color="#f8f719"/><stop offset="0.214" stop-color="#f7f51b"/><stop offset="0.286" stop-color="#f7f41c"/><stop offset="0.357" stop-color="#f5e924"/><stop offset="0.429" stop-color="#fec03b"/><stop offset="0.5" stop-color="#debd29"/><stop offset="0.571" stop-color="#c6c22a"/><stop offset="0.643" stop-color="#a3c83e"/><stop offset="0.714" stop-color="#69cd6b"/><stop offset="0.786" stop-color="#36c898"/><stop offset="0.857" stop-color="#2ac3a9"/><stop offset="0.929" stop-color="#21c1b0"/><stop offset="1" stop-color="#09bcbe"/></linearGradient>
<linearGradient id="c34"><stop offset="0" stop-color="#f7f41c"/><stop offset="0.071" stop-color="#f8f61a"/><stop offset="0.143" stop-color="#f8f719"/><stop offset="0.214" stop-color="#f7f51b"/><stop offset="0.286" stop-color="#f7f41c"/><stop offset="0.357" stop-color="#f5e924"/><stop offset="0.429" stop-color="#febf3b"/><stop offset="0.5" stop-color="#debd29"/><stop offset="0.571" stop-color="#c4c22b"/><stop offset="0.643" stop-color="#9ec942"/><stop offset="0.714" stop-color="#67cd6d"/><stop offset="0.786" stop-color="#37c898"/><stop offset="0.857" stop-color="#2ac3a9"/><stop offset="0.929" stop-color="#21c1b0"/><stop offset="1" stop-color="#07bcbf"/></linearGradient>
<linearGradient id="c35"><stop offset="0" stop-color="#f7f41c"/><stop offset="0.071" stop-color="#f8f719"/><stop offset="0.143" stop-color="#f8f818"/><stop offset="0.214" stop-color="#f7f51b"/><stop offset="0.286" stop-color="#f7f31c"/><stop offset="0.357" stop-color="#f5e825"/><stop offset="0.429" stop-color="#febe3c"/><stop offset="0.5" stop-color="#dfbc2a"/><stop offset="0.571" stop-color="#c3c22b"/><stop offset="0.643" stop-color="#9ac945"/><stop offset="0.714" stop-color="#65cd6e"/><stop offset="0.786" stop-color="#37c897"/><stop offset="0.857" stop-color="#2ac3a9"/><stop offset="0.929" stop-color="#20c1b1"/><stop offset="1" stop-color="#06bbc1"/></linearGradient>
<linearGradient id="c36"><stop offset="0" stop-color="#f7f51b"/><stop offset="0.071" stop-color="#f8f719"/><stop offset="0.143" stop-color="#f8f818"/><stop offset="0.214" stop-color="#f7f61a"/><stop offset="0.286" stop-color="#f7f41c"/><stop offset="0.357" stop-color="#f5e725"/><stop offset="0.429" stop-color="#fdbd3d"/><stop offset="0.5" stop-color="#e1bc2b"/><stop offset="0.571" stop-color="#c4c22b"/><stop offset="0.643" stop-color="#98c947"/><stop offset="0.714" stop-color="#63cd6f"/><stop offset="0.786" stop-color="#37c897"/><stop offset="0.857" stop-color="#2ac3a9"/><stop offset="0.929" stop-color="#1fc1b1"/><stop offset="1" stop-color="#03bbc2"/></linearGradient>
<linearGradient id="c37"><stop offset="0" stop-color="#f7f51b"/><stop offset="0.071" stop-color="#f8f718"/><stop offset="0.143" stop-color="#f8f917"/><stop offset="0.214" stop-color="#f8f719"/><stop offset="0.286" stop-color="#f7f41c"/><stop offset="0.357" stop-color="#f5e526"/><stop offset="0.429" stop-color="#fcbd3d"/><stop offset="0.5" stop-color="#e5bb2d"/><stop offset="0.571" stop-color="#c6c22a"/><stop offset="0.643" stop-color="#98c947"/><stop offset="0.714" stop-color="#63cd70"/><stop offset="0.786" stop-color="#38c896"/><stop offset="0.857" stop-color="#2ac3a9"/><stop offset="0.929" stop-color="#1ec0b2"/><stop offset="1" stop-color="#02bac4"/></linearGradient>
<linearGradient id="c38"><stop offset="0" stop-color="#f7f51b"/><stop offset="0.071" stop-color="#f8f818"/><stop offset="0.143" stop-color="#f9f916"/><stop offset="0.214" stop-color="#f8f818"/><stop offset="0.286" stop-color="#f7f41c"/><stop offset="0.357" stop-color="#f5e327"/><stop offset="0.429" stop-color="#fbbc3d"/><stop offset="0.5" stop-color="#e9bb30"/><stop offset="0.571" stop-color="#c9c129"/><stop offset="0.643" stop-color="#99c946"/><stop offset="0.714" stop-color="#63cd6f"/><stop offset="0.786" stop-color="#38c896"/><stop offset="0.857" stop-color="#29c3a9"/><stop offset="0.929" stop-color="#1bc0b4"/><stop offset="1" stop-color="#01b9c6"/></linearGradient>
<linearGradient id="c39"><stop offset="0" stop-color="#f7f51b"/><stop offset="0.071" stop-color="#f8f818"/><stop offset="0.143" stop-color="#f9fa16"/><stop offset="0.214" stop-color="#f8f917"/><stop offset="0.286" stop-color="#f7f41c"/><stop offset="0.357" stop-color="#f6e128"/><stop offset="0.429" stop-color="#fabb3d"/><stop offset="0.5" stop-color="#edba33"/><stop offset="0.571" stop-color="#ccc028"/><stop offset="0.643" stop-color="#9bc944"/><stop offset="0.714" stop-color="#64cd6f"/><stop offset="0.786" stop-color="#38c896"/><stop offset="0.857" stop-color="#29c3aa"/><stop offset="0.929" stop-color="#18bfb6"/><stop offset="1" stop-color="#01b8c8"/></linearGradient>
<linearGradient id="c40"><stop offset="0" stop-color="#f7f51b"/><stop offset="0.071" stop-color="#f8f818"/><stop offset="0.143" stop-color="#f9fa15"/><stop offset="0.214" stop-color="#f9fa16"/><stop offset="0.286" stop-color="#f7f31d"/><stop offset="0.357" stop-color="#f6dd29"/><stop offset="0.429" stop-color="#f9bb3d"/><stop offset="0.5" stop-color="#eeba34"/><stop offset="0.571" stop-color="#d0bf27"/><stop offset="0.643" stop-color="#9ec942"/><stop offset="0.714" stop-color="#66cd6d"/><stop offset="0.786" stop-color="#38c896"/><stop offset="0.857" stop-color="#28c3ab"/><stop offset="0.929" stop-color="#15bfb8"/><stop offset="1" stop-color="#01b8ca"/></linearGradient>
<linearGradient id="c41"><stop offset="0" stop-color="#f7f51b"/><stop offset="0.071" stop-color="#f8f818"/><stop offset="0.143" stop-color="#f9fb15"/><stop offset="0.214" stop-color="#f9fa16"/><stop offset="0.286" stop-color="#f6f31d"/><stop offset="0.357" stop-color="#f8da2b"/><stop offset="0.429" stop-color="#fabb3d"/><stop offset="0.5" stop-color="#efba35"/><stop offset="0.571" stop-color="#d3bf27"/><stop offset="0.643" stop-color="#a2c83f"/><stop offset="0.714" stop-color="#69cd6b"/><stop offset="0.786" stop-color="#38c896"/><stop offset="0.857" stop-color="#27c2ac"/><stop offset="0.929" stop-color="#12beb9"/><stop offset="1" stop-color="#02b7cb"/></linearGradient>
<linearGradient id="c42"><stop offset="0" stop-color="#f7f51b"/><stop offset="0.071" stop-color="#f8f818"/><stop offset="0.143" stop-color="#f9fb15"/><stop offset="0.214" stop-color="#f9fa16"/><stop offset="0.286" stop-color="#f6f21e"/><stop offset="0.357" stop-color="#f9d72c"/><stop offset="0.429" stop-color="#fabc3d"/><stop offset="0.5" stop-color="#f0ba36"/><stop offset="0.571" stop-color="#d7be28"/><stop offset="0.643" stop-color="#a7c73c"/><stop offset="0.714" stop-color="#6ccd68"/><stop offset="0.786" stop-color="#38c896"/><stop offset="0.857" stop-color="#26c2ad"/><stop offset="0.929" stop-color="#0ebebb"/><stop offset="1" stop-color="#03b7cb"/></linearGradient>
<linearGradient id="c43"><stop offset="0" stop-color="#f7f41c"/><stop offset="0.071" stop-color="#f8f818"/><stop offset="0.143" stop-color="#f9fb15"/><stop offset="0.214" stop-color="#f9fa16"/><stop offset="0.286" stop-color="#f6f01f"/><stop offset="0.357" stop-color="#fad52e"/><stop offset="0.429" stop-color="#fbbc3d"/><stop offset="0.5" stop-color="#f1ba37"/><stop offset="0.571" stop-color="#dbbd29"/><stop offset="0.643" stop-color="#adc638"/><stop offset="0.714" stop-color="#70cd65"/><stop offset="0.786" stop-color="#38c896"/><stop offset="0.857" stop-color="#24c1ae"/><stop offset="0.929" stop-color="#0bbdbc"/><stop offset="1" stop-color="#03b7cc"/></linearGradient>
<linearGradient id="c44"><stop offset="0" stop-color="#f7f41c"/><stop offset="0.071" stop-color="#f8f719"/><stop offset="0.143" stop-color="#f9fa15"/><stop offset="0.214" stop-color="#f8f917"/><stop offset="0.286" stop-color="#f5ef20"/><stop offset="0.357" stop-color="#fbd22f"/><stop offset="0.429" stop-color="#fcbc3d"/><stop offset="0.5" stop-color="#f3ba38"/><stop offset="0.571" stop-color="#dfbc2a"/><stop offset="0.643" stop-color="#b3c534"/><stop offset="0.714" stop-color="#74cc62"/><stop offset="0.786" stop-color="#37c897"/><stop offset="0.857" stop-color="#22c1b0"/><stop offset="0.929" stop-color="#09bdbe"/><stop offset="1" stop-color="#04b6cd"/></linearGradient>
<linearGradient id="c45"><stop offset="0" stop-color="#f7f31d"/><stop offset="0.071" stop-color="#f8f719"/><stop offset="0.143" stop-color="#f9fa16"/><stop offset="0.214" stop-color="#f8f719"/><stop offset="0.286" stop-color="#f5ec22"/><stop offset="0.357" stop-color="#fccf30"/><stop offset="0.429" stop-color="#fcbd3d"/><stop offset="0.5" stop-color="#f5ba3a"/><stop offset="0.571" stop-color="#e3bb2c"/><stop offset="0.643" stop-color="#b9c431"/><stop offset="0.714" stop-color="#7acc5e"/><stop offset="0.786" stop-color="#37c897"/><stop offset="0.857" stop-color="#20c1b1"/><stop offset="0.929" stop-color="#07bcbf"/><stop offset="1" stop-color="#05b6cd"/></linearGradient>
<linearGradient id="c46"><stop offset="0" stop-color="#f6f21e"/><stop offset="0.071" stop-color="#f7f61a"/><stop offset="0.143" stop-color="#f8f917"/><stop offset="0.214" stop-color="#f7f51b"/><stop offset="0.286" stop-color="#f5e825"/><stop offset="0.357" stop-color="#fdcd32"/><stop offset="0.429" stop-color="#fdbd3d"/><stop offset="0.5" stop-color="#f7ba3c"/><stop offset="0.571" stop-color="#e8bb2e"/><stop offset="0.643" stop-color="#c0c32d"/><stop offset="0.714" stop-color="#7fcc5a"/><stop offset="0.786" stop-color="#37c897"/><stop offset="0.857" stop-color="#1ec0b2"/><stop offset="0.929" stop-color="#06bcc0"/><stop offset="1" stop-color="#05b6ce"/></linearGradient>
<linearGradient id="c47"><stop offset="0" stop-color="#f6f11e"/><stop offset="0.071" stop-color="#f7f51b"/><stop offset="0.143" stop-color="#f8f818"/><stop offset="0.214" stop-color="#f6f31d"/><stop offset="0.286" stop-color="#f5e327"/><stop offset="0.357" stop-color="#fdcb33"/><stop offset="0.429" stop-color="#fdbd3d"/><stop offset="0.5" stop-color="#f8ba3d"/><stop offset="0.571" stop-color="#ebba32"/><stop offset="0.643" stop-color="#c7c12a"/><stop offset="0.714" stop-color="#84cb56"/><stop offset="0.786" stop-color="#37c897"/><stop offset="0.857" stop-color="#1cc0b3"/><stop offset="0.929" stop-color="#04bbc2"/><stop offset="1" stop-color="#06b5ce"/></linearGradient>
<linearGradient id="c48"><stop offset="0" stop-color="#f6f01f"/><stop offset="0.071" stop-color="#f7f31d"/><stop offset="0.143" stop-color="#f8f61a"/><stop offset="0.214" stop-color="#f6f020"/><stop offset="0.286" stop-color="#f6de29"/><stop offset="0.357" stop-color="#fec934"/><stop offset="0.429" stop-color="#fdbd3d"/><stop offset="0.5" stop-color="#f9bb3d"/><stop offset="0.571" stop-color="#efba35"/><stop offset="0.643" stop-color="#cdc028"/><stop offset="0.714" stop-color="#89cb52"/><stop offset="0.786" stop-color="#38c895"/><stop offset="0.857" stop-color="#1bc0b4"/><stop offset="0.929" stop-color="#03bbc3"/><stop offset="1" stop-color="#06b5cf"/></linearGradient>
<linearGradient id="c49"><stop offset="0" stop-color="#f6ef20"/><stop offset="0.071" stop-color="#f6f21e"/><stop offset="0.143" stop-color="#f7f51b"/><stop offset="0.214" stop-color="#f5ed22"/><stop offset="0.286" stop-color="#f9d82c"/><stop offset="0.357" stop-color="#fec736"/><stop offset="0.429" stop-color="#fdbd3d"/><stop offset="0.5" stop-color="#f9bb3d"/><stop offset="0.571" stop-color="#f2ba38"/><stop offset="0.643" stop-color="#d2bf27"/><stop offset="0.714" stop-color="#8dcb4f"/><stop offset="0.786" stop-color="#3bc993"/><stop offset="0.857" stop-color="#1ac0b4"/><stop offset="0.929" stop-color="#02bac4"/><stop offset="1" stop-color="#07b5cf"/></linearGradient>
<linearGradient id="c50"><stop offset="0" stop-color="#f5ee21"/><stop offset="0.071" stop-color="#f6f11f"/><stop offset="0.143" stop-color="#f7f31d"/><stop offset="0.214" stop-color="#f5e924"/><stop offset="0.286" stop-color="#fbd32e"/><stop offset="0.357" stop-color="#fec537"/><stop offset="0.429" stop-color="#fdbd3d"/><stop offset="0.5" stop-color="#fabb3d"/><stop offset="0.571" stop-color="#f5ba3a"/><stop offset="0.643" stop-color="#d6be28"/><stop offset="0.714" stop-color="#92ca4c"/><stop offset="0.786" stop-color="#3dc990"/><stop offset="0.857" stop-color="#1ac0b5"/><stop offset="0.929" stop-color="#02bac4"/><stop offset="1" stop-color="#07b5d0"/></linearGradient>
<linearGradient id="c51"><stop offset="0" stop-color="#f5ed21"/><stop offset="0.071" stop-color="#f6ef20"/><stop offset="0.143" stop-color="#f6f11f"/><stop offset="0.214" stop-color="#f5e626"/><stop offset="0.286" stop-color="#fdce31"/><stop offset="0.357" stop-color="#fec338"/><stop offset="0.429" stop-color="#fdbd3d"/><stop offset="0.5" stop-color="#fabc3d"/><stop offset="0.571" stop-color="#f7ba3c"/><stop offset="0.643" stop-color="#dabd28"/><stop offset="0.714" stop-color="#96ca48"/><stop offset="0.786" stop-color="#40ca8d"/><stop offset="0.857" stop-color="#1ac0b4"/><stop offset="0.929" stop-color="#01bac5"/><stop offset="1" stop-color="#08b4d1"/></linearGradient>
<linearGradient id="c52"><stop offset="0" stop-color="#f5ec22"/><stop offset="0.071" stop-color="#f5ee21"/><stop offset="0.143" stop-color="#f5ef21"/><stop offset="0.214" stop-color="#f5e128"/><stop offset="0.286" stop-color="#fdcb33"/><stop offset="0.357" stop-color="#fec239"/><stop offset="0.429" stop-color="#fdbd3d"/><stop offset="0.5" stop-color="#fbbc3d"/><stop offset="0.571" stop-color="#f7ba3c"/><stop offset="0.643" stop-color="#ddbd29"/><stop offset="0.714" stop-color="#9bc945"/><stop offset="0.786" stop-color="#43ca8b"/><stop offset="0.857" stop-color="#1bc0b4"/><stop offset="0.929" stop-color="#01b9c6"/><stop offset="1" stop-color="#0ab4d2"/></linearGradient>
<linearGradient id="c53"><stop offset="0" stop-color="#f5eb23"/><stop offset="0.071" stop-color="#f5ec22"/><stop offset="0.143" stop-color="#f5ec22"/><stop offset="0.214" stop-color="#f6de29"/><stop offset="0.286" stop-color="#fec934"/><stop offset="0.357" stop-color="#fec13a"/><stop offset="0.429" stop-color="#fdbd3d"/><stop offset="0.5" stop-color="#fbbc3d"/><stop offset="0.571" stop-color="#f8ba3d"/><stop offset="0.643" stop-color="#dfbc2a"/><stop offset="0.714" stop-color="#9ec942"/><stop offset="0.786" stop-color="#46cb88"/><stop offset="0.857" stop-color="#1bc0b4"/><stop offset="0.929" stop-color="#01b9c7"/><stop offset="1" stop-color="#0db3d3"/></linearGradient>
<linearGradient id="c54"><stop offset="0" stop-color="#f5ea23"/><stop offset="0.071" stop-color="#f5ec22"/><stop offset="0.143" stop-color="#f5eb23"/><stop offset="0.214" stop-color="#f7db2b"/><stop offset="0.286" stop-color="#fec835"/><stop offset="0.357" stop-color="#fec03a"/><stop offset="0.429" stop-color="#fdbd3d"/><stop offset="0.5" stop-color="#fbbc3d"/><stop offset="0.571" stop-color="#f8ba3d"/><stop offset="0.643" stop-color="#e1bc2b"/><stop offset="0.714" stop-color="#a1c840"/><stop offset="0.786" stop-color="#49cb86"/><stop offset="0.857" stop-color="#1dc0b3"/><stop offset="0.929" stop-color="#01b9c7"/><stop offset="1" stop-color="#10b2d5"/></linearGradient>
<linearGradient id="c55"><stop offset="0" stop-color="#f5e924"/><stop offset="0.071" stop-color="#f5eb23"/><stop offset="0.143" stop-color="#f5ea24"/><stop offset="0.214" stop-color="#f8d92c"/><stop offset="0.286" stop-color="#fec735"/><stop offset="0.357" stop-color="#fec03b"/><stop offset="0.429" stop-color="#fdbd3d"/><stop offset="0.5" stop-color="#fbbc3d"/><stop offset="0.571" stop-color="#f8ba3d"/><stop offset="0.643" stop-color="#e2bc2b"/><stop offset="0.714" stop-color="#a3c83f"/><stop offset="0.786" stop-color="#4bcb84"/><stop offset="0.857" stop-color="#1fc0b2"/><stop offset="0.929" stop-color="#01b8c8"/><stop offset="1" stop-color="#12b1d7"/></linearGradient>
<linearGradient id="c56"><stop offset="0" stop-color="#f5e825"/><stop offset="0.071" stop-color="#f5eb23"/><stop offset="0.143" stop-color="#f5e924"/><stop offset="0.214" stop-color="#f9d72c"/><stop offset="0.286" stop-color="#fec736"/><stop offset="0.357" stop-color="#fec03b"/><stop offset="0.429" stop-color="#fdbd3d"/><stop offset="0.5" stop-color="#fbbc3d"/><stop offset="0.571" stop-color="#f8ba3d"/><stop offset="0.643" stop-color="#e3bc2c"/><stop offset="0.714" stop-color="#a5c83d"/><stop offset="0.786" stop-color="#4ccb82"/><stop offset="0.857" stop-color="#20c1b1"/><stop offset="0.929" stop-color="#01b8c9"/><stop offset="1" stop-color="#14b0d8"/></linearGradient>
<linearGradient id="c57"><stop offset="0" stop-color="#f5e725"/><stop offset="0.071" stop-color="#f5eb23"/><stop offset="0.143" stop-color="#f5e825"/><stop offset="0.214" stop-color="#fad62d"/><stop offset="0.286" stop-color="#fec636"/><stop offset="0.357" stop-color="#fec03b"/><stop offset="0.429" stop-color="#fdbd3d"/><stop offset="0.5" stop-color="#fbbc3d"/><stop offset="0.571" stop-color="#f8ba3d"/><stop offset="0.643" stop-color="#e4bb2c"/><stop offset="0.714" stop-color="#a6c83d"/><stop offset="0.786" stop-color="#4dcc82"/><stop offset="0.857" stop-color="#21c1b0"/><stop offset="0.929" stop-color="#01b8ca"/><stop offset="1" stop-color="#16aeda"/></linearGradient>
<linearGradient id="c58"><stop offset="0" stop-color="#f5e626"/><stop offset="0.071" stop-color="#f5eb23"/><stop offset="0.143" stop-color="#f5e825"/><stop offset="0.214" stop-color="#fad42e"/><stop offset="0.286" stop-color="#fec636"/><stop offset="0.357" stop-color="#fec03b"/><stop offset="0.429" stop-color="#fdbd3d"/><stop offset="0.5" stop-color="#fbbc3d"/><stop offset="0.571" stop-color="#f8ba3d"/><stop offset="0.643" stop-color="#e3bb2c"/><stop offset="0.714" stop-color="#a7c73c"/><stop offset="0.786" stop-color="#4dcc82"/><stop offset="0.857" stop-color="#21c1b0"/><stop offset="0.929" stop-color="#02b7cb"/><stop offset="1" stop-color="#18addb"/></linearGradient>
<linearGradient id="c59"><stop offset="0" stop-color="#f5e526"/><stop offset="0.071" stop-color="#f5eb23"/><stop offset="0.143" stop-color="#f5e725"/><stop offset="0.214" stop-color="#fbd22f"/><stop offset="0.286" stop-color="#fec636"/><stop offset="0.357" stop-color="#fec03b"/><stop offset="0.429" stop-color="#fdbd3d"/><stop offset="0.5" stop-color="#fbbc3d"/><stop offset="0.571" stop-color="#f8ba3d"/><stop offset="0.643" stop-color="#e3bc2c"/><stop offset="0.714" stop-color="#a7c73c"/><stop offset="0.786" stop-color="#4ccb83"/><stop offset="0.857" stop-color="#21c1b1"/><stop offset="0.929" stop-color="#03b7cc"/><stop offset="1" stop-color="#1aacdd"/></linearGradient>
<linearGradient id="c60"><stop offset="0" stop-color="#f5e327"/><stop offset="0.071" stop-color="#f5e924"/><stop offset="0.143" stop-color="#f5e526"/><stop offset="0.214" stop-color="#fcd130"/><stop offset="0.286" stop-color="#fec537"/><stop offset="0.357" stop-color="#fec03b"/><stop offset="0.429" stop-color="#fdbd3d"/><stop offset="0.5" stop-color="#fabc3d"/><stop offset="0.571" stop-color="#f7ba3c"/><stop offset="0.643" stop-color="#e1bc2b"/><stop offset="0.714" stop-color="#a5c83d"/><stop offset="0.786" stop-color="#4acb85"/><stop offset="0.857" stop-color="#1fc0b2"/><stop offset="0.929" stop-color="#04b6cd"/><stop offset="1" stop-color="#1babde"/></linearGradient>
<linearGradient id="c61"><stop offset="0" stop-color="#f5e128"/><stop offset="0.071" stop-color="#f5e725"/><stop offset="0.143" stop-color="#f5e327"/><stop offset="0.214" stop-color="#fccf30"/><stop offset="0.286" stop-color="#fec537"/><stop offset="0.357" stop-color="#fec03b"/><stop offset="0.429" stop-color="#fdbd3d"/><stop offset="0.5" stop-color="#fabb3d"/><stop offset="0.571" stop-color="#f6ba3c"/><stop offset="0.643" stop-color="#dfbc2a"/><stop offset="0.714" stop-color="#a3c83e"/><stop offset="0.786" stop-color="#47cb87"/><stop offset="0.857" stop-color="#1dc0b3"/><stop offset="0.929" stop-color="#05b6ce"/><stop offset="1" stop-color="#1ca9df"/></linearGradient>
<linearGradient id="c62"><stop offset="0" stop-color="#f6e029"/><stop offset="0.071" stop-color="#f5e526"/><stop offset="0.143" stop-color="#f6df29"/><stop offset="0.214" stop-color="#fdcd31"/><stop offset="0.286" stop-color="#fec437"/><stop offset="0.357" stop-color="#fec03b"/><stop offset="0.429" stop-color="#fdbd3d"/><stop offset="0.5" stop-color="#fabb3d"/><stop offset="0.571" stop-color="#f4ba3a"/><stop offset="0.643" stop-color="#dcbd29"/><stop offset="0.714" stop-color="#a1c840"/><stop offset="0.786" stop-color="#44cb8a"/><stop offset="0.857" stop-color="#1ac0b5"/><stop offset="0.929" stop-color="#07b5cf"/><stop offset="1" stop-color="#1da8e0"/></linearGradient>
<linearGradient id="c63"><stop offset="0" stop-color="#f6de29"/><stop offset="0.071" stop-color="#f5e228"/><stop offset="0.143" stop-color="#f7dc2a"/><stop offset="0.214" stop-color="#fdcc32"/><stop offset="0.286" stop-color="#fec438"/><stop offset="0.357" stop-color="#febf3b"/><stop offset="0.429" stop-color="#fcbd3d"/><stop offset="0.5" stop-color="#f9bb3d"/><stop offset="0.571" stop-color="#f2ba38"/><stop offset="0.643" stop-color="#d8be28"/><stop offset="0.714" stop-color="#9dc943"/><stop offset="0.786" stop-color="#41ca8c"/><stop offset="0.857" stop-color="#18bfb6"/><stop offset="0.929" stop-color="#08b4d1"/><stop offset="1" stop-color="#1ea7e1"/></linearGradient>
<clipPath id="cc"><rect x="1432.8" y="503.8" width="215.8" height="256.4"/></clipPath>
<filter id="cf" x="-5%" y="-5%" width="110%" height="110%" color-interpolation-filters="sRGB"><feGaussianBlur stdDeviation="0 2.2"/></filter>
</defs>
<g clip-path="url(#cc)"><g filter="url(#cf)">
<rect x="1431.8" y="489.77" width="217.8" height="16.57" fill="url(#c0)"/>
<rect x="1431.8" y="505.83" width="217.8" height="4.57" fill="url(#c1)"/>
<rect x="1431.8" y="509.90" width="217.8" height="4.57" fill="url(#c2)"/>
<rect x="1431.8" y="513.97" width="217.8" height="4.57" fill="url(#c3)"/>
<rect x="1431.8" y="518.04" width="217.8" height="4.57" fill="url(#c4)"/>
<rect x="1431.8" y="522.11" width="217.8" height="4.57" fill="url(#c5)"/>
<rect x="1431.8" y="526.18" width="217.8" height="4.57" fill="url(#c6)"/>
<rect x="1431.8" y="530.25" width="217.8" height="4.57" fill="url(#c7)"/>
<rect x="1431.8" y="534.32" width="217.8" height="4.57" fill="url(#c8)"/>
<rect x="1431.8" y="538.39" width="217.8" height="4.57" fill="url(#c9)"/>
<rect x="1431.8" y="542.46" width="217.8" height="4.57" fill="url(#c10)"/>
<rect x="1431.8" y="546.53" width="217.8" height="4.57" fill="url(#c11)"/>
<rect x="1431.8" y="550.60" width="217.8" height="4.57" fill="url(#c12)"/>
<rect x="1431.8" y="554.67" width="217.8" height="4.57" fill="url(#c13)"/>
<rect x="1431.8" y="558.74" width="217.8" height="4.57" fill="url(#c14)"/>
<rect x="1431.8" y="562.81" width="217.8" height="4.57" fill="url(#c15)"/>
<rect x="1431.8" y="566.88" width="217.8" height="4.57" fill="url(#c16)"/>
<rect x="1431.8" y="570.95" width="217.8" height="4.57" fill="url(#c17)"/>
<rect x="1431.8" y="575.02" width="217.8" height="4.57" fill="url(#c18)"/>
<rect x="1431.8" y="579.09" width="217.8" height="4.57" fill="url(#c19)"/>
<rect x="1431.8" y="583.16" width="217.8" height="4.57" fill="url(#c20)"/>
<rect x="1431.8" y="587.23" width="217.8" height="4.57" fill="url(#c21)"/>
<rect x="1431.8" y="591.30" width="217.8" height="4.57" fill="url(#c22)"/>
<rect x="1431.8" y="595.37" width="217.8" height="4.57" fill="url(#c23)"/>
<rect x="1431.8" y="599.44" width="217.8" height="4.57" fill="url(#c24)"/>
<rect x="1431.8" y="603.51" width="217.8" height="4.57" fill="url(#c25)"/>
<rect x="1431.8" y="607.58" width="217.8" height="4.57" fill="url(#c26)"/>
<rect x="1431.8" y="611.65" width="217.8" height="4.57" fill="url(#c27)"/>
<rect x="1431.8" y="615.72" width="217.8" height="4.57" fill="url(#c28)"/>
<rect x="1431.8" y="619.79" width="217.8" height="4.57" fill="url(#c29)"/>
<rect x="1431.8" y="623.86" width="217.8" height="4.57" fill="url(#c30)"/>
<rect x="1431.8" y="627.93" width="217.8" height="4.57" fill="url(#c31)"/>
<rect x="1431.8" y="632.00" width="217.8" height="4.57" fill="url(#c32)"/>
<rect x="1431.8" y="636.07" width="217.8" height="4.57" fill="url(#c33)"/>
<rect x="1431.8" y="640.14" width="217.8" height="4.57" fill="url(#c34)"/>
<rect x="1431.8" y="644.21" width="217.8" height="4.57" fill="url(#c35)"/>
<rect x="1431.8" y="648.28" width="217.8" height="4.57" fill="url(#c36)"/>
<rect x="1431.8" y="652.35" width="217.8" height="4.57" fill="url(#c37)"/>
<rect x="1431.8" y="656.42" width="217.8" height="4.57" fill="url(#c38)"/>
<rect x="1431.8" y="660.49" width="217.8" height="4.57" fill="url(#c39)"/>
<rect x="1431.8" y="664.56" width="217.8" height="4.57" fill="url(#c40)"/>
<rect x="1431.8" y="668.63" width="217.8" height="4.57" fill="url(#c41)"/>
<rect x="1431.8" y="672.70" width="217.8" height="4.57" fill="url(#c42)"/>
<rect x="1431.8" y="676.77" width="217.8" height="4.57" fill="url(#c43)"/>
<rect x="1431.8" y="680.84" width="217.8" height="4.57" fill="url(#c44)"/>
<rect x="1431.8" y="684.91" width="217.8" height="4.57" fill="url(#c45)"/>
<rect x="1431.8" y="688.98" width="217.8" height="4.57" fill="url(#c46)"/>
<rect x="1431.8" y="693.05" width="217.8" height="4.57" fill="url(#c47)"/>
<rect x="1431.8" y="697.12" width="217.8" height="4.57" fill="url(#c48)"/>
<rect x="1431.8" y="701.19" width="217.8" height="4.57" fill="url(#c49)"/>
<rect x="1431.8" y="705.26" width="217.8" height="4.57" fill="url(#c50)"/>
<rect x="1431.8" y="709.33" width="217.8" height="4.57" fill="url(#c51)"/>
<rect x="1431.8" y="713.40" width="217.8" height="4.57" fill="url(#c52)"/>
<rect x="1431.8" y="717.47" width="217.8" height="4.57" fill="url(#c53)"/>
<rect x="1431.8" y="721.54" width="217.8" height="4.57" fill="url(#c54)"/>
<rect x="1431.8" y="725.61" width="217.8" height="4.57" fill="url(#c55)"/>
<rect x="1431.8" y="729.68" width="217.8" height="4.57" fill="url(#c56)"/>
<rect x="1431.8" y="733.75" width="217.8" height="4.57" fill="url(#c57)"/>
<rect x="1431.8" y="737.82" width="217.8" height="4.57" fill="url(#c58)"/>
<rect x="1431.8" y="741.89" width="217.8" height="4.57" fill="url(#c59)"/>
<rect x="1431.8" y="745.96" width="217.8" height="4.57" fill="url(#c60)"/>
<rect x="1431.8" y="750.03" width="217.8" height="4.57" fill="url(#c61)"/>
<rect x="1431.8" y="754.10" width="217.8" height="4.57" fill="url(#c62)"/>
<rect x="1431.8" y="758.17" width="217.8" height="16.57" fill="url(#c63)"/>
</g></g>
<g stroke="#3a1c00" stroke-opacity="0.32" stroke-width="0.8"><polyline points="1584,503.8 1591.6,508.7 1599.7,513.4 1607.9,517.5 1616,520.7 1624.2,524.2 1634.4,528.2 1643.8,532.3 1648.6,534.1" fill="none"/><polyline points="1541.9,503.8 1546.8,508.6 1554.4,516 1561.2,520.1 1570.2,524.1 1577.5,528.2 1585,532.3 1593.2,536.4 1602.3,540.4 1612,544.2 1620.1,547.2 1628.2,551 1636.4,554.5 1644.5,557.4 1648.6,559" fill="none"/><polyline points="1478.6,503.8 1489.1,507.9 1497.2,511.9 1505,516 1514.2,520 1522.3,524.1 1528.1,528.2 1534.6,534.2 1540.6,540.4 1546.8,546.1 1555,550.7 1563.1,553.9 1574.6,556.7 1583.5,559.2 1591.6,563.6 1598.3,568.9 1603.8,573.7 1612,579.7 1620.1,585.2 1625.9,589.3 1632.3,594.4 1639,601.5 1643.4,609.6 1645.1,617.8 1644.1,625.9 1641.4,638.1 1640.3,646.2 1636.5,658.5 1632.4,666.6 1628.9,674.7 1625.4,682.9 1622.2,691 1620.1,699.2 1619.3,711.4 1619.9,723.6 1620.8,731.7 1620.9,743.9 1619.6,752.1 1618.2,760.2" fill="none"/><polyline points="1432.8,529.3 1445,530.4 1457.2,530.3 1469.4,531.5 1477.6,533.5 1488.9,536.4 1497.9,540.4 1505.6,544.5 1511.6,548.6 1518.3,554.5 1525.8,560.8 1531.2,564.8 1538.7,572.9 1542.7,577.1 1550.9,583.6 1558.8,589.3 1563.5,593.3 1570.2,601.5 1573.7,609.6 1575.3,617.8 1575.2,625.9 1572.1,638.1 1568.6,646.2 1568.8,658.5 1571.2,669.1 1574.9,678.8 1578.3,686.9 1581.2,695.1 1583.5,704.6 1585.6,715.4 1587.2,727.6 1587.8,735.8 1587.7,748 1586.7,756.1 1585.9,760.2" fill="none"/><polyline points="1432.8,561.6 1445,562.1 1457.2,562.2 1469.4,563.4 1477.6,565.4 1485.7,569 1493.9,573.1 1501.8,581.1 1506.1,586.1 1511.1,593.3 1514.9,601.5 1517.5,613.7 1518.5,621.8 1519.4,634 1518.5,646.2 1516.7,654.4 1514.2,665.8 1511.7,674.7 1509.4,682.9 1506.1,691.4 1501.9,699.2 1494.5,707.3 1489.8,711.5 1485.1,719.5 1482.1,731.7 1480,739.9 1477.1,748 1473.2,756.1 1471.7,760.2" fill="none"/></g>
<path d="M1432.8,503.8 V760.2 H1648.6" fill="none" stroke="#1a1a1a" stroke-width="1.3"/>
<path d="M1432.8,503.8 H1648.6 V760.2" fill="none" stroke="#1a1a1a" stroke-opacity="0.45" stroke-width="1"/>
<defs><linearGradient id="cb3" x1="0" y1="0" x2="0" y2="1"><stop offset="0%" stop-color="#f9fb15"/><stop offset="4.3%" stop-color="#f5eb23"/><stop offset="8.7%" stop-color="#f8da2b"/><stop offset="13%" stop-color="#feca34"/><stop offset="17.4%" stop-color="#fdbd3d"/><stop offset="21.7%" stop-color="#eabb30"/><stop offset="26.1%" stop-color="#c2c22c"/><stop offset="30.4%" stop-color="#9bc945"/><stop offset="34.8%" stop-color="#73cd63"/><stop offset="39.1%" stop-color="#4fcc81"/><stop offset="43.5%" stop-color="#35c79a"/><stop offset="47.8%" stop-color="#22c1af"/><stop offset="52.2%" stop-color="#03bbc2"/><stop offset="56.5%" stop-color="#0eb3d4"/><stop offset="60.9%" stop-color="#1ea8e1"/><stop offset="65.2%" stop-color="#259be8"/><stop offset="69.6%" stop-color="#2d8df2"/><stop offset="73.9%" stop-color="#317efb"/><stop offset="78.3%" stop-color="#3f6dfe"/><stop offset="82.6%" stop-color="#465dfb"/><stop offset="87%" stop-color="#484ef1"/><stop offset="91.3%" stop-color="#473ee2"/><stop offset="95.7%" stop-color="#4331c8"/><stop offset="100%" stop-color="#3e26a8"/></linearGradient></defs><rect x="1406.6" y="503" width="12.6" height="258.2" fill="url(#cb3)"/><g font-size="14.6" fill="#404040" text-anchor="end"><text x="1402.4" y="511.6">0</text><text x="1402.4" y="565.3">-0.1</text><text x="1402.4" y="619">-0.2</text><text x="1402.4" y="672.7">-0.3</text><text x="1402.4" y="726.4">-0.4</text></g>
<polyline points="1559.3,570.8 1516.4,645.2 1576.5,724.6" fill="none" stroke="#151a10" stroke-width="1.05" stroke-linejoin="miter"/>
<line x1="1586.2" y1="518.1" x2="1457" y2="657.8" stroke="#e0392b" stroke-width="2.25"/>
<line x1="1586.2" y1="518.1" x2="1471.2" y2="674.3" stroke="#e0392b" stroke-width="2.25"/>
<line x1="1586.2" y1="518.1" x2="1495" y2="628" stroke="#e0392b" stroke-width="2.25"/>
<g stroke="#f4866f" stroke-width="1.1"><line x1="1471.7" y1="632.6" x2="1499.6" y2="630.9"/><line x1="1530.9" y1="693.5" x2="1522.7" y2="734.3"/><line x1="1620.4" y1="670" x2="1610" y2="694.3"/></g>
<circle cx="1499.6" cy="630.9" r="11.8" fill="#fff"/><text x="1499.6" y="635.2" font-size="12" font-weight="bold" fill="#111" text-anchor="middle" textLength="22.4" lengthAdjust="spacingAndGlyphs">REF</text>
<circle cx="1499.6" cy="666" r="12.3" fill="#fff"/><text x="1499.6" y="670.3" font-size="12" font-weight="bold" fill="#111" text-anchor="middle" textLength="27.4" lengthAdjust="spacingAndGlyphs">GND</text>
<circle cx="1586.2" cy="518.1" r="10.2" fill="#e0262c" stroke="#fff" stroke-width="2.1"/><text x="1586.2" y="522.3" font-size="11.8" font-weight="bold" fill="#fff" text-anchor="middle" textLength="6.9" lengthAdjust="spacingAndGlyphs">3</text>
<circle cx="1471.7" cy="632.6" r="8.5" fill="#f4866f" stroke="#fff" stroke-width="2.1"/><text x="1471.7" y="636.8" font-size="11.8" font-weight="bold" fill="#fff" text-anchor="middle" textLength="13.8" lengthAdjust="spacingAndGlyphs">17</text>
<circle cx="1457" cy="657.8" r="9" fill="#e0262c" stroke="#fff" stroke-width="2.1"/><text x="1457" y="662" font-size="11.8" font-weight="bold" fill="#fff" text-anchor="middle" textLength="13.8" lengthAdjust="spacingAndGlyphs">19</text>
<circle cx="1471.2" cy="674.3" r="9" fill="#e0262c" stroke="#fff" stroke-width="2.1"/><text x="1471.2" y="678.5" font-size="11.8" font-weight="bold" fill="#fff" text-anchor="middle" textLength="13.8" lengthAdjust="spacingAndGlyphs">22</text>
<circle cx="1530.9" cy="693.5" r="10.1" fill="#f4866f" stroke="#fff" stroke-width="2.1"/><text x="1530.9" y="697.7" font-size="11.8" font-weight="bold" fill="#fff" text-anchor="middle" textLength="13.8" lengthAdjust="spacingAndGlyphs">25</text>
<circle cx="1522.7" cy="734.3" r="10.1" fill="#f4866f" stroke="#fff" stroke-width="2.1"/><text x="1522.7" y="738.5" font-size="11.8" font-weight="bold" fill="#fff" text-anchor="middle" textLength="13.8" lengthAdjust="spacingAndGlyphs">30</text>
<circle cx="1620.4" cy="670" r="10.1" fill="#f4866f" stroke="#fff" stroke-width="2.1"/><text x="1620.4" y="674.2" font-size="11.8" font-weight="bold" fill="#fff" text-anchor="middle" textLength="13.8" lengthAdjust="spacingAndGlyphs">23</text>
<circle cx="1610" cy="694.3" r="10.1" fill="#f4866f" stroke="#fff" stroke-width="2.1"/><text x="1610" y="698.5" font-size="11.8" font-weight="bold" fill="#fff" text-anchor="middle" textLength="13.8" lengthAdjust="spacingAndGlyphs">26</text>
<g font-weight="bold" fill="#000">
<text x="821.6" y="483.8" font-size="32.5" textLength="155.6" lengthAdjust="spacingAndGlyphs">Target (31)</text>
<text x="1127.6" y="483.8" font-size="32.5" textLength="137.4" lengthAdjust="spacingAndGlyphs">Standard</text>
<text x="1455.6" y="483.8" font-size="32.5" textLength="177" lengthAdjust="spacingAndGlyphs">Target (496)</text>
<text y="786.6" font-size="17.6" fill="#111"><tspan x="802.1" textLength="9" lengthAdjust="spacingAndGlyphs">3</tspan> <tspan x="818.2" textLength="94.2" lengthAdjust="spacingAndGlyphs">best/worst</tspan> <tspan x="918.3" textLength="77" lengthAdjust="spacingAndGlyphs">channels</tspan></text>
<text y="786.2" font-size="17.6" fill="#111"><tspan x="1446.7" textLength="9" lengthAdjust="spacingAndGlyphs">3</tspan> <tspan x="1462.8" textLength="94.2" lengthAdjust="spacingAndGlyphs">best/worst</tspan> <tspan x="1562.9" textLength="77" lengthAdjust="spacingAndGlyphs">channels</tspan></text>
</g>
</svg>
</body></html>
